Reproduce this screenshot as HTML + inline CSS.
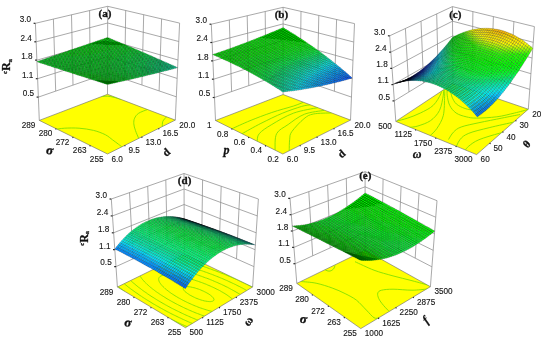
<!DOCTYPE html>
<html><head><meta charset="utf-8"><style>
html,body{margin:0;padding:0;background:#fff;}
svg{display:block}
.g{stroke:#8c8c8c;stroke-width:.75;fill:none}
.k{stroke:#2a2a2a;stroke-width:1.2;fill:none}
.fl{fill:#ffff00;stroke:#666;stroke-width:.6}
.ct{stroke:#80e000;stroke-width:.9;fill:none}
.t{font-family:"Liberation Sans",Arial,sans-serif;font-size:8.2px;fill:#151515;stroke:#151515;stroke-width:.12px}
.ti{font-family:"Liberation Serif","Times New Roman",serif;font-weight:bold;fill:#111;stroke:#111;stroke-width:.3px}
.sf{stroke:#000;stroke-opacity:1;stroke-linejoin:round}
</style></head><body>
<svg width="550" height="342" viewBox="0 0 550 342">
<rect width="550" height="342" fill="#fff"/>
<g>
<path class="g" d="M38.4 97.1L107.5 73.2"/>
<path class="g" d="M107.5 73.2L176.3 96.8"/>
<path class="g" d="M37.6 78.7L107.6 56.5"/>
<path class="g" d="M107.6 56.5L177.1 78.4"/>
<path class="g" d="M36.9 60.2L107.6 39.7"/>
<path class="g" d="M107.6 39.7L178 60"/>
<path class="g" d="M36.1 41.8L107.7 23"/>
<path class="g" d="M107.7 23L178.8 41.5"/>
<path class="g" d="M35.4 23.3L107.7 6.3"/>
<path class="g" d="M107.7 6.3L179.6 23.1"/>
<path class="g" d="M55.7 91.1L53.4 19.1"/>
<path class="g" d="M159.1 90.9L161.6 18.9"/>
<path class="g" d="M73 85.1L71.5 14.8"/>
<path class="g" d="M141.9 85L143.7 14.7"/>
<path class="g" d="M90.2 79.2L89.6 10.6"/>
<path class="g" d="M124.7 79.1L125.7 10.5"/>
<path class="g" d="M39.3 120.4L35.4 23.3"/>
<path class="g" d="M107.5 94.3L107.7 6.3"/>
<path class="g" d="M175.3 120.1L179.6 23.1"/>
<path class="k" d="M38.4 97.1L36.6 97.1"/>
<path class="k" d="M37.6 78.7L35.8 78.7"/>
<path class="k" d="M36.9 60.2L35.1 60.2"/>
<path class="k" d="M36.1 41.8L34.3 41.8"/>
<path class="k" d="M35.4 23.3L33.6 23.3"/>
<path class="fl" d="M39.3 120.4L107.5 94.3L175.3 120.1L107.5 154Z"/>
<clipPath id="fa"><path class="" d="M39.3 120.4L107.5 94.3L175.3 120.1L107.5 154Z"/></clipPath>
<g clip-path="url(#fa)"><path class="ct" d="M55 129.5C56.6 129.3 60.5 128.4 64.5 128.2C68.5 128 74.2 127.8 79.1 128.2C83.9 128.6 89.2 129.3 93.6 130.4C98 131.5 102.1 133.1 105.3 134.7C108.5 136.3 110.3 138.2 112.5 139.8C114.7 141.4 116.8 143 118.4 144.2C120 145.4 121.4 146.4 122 146.8M147.5 109.5C146 110.1 140.8 111.8 138.6 113.3C136.4 114.8 135.4 116.5 134.6 118.2C133.8 120 133.7 121.8 133.8 123.8C133.9 125.8 134.6 127.8 135.4 130.3C136.2 132.8 138.2 137.2 138.8 138.6M166.5 116.8C165.9 117.6 163.5 119.7 162.8 121.4C162.1 123.1 162.4 126.1 162.3 127M101.5 96.6C102.5 96.5 105.4 96.1 107.5 96.2C109.6 96.3 111.8 96.8 114 97.3C116.2 97.8 119.8 99.1 121 99.5"/></g>
<path class="k" d="M90.5 145.6L89.5 146"/>
<path class="k" d="M124.5 145.5L125.4 146"/>
<path class="k" d="M73.4 137.2L72.4 137.6"/>
<path class="k" d="M141.4 137.1L142.4 137.5"/>
<path class="k" d="M56.3 128.8L55.4 129.2"/>
<path class="k" d="M158.4 128.6L159.3 129"/>
<g class="sf" stroke-width="2.2" transform="scale(.1)"><path fill="#0f0" d="M1076 388l18-6-18-7-17 6zM1094 395l17-5-17-8-18 6zM1058 394l18-6-17-7-18 6z"/><path fill="#0f1" d="M1111 403l18-6-18-7-17 5z"/><path fill="#0f0" d="M1076 401l18-6-18-7-18 6zM1041 400l17-6-17-7-18 6z"/><path fill="#0f1" d="M1129 410l18-6-18-7-18 6zM1094 409l17-6-17-8-18 6z"/><path fill="#0f0" d="M1023 406l18-6-18-7-18 6zM1058 407l18-6-18-7-17 6z"/><path fill="#0f1" d="M1147 417l17-5-17-8-18 6zM1111 416l18-6-18-7-17 6z"/><path fill="#0f0" d="M1005 412l18-6-18-7-17 6z"/><path fill="#0f1" d="M1076 415l18-6-18-8-18 6zM1041 413l17-6-17-7-18 6zM1164 425l18-6-18-7-17 5zM1129 423l18-6-18-7-18 6zM988 418l17-6-17-7-18 6zM1094 422l17-6-17-7-18 6zM1023 419l18-6-18-7-18 6zM1058 420l18-5-18-8-17 6zM1182 432l17-6-17-7-18 6zM1146 431l18-6-17-8-18 6zM970 424l18-6-18-7-18 6zM1111 429l18-6-18-7-17 6zM1005 425l18-6-18-7-17 6zM1076 428l18-6-18-7-18 5zM1041 426l17-6-17-7-18 6zM1199 439l18-5-18-8-17 6zM1164 438l18-6-18-7-18 6zM952 430l18-6-18-7-17 6zM1129 436l17-5-17-8-18 6zM988 431l17-6-17-7-18 6zM1093 435l18-6-17-7-18 6zM1023 432l18-6-18-7-18 6zM1058 434l18-6-18-8-17 6zM1217 447l18-6-18-7-18 5zM1182 445l17-6-17-7-18 6zM935 436l17-6-17-7-18 6zM1146 444l18-6-18-7-17 5zM970 437l18-6-18-7-18 6zM1111 442l18-6-18-7-18 6zM1005 438l18-6-18-7-17 6zM1076 441l17-6-17-7-18 6zM1040 439l18-5-17-8-18 6zM1234 454l18-6-17-7-18 6zM1199 452l18-5-18-8-17 6zM917 442l18-6-18-7-18 6zM1164 451l18-6-18-7-18 6zM952 443l18-6-18-7-17 6zM1129 449l17-5-17-8-18 6zM987 444l18-6-17-7-18 6zM1093 448l18-6-18-7-17 6zM1023 445l17-6-17-7-18 6zM1058 447l18-6-18-7-18 5zM1252 462l18-6-18-8-18 6zM1217 460l17-6-17-7-18 5zM899 448l18-6-18-7-18 6zM1181 458l18-6-17-7-18 6zM934 449l18-6-17-7-18 6zM1146 457l18-6-18-7-17 5zM970 450l17-6-17-7-18 6zM1111 455l18-6-18-7-18 6zM1005 451l18-6-18-7-18 6zM1076 454l17-6-17-7-18 6zM1040 452l18-5-18-8-17 6z"/><path fill="#0f2" d="M1270 469l17-6-17-7-18 6z"/><path fill="#0f1" d="M1234 467l18-5-18-8-17 6zM881 454l18-6-18-7-17 6zM1199 465l18-5-18-8-18 6zM917 455l17-6-17-7-18 6zM1164 464l17-6-17-7-18 6zM952 456l18-6-18-7-18 6zM1129 462l17-5-17-8-18 6zM987 457l18-6-18-7-17 6zM1093 461l18-6-18-7-17 6zM1023 458l17-6-17-7-18 6zM1058 460l18-6-18-7-18 5z"/><path fill="#0f2" d="M1287 476l18-5-18-8-17 6zM1252 474l18-5-18-7-18 5z"/><path fill="#0f1" d="M864 460l17-6-17-7-18 6zM1217 473l17-6-17-7-18 5zM899 461l18-6-18-7-18 6zM1181 471l18-6-18-7-17 6zM934 462l18-6-18-7-17 6zM1146 470l18-6-18-7-17 5zM970 463l17-6-17-7-18 6zM1111 468l18-6-18-7-18 6zM1005 464l18-6-18-7-18 6zM1076 467l17-6-17-7-18 6zM1040 465l18-5-18-8-17 6z"/><path fill="#0f2" d="M1305 484l17-6-17-7-18 5zM1269 482l18-6-17-7-18 5z"/><path fill="#0f1" d="M846 466l18-6-18-7-18 6z"/><path fill="#0f2" d="M1234 480l18-6-18-7-17 6z"/><path fill="#0f1" d="M881 467l18-6-18-7-17 6zM1199 478l18-5-18-8-18 6zM917 468l17-6-17-7-18 6zM1164 477l17-6-17-7-18 6zM952 469l18-6-18-7-18 6zM1128 475l18-5-17-8-18 6zM987 470l18-6-18-7-17 6zM1093 474l18-6-18-7-17 6zM1023 471l17-6-17-7-18 6zM1058 472l18-5-18-7-18 5z"/><path fill="#0f2" d="M1322 491l18-5-18-8-17 6zM1287 489l18-5-18-8-18 6z"/><path fill="#0f1" d="M828 472l18-6-18-7-17 6z"/><path fill="#0f2" d="M1252 487l17-5-17-8-18 6z"/><path fill="#0f1" d="M864 473l17-6-17-7-18 6z"/><path fill="#0f2" d="M1217 486l17-6-17-7-18 5z"/><path fill="#0f1" d="M899 474l18-6-18-7-18 6zM1181 484l18-6-18-7-17 6zM934 475l18-6-18-7-17 6zM1146 482l18-5-18-7-18 5zM970 476l17-6-17-7-18 6zM1111 481l17-6-17-7-18 6zM1005 477l18-6-18-7-18 6zM1076 480l17-6-17-7-18 5zM1040 478l18-6-18-7-17 6z"/><path fill="#0f2" d="M1340 499l17-6-17-7-18 5zM1304 497l18-6-17-7-18 5z"/><path fill="#0f1" d="M811 478l17-6-17-7-18 6z"/><path fill="#0f2" d="M1269 495l18-6-18-7-17 5z"/><path fill="#0f1" d="M846 479l18-6-18-7-18 6z"/><path fill="#0f2" d="M1234 493l18-6-18-7-17 6z"/><path fill="#0f1" d="M881 480l18-6-18-7-17 6z"/><path fill="#0f2" d="M1199 491l18-5-18-8-18 6z"/><path fill="#0f1" d="M917 481l17-6-17-7-18 6zM1164 490l17-6-17-7-18 5zM952 482l18-6-18-7-18 6zM1128 488l18-6-18-7-17 6zM987 483l18-6-18-7-17 6zM1093 487l18-6-18-7-17 6zM1023 484l17-6-17-7-18 6zM1058 485l18-5-18-8-18 6z"/><path fill="#0f3" d="M1357 506l18-5-18-8-17 6z"/><path fill="#0f2" d="M1322 504l18-5-18-8-18 6z"/><path fill="#0f1" d="M793 484l18-6-18-7-18 6z"/><path fill="#0f2" d="M1287 502l17-5-17-8-18 6z"/><path fill="#0f1" d="M828 485l18-6-18-7-17 6z"/><path fill="#0f2" d="M1252 500l17-5-17-8-18 6z"/><path fill="#0f1" d="M864 486l17-6-17-7-18 6z"/><path fill="#0f2" d="M1216 499l18-6-17-7-18 5z"/><path fill="#0f1" d="M899 486l18-5-18-7-18 6z"/><path fill="#0f2" d="M1181 497l18-6-18-7-17 6z"/><path fill="#0f1" d="M934 487l18-5-18-7-17 6zM1146 495l18-5-18-8-18 6zM970 489l17-6-17-7-18 6zM1111 494l17-6-17-7-18 6zM1005 490l18-6-18-7-18 6zM1075 492l18-5-17-7-18 5zM1040 491l18-6-18-7-17 6z"/><path fill="#0f3" d="M1375 514l17-6-17-7-18 5zM1340 511l17-5-17-7-18 5z"/><path fill="#0f1" d="M775 490l18-6-18-7-17 6z"/><path fill="#0f2" d="M1304 510l18-6-18-7-17 5z"/><path fill="#0f1" d="M811 491l17-6-17-7-18 6z"/><path fill="#0f2" d="M1269 508l18-6-18-7-17 5z"/><path fill="#0f1" d="M846 491l18-5-18-7-18 6z"/><path fill="#0f2" d="M1234 506l18-6-18-7-18 6z"/><path fill="#0f1" d="M881 492l18-6-18-6-17 6z"/><path fill="#0f2" d="M1199 504l17-5-17-8-18 6z"/><path fill="#0f1" d="M917 493l17-6-17-6-18 5z"/><path fill="#0f2" d="M1164 502l17-5-17-7-18 5z"/><path fill="#0f1" d="M952 494l18-5-18-7-18 5zM1128 501l18-6-18-7-17 6zM987 495l18-5-18-7-17 6zM1093 499l18-5-18-7-18 5zM1022 497l18-6-17-7-18 6zM1058 498l17-6-17-7-18 6z"/><path fill="#0f3" d="M1392 521l18-5-18-8-17 6zM1357 519l18-5-18-8-17 5z"/><path fill="#0f1" d="M758 496l17-6-17-7-18 6z"/><path fill="#0f3" d="M1322 517l18-6-18-7-18 6z"/><path fill="#0f1" d="M793 497l18-6-18-7-18 6z"/><path fill="#0f2" d="M1287 515l17-5-17-8-18 6z"/><path fill="#0f1" d="M828 497l18-6-18-6-17 6z"/><path fill="#0f2" d="M1252 513l17-5-17-8-18 6z"/><path fill="#0f1" d="M864 498l17-6-17-6-18 5z"/><path fill="#0f2" d="M1216 511l18-5-18-7-17 5z"/><path fill="#0f1" d="M899 499l18-6-18-7-18 6z"/><path fill="#0f2" d="M1181 510l18-6-18-7-17 5z"/><path fill="#0f1" d="M934 500l18-6-18-7-17 6z"/><path fill="#0f2" d="M1146 508l18-6-18-7-18 6z"/><path fill="#0f1" d="M970 501l17-6-17-6-18 5z"/><path fill="#0f2" d="M1111 506l17-5-17-7-18 5z"/><path fill="#0f1" d="M1005 502l17-5-17-7-18 5zM1075 505l18-6-18-7-17 6zM1040 504l18-6-18-7-18 6z"/><path fill="#0f4" d="M1410 529l17-6-17-7-18 5z"/><path fill="#0f3" d="M1375 526l17-5-17-7-18 5z"/><path fill="#0f1" d="M740 502l18-6-18-7-18 6z"/><path fill="#0f3" d="M1339 524l18-5-17-8-18 6z"/><path fill="#0f1" d="M775 503l18-6-18-7-17 6z"/><path fill="#0f3" d="M1304 522l18-5-18-7-17 5z"/><path fill="#0f1" d="M811 503l17-6-17-6-18 6z"/><path fill="#0f2" d="M1269 520l18-5-18-7-17 5z"/><path fill="#0f1" d="M846 504l18-6-18-7-18 6z"/><path fill="#0f2" d="M1234 519l18-6-18-7-18 5z"/><path fill="#0f1" d="M881 505l18-6-18-7-17 6z"/><path fill="#0f2" d="M1199 517l17-6-17-7-18 6z"/><path fill="#0f1" d="M917 506l17-6-17-7-18 6z"/><path fill="#0f2" d="M1163 515l18-5-17-8-18 6z"/><path fill="#0f1" d="M952 507l18-6-18-7-18 6z"/><path fill="#0f2" d="M1128 514l18-6-18-7-17 5z"/><path fill="#0f1" d="M987 508l18-6-18-7-17 6z"/><path fill="#0f2" d="M1093 512l18-6-18-7-18 6z"/><path fill="#0f1" d="M1022 509l18-5-18-7-17 5zM1058 511l17-6-17-7-18 6z"/><path fill="#0f4" d="M1427 536l18-5-18-8-17 6zM1392 534l18-5-18-8-17 5z"/><path fill="#0f1" d="M722 508l18-6-18-7-17 6z"/><path fill="#0f3" d="M1357 532l18-6-18-7-18 5z"/><path fill="#0f1" d="M758 509l17-6-17-7-18 6z"/><path fill="#0f3" d="M1322 530l17-6-17-7-18 5z"/><path fill="#0f1" d="M793 509l18-6-18-6-18 6z"/><path fill="#0f3" d="M1287 528l17-6-17-7-18 5z"/><path fill="#0f1" d="M828 510l18-6-18-7-17 6z"/><path fill="#0f2" d="M1251 526l18-6-17-7-18 6z"/><path fill="#0f1" d="M864 511l17-6-17-7-18 6z"/><path fill="#0f2" d="M1216 524l18-5-18-8-17 6z"/><path fill="#0f1" d="M899 512l18-6-18-7-18 6z"/><path fill="#0f2" d="M1181 522l18-5-18-7-18 5z"/><path fill="#0f1" d="M934 513l18-6-18-7-17 6z"/><path fill="#0f2" d="M1146 521l17-6-17-7-18 6z"/><path fill="#0f1" d="M969 514l18-6-17-7-18 6z"/><path fill="#0f2" d="M1111 519l17-5-17-8-18 6z"/><path fill="#0f1" d="M1005 515l17-6-17-7-18 6z"/><path fill="#0f2" d="M1075 518l18-6-18-7-17 6z"/><path fill="#0f1" d="M1040 516l18-5-18-7-18 5z"/><path fill="#0f4" d="M1445 544l17-6-17-7-18 5zM1410 541l17-5-17-7-18 5z"/><path fill="#0f1" d="M705 514l17-6-17-7-18 6z"/><path fill="#0f3" d="M1375 539l17-5-17-8-18 6z"/><path fill="#0f1" d="M740 515l18-6-18-7-18 6z"/><path fill="#0f3" d="M1339 537l18-5-18-8-17 6z"/><path fill="#0f1" d="M775 515l18-6-18-6-17 6z"/><path fill="#0f3" d="M1304 535l18-5-18-8-17 6z"/><path fill="#0f1" d="M811 516l17-6-17-7-18 6z"/><path fill="#0f3" d="M1269 533l18-5-18-8-18 6z"/><path fill="#0f1" d="M846 517l18-6-18-7-18 6z"/><path fill="#0f2" d="M1234 531l17-5-17-7-18 5z"/><path fill="#0f1" d="M881 518l18-6-18-7-17 6z"/><path fill="#0f2" d="M1199 530l17-6-17-7-18 5z"/><path fill="#0f1" d="M916 519l18-6-17-7-18 6z"/><path fill="#0f2" d="M1163 528l18-6-18-7-17 6z"/><path fill="#0f1" d="M952 520l17-6-17-7-18 6z"/><path fill="#0f2" d="M1128 526l18-5-18-7-17 5z"/><path fill="#0f1" d="M987 521l18-6-18-7-18 6z"/><path fill="#0f2" d="M1093 525l18-6-18-7-18 6z"/><path fill="#0f1" d="M1022 522l18-6-18-7-17 6z"/><path fill="#0f2" d="M1058 523l17-5-17-7-18 5z"/><path fill="#0f4" d="M1462 551l18-5-18-8-17 6zM1427 549l18-5-18-8-17 5z"/><path fill="#0f1" d="M687 520l18-6-18-7-18 7z"/><path fill="#0f4" d="M1392 547l18-6-18-7-17 5z"/><path fill="#0f1" d="M722 521l18-6-18-7-17 6z"/><path fill="#0f3" d="M1357 544l18-5-18-7-18 5z"/><path fill="#0f1" d="M758 521l17-6-17-6-18 6z"/><path fill="#0f3" d="M1322 542l17-5-17-7-18 5z"/><path fill="#0f1" d="M793 522l18-6-18-7-18 6z"/><path fill="#0f3" d="M1287 540l17-5-17-7-18 5z"/><path fill="#0f1" d="M828 523l18-6-18-7-17 6z"/><path fill="#0f2" d="M1251 539l18-6-18-7-17 5z"/><path fill="#0f1" d="M864 523l17-5-17-7-18 6z"/><path fill="#0f2" d="M1216 537l18-6-18-7-17 6z"/><path fill="#0f1" d="M899 524l17-5-17-7-18 6z"/><path fill="#0f2" d="M1181 535l18-5-18-8-18 6z"/><path fill="#0f1" d="M934 525l18-5-18-7-18 6z"/><path fill="#0f2" d="M1146 533l17-5-17-7-18 5z"/><path fill="#0f5" d="M1480 559l17-6-17-7-18 5z"/><path fill="#0f1" d="M969 526l18-5-18-7-17 6z"/><path fill="#0f2" d="M1111 532l17-6-17-7-18 6z"/><path fill="#0f1" d="M1005 528l17-6-17-7-18 6z"/><path fill="#0f2" d="M1075 530l18-5-18-7-17 5zM1040 529l18-6-18-7-18 6z"/><path fill="#0f4" d="M1445 556l17-5-17-7-18 5z"/><path fill="#0f1" d="M669 526l18-6-18-6-17 6z"/><path fill="#0f4" d="M1410 554l17-5-17-8-18 6z"/><path fill="#0f1" d="M705 527l17-6-17-7-18 6z"/><path fill="#0f4" d="M1374 552l18-5-17-8-18 5z"/><path fill="#0f1" d="M740 527l18-6-18-6-18 6z"/><path fill="#0f3" d="M1339 550l18-6-18-7-17 5z"/><path fill="#0f1" d="M775 528l18-6-18-7-17 6z"/><path fill="#0f3" d="M1304 548l18-6-18-7-17 5z"/><path fill="#0f1" d="M811 528l17-5-17-7-18 6z"/><path fill="#0f3" d="M1269 546l18-6-18-7-18 6z"/><path fill="#0f1" d="M846 529l18-6-18-6-18 6z"/><path fill="#0f2" d="M1234 544l17-5-17-8-18 6z"/><path fill="#0f1" d="M881 530l18-6-18-6-17 5z"/><path fill="#0f2" d="M1199 542l17-5-17-7-18 5z"/><path fill="#0f5" d="M1497 566l18-5-18-8-17 6z"/><path fill="#0f1" d="M916 531l18-6-18-6-17 5z"/><path fill="#0f2" d="M1163 540l18-5-18-7-17 5z"/><path fill="#0f1" d="M952 532l17-6-17-6-18 5z"/><path fill="#0f2" d="M1128 539l18-6-18-7-17 6z"/><path fill="#0f1" d="M987 533l18-5-18-7-18 5z"/><path fill="#0f2" d="M1093 537l18-5-18-7-18 5zM1022 535l18-6-18-7-17 6zM1058 536l17-6-17-7-18 6z"/><path fill="#0f5" d="M1462 564l18-5-18-8-17 5z"/><path fill="#0f1" d="M652 532l17-6-17-6-18 6z"/><path fill="#0f4" d="M1427 561l18-5-18-7-17 5z"/><path fill="#0f1" d="M687 533l18-6-18-7-18 6z"/><path fill="#0f4" d="M1392 559l18-5-18-7-18 5z"/><path fill="#0f1" d="M722 533l18-6-18-6-17 6z"/><path fill="#0f4" d="M1357 557l17-5-17-8-18 6z"/><path fill="#0f1" d="M758 534l17-6-17-7-18 6z"/><path fill="#0f3" d="M1322 555l17-5-17-8-18 6z"/><path fill="#0f1" d="M793 534l18-6-18-6-18 6z"/><path fill="#0f3" d="M1287 553l17-5-17-8-18 6z"/><path fill="#0f1" d="M828 535l18-6-18-6-17 5z"/><path fill="#0f3" d="M1251 551l18-5-18-7-17 5z"/><path fill="#0e5" d="M1515 574l17-5-17-8-18 5z"/><path fill="#0f1" d="M863 536l18-6-17-7-18 6z"/><path fill="#0f2" d="M1216 549l18-5-18-7-17 5z"/><path fill="#0f1" d="M899 537l17-6-17-7-18 6z"/><path fill="#0f2" d="M1181 548l18-6-18-7-18 5z"/><path fill="#0f1" d="M934 538l18-6-18-7-18 6z"/><path fill="#0f2" d="M1146 546l17-6-17-7-18 6z"/><path fill="#0f1" d="M969 539l18-6-18-7-17 6z"/><path fill="#0f5" d="M1480 571l17-5-17-7-18 5z"/><path fill="#0f2" d="M1110 544l18-5-17-7-18 5zM1005 540l17-5-17-7-18 5zM1075 543l18-6-18-7-17 6zM1040 541l18-5-18-7-18 6z"/><path fill="#0f1" d="M634 538l18-6-18-6-18 6z"/><path fill="#0f5" d="M1445 569l17-5-17-8-18 5z"/><path fill="#0f1" d="M669 538l18-5-18-7-17 6z"/><path fill="#0f4" d="M1409 567l18-6-17-7-18 5z"/><path fill="#0f1" d="M705 539l17-6-17-6-18 6z"/><path fill="#0f4" d="M1374 564l18-5-18-7-17 5z"/><path fill="#0f1" d="M740 539l18-5-18-7-18 6z"/><path fill="#0f3" d="M1339 562l18-5-18-7-17 5z"/><path fill="#0f1" d="M775 540l18-6-18-6-17 6z"/><path fill="#0f3" d="M1304 560l18-5-18-7-17 5z"/><path fill="#0f1" d="M810 541l18-6-17-7-18 6z"/><path fill="#0e6" d="M1532 581l18-5-18-7-17 5z"/><path fill="#0f3" d="M1269 558l18-5-18-7-18 5z"/><path fill="#0f1" d="M846 542l17-6-17-7-18 6z"/><path fill="#0f3" d="M1234 556l17-5-17-7-18 5z"/><path fill="#0f1" d="M881 543l18-6-18-7-18 6z"/><path fill="#0f2" d="M1199 555l17-6-17-7-18 6z"/><path fill="#0f5" d="M1497 579l18-5-18-8-17 5z"/><path fill="#0f1" d="M916 544l18-6-18-7-17 6z"/><path fill="#0f2" d="M1163 553l18-5-18-8-17 6zM952 545l17-6-17-7-18 6zM1128 551l18-5-18-7-18 5z"/><path fill="#0f1" d="M616 544l18-6-18-6-17 6z"/><path fill="#0f2" d="M987 546l18-6-18-7-18 6zM1093 550l17-6-17-7-18 6zM1022 547l18-6-18-6-17 5zM1058 548l17-5-17-7-18 5z"/><path fill="#0f5" d="M1462 576l18-5-18-7-17 5z"/><path fill="#0f1" d="M652 544l17-6-17-6-18 6z"/><path fill="#0f4" d="M1427 574l18-5-18-8-18 6z"/><path fill="#0f1" d="M687 545l18-6-18-6-18 5z"/><path fill="#0f4" d="M1392 572l17-5-17-8-18 5z"/><path fill="#0f1" d="M722 545l18-6-18-6-17 6z"/><path fill="#0f4" d="M1357 570l17-6-17-7-18 5z"/><path fill="#0f1" d="M758 546l17-6-17-6-18 5z"/><path fill="#0f3" d="M1322 568l17-6-17-7-18 5z"/><path fill="#0e6" d="M1550 589l17-5-17-8-18 5z"/><path fill="#0f1" d="M793 547l17-6-17-7-18 6z"/><path fill="#0f3" d="M1286 566l18-6-17-7-18 5z"/><path fill="#0f1" d="M828 547l18-5-18-7-18 6z"/><path fill="#0f3" d="M1251 564l18-6-18-7-17 5z"/><path fill="#0e5" d="M1515 586l17-5-17-7-18 5z"/><path fill="#0f1" d="M863 548l18-5-18-7-17 6z"/><path fill="#0f3" d="M1216 562l18-6-18-7-17 6z"/><path fill="#0f1" d="M899 549l17-5-17-7-18 6zM599 550l17-6-17-6-18 6z"/><path fill="#0f2" d="M1181 560l18-5-18-7-18 5zM934 550l18-5-18-7-18 6zM1146 558l17-5-17-7-18 5zM969 551l18-5-18-7-17 6z"/><path fill="#0f5" d="M1480 584l17-5-17-8-18 5z"/><path fill="#0f2" d="M1110 557l18-6-18-7-17 6zM1005 553l17-6-17-7-18 6zM1075 555l18-5-18-7-17 5zM1040 554l18-6-18-7-18 6z"/><path fill="#0f1" d="M634 550l18-6-18-6-18 6z"/><path fill="#0f5" d="M1444 582l18-6-17-7-18 5z"/><path fill="#0f1" d="M669 551l18-6-18-7-17 6z"/><path fill="#0f4" d="M1409 579l18-5-18-7-17 5z"/><path fill="#0f1" d="M705 551l17-6-17-6-18 6z"/><path fill="#0f4" d="M1374 577l18-5-18-8-17 6z"/><path fill="#0f1" d="M740 552l18-6-18-7-18 6z"/><path fill="#0e6" d="M1567 597l18-5-18-8-17 5z"/><path fill="#0f4" d="M1339 575l18-5-18-8-17 6z"/><path fill="#0f1" d="M775 553l18-6-18-7-17 6z"/><path fill="#0f3" d="M1304 573l18-5-18-8-18 6z"/><path fill="#0f1" d="M810 553l18-6-18-6-17 6z"/><path fill="#0e6" d="M1532 594l18-5-18-8-17 5z"/><path fill="#0f3" d="M1269 571l17-5-17-8-18 6z"/><path fill="#0f1" d="M846 554l17-6-17-6-18 5z"/><path fill="#0f3" d="M1234 569l17-5-17-8-18 6z"/><path fill="#0f2" d="M581 556l18-6-18-6-18 6z"/><path fill="#0f1" d="M881 555l18-6-18-6-18 5z"/><path fill="#0f3" d="M1198 567l18-5-17-7-18 5z"/><path fill="#0e5" d="M1497 591l18-5-18-7-17 5z"/><path fill="#0f2" d="M916 556l18-6-18-6-17 5zM1163 565l18-5-18-7-17 5zM952 557l17-6-17-6-18 5zM1128 564l18-6-18-7-18 6zM987 558l18-5-18-7-18 5zM616 556l18-6-18-6-17 6zM1093 562l17-5-17-7-18 5zM1022 559l18-5-18-7-17 6zM1057 561l18-6-17-7-18 6z"/><path fill="#0f5" d="M1462 589l18-5-18-8-18 6z"/><path fill="#0f1" d="M652 557l17-6-17-7-18 6z"/><path fill="#0f5" d="M1427 587l17-5-17-8-18 5z"/><path fill="#0f1" d="M687 557l18-6-18-6-18 6z"/><path fill="#0f4" d="M1392 584l17-5-17-7-18 5z"/><path fill="#0e7" d="M1585 604l17-5-17-7-18 5z"/><path fill="#0f1" d="M722 558l18-6-18-7-17 6z"/><path fill="#0f4" d="M1357 582l17-5-17-7-18 5z"/><path fill="#0f1" d="M757 558l18-5-17-7-18 6z"/><path fill="#0f4" d="M1322 580l17-5-17-7-18 5z"/><path fill="#0e6" d="M1550 602l17-5-17-8-18 5z"/><path fill="#0f1" d="M793 559l17-6-17-6-18 6z"/><path fill="#0f3" d="M1286 578l18-5-18-7-17 5z"/><path fill="#0f2" d="M563 562l18-6-18-6-17 6z"/><path fill="#0f1" d="M828 560l18-6-18-7-18 6z"/><path fill="#0f3" d="M1251 576l18-5-18-7-17 5z"/><path fill="#0e6" d="M1515 599l17-5-17-8-18 5z"/><path fill="#0f2" d="M863 561l18-6-18-7-17 6z"/><path fill="#0f3" d="M1216 574l18-5-18-7-18 5z"/><path fill="#0f2" d="M899 562l17-6-17-7-18 6zM599 562l17-6-17-6-18 6zM1181 572l17-5-17-7-18 5zM934 563l18-6-18-7-18 6zM1146 571l17-6-17-7-18 6zM969 564l18-6-18-7-17 6zM1110 569l18-5-18-7-17 5z"/><path fill="#0f5" d="M1479 596l18-5-17-7-18 5z"/><path fill="#0f2" d="M1005 565l17-6-17-6-18 5zM1075 568l18-6-18-7-18 6zM1040 566l17-5-17-7-18 5zM634 563l18-6-18-7-18 6z"/><path fill="#0f5" d="M1444 594l18-5-18-7-17 5z"/><path fill="#0f2" d="M669 563l18-6-18-6-17 6z"/><path fill="#0f4" d="M1409 592l18-5-18-8-17 5z"/><path fill="#0e7" d="M1602 612l18-5-18-8-17 5z"/><path fill="#0f1" d="M705 564l17-6-17-7-18 6z"/><path fill="#0f4" d="M1374 589l18-5-18-7-17 5z"/><path fill="#0f1" d="M740 564l17-6-17-6-18 6z"/><path fill="#0e6" d="M1567 609l18-5-18-7-17 5z"/><path fill="#0f4" d="M1339 587l18-5-18-7-17 5z"/><path fill="#0f1" d="M775 565l18-6-18-6-18 5z"/><path fill="#0f2" d="M546 568l17-6-17-6-18 6z"/><path fill="#0f3" d="M1304 585l18-5-18-7-18 5z"/><path fill="#0f2" d="M810 566l18-6-18-7-17 6z"/><path fill="#0e6" d="M1532 606l18-4-18-8-17 5z"/><path fill="#0f3" d="M1269 583l17-5-17-7-18 5z"/><path fill="#0f2" d="M846 566l17-5-17-7-18 6z"/><path fill="#0f3" d="M1234 581l17-5-17-7-18 5z"/><path fill="#0f2" d="M581 568l18-6-18-6-18 6zM881 567l18-5-18-7-18 6z"/><path fill="#0f3" d="M1198 580l18-6-18-7-17 5z"/><path fill="#0e5" d="M1497 604l18-5-18-8-18 5z"/><path fill="#0f2" d="M916 568l18-5-18-7-17 6zM1163 578l18-6-18-7-17 6zM952 569l17-5-17-7-18 6zM1128 576l18-5-18-7-18 5zM987 571l18-6-18-7-18 6zM1093 575l17-6-17-7-18 6zM616 569l18-6-18-7-17 6zM1022 572l18-6-18-7-17 6zM1057 573l18-5-18-7-17 5z"/><path fill="#0f5" d="M1462 601l17-5-17-7-18 5z"/><path fill="#0f2" d="M652 569l17-6-17-6-18 6z"/><path fill="#0f5" d="M1427 599l17-5-17-7-18 5z"/><path fill="#0e7" d="M1619 619l18-4-17-8-18 5z"/><path fill="#0f2" d="M687 569l18-5-18-7-18 6z"/><path fill="#0f4" d="M1392 597l17-5-17-8-18 5z"/><path fill="#0f2" d="M722 570l18-6-18-6-17 6z"/><path fill="#0e7" d="M1584 617l18-5-17-8-18 5z"/><path fill="#0f4" d="M1357 595l17-6-17-7-18 5z"/><path fill="#0f2" d="M528 574l18-6-18-6-18 6zM757 571l18-6-18-7-17 6z"/><path fill="#0f4" d="M1321 592l18-5-17-7-18 5z"/><path fill="#0e6" d="M1549 614l18-5-17-7-18 4z"/><path fill="#0f2" d="M793 571l17-5-17-7-18 6z"/><path fill="#0f3" d="M1286 590l18-5-18-7-17 5z"/><path fill="#0f2" d="M563 574l18-6-18-6-17 6zM828 572l18-6-18-6-18 6z"/><path fill="#0f3" d="M1251 588l18-5-18-7-17 5z"/><path fill="#0f2" d="M863 573l18-6-18-6-17 5z"/><path fill="#0e6" d="M1514 611l18-5-17-7-18 5z"/><path fill="#0f3" d="M1216 587l18-6-18-7-18 6z"/><path fill="#0f2" d="M899 574l17-6-17-6-18 5z"/><path fill="#0f3" d="M1181 585l17-5-17-8-18 6z"/><path fill="#0f2" d="M599 575l17-6-17-7-18 6zM934 575l18-6-18-6-18 5zM1146 583l17-5-17-7-18 5zM969 576l18-5-18-7-17 5zM1110 582l18-6-18-7-17 6z"/><path fill="#0e5" d="M1479 609l18-5-18-8-17 5z"/><path fill="#0f2" d="M1005 577l17-5-17-7-18 6zM1075 580l18-5-18-7-18 5zM1040 579l17-6-17-7-18 6zM634 575l18-6-18-6-18 6z"/><path fill="#0e8" d="M1637 627l17-5-17-7-18 4z"/><path fill="#0f5" d="M1444 606l18-5-18-7-17 5z"/><path fill="#0f2" d="M669 575l18-6-18-6-17 6z"/><path fill="#0f5" d="M1409 604l18-5-18-7-17 5z"/><path fill="#0e7" d="M1602 624l17-5-17-7-18 5z"/><path fill="#0f2" d="M704 576l18-6-17-6-18 5z"/><path fill="#0f4" d="M1374 602l18-5-18-8-17 6z"/><path fill="#0f2" d="M510 580l18-6-18-6-17 6zM740 576l17-5-17-7-18 6z"/><path fill="#0e7" d="M1567 622l17-5-17-8-18 5z"/><path fill="#0f4" d="M1339 600l18-5-18-8-18 5z"/><path fill="#0f2" d="M775 577l18-6-18-6-18 6zM546 580l17-6-17-6-18 6z"/><path fill="#0f4" d="M1304 598l17-6-17-7-18 5z"/><path fill="#0f2" d="M810 578l18-6-18-6-17 5z"/><path fill="#0e6" d="M1532 619l17-5-17-8-18 5z"/><path fill="#0f3" d="M1269 596l17-6-17-7-18 5z"/><path fill="#0f2" d="M846 579l17-6-17-7-18 6z"/><path fill="#0f3" d="M1234 594l17-6-17-7-18 6z"/><path fill="#0f2" d="M581 581l18-6-18-7-18 6zM881 579l18-5-18-7-18 6z"/><path fill="#0f3" d="M1198 592l18-5-18-7-17 5z"/><path fill="#0f2" d="M916 580l18-5-18-7-17 6z"/><path fill="#0e6" d="M1497 616l17-5-17-7-18 5z"/><path fill="#0f3" d="M1163 590l18-5-18-7-17 5z"/><path fill="#0f2" d="M952 582l17-6-17-7-18 6zM1128 588l18-5-18-7-18 6zM987 583l18-6-18-6-18 5zM1093 587l17-5-17-7-18 5zM1022 584l18-5-18-7-17 5zM616 581l18-6-18-6-17 6zM1057 585l18-5-18-7-17 6z"/><path fill="#0e8" d="M1654 635l18-5-18-8-17 5z"/><path fill="#0f5" d="M1462 614l17-5-17-8-18 5z"/><path fill="#0f2" d="M652 581l17-6-17-6-18 6z"/><path fill="#0f5" d="M1427 611l17-5-17-7-18 5z"/><path fill="#0e7" d="M1619 632l18-5-18-8-17 5z"/><path fill="#0f2" d="M687 582l17-6-17-7-18 6zM493 586l17-6-17-6-18 6z"/><path fill="#0f4" d="M1392 609l17-5-17-7-18 5z"/><path fill="#0f2" d="M722 582l18-6-18-6-18 6z"/><path fill="#0e7" d="M1584 629l18-5-18-7-17 5z"/><path fill="#0f4" d="M1357 607l17-5-17-7-18 5z"/><path fill="#0f2" d="M757 583l18-6-18-6-17 5zM528 586l18-6-18-6-18 6z"/><path fill="#0f4" d="M1321 605l18-5-18-8-17 6z"/><path fill="#0e6" d="M1549 626l18-4-18-8-17 5z"/><path fill="#0f2" d="M793 583l17-5-17-7-18 6z"/><path fill="#0f4" d="M1286 603l18-5-18-8-17 6z"/><path fill="#0f2" d="M828 584l18-5-18-7-18 6zM563 587l18-6-18-7-17 6z"/><path fill="#0f3" d="M1251 601l18-5-18-8-17 6z"/><path fill="#0f2" d="M863 585l18-6-18-6-17 6z"/><path fill="#0e6" d="M1514 624l18-5-18-8-17 5z"/><path fill="#0f3" d="M1216 599l18-5-18-7-18 5z"/><path fill="#0f2" d="M899 586l17-6-17-6-18 5z"/><path fill="#0e8" d="M1672 643l17-5-17-8-18 5z"/><path fill="#0f3" d="M1181 597l17-5-17-7-18 5z"/><path fill="#0f2" d="M599 587l17-6-17-6-18 6zM934 587l18-5-18-7-18 5zM1146 595l17-5-17-7-18 5zM969 588l18-5-18-7-17 6zM1110 594l18-6-18-6-17 5zM1005 590l17-6-17-7-18 6z"/><path fill="#0e5" d="M1479 621l18-5-18-7-17 5z"/><path fill="#0f2" d="M1075 592l18-5-18-7-18 5zM1040 591l17-6-17-6-18 5zM634 587l18-6-18-6-18 6z"/><path fill="#0e8" d="M1637 640l17-5-17-8-18 5z"/><path fill="#0f5" d="M1444 619l18-5-18-8-17 5z"/><path fill="#0f2" d="M669 587l18-5-18-7-17 6zM475 593l18-7-18-6-18 7z"/><path fill="#0f5" d="M1409 616l18-5-18-7-17 5z"/><path fill="#0e7" d="M1602 637l17-5-17-8-18 5z"/><path fill="#0f2" d="M704 588l18-6-18-6-17 6z"/><path fill="#0f4" d="M1374 614l18-5-18-7-17 5z"/><path fill="#0f2" d="M510 592l18-6-18-6-17 6zM740 588l17-5-17-7-18 6z"/><path fill="#0f4" d="M1339 612l18-5-18-7-18 5z"/><path fill="#0e7" d="M1567 634l17-5-17-7-18 4z"/><path fill="#0f2" d="M775 589l18-6-18-6-18 6z"/><path fill="#0f4" d="M1304 610l17-5-17-7-18 5z"/><path fill="#0f2" d="M546 593l17-6-17-7-18 6zM810 590l18-6-18-6-17 5z"/><path fill="#0f3" d="M1269 608l17-5-17-7-18 5z"/><path fill="#0e6" d="M1532 631l17-5-17-7-18 5z"/><path fill="#0f2" d="M846 591l17-6-17-6-18 5z"/><path fill="#0e9" d="M1689 650l18-4-18-8-17 5z"/><path fill="#0f3" d="M1234 606l17-5-17-7-18 5z"/><path fill="#0f2" d="M581 593l18-6-18-6-18 6zM881 592l18-6-18-7-18 6z"/><path fill="#0f3" d="M1198 604l18-5-18-7-17 5z"/><path fill="#0f2" d="M916 593l18-6-18-7-17 6z"/><path fill="#0e6" d="M1497 629l17-5-17-8-18 5z"/><path fill="#0f3" d="M1163 602l18-5-18-7-17 5z"/><path fill="#0f2" d="M952 594l17-6-17-6-18 5zM1128 601l18-6-18-7-18 6zM987 595l18-5-18-7-18 5zM1093 599l17-5-17-7-18 5zM1022 596l18-5-18-7-17 6zM1057 598l18-6-18-7-17 6zM616 593l18-6-18-6-17 6z"/><path fill="#0e8" d="M1654 647l18-4-18-8-17 5z"/><path fill="#0e5" d="M1462 626l17-5-17-7-18 5z"/><path fill="#0f2" d="M457 599l18-6-18-6-17 6zM651 593l18-6-17-6-18 6z"/><path fill="#0f5" d="M1427 624l17-5-17-8-18 5z"/><path fill="#0e8" d="M1619 644l18-4-18-8-17 5z"/><path fill="#0f2" d="M687 594l17-6-17-6-18 5zM493 599l17-7-17-6-18 7z"/><path fill="#0f5" d="M1392 621l17-5-17-7-18 5z"/><path fill="#0f2" d="M722 594l18-6-18-6-18 6z"/><path fill="#0e7" d="M1584 642l18-5-18-8-17 5z"/><path fill="#0f4" d="M1357 619l17-5-17-7-18 5z"/><path fill="#0f2" d="M757 595l18-6-18-6-17 5zM528 599l18-6-18-7-18 6z"/><path fill="#0f4" d="M1321 617l18-5-18-7-17 5z"/><path fill="#0e6" d="M1549 639l18-5-18-8-17 5z"/><path fill="#0f2" d="M793 596l17-6-17-7-18 6z"/><path fill="#0e9" d="M1707 658l17-5-17-7-18 4z"/><path fill="#0f4" d="M1286 615l18-5-18-7-17 5z"/><path fill="#0f2" d="M828 596l18-5-18-7-18 6zM563 599l18-6-18-6-17 6z"/><path fill="#0f3" d="M1251 613l18-5-18-7-17 5z"/><path fill="#0f2" d="M863 597l18-5-18-7-17 6z"/><path fill="#0e6" d="M1514 636l18-5-18-7-17 5z"/><path fill="#0f3" d="M1216 611l18-5-18-7-18 5z"/><path fill="#0f2" d="M899 598l17-5-17-7-18 6z"/><path fill="#0f3" d="M1181 609l17-5-17-7-18 5z"/><path fill="#0e8" d="M1672 655l17-5-17-7-18 4z"/><path fill="#0f2" d="M599 599l17-6-17-6-18 6zM934 599l18-5-18-7-18 6z"/><path fill="#0f3" d="M1145 608l18-6-17-7-18 6z"/><path fill="#0f2" d="M969 600l18-5-18-7-17 6zM1110 606l18-5-18-7-17 5zM1004 602l18-6-17-6-18 5zM1075 604l18-5-18-7-18 6zM1040 603l17-5-17-7-18 5z"/><path fill="#0e6" d="M1479 634l18-5-18-8-17 5z"/><path fill="#0f2" d="M440 605l17-6-17-6-18 6zM634 599l17-6-17-6-18 6z"/><path fill="#0e8" d="M1637 652l17-5-17-7-18 4z"/><path fill="#0f5" d="M1444 631l18-5-18-7-17 5z"/><path fill="#0f2" d="M669 599l18-5-18-7-18 6zM475 605l18-6-18-6-18 6z"/><path fill="#0f5" d="M1409 629l18-5-18-8-17 5z"/><path fill="#0e7" d="M1602 649l17-5-17-7-18 5z"/><path fill="#0f2" d="M704 600l18-6-18-6-17 6z"/><path fill="#0f4" d="M1374 626l18-5-18-7-17 5z"/><path fill="#0f2" d="M510 604l18-5-18-7-17 7zM740 601l17-6-17-7-18 6z"/><path fill="#0f4" d="M1339 624l18-5-18-7-18 5z"/><path fill="#0e9" d="M1724 666l17-5-17-8-17 5z"/><path fill="#0e7" d="M1567 646l17-4-17-8-18 5z"/><path fill="#0f2" d="M775 601l18-5-18-7-18 6z"/><path fill="#0f4" d="M1304 622l17-5-17-7-18 5z"/><path fill="#0f2" d="M546 605l17-6-17-6-18 6zM810 602l18-6-18-6-17 6z"/><path fill="#0f4" d="M1269 620l17-5-17-7-18 5z"/><path fill="#0e6" d="M1532 644l17-5-17-8-18 5z"/><path fill="#0f2" d="M846 603l17-6-17-6-18 5z"/><path fill="#0e9" d="M1689 663l18-5-18-8-17 5z"/><path fill="#0f3" d="M1233 618l18-5-17-7-18 5z"/><path fill="#0f2" d="M581 605l18-6-18-6-18 6zM881 604l18-6-18-6-18 5z"/><path fill="#0f3" d="M1198 616l18-5-18-7-17 5z"/><path fill="#0f2" d="M916 605l18-6-18-6-17 5z"/><path fill="#0e6" d="M1497 641l17-5-17-7-18 5z"/><path fill="#0f2" d="M422 611l18-6-18-6-18 6z"/><path fill="#0f3" d="M1163 614l18-5-18-7-18 6z"/><path fill="#0f2" d="M952 606l17-6-17-6-18 5z"/><path fill="#0f3" d="M1128 613l17-5-17-7-18 5z"/><path fill="#0f2" d="M987 607l17-5-17-7-18 5zM1093 611l17-5-17-7-18 5zM1022 608l18-5-18-7-18 6zM1057 610l18-6-18-6-17 5zM616 605l18-6-18-6-17 6z"/><path fill="#0e8" d="M1654 660l18-5-18-8-17 5z"/><path fill="#0e5" d="M1462 638l17-4-17-8-18 5z"/><path fill="#0f2" d="M457 611l18-6-18-6-17 6zM651 605l18-6-18-6-17 6z"/><path fill="#0f5" d="M1427 636l17-5-17-7-18 5z"/><path fill="#0e8" d="M1619 657l18-5-18-8-17 5z"/><path fill="#0f2" d="M687 606l17-6-17-6-18 5zM493 610l17-6-17-5-18 6z"/><path fill="#0f5" d="M1392 634l17-5-17-8-18 5z"/><path fill="#0ea" d="M1741 673l18-4-18-8-17 5z"/><path fill="#0f2" d="M722 606l18-5-18-7-18 6z"/><path fill="#0e7" d="M1584 654l18-5-18-7-17 4z"/><path fill="#0f4" d="M1357 631l17-5-17-7-18 5z"/><path fill="#0f2" d="M757 607l18-6-18-6-17 6zM528 610l18-5-18-6-18 5z"/><path fill="#0f4" d="M1321 629l18-5-18-7-17 5z"/><path fill="#0f2" d="M793 608l17-6-17-6-18 5z"/><path fill="#0e7" d="M1549 651l18-5-18-7-17 5z"/><path fill="#0e9" d="M1707 670l17-4-17-8-18 5z"/><path fill="#0f4" d="M1286 627l18-5-18-7-17 5z"/><path fill="#0f2" d="M828 608l18-5-18-7-18 6zM563 611l18-6-18-6-17 6z"/><path fill="#0f3" d="M1251 625l18-5-18-7-18 5z"/><path fill="#0f2" d="M404 617l18-6-18-6-17 6zM863 609l18-5-18-7-17 6z"/><path fill="#0e6" d="M1514 648l18-4-18-8-17 5z"/><path fill="#0f3" d="M1216 623l17-5-17-7-18 5z"/><path fill="#0f2" d="M899 610l17-5-17-7-18 6z"/><path fill="#0f3" d="M1181 621l17-5-17-7-18 5z"/><path fill="#0e9" d="M1672 667l17-4-17-8-18 5z"/><path fill="#0f2" d="M934 611l18-5-18-7-18 6zM599 611l17-6-17-6-18 6z"/><path fill="#0f3" d="M1145 620l18-6-18-6-17 5z"/><path fill="#0f2" d="M969 612l18-5-18-7-17 6zM1110 618l18-5-18-7-17 5zM1004 614l18-6-18-6-17 5zM1075 616l18-5-18-7-18 6zM1040 615l17-5-17-7-18 5z"/><path fill="#0e6" d="M1479 646l18-5-18-7-17 4z"/><path fill="#0f2" d="M440 617l17-6-17-6-18 6zM634 611l17-6-17-6-18 6z"/><path fill="#0e8" d="M1637 664l17-4-17-8-18 5z"/><path fill="#0f5" d="M1444 643l18-5-18-7-17 5z"/><path fill="#0f2" d="M669 611l18-5-18-7-18 6zM475 616l18-6-18-5-18 6z"/><path fill="#0ea" d="M1759 681l17-4-17-8-18 4z"/><path fill="#0f5" d="M1409 641l18-5-18-7-17 5z"/><path fill="#0e7" d="M1602 661l17-4-17-8-18 5z"/><path fill="#0f2" d="M704 612l18-6-18-6-17 6z"/><path fill="#0f4" d="M1374 639l18-5-18-8-17 5z"/><path fill="#0f2" d="M510 616l18-6-18-6-17 6zM740 612l17-5-17-6-18 5z"/><path fill="#0f4" d="M1339 636l18-5-18-7-18 5z"/><path fill="#0e9" d="M1724 678l17-5-17-7-17 4z"/><path fill="#0e7" d="M1567 659l17-5-17-8-18 5z"/><path fill="#0f2" d="M775 613l18-5-18-7-18 6z"/><path fill="#0f4" d="M1304 634l17-5-17-7-18 5z"/><path fill="#0f2" d="M546 616l17-5-17-6-18 5zM387 623l17-6-17-6-18 6zM810 614l18-6-18-6-17 6z"/><path fill="#0f4" d="M1269 632l17-5-17-7-18 5z"/><path fill="#0e6" d="M1532 656l17-5-17-7-18 4z"/><path fill="#0f2" d="M846 615l17-6-17-6-18 5z"/><path fill="#0e9" d="M1689 675l18-5-18-7-17 4z"/><path fill="#0f3" d="M1233 630l18-5-18-7-17 5z"/><path fill="#0f2" d="M581 617l18-6-18-6-18 6zM881 616l18-6-18-6-18 5z"/><path fill="#0f3" d="M1198 628l18-5-18-7-17 5z"/><path fill="#0f2" d="M916 617l18-6-18-6-17 5z"/><path fill="#0e6" d="M1497 653l17-5-17-7-18 5z"/><path fill="#0f3" d="M1163 627l18-6-18-7-18 6z"/><path fill="#0f2" d="M422 623l18-6-18-6-18 6zM952 618l17-6-17-6-18 5z"/><path fill="#0f3" d="M1128 625l17-5-17-7-18 5z"/><path fill="#0f2" d="M987 619l17-5-17-7-18 5zM1093 623l17-5-17-7-18 5zM1022 620l18-5-18-7-18 6zM1057 622l18-6-18-6-17 5zM616 617l18-6-18-6-17 6z"/><path fill="#0e8" d="M1654 672l18-5-18-7-17 4z"/><path fill="#0e5" d="M1462 651l17-5-17-8-18 5z"/><path fill="#0f2" d="M457 622l18-6-18-5-17 6zM651 617l18-6-18-6-17 6z"/><path fill="#0f5" d="M1427 648l17-5-17-7-18 5z"/><path fill="#0e8" d="M1619 669l18-5-18-7-17 4z"/><path fill="#0f2" d="M687 618l17-6-17-6-18 5z"/><path fill="#0f5" d="M1392 646l17-5-17-7-18 5z"/><path fill="#0f2" d="M493 622l17-6-17-6-18 6zM722 618l18-6-18-6-18 6z"/><path fill="#0ea" d="M1741 686l18-5-18-8-17 5z"/><path fill="#0e7" d="M1584 666l18-5-18-7-17 5z"/><path fill="#0f4" d="M1356 643l18-4-17-8-18 5z"/><path fill="#0f2" d="M757 619l18-6-18-6-17 5zM528 622l18-6-18-6-18 6z"/><path fill="#0f4" d="M1321 641l18-5-18-7-17 5z"/><path fill="#0f2" d="M793 619l17-5-17-6-18 5z"/><path fill="#0e7" d="M1549 663l18-4-18-8-17 5z"/><path fill="#0e9" d="M1707 682l17-4-17-8-18 5z"/><path fill="#0f4" d="M1286 639l18-5-18-7-17 5z"/><path fill="#0f2" d="M828 620l18-5-18-7-18 6zM563 622l18-5-18-6-17 5z"/><path fill="#0f3" d="M1251 637l18-5-18-7-18 5z"/><path fill="#0f2" d="M863 621l18-5-18-7-17 6zM404 629l18-6-18-6-17 6z"/><path fill="#0e6" d="M1514 661l18-5-18-8-17 5z"/><path fill="#0f3" d="M1216 635l17-5-17-7-18 5z"/><path fill="#0f2" d="M899 622l17-5-17-7-18 6z"/><path fill="#0f3" d="M1181 633l17-5-17-7-18 6z"/><path fill="#0f2" d="M934 623l18-5-18-7-18 6z"/><path fill="#0e9" d="M1672 679l17-4-17-8-18 5z"/><path fill="#0f2" d="M599 623l17-6-17-6-18 6z"/><path fill="#0f3" d="M1145 632l18-5-18-7-17 5z"/><path fill="#0f2" d="M969 624l18-5-18-7-17 6z"/><path fill="#0f3" d="M1110 630l18-5-18-7-17 5z"/><path fill="#0f2" d="M1004 626l18-6-18-6-17 5zM1075 628l18-5-18-7-18 6zM1040 627l17-5-17-7-18 5z"/><path fill="#0e6" d="M1479 658l18-5-18-7-17 5z"/><path fill="#0f2" d="M440 628l17-6-17-5-18 6zM634 623l17-6-17-6-18 6z"/><path fill="#0e8" d="M1637 676l17-4-17-8-18 5z"/><path fill="#0f5" d="M1444 655l18-4-18-8-17 5z"/><path fill="#0f2" d="M669 623l18-5-18-7-18 6zM475 628l18-6-18-6-18 6z"/><path fill="#0f5" d="M1409 653l18-5-18-7-17 5z"/><path fill="#0e7" d="M1602 673l17-4-17-8-18 5z"/><path fill="#0f2" d="M704 624l18-6-18-6-17 6z"/><path fill="#0f5" d="M1374 651l18-5-18-7-18 4z"/><path fill="#0f2" d="M510 628l18-6-18-6-17 6zM740 624l17-5-17-7-18 6z"/><path fill="#0f4" d="M1339 648l17-5-17-7-18 5z"/><path fill="#0e7" d="M1567 671l17-5-17-7-18 4z"/><path fill="#0ea" d="M1724 690l17-4-17-8-17 4z"/><path fill="#0f2" d="M775 625l18-6-18-6-18 6z"/><path fill="#0f4" d="M1304 646l17-5-17-7-18 5z"/><path fill="#0f2" d="M546 628l17-6-17-6-18 6zM810 626l18-6-18-6-17 5z"/><path fill="#0f4" d="M1269 644l17-5-17-7-18 5z"/><path fill="#0e6" d="M1532 668l17-5-17-7-18 5z"/><path fill="#0f2" d="M846 627l17-6-17-6-18 5z"/><path fill="#0f3" d="M1233 642l18-5-18-7-17 5z"/><path fill="#0e9" d="M1689 687l18-5-18-7-17 4z"/><path fill="#0f2" d="M881 628l18-6-18-6-18 5zM581 628l18-5-18-6-18 5z"/><path fill="#0f3" d="M1198 640l18-5-18-7-17 5z"/><path fill="#0f2" d="M916 629l18-6-18-6-17 5z"/><path fill="#0f3" d="M1163 638l18-5-18-6-18 5z"/><path fill="#0e6" d="M1497 665l17-4-17-8-18 5z"/><path fill="#0f2" d="M952 630l17-6-17-6-18 5zM422 634l18-6-18-5-18 6z"/><path fill="#0f3" d="M1128 637l17-5-17-7-18 5z"/><path fill="#0f2" d="M987 631l17-5-17-7-18 5zM1093 635l17-5-17-7-18 5zM1022 632l18-5-18-7-18 6zM1057 634l18-6-18-6-17 5zM616 629l18-6-18-6-17 6z"/><path fill="#0e8" d="M1654 684l18-5-18-7-17 4z"/><path fill="#0e5" d="M1462 663l17-5-17-7-18 4z"/><path fill="#0f2" d="M651 629l18-6-18-6-17 6zM457 634l18-6-18-6-17 6z"/><path fill="#0f5" d="M1427 660l17-5-17-7-18 5z"/><path fill="#0e8" d="M1619 681l18-5-18-7-17 4z"/><path fill="#0f2" d="M687 629l17-5-17-6-18 5z"/><path fill="#0f5" d="M1392 658l17-5-17-7-18 5z"/><path fill="#0f2" d="M493 634l17-6-17-6-18 6zM722 630l18-6-18-6-18 6z"/><path fill="#0e7" d="M1584 678l18-5-18-7-17 5z"/><path fill="#0f4" d="M1356 655l18-4-18-8-17 5z"/><path fill="#0f2" d="M757 631l18-6-18-6-17 5zM528 634l18-6-18-6-18 6z"/><path fill="#0f4" d="M1321 653l18-5-18-7-17 5z"/><path fill="#0f2" d="M793 631l17-5-17-7-18 6z"/><path fill="#0e7" d="M1549 675l18-4-18-8-17 5z"/><path fill="#0f4" d="M1286 651l18-5-18-7-17 5z"/><path fill="#0e9" d="M1707 695l17-5-17-8-18 5z"/><path fill="#0f2" d="M828 632l18-5-18-7-18 6zM563 634l18-6-18-6-17 6z"/><path fill="#0f3" d="M1251 649l18-5-18-7-18 5z"/><path fill="#0f2" d="M863 633l18-5-18-7-17 6z"/><path fill="#0f3" d="M1216 647l17-5-17-7-18 5z"/><path fill="#0e6" d="M1514 673l18-5-18-7-17 4z"/><path fill="#0f2" d="M899 634l17-5-17-7-18 6z"/><path fill="#0f3" d="M1181 645l17-5-17-7-18 5z"/><path fill="#0f2" d="M934 635l18-5-18-7-18 6zM598 634l18-5-17-6-18 5z"/><path fill="#0f3" d="M1145 644l18-6-18-6-17 5z"/><path fill="#0e9" d="M1672 692l17-5-17-8-18 5z"/><path fill="#0f2" d="M969 636l18-5-18-7-17 6z"/><path fill="#0f3" d="M1110 642l18-5-18-7-17 5z"/><path fill="#0f2" d="M1004 638l18-6-18-6-17 5zM1075 640l18-5-18-7-18 6zM1040 639l17-5-17-7-18 5z"/><path fill="#0e6" d="M1479 670l18-5-18-7-17 5z"/><path fill="#0f2" d="M440 640l17-6-17-6-18 6zM634 635l17-6-17-6-18 6z"/><path fill="#0e5" d="M1444 667l18-4-18-8-17 5z"/><path fill="#0e8" d="M1637 688l17-4-17-8-18 5z"/><path fill="#0f2" d="M669 635l18-6-18-6-18 6zM475 640l18-6-18-6-18 6z"/><path fill="#0f5" d="M1409 665l18-5-18-7-17 5z"/><path fill="#0f2" d="M704 636l18-6-18-6-17 5z"/><path fill="#0e7" d="M1602 686l17-5-17-8-18 5z"/><path fill="#0f5" d="M1374 663l18-5-18-7-18 4z"/><path fill="#0f2" d="M510 640l18-6-18-6-17 6zM740 636l17-5-17-7-18 6z"/><path fill="#0f4" d="M1339 660l17-5-17-7-18 5z"/><path fill="#0e7" d="M1567 683l17-5-17-7-18 4z"/><path fill="#0f2" d="M775 637l18-6-18-6-18 6z"/><path fill="#0f4" d="M1304 658l17-5-17-7-18 5z"/><path fill="#0f2" d="M546 640l17-6-17-6-18 6zM810 638l18-6-18-6-17 5z"/><path fill="#0f4" d="M1269 656l17-5-17-7-18 5z"/><path fill="#0e6" d="M1532 680l17-5-17-7-18 5z"/><path fill="#0f2" d="M846 638l17-5-17-6-18 5z"/><path fill="#0f3" d="M1233 654l18-5-18-7-17 5z"/><path fill="#0e9" d="M1689 699l18-4-18-8-17 5z"/><path fill="#0f2" d="M881 639l18-5-18-6-18 5zM581 640l17-6-17-6-18 6z"/><path fill="#0f3" d="M1198 652l18-5-18-7-17 5z"/><path fill="#0f2" d="M916 640l18-5-18-6-17 5z"/><path fill="#0f3" d="M1163 650l18-5-18-7-18 6z"/><path fill="#0e6" d="M1497 677l17-4-17-8-18 5z"/><path fill="#0f2" d="M952 642l17-6-17-6-18 5z"/><path fill="#0f3" d="M1128 649l17-5-17-7-18 5z"/><path fill="#0f2" d="M987 643l17-5-17-7-18 5zM1093 647l17-5-17-7-18 5zM1022 644l18-5-18-7-18 6zM1057 646l18-6-18-6-17 5zM616 640l18-5-18-6-18 5z"/><path fill="#0e8" d="M1654 696l18-4-18-8-17 4z"/><path fill="#0e5" d="M1462 675l17-5-17-7-18 4z"/><path fill="#0f2" d="M651 641l18-6-18-6-17 6zM457 646l18-6-18-6-17 6z"/><path fill="#0f5" d="M1427 672l17-5-17-7-18 5z"/><path fill="#0e8" d="M1619 693l18-5-18-7-17 5z"/><path fill="#0f2" d="M687 641l17-5-17-7-18 6z"/><path fill="#0f5" d="M1392 670l17-5-17-7-18 5z"/><path fill="#0f2" d="M493 646l17-6-17-6-18 6zM722 642l18-6-18-6-18 6z"/><path fill="#0e7" d="M1584 690l18-4-18-8-17 5z"/><path fill="#0f4" d="M1356 667l18-4-18-8-17 5z"/><path fill="#0f2" d="M757 642l18-5-18-6-17 5zM528 646l18-6-18-6-18 6z"/><path fill="#0f4" d="M1321 665l18-5-18-7-17 5z"/><path fill="#0f2" d="M793 643l17-5-17-7-18 6z"/><path fill="#0e7" d="M1549 687l18-4-18-8-17 5z"/><path fill="#0f4" d="M1286 663l18-5-18-7-17 5z"/><path fill="#0f2" d="M828 644l18-6-18-6-18 6zM563 646l18-6-18-6-17 6z"/><path fill="#0f4" d="M1251 661l18-5-18-7-18 5z"/><path fill="#0f2" d="M863 645l18-6-18-6-17 5z"/><path fill="#0f3" d="M1216 659l17-5-17-7-18 5z"/><path fill="#0e6" d="M1514 685l18-5-18-7-17 4z"/><path fill="#0f2" d="M899 646l17-6-17-6-18 5z"/><path fill="#0f3" d="M1181 657l17-5-17-7-18 5z"/><path fill="#0f2" d="M934 647l18-5-18-7-18 5z"/><path fill="#0f3" d="M1145 655l18-5-18-6-17 5z"/><path fill="#0f2" d="M598 646l18-6-18-6-17 6z"/><path fill="#0e9" d="M1672 704l17-5-17-7-18 4z"/><path fill="#0f2" d="M969 648l18-5-18-7-17 6z"/><path fill="#0f3" d="M1110 654l18-5-18-7-17 5z"/><path fill="#0f2" d="M1004 649l18-5-18-6-17 5zM1075 652l18-5-18-7-18 6zM1040 651l17-5-17-7-18 5z"/><path fill="#0e6" d="M1479 682l18-5-18-7-17 5z"/><path fill="#0f2" d="M634 646l17-5-17-6-18 5z"/><path fill="#0e5" d="M1444 679l18-4-18-8-17 5z"/><path fill="#0e8" d="M1637 700l17-4-17-8-18 5z"/><path fill="#0f2" d="M669 647l18-6-18-6-18 6zM475 652l18-6-18-6-18 6z"/><path fill="#0f5" d="M1409 677l18-5-18-7-17 5z"/><path fill="#0f2" d="M704 647l18-5-18-6-17 5z"/><path fill="#0e7" d="M1602 698l17-5-17-7-18 4z"/><path fill="#0f5" d="M1374 674l18-4-18-7-18 4z"/><path fill="#0f2" d="M510 652l18-6-18-6-17 6zM740 648l17-6-17-6-18 6z"/><path fill="#0f4" d="M1339 672l17-5-17-7-18 5z"/><path fill="#0e7" d="M1567 695l17-5-17-7-18 4z"/><path fill="#0f2" d="M775 648l18-5-18-6-18 5z"/><path fill="#0f4" d="M1304 670l17-5-17-7-18 5z"/><path fill="#0f2" d="M546 652l17-6-17-6-18 6zM810 649l18-5-18-6-17 5z"/><path fill="#0f4" d="M1269 668l17-5-17-7-18 5z"/><path fill="#0e6" d="M1532 692l17-5-17-7-18 5z"/><path fill="#0f2" d="M846 650l17-5-17-7-18 6z"/><path fill="#0f3" d="M1233 666l18-5-18-7-17 5z"/><path fill="#0f2" d="M881 651l18-5-18-7-18 6zM581 652l17-6-17-6-18 6z"/><path fill="#0f3" d="M1198 664l18-5-18-7-17 5z"/><path fill="#0f2" d="M916 652l18-5-18-7-17 6z"/><path fill="#0f3" d="M1163 662l18-5-18-7-18 5z"/><path fill="#0e6" d="M1497 689l17-4-17-8-18 5z"/><path fill="#0f2" d="M951 653l18-5-17-6-18 5z"/><path fill="#0f3" d="M1128 660l17-5-17-6-18 5z"/><path fill="#0f2" d="M987 654l17-5-17-6-18 5zM1093 659l17-5-17-7-18 5zM1022 656l18-5-18-7-18 5zM1057 657l18-5-18-6-17 5zM616 652l18-6-18-6-18 6z"/><path fill="#0e8" d="M1654 708l18-4-18-8-17 4z"/><path fill="#0e5" d="M1462 686l17-4-17-7-18 4z"/><path fill="#0f2" d="M651 652l18-5-18-6-17 5z"/><path fill="#0f5" d="M1427 684l17-5-17-7-18 5z"/><path fill="#0e8" d="M1619 705l18-5-18-7-17 5z"/><path fill="#0f2" d="M687 653l17-6-17-6-18 6z"/><path fill="#0f5" d="M1392 682l17-5-17-7-18 4z"/><path fill="#0f2" d="M493 657l17-5-17-6-18 6zM722 653l18-5-18-6-18 5z"/><path fill="#0e7" d="M1584 702l18-4-18-8-17 5z"/><path fill="#0f4" d="M1356 679l18-5-18-7-17 5z"/><path fill="#0f2" d="M757 654l18-6-18-6-17 6zM528 657l18-5-18-6-18 6z"/><path fill="#0f4" d="M1321 677l18-5-18-7-17 5z"/><path fill="#0f2" d="M793 655l17-6-17-6-18 5z"/><path fill="#0e7" d="M1549 699l18-4-18-8-17 5z"/><path fill="#0f4" d="M1286 675l18-5-18-7-17 5z"/><path fill="#0f2" d="M828 655l18-5-18-6-18 5z"/><path fill="#0f4" d="M1251 673l18-5-18-7-18 5z"/><path fill="#0f2" d="M563 657l18-5-18-6-17 6zM863 656l18-5-18-6-17 5z"/><path fill="#0f3" d="M1216 671l17-5-17-7-18 5z"/><path fill="#0e6" d="M1514 696l18-4-18-7-17 4z"/><path fill="#0f2" d="M899 657l17-5-17-6-18 5z"/><path fill="#0f3" d="M1181 669l17-5-17-7-18 5z"/><path fill="#0f2" d="M934 658l17-5-17-6-18 5z"/><path fill="#0f3" d="M1145 667l18-5-18-7-17 5z"/><path fill="#0f2" d="M598 658l18-6-18-6-17 6zM969 660l18-6-18-6-18 5z"/><path fill="#0f3" d="M1110 665l18-5-18-6-17 5z"/><path fill="#0f2" d="M1004 661l18-5-18-7-17 5zM1075 664l18-5-18-7-18 5zM1040 662l17-5-17-6-18 5z"/><path fill="#0e6" d="M1479 694l18-5-18-7-17 4z"/><path fill="#0f2" d="M634 658l17-6-17-6-18 6z"/><path fill="#0e5" d="M1444 691l18-5-18-7-17 5z"/><path fill="#0e8" d="M1637 712l17-4-17-8-18 5z"/><path fill="#0f2" d="M669 658l18-5-18-6-18 5z"/><path fill="#0f5" d="M1409 689l18-5-18-7-17 5z"/><path fill="#0f2" d="M704 659l18-6-18-6-17 6z"/><path fill="#0e7" d="M1602 709l17-4-17-7-18 4z"/><path fill="#0f5" d="M1374 686l18-4-18-8-18 5z"/><path fill="#0f2" d="M740 659l17-5-17-6-18 5zM510 663l18-6-18-5-17 5z"/><path fill="#0f4" d="M1339 684l17-5-17-7-18 5z"/><path fill="#0e7" d="M1567 706l17-4-17-7-18 4z"/><path fill="#0f2" d="M775 660l18-5-18-7-18 6z"/><path fill="#0f4" d="M1304 682l17-5-17-7-18 5z"/><path fill="#0f2" d="M546 663l17-6-17-5-18 5zM810 661l18-6-18-6-17 6z"/><path fill="#0f4" d="M1269 680l17-5-17-7-18 5z"/><path fill="#0e6" d="M1532 704l17-5-17-7-18 4z"/><path fill="#0f2" d="M846 662l17-6-17-6-18 5z"/><path fill="#0f3" d="M1233 678l18-5-18-7-17 5z"/><path fill="#0f2" d="M881 663l18-6-18-6-18 5zM581 663l17-5-17-6-18 5z"/><path fill="#0f3" d="M1198 676l18-5-18-7-17 5z"/><path fill="#0f2" d="M916 664l18-6-18-6-17 5z"/><path fill="#0f3" d="M1163 674l18-5-18-7-18 5z"/><path fill="#0f2" d="M951 665l18-5-18-7-17 5z"/><path fill="#0e6" d="M1497 701l17-5-17-7-18 5z"/><path fill="#0f3" d="M1128 672l17-5-17-7-18 5z"/><path fill="#0f2" d="M987 666l17-5-17-7-18 6zM1093 670l17-5-17-6-18 5zM1022 667l18-5-18-6-18 5zM1057 669l18-5-18-7-17 5zM616 664l18-6-18-6-18 6z"/><path fill="#0e5" d="M1462 698l17-4-17-8-18 5z"/><path fill="#0f2" d="M651 664l18-6-18-6-17 6z"/><path fill="#0f5" d="M1427 696l17-5-17-7-18 5z"/><path fill="#0e8" d="M1619 717l18-5-18-7-17 4z"/><path fill="#0f2" d="M687 664l17-5-17-6-18 5z"/><path fill="#0f5" d="M1392 693l17-4-17-7-18 4z"/><path fill="#0f2" d="M722 665l18-6-18-6-18 6z"/><path fill="#0f4" d="M1356 691l18-5-18-7-17 5z"/><path fill="#0e7" d="M1584 714l18-5-18-7-17 4z"/><path fill="#0f2" d="M757 665l18-5-18-6-17 5z"/><path fill="#0f4" d="M1321 689l18-5-18-7-17 5z"/><path fill="#0f2" d="M528 669l18-6-18-6-18 6zM793 666l17-5-17-6-18 5z"/><path fill="#0e7" d="M1549 711l18-5-18-7-17 5z"/><path fill="#0f4" d="M1286 686l18-4-18-7-17 5z"/><path fill="#0f2" d="M828 667l18-5-18-7-18 6z"/><path fill="#0f3" d="M1251 684l18-4-18-7-18 5z"/><path fill="#0f2" d="M563 669l18-6-18-6-17 6zM863 668l18-5-18-7-17 6z"/><path fill="#0f3" d="M1216 682l17-4-17-7-18 5z"/><path fill="#0e6" d="M1514 708l18-4-18-8-17 5z"/><path fill="#0f2" d="M899 669l17-5-17-7-18 6z"/><path fill="#0f3" d="M1181 681l17-5-17-7-18 5z"/><path fill="#0f2" d="M934 670l17-5-17-7-18 6z"/><path fill="#0f3" d="M1145 679l18-5-18-7-17 5z"/><path fill="#0f2" d="M598 669l18-5-18-6-17 5zM969 671l18-5-18-6-18 5z"/><path fill="#0f3" d="M1110 677l18-5-18-7-17 5z"/><path fill="#0f2" d="M1004 673l18-6-18-6-17 5zM1075 675l18-5-18-6-18 5zM1040 674l17-5-17-7-18 5z"/><path fill="#0e6" d="M1479 705l18-4-18-7-17 4z"/><path fill="#0f2" d="M634 669l17-5-17-6-18 6z"/><path fill="#0e5" d="M1444 703l18-5-18-7-17 5z"/><path fill="#0f2" d="M669 670l18-6-18-6-18 6z"/><path fill="#0f5" d="M1409 700l18-4-18-7-17 4z"/><path fill="#0f2" d="M704 670l18-5-18-6-17 5z"/><path fill="#0e7" d="M1602 721l17-4-17-8-18 5z"/><path fill="#0f5" d="M1374 698l18-5-18-7-18 5z"/><path fill="#0f2" d="M740 671l17-6-17-6-18 6z"/><path fill="#0f4" d="M1339 696l17-5-17-7-18 5z"/><path fill="#0e7" d="M1567 718l17-4-17-8-18 5z"/><path fill="#0f2" d="M775 671l18-5-18-6-18 5z"/><path fill="#0f4" d="M1304 693l17-4-17-7-18 4z"/><path fill="#0f2" d="M810 672l18-5-18-6-17 5zM545 675l18-6-17-6-18 6z"/><path fill="#0f4" d="M1269 691l17-5-17-6-18 4z"/><path fill="#0f2" d="M846 673l17-5-17-6-18 5z"/><path fill="#0e6" d="M1532 715l17-4-17-7-18 4z"/><path fill="#0f3" d="M1233 689l18-5-18-6-17 4z"/><path fill="#0f2" d="M881 674l18-5-18-6-18 5z"/><path fill="#0f3" d="M1198 687l18-5-18-6-17 5z"/><path fill="#0f2" d="M581 675l17-6-17-6-18 6zM916 675l18-5-18-6-17 5z"/><path fill="#0f3" d="M1163 685l18-4-18-7-18 5z"/><path fill="#0f2" d="M951 676l18-5-18-6-17 5z"/><path fill="#0e6" d="M1497 713l17-5-17-7-18 4z"/><path fill="#0f3" d="M1128 684l17-5-17-7-18 5z"/><path fill="#0f2" d="M987 678l17-5-17-7-18 5zM1093 682l17-5-17-7-18 5zM1022 679l18-5-18-7-18 6zM1057 680l18-5-18-6-17 5zM616 675l18-6-18-5-18 5z"/><path fill="#0e5" d="M1462 710l17-5-17-7-18 5z"/><path fill="#0f2" d="M651 675l18-5-18-6-17 5z"/><path fill="#0f5" d="M1427 707l17-4-17-7-18 4z"/><path fill="#0f2" d="M687 676l17-6-17-6-18 6z"/><path fill="#0f5" d="M1392 705l17-5-17-7-18 5z"/><path fill="#0f2" d="M722 676l18-5-18-6-18 5z"/><path fill="#0f4" d="M1356 703l18-5-18-7-17 5z"/><path fill="#0e7" d="M1584 726l18-5-18-7-17 4z"/><path fill="#0f2" d="M757 677l18-6-18-6-17 6z"/><path fill="#0f4" d="M1321 700l18-4-18-7-17 4z"/><path fill="#0f2" d="M793 678l17-6-17-6-18 5z"/><path fill="#0f4" d="M1286 698l18-5-18-7-17 5z"/><path fill="#0e7" d="M1549 723l18-5-18-7-17 4z"/><path fill="#0f2" d="M828 678l18-5-18-6-18 5z"/><path fill="#0f3" d="M1251 696l18-5-18-7-18 5z"/><path fill="#0f2" d="M563 680l18-5-18-6-18 6zM863 679l18-5-18-6-17 5z"/><path fill="#0f3" d="M1216 694l17-5-17-7-18 5z"/><path fill="#0e6" d="M1514 720l18-5-18-7-17 5z"/><path fill="#0f2" d="M899 680l17-5-17-6-18 5z"/><path fill="#0f3" d="M1181 692l17-5-17-6-18 4z"/><path fill="#0f2" d="M934 681l17-5-17-6-18 5z"/><path fill="#0f3" d="M1145 690l18-5-18-6-17 5z"/><path fill="#0f2" d="M969 683l18-5-18-7-18 5zM598 680l18-5-18-6-17 6z"/><path fill="#0f3" d="M1110 689l18-5-18-7-17 5z"/><path fill="#0f2" d="M1004 684l18-5-18-6-17 5zM1075 687l18-5-18-7-18 5zM1040 685l17-5-17-6-18 5z"/><path fill="#0e6" d="M1479 717l18-4-18-8-17 5z"/><path fill="#0f2" d="M634 681l17-6-17-6-18 6z"/><path fill="#0f5" d="M1444 714l18-4-18-7-17 4z"/><path fill="#0f2" d="M669 681l18-5-18-6-18 5z"/><path fill="#0f5" d="M1409 712l18-5-18-7-17 5z"/><path fill="#0f2" d="M704 682l18-6-18-6-17 6z"/><path fill="#0f5" d="M1374 709l18-4-18-7-18 5z"/><path fill="#0f2" d="M740 682l17-5-17-6-18 5z"/><path fill="#0f4" d="M1339 707l17-4-17-7-18 4z"/><path fill="#0e7" d="M1567 730l17-4-17-8-18 5z"/><path fill="#0f2" d="M775 683l18-5-18-7-18 6z"/><path fill="#0f4" d="M1304 705l17-5-17-7-18 5z"/><path fill="#0f2" d="M810 684l18-6-18-6-17 6z"/><path fill="#0f4" d="M1269 703l17-5-17-7-18 5z"/><path fill="#0f2" d="M846 685l17-6-17-6-18 5z"/><path fill="#0e6" d="M1532 727l17-4-17-8-18 5z"/><path fill="#0f3" d="M1233 701l18-5-18-7-17 5z"/><path fill="#0f2" d="M881 685l18-5-18-6-18 5z"/><path fill="#0f3" d="M1198 699l18-5-18-7-17 5z"/><path fill="#0f2" d="M581 686l17-6-17-5-18 5zM916 687l18-6-18-6-17 5z"/><path fill="#0f3" d="M1163 697l18-5-18-7-18 5z"/><path fill="#0f2" d="M951 688l18-5-18-7-17 5z"/><path fill="#0f3" d="M1128 695l17-5-17-6-18 5z"/><path fill="#0e6" d="M1497 724l17-4-17-7-18 4z"/><path fill="#0f2" d="M987 689l17-5-17-6-18 5zM1093 693l17-4-17-7-18 5zM1022 690l18-5-18-6-18 5zM1057 692l18-5-18-7-17 5zM616 686l18-5-18-6-18 5z"/><path fill="#0e5" d="M1462 722l17-5-17-7-18 4z"/><path fill="#0f2" d="M651 687l18-6-18-6-17 6z"/><path fill="#0f5" d="M1427 719l17-5-17-7-18 5z"/><path fill="#0f2" d="M687 687l17-5-17-6-18 5z"/><path fill="#0f5" d="M1392 716l17-4-17-7-18 4z"/><path fill="#0f2" d="M722 688l18-6-18-6-18 6z"/><path fill="#0f4" d="M1356 714l18-5-18-6-17 4z"/><path fill="#0f2" d="M757 688l18-5-18-6-17 5z"/><path fill="#0f4" d="M1321 712l18-5-18-7-17 5z"/><path fill="#0f2" d="M793 689l17-5-17-6-18 5z"/><path fill="#0f4" d="M1286 710l18-5-18-7-17 5z"/><path fill="#0e6" d="M1549 734l18-4-18-7-17 4z"/><path fill="#0f2" d="M828 690l18-5-18-7-18 6z"/><path fill="#0f3" d="M1251 707l18-4-18-7-18 5z"/><path fill="#0f2" d="M863 691l18-6-18-6-17 6z"/><path fill="#0f3" d="M1216 705l17-4-17-7-18 5z"/><path fill="#0f2" d="M899 692l17-5-17-7-18 5z"/><path fill="#0e6" d="M1514 731l18-4-18-7-17 4z"/><path fill="#0f3" d="M1181 703l17-4-17-7-18 5z"/><path fill="#0f2" d="M934 693l17-5-17-7-18 6z"/><path fill="#0f3" d="M1145 702l18-5-18-7-17 5z"/><path fill="#0f2" d="M969 694l18-5-18-6-18 5zM598 692l18-6-18-6-17 6zM1110 700l18-5-18-6-17 4zM1004 695l18-5-18-6-17 5zM1075 698l18-5-18-6-18 5zM1040 697l17-5-17-7-18 5z"/><path fill="#0e6" d="M1479 729l18-5-18-7-17 5z"/><path fill="#0f2" d="M634 692l17-5-17-6-18 5z"/><path fill="#0f5" d="M1444 726l18-4-18-8-17 5z"/><path fill="#0f2" d="M669 692l18-5-18-6-18 6z"/><path fill="#0f5" d="M1409 723l18-4-18-7-17 4z"/><path fill="#0f2" d="M704 693l18-5-18-6-17 5z"/><path fill="#0f4" d="M1374 721l18-5-18-7-18 5z"/><path fill="#0f2" d="M740 693l17-5-17-6-18 6z"/><path fill="#0f4" d="M1339 719l17-5-17-7-18 5z"/><path fill="#0f2" d="M775 694l18-5-18-6-18 5z"/><path fill="#0f4" d="M1304 716l17-4-17-7-18 5z"/><path fill="#0f2" d="M810 695l18-5-18-6-17 5z"/><path fill="#0f4" d="M1269 714l17-4-17-7-18 4z"/><path fill="#0f2" d="M846 696l17-5-17-6-18 5z"/><path fill="#0e6" d="M1532 739l17-5-17-7-18 4z"/><path fill="#0f3" d="M1233 712l18-5-18-6-17 4z"/><path fill="#0f2" d="M881 697l18-5-18-7-18 6z"/><path fill="#0f3" d="M1198 710l18-5-18-6-17 4z"/><path fill="#0f2" d="M916 698l18-5-18-6-17 5z"/><path fill="#0f3" d="M1163 708l18-5-18-6-18 5z"/><path fill="#0f2" d="M951 699l18-5-18-6-17 5z"/><path fill="#0f3" d="M1128 706l17-4-17-7-18 5z"/><path fill="#0e6" d="M1497 736l17-5-17-7-18 5z"/><path fill="#0f2" d="M987 700l17-5-17-6-18 5zM1093 705l17-5-17-7-18 5zM1022 702l18-5-18-7-18 5zM1057 703l18-5-18-6-17 5zM616 697l18-5-18-6-18 6z"/><path fill="#0e5" d="M1462 733l17-4-17-7-18 4z"/><path fill="#0f2" d="M651 698l18-6-18-5-17 5z"/><path fill="#0f5" d="M1427 730l17-4-17-7-18 4z"/><path fill="#0f2" d="M687 698l17-5-17-6-18 5z"/><path fill="#0f5" d="M1392 728l17-5-17-7-18 5z"/><path fill="#0f2" d="M722 699l18-6-18-5-18 5z"/><path fill="#0f4" d="M1356 725l18-4-18-7-17 5z"/><path fill="#0f2" d="M757 699l18-5-18-6-17 5z"/><path fill="#0f4" d="M1321 723l18-4-18-7-17 4z"/><path fill="#0f2" d="M793 700l17-5-17-6-18 5z"/><path fill="#0f4" d="M1286 721l18-5-18-6-17 4z"/><path fill="#0f2" d="M828 701l18-5-18-6-18 5z"/><path fill="#0f3" d="M1251 719l18-5-18-7-18 5z"/><path fill="#0f2" d="M863 702l18-5-18-6-17 5z"/><path fill="#0f3" d="M1216 717l17-5-17-7-18 5z"/><path fill="#0f2" d="M899 703l17-5-17-6-18 5z"/><path fill="#0e6" d="M1514 743l18-4-18-8-17 5z"/><path fill="#0f3" d="M1181 715l17-5-17-7-18 5z"/><path fill="#0f2" d="M934 704l17-5-17-6-18 5z"/><path fill="#0f3" d="M1145 713l18-5-18-6-17 4z"/><path fill="#0f2" d="M969 705l18-5-18-6-18 5zM1110 711l18-5-18-6-17 5zM1004 707l18-5-18-7-17 5zM1075 710l18-5-18-7-18 5zM1040 708l17-5-17-6-18 5z"/><path fill="#0e5" d="M1479 740l18-4-18-7-17 4z"/><path fill="#0f2" d="M634 703l17-5-17-6-18 5z"/><path fill="#0f5" d="M1444 737l18-4-18-7-17 4z"/><path fill="#0f2" d="M669 704l18-6-18-6-18 6z"/><path fill="#0f5" d="M1409 735l18-5-18-7-17 5z"/><path fill="#0f2" d="M704 704l18-5-18-6-17 5z"/><path fill="#0f4" d="M1374 732l18-4-18-7-18 4z"/><path fill="#0f2" d="M740 705l17-6-17-6-18 6z"/><path fill="#0f4" d="M1339 730l17-5-17-6-18 4z"/><path fill="#0f2" d="M775 705l18-5-18-6-18 5z"/><path fill="#0f4" d="M1304 728l17-5-17-7-18 5z"/><path fill="#0f2" d="M810 706l18-5-18-6-17 5z"/><path fill="#0f3" d="M1269 725l17-4-17-7-18 5z"/><path fill="#0f2" d="M846 707l17-5-17-6-18 5z"/><path fill="#0f3" d="M1233 723l18-4-18-7-17 5z"/><path fill="#0f2" d="M881 708l18-5-18-6-18 5z"/><path fill="#0f3" d="M1198 721l18-4-18-7-17 5z"/><path fill="#0f2" d="M916 709l18-5-18-6-17 5z"/><path fill="#0f3" d="M1163 719l18-4-18-7-18 5z"/><path fill="#0f2" d="M951 710l18-5-18-6-17 5zM1128 718l17-5-17-7-18 5zM987 712l17-5-17-7-18 5z"/><path fill="#0e6" d="M1497 747l17-4-17-7-18 4z"/><path fill="#0f2" d="M1093 716l17-5-17-6-18 5zM1022 713l18-5-18-6-18 5zM1057 714l18-4-18-7-17 5z"/><path fill="#0f5" d="M1462 744l17-4-17-7-18 4z"/><path fill="#0f2" d="M651 709l18-5-18-6-17 5z"/><path fill="#0f5" d="M1427 742l17-5-17-7-18 5z"/><path fill="#0f2" d="M687 709l17-5-17-6-18 6z"/><path fill="#0f4" d="M1392 739l17-4-17-7-18 4z"/><path fill="#0f2" d="M722 710l18-5-18-6-18 5z"/><path fill="#0f4" d="M1357 737l17-5-18-7-17 5z"/><path fill="#0f2" d="M757 710l18-5-18-6-17 6z"/><path fill="#0f4" d="M1321 734l18-4-18-7-17 5z"/><path fill="#0f2" d="M793 711l17-5-17-6-18 5z"/><path fill="#0f4" d="M1286 732l18-4-18-7-17 4z"/><path fill="#0f2" d="M828 712l18-5-18-6-18 5z"/><path fill="#0f3" d="M1251 730l18-5-18-6-18 4z"/><path fill="#0f2" d="M863 713l18-5-18-6-17 5z"/><path fill="#0f3" d="M1216 728l17-5-17-6-18 4z"/><path fill="#0f2" d="M899 714l17-5-17-6-18 5z"/><path fill="#0f3" d="M1181 726l17-5-17-6-18 4z"/><path fill="#0f2" d="M934 715l17-5-17-6-18 5zM1145 724l18-5-18-6-17 5zM969 716l18-4-18-7-18 5zM1110 722l18-4-18-7-17 5zM1004 718l18-5-18-6-17 5zM1075 721l18-5-18-6-18 4zM1040 719l17-5-17-6-18 5z"/><path fill="#0e5" d="M1479 751l18-4-18-7-17 4z"/><path fill="#0f5" d="M1444 749l18-5-18-7-17 5z"/><path fill="#0f2" d="M669 715l18-6-18-5-18 5z"/><path fill="#0f5" d="M1409 746l18-4-18-7-17 4z"/><path fill="#0f2" d="M704 715l18-5-18-6-17 5z"/><path fill="#0f4" d="M1374 744l18-5-18-7-17 5z"/><path fill="#0f2" d="M740 716l17-6-17-5-18 5z"/><path fill="#0f4" d="M1339 741l18-4-18-7-18 4z"/><path fill="#0f2" d="M775 716l18-5-18-6-18 5z"/><path fill="#0f4" d="M1304 739l17-5-17-6-18 4z"/><path fill="#0f2" d="M810 717l18-5-18-6-17 5z"/><path fill="#0f3" d="M1269 737l17-5-17-7-18 5z"/><path fill="#0f2" d="M846 718l17-5-17-6-18 5z"/><path fill="#0f3" d="M1233 735l18-5-18-7-17 5z"/><path fill="#0f2" d="M881 719l18-5-18-6-18 5z"/><path fill="#0f3" d="M1198 733l18-5-18-7-17 5z"/><path fill="#0f2" d="M916 720l18-5-18-6-17 5z"/><path fill="#0f3" d="M1163 731l18-5-18-7-18 5z"/><path fill="#0f2" d="M952 721l17-5-18-6-17 5zM1128 729l17-5-17-6-18 4zM987 723l17-5-17-6-18 4zM1093 727l17-5-17-6-18 5zM1022 724l18-5-18-6-18 5zM1057 726l18-5-18-7-17 5z"/><path fill="#0f5" d="M1462 756l17-5-17-7-18 5zM1427 753l17-4-17-7-18 4z"/><path fill="#0f1" d="M687 720l17-5-17-6-18 6z"/><path fill="#0f4" d="M1392 750l17-4-17-7-18 5z"/><path fill="#0f1" d="M722 721l18-5-18-6-18 5z"/><path fill="#0f4" d="M1357 748l17-4-17-7-18 4z"/><path fill="#0f1" d="M757 721l18-5-18-6-17 6z"/><path fill="#0f4" d="M1321 746l18-5-18-7-17 5z"/><path fill="#0f2" d="M793 722l17-5-17-6-18 5z"/><path fill="#0f3" d="M1286 743l18-4-18-7-17 5z"/><path fill="#0f2" d="M828 723l18-5-18-6-18 5z"/><path fill="#0f3" d="M1251 741l18-4-18-7-18 5z"/><path fill="#0f2" d="M863 724l18-5-18-6-17 5z"/><path fill="#0f3" d="M1216 739l17-4-17-7-18 5z"/><path fill="#0f2" d="M899 725l17-5-17-6-18 5z"/><path fill="#0f3" d="M1181 737l17-4-17-7-18 5z"/><path fill="#0f2" d="M934 726l18-5-18-6-18 5zM1145 735l18-4-18-7-17 5zM969 727l18-4-18-7-17 5zM1110 733l18-4-18-7-17 5zM1004 729l18-5-18-6-17 5zM1075 732l18-5-18-6-18 5zM1040 730l17-4-17-7-18 5z"/><path fill="#0f5" d="M1444 760l18-4-18-7-17 4z"/><path fill="#0f4" d="M1409 757l18-4-18-7-17 4z"/><path fill="#0f1" d="M704 726l18-5-18-6-17 5z"/><path fill="#0f4" d="M1374 755l18-5-18-6-17 4z"/><path fill="#0f1" d="M740 727l17-6-17-5-18 5z"/><path fill="#0f4" d="M1339 752l18-4-18-7-18 5z"/><path fill="#0f1" d="M775 727l18-5-18-6-18 5z"/><path fill="#0f3" d="M1304 750l17-4-17-7-18 4z"/><path fill="#0f1" d="M810 728l18-5-18-6-17 5z"/><path fill="#0f3" d="M1269 748l17-5-17-6-18 4z"/><path fill="#0f2" d="M846 729l17-5-17-6-18 5z"/><path fill="#0f3" d="M1234 746l17-5-18-6-17 4z"/><path fill="#0f2" d="M881 730l18-5-18-6-18 5z"/><path fill="#0f3" d="M1198 744l18-5-18-6-17 4z"/><path fill="#0f2" d="M916 731l18-5-18-6-17 5zM1163 742l18-5-18-6-18 4zM952 732l17-5-17-6-18 5zM1128 740l17-5-17-6-18 4zM987 734l17-5-17-6-18 4zM1093 738l17-5-17-6-18 5zM1022 735l18-5-18-6-18 5zM1057 736l18-4-18-6-17 4z"/><path fill="#0f5" d="M1427 764l17-4-17-7-18 4z"/><path fill="#0f4" d="M1392 761l17-4-17-7-18 5z"/><path fill="#0f1" d="M722 732l18-5-18-6-18 5z"/><path fill="#0f4" d="M1357 759l17-4-17-7-18 4z"/><path fill="#0f1" d="M757 732l18-5-18-6-17 6z"/><path fill="#0f4" d="M1321 757l18-5-18-6-17 4z"/><path fill="#0f1" d="M793 733l17-5-17-6-18 5z"/><path fill="#0f3" d="M1286 754l18-4-18-7-17 5z"/><path fill="#0f1" d="M828 734l18-5-18-6-18 5z"/><path fill="#0f3" d="M1251 752l18-4-18-7-17 5z"/><path fill="#0f1" d="M863 735l18-5-18-6-17 5z"/><path fill="#0f3" d="M1216 750l18-4-18-7-18 5z"/><path fill="#0f2" d="M899 736l17-5-17-6-18 5zM1181 748l17-4-17-7-18 5zM934 737l18-5-18-6-18 5zM1145 746l18-4-18-7-17 5zM969 738l18-4-18-7-17 5zM1110 744l18-4-18-7-17 5zM1004 740l18-5-18-6-17 5zM1075 743l18-5-18-6-18 4zM1040 741l17-5-17-6-18 5z"/><path fill="#0f4" d="M1409 768l18-4-18-7-17 4zM1374 766l18-5-18-6-17 4z"/><path fill="#0f1" d="M740 737l17-5-17-5-18 5z"/><path fill="#0f4" d="M1339 763l18-4-18-7-18 5z"/><path fill="#0f1" d="M775 738l18-5-18-6-18 5z"/><path fill="#0f3" d="M1304 761l17-4-17-7-18 4z"/><path fill="#0f1" d="M810 739l18-5-18-6-17 5z"/><path fill="#0f3" d="M1269 759l17-5-17-6-18 4z"/><path fill="#0f1" d="M846 740l17-5-17-6-18 5z"/><path fill="#0f3" d="M1234 757l17-5-17-6-18 4z"/><path fill="#0f1" d="M881 741l18-5-18-6-18 5z"/><path fill="#0f3" d="M1198 754l18-4-18-6-17 4z"/><path fill="#0f2" d="M916 742l18-5-18-6-17 5zM1163 753l18-5-18-6-18 4zM952 743l17-5-17-6-18 5zM1128 751l17-5-17-6-18 4zM987 744l17-4-17-6-18 4zM1093 749l17-5-17-6-18 5zM1022 746l18-5-18-6-18 5zM1057 747l18-4-18-7-17 5z"/><path fill="#0f4" d="M1392 772l17-4-17-7-18 5zM1357 770l17-4-17-7-18 4z"/><path fill="#0f1" d="M757 743l18-5-18-6-17 5z"/><path fill="#0f3" d="M1322 768l17-5-18-6-17 4z"/><path fill="#0f1" d="M793 744l17-5-17-6-18 5z"/><path fill="#0f3" d="M1286 765l18-4-18-7-17 5z"/><path fill="#0f1" d="M828 745l18-5-18-6-18 5z"/><path fill="#0f3" d="M1251 763l18-4-18-7-17 5z"/><path fill="#0f1" d="M863 746l18-5-18-6-17 5z"/><path fill="#0f3" d="M1216 761l18-4-18-7-18 4z"/><path fill="#0f1" d="M899 747l17-5-17-6-18 5z"/><path fill="#0f2" d="M1181 759l17-5-17-6-18 5zM934 748l18-5-18-6-18 5zM1146 757l17-4-18-7-17 5zM969 749l18-5-18-6-17 5zM1110 755l18-4-18-7-17 5zM1004 750l18-4-18-6-17 4zM1075 754l18-5-18-6-18 4zM1040 752l17-5-17-6-18 5z"/><path fill="#0f4" d="M1374 777l18-5-18-6-17 4z"/><path fill="#0f3" d="M1339 774l18-4-18-7-17 5z"/><path fill="#0f1" d="M775 749l18-5-18-6-18 5z"/><path fill="#0f3" d="M1304 772l18-4-18-7-18 4z"/><path fill="#0f1" d="M810 750l18-5-18-6-17 5z"/><path fill="#0f3" d="M1269 770l17-5-17-6-18 4z"/><path fill="#0f1" d="M846 750l17-4-17-6-18 5z"/><path fill="#0f3" d="M1234 767l17-4-17-6-18 4z"/><path fill="#0f1" d="M881 751l18-4-18-6-18 5z"/><path fill="#0f2" d="M1198 765l18-4-18-7-17 5z"/><path fill="#0f1" d="M916 753l18-5-18-6-17 5z"/><path fill="#0f2" d="M1163 763l18-4-18-6-17 4z"/><path fill="#0f1" d="M952 754l17-5-17-6-18 5z"/><path fill="#0f2" d="M1128 762l18-5-18-6-18 4zM987 755l17-5-17-6-18 5zM1093 760l17-5-17-6-18 5zM1022 757l18-5-18-6-18 4zM1057 758l18-4-18-7-17 5z"/><path fill="#0f4" d="M1357 781l17-4-17-7-18 4z"/><path fill="#0f3" d="M1322 778l17-4-17-6-18 4z"/><path fill="#0f1" d="M793 754l17-4-17-6-18 5z"/><path fill="#0f3" d="M1286 776l18-4-18-7-17 5z"/><path fill="#0f1" d="M828 755l18-5-18-5-18 5z"/><path fill="#0f3" d="M1251 774l18-4-18-7-17 4z"/><path fill="#0f1" d="M863 756l18-5-18-5-17 4z"/><path fill="#0f2" d="M1216 772l18-5-18-6-18 4z"/><path fill="#0f1" d="M899 757l17-4-17-6-18 4z"/><path fill="#0f2" d="M1181 770l17-5-17-6-18 4z"/><path fill="#0f1" d="M934 759l18-5-18-6-18 5z"/><path fill="#0f2" d="M1146 768l17-5-17-6-18 5z"/><path fill="#0f1" d="M969 760l18-5-18-6-17 5z"/><path fill="#0f2" d="M1110 766l18-4-18-7-17 5zM1005 761l17-4-18-7-17 5zM1075 764l18-4-18-6-18 4zM1040 763l17-5-17-6-18 5z"/><path fill="#0f3" d="M1339 785l18-4-18-7-17 4zM1304 783l18-5-18-6-18 4z"/><path fill="#0f1" d="M810 760l18-5-18-5-17 4z"/><path fill="#0f3" d="M1269 780l17-4-17-6-18 4z"/><path fill="#0f1" d="M846 761l17-5-17-6-18 5z"/><path fill="#0f2" d="M1234 778l17-4-17-7-18 5z"/><path fill="#0f1" d="M881 762l18-5-18-6-18 5z"/><path fill="#0f2" d="M1198 776l18-4-18-7-17 5z"/><path fill="#0f1" d="M916 763l18-4-18-6-17 4z"/><path fill="#0f2" d="M1163 774l18-4-18-7-17 5z"/><path fill="#0f1" d="M952 764l17-4-17-6-18 5z"/><path fill="#0f2" d="M1128 772l18-4-18-6-18 4z"/><path fill="#0f1" d="M987 766l18-5-18-6-18 5z"/><path fill="#0f2" d="M1093 770l17-4-17-6-18 4zM1022 767l18-4-18-6-17 4zM1057 769l18-5-18-6-17 5z"/><path fill="#0f3" d="M1322 789l17-4-17-7-18 5zM1286 787l18-4-18-7-17 4z"/><path fill="#0f1" d="M828 766l18-5-18-6-18 5z"/><path fill="#0f2" d="M1251 784l18-4-18-6-17 4z"/><path fill="#0f1" d="M863 767l18-5-18-6-17 5z"/><path fill="#0f2" d="M1216 782l18-4-18-6-18 4z"/><path fill="#0f1" d="M899 768l17-5-17-6-18 5z"/><path fill="#0f2" d="M1181 780l17-4-17-6-18 4z"/><path fill="#0f1" d="M934 769l18-5-18-5-18 4z"/><path fill="#0f2" d="M1146 778l17-4-17-6-18 4z"/><path fill="#0f1" d="M969 770l18-4-18-6-17 4z"/><path fill="#0f2" d="M1110 777l18-5-18-6-17 4z"/><path fill="#0f1" d="M1005 772l17-5-17-6-18 5z"/><path fill="#0f2" d="M1075 775l18-5-18-6-18 5zM1040 773l17-4-17-6-18 4z"/><path fill="#0f3" d="M1304 793l18-4-18-6-18 4zM1269 791l17-4-17-7-18 4z"/><path fill="#0f1" d="M846 771l17-4-17-6-18 5z"/><path fill="#0f2" d="M1234 789l17-5-17-6-18 4z"/><path fill="#0f1" d="M881 773l18-5-18-6-18 5z"/><path fill="#0f2" d="M1198 787l18-5-18-6-17 4z"/><path fill="#0f1" d="M916 774l18-5-18-6-17 5z"/><path fill="#0f2" d="M1163 785l18-5-18-6-17 4z"/><path fill="#0f1" d="M952 775l17-5-17-6-18 5z"/><path fill="#0f2" d="M1128 783l18-5-18-6-18 5z"/><path fill="#0f1" d="M987 776l18-4-18-6-18 4z"/><path fill="#0f2" d="M1093 781l17-4-17-7-18 5z"/><path fill="#0f1" d="M1022 778l18-5-18-6-17 5z"/><path fill="#0f2" d="M1057 779l18-4-18-6-17 4z"/><path fill="#0f3" d="M1287 797l17-4-18-6-17 4z"/><path fill="#0f2" d="M1251 795l18-4-18-7-17 5z"/><path fill="#0f1" d="M863 777l18-4-18-6-17 4z"/><path fill="#0f2" d="M1216 793l18-4-18-7-18 5z"/><path fill="#0f1" d="M899 778l17-4-17-6-18 5z"/><path fill="#0f2" d="M1181 791l17-4-17-7-18 5z"/><path fill="#0f1" d="M934 779l18-4-18-6-18 5z"/><path fill="#0f2" d="M1146 789l17-4-17-7-18 5z"/><path fill="#0f1" d="M969 781l18-5-18-6-17 5z"/><path fill="#0f2" d="M1110 787l18-4-18-6-17 4z"/><path fill="#0f1" d="M1005 782l17-4-17-6-18 4z"/><path fill="#0f2" d="M1075 785l18-4-18-6-18 4z"/><path fill="#0f1" d="M1040 784l17-5-17-6-18 5z"/><path fill="#0f2" d="M1269 801l18-4-18-6-18 4zM1234 799l17-4-17-6-18 4z"/><path fill="#0f1" d="M881 783l18-5-18-5-18 4z"/><path fill="#0f2" d="M1199 797l17-4-18-6-17 4z"/><path fill="#0f1" d="M916 784l18-5-18-5-17 4z"/><path fill="#0f2" d="M1163 795l18-4-18-6-17 4z"/><path fill="#0f1" d="M952 785l17-4-17-6-18 4z"/><path fill="#0f2" d="M1128 793l18-4-18-6-18 4z"/><path fill="#0f1" d="M987 787l18-5-18-6-18 5zM1093 791l17-4-17-6-18 4zM1022 788l18-4-18-6-17 4zM1058 790l17-5-18-6-17 5z"/><path fill="#0f2" d="M1251 805l18-4-18-6-17 4zM1216 803l18-4-18-6-17 4z"/><path fill="#0f1" d="M899 788l17-4-17-6-18 5z"/><path fill="#0f2" d="M1181 801l18-4-18-6-18 4z"/><path fill="#0f1" d="M934 790l18-5-18-6-18 5z"/><path fill="#0f2" d="M1146 799l17-4-17-6-18 4z"/><path fill="#0f1" d="M969 791l18-4-18-6-17 4zM1110 797l18-4-18-6-17 4zM1005 792l17-4-17-6-18 5zM1075 796l18-5-18-6-17 5zM1040 794l18-4-18-6-18 4z"/><path fill="#0f2" d="M1234 809l17-4-17-6-18 4zM1199 807l17-4-17-6-18 4z"/><path fill="#0f1" d="M916 794l18-4-18-6-17 4z"/><path fill="#0f2" d="M1163 805l18-4-18-6-17 4z"/><path fill="#0f1" d="M952 795l17-4-17-6-18 5zM1128 803l18-4-18-6-18 4zM987 797l18-5-18-5-18 4zM1093 802l17-5-17-6-18 5zM1022 798l18-4-18-6-17 4zM1058 800l17-4-17-6-18 4z"/><path fill="#0f2" d="M1216 813l18-4-18-6-17 4zM1181 811l18-4-18-6-18 4z"/><path fill="#0f1" d="M934 800l18-5-18-5-18 4zM1146 809l17-4-17-6-18 4zM969 801l18-4-18-6-17 4zM1111 807l17-4-18-6-17 5zM1005 803l17-5-17-6-18 5zM1075 806l18-4-18-6-17 4zM1040 804l18-4-18-6-18 4z"/><path fill="#0f2" d="M1199 817l17-4-17-6-18 4z"/><path fill="#0f1" d="M1163 815l18-4-18-6-17 4zM952 805l17-4-17-6-18 5zM1128 813l18-4-18-6-17 4zM987 807l18-4-18-6-18 4zM1093 812l18-5-18-5-18 4zM1022 808l18-4-18-6-17 5zM1058 810l17-4-17-6-18 4zM1181 821l18-4-18-6-18 4zM1146 819l17-4-17-6-18 4zM969 811l18-4-18-6-17 4zM1111 818l17-5-17-6-18 5zM1005 813l17-5-17-5-18 4zM1075 816l18-4-18-6-17 4zM1040 814l18-4-18-6-18 4zM1164 825l17-4-18-6-17 4zM1128 823l18-4-18-6-17 5zM987 817l18-4-18-6-18 4zM1093 822l18-4-18-6-18 4zM1022 818l18-4-18-6-17 5zM1058 820l17-4-17-6-18 4zM1146 829l18-4-18-6-18 4zM1111 827l17-4-17-5-18 4zM1005 822l17-4-17-5-18 4zM1075 826l18-4-18-6-17 4zM1040 824l18-4-18-6-18 4zM1128 833l18-4-18-6-17 4zM1093 831l18-4-18-5-18 4zM1022 828l18-4-18-6-17 4zM1058 830l17-4-17-6-18 4zM1111 837l17-4-17-6-18 4zM1075 835l18-4-18-5-17 4zM1040 834l18-4-18-6-18 4zM1093 841l18-4-18-6-18 4zM1058 839l17-4-17-5-18 4zM1075 845l18-4-18-6-17 4z"/></g>
<text class="t" x="34.1" y="95.9" text-anchor="end">0.5</text>
<text class="t" x="33.3" y="77.5" text-anchor="end">1.1</text>
<text class="t" x="32.6" y="59" text-anchor="end">1.8</text>
<text class="t" x="31.8" y="40.6" text-anchor="end">2.4</text>
<text class="t" x="31.1" y="22.1" text-anchor="end">3.0</text>
<text class="t" x="35.3" y="128" text-anchor="end">289</text>
<text class="t" x="52.3" y="136.4" text-anchor="end">280</text>
<text class="t" x="69.4" y="144.8" text-anchor="end">272</text>
<text class="t" x="86.5" y="153.2" text-anchor="end">263</text>
<text class="t" x="103.5" y="161.6" text-anchor="end">255</text>
<text class="t" x="111.5" y="161.6">6.0</text>
<text class="t" x="128.4" y="153.1">9.5</text>
<text class="t" x="145.4" y="144.7">13.0</text>
<text class="t" x="162.4" y="136.2">16.5</text>
<text class="t" x="179.3" y="127.7">20.0</text>
<text class="ti" x="49.4" y="154.4" font-size="13" text-anchor="middle" transform="rotate(15 49.4 151.4)">σ</text>
<text class="ti" x="166.4" y="155.9" font-size="11" text-anchor="middle" transform="rotate(-40 166.4 152.4)">d</text>
<text class="ti" x="105" y="17.2" font-size="11" text-anchor="middle">(a)</text>
<text class="ti" x="7" y="69.5" font-size="12" text-anchor="middle" transform="rotate(-90 7 66.5)"><tspan font-size="6.5" dy="-3.5">c</tspan><tspan dy="3.5">R</tspan><tspan font-size="6.5" dy="1.5">a</tspan></text>
</g>
<g>
<path class="g" d="M214.5 97.5L283.1 73.7"/>
<path class="g" d="M283.1 73.7L351.5 97.1"/>
<path class="g" d="M213.7 79.2L283.1 57.1"/>
<path class="g" d="M283.1 57.1L352.2 78.7"/>
<path class="g" d="M212.9 60.9L283.1 40.5"/>
<path class="g" d="M283.1 40.5L353 60.3"/>
<path class="g" d="M212.1 42.5L283.1 23.9"/>
<path class="g" d="M283.1 23.9L353.7 42"/>
<path class="g" d="M211.3 24.2L283.1 7.3"/>
<path class="g" d="M283.1 7.3L354.5 23.6"/>
<path class="g" d="M231.6 91.6L229.3 20"/>
<path class="g" d="M334.4 91.2L336.6 19.5"/>
<path class="g" d="M248.8 85.6L247.2 15.8"/>
<path class="g" d="M317.3 85.4L318.8 15.5"/>
<path class="g" d="M265.9 79.6L265.2 11.5"/>
<path class="g" d="M300.2 79.5L301 11.4"/>
<path class="g" d="M215.5 120.5L211.3 24.2"/>
<path class="g" d="M283.1 94.5L283.1 7.3"/>
<path class="g" d="M350.5 120.1L354.5 23.6"/>
<path class="k" d="M214.5 97.5L212.7 97.5"/>
<path class="k" d="M213.7 79.2L211.9 79.2"/>
<path class="k" d="M212.9 60.9L211.1 60.9"/>
<path class="k" d="M212.1 42.5L210.3 42.5"/>
<path class="k" d="M211.3 24.2L209.5 24.2"/>
<path class="fl" d="M215.5 120.5L283.1 94.5L350.5 120.1L282.8 154Z"/>
<clipPath id="fb"><path class="" d="M215.5 120.5L283.1 94.5L350.5 120.1L282.8 154Z"/></clipPath>
<g clip-path="url(#fb)"><path class="ct" d="M232 128.7C235 127.4 243.4 123.4 250 120.7C256.6 118 264.5 115 271.8 112.5C279.1 110 288.3 107.7 293.6 106C298.9 104.3 301.9 102.8 303.5 102.2M242 133.7C245.2 132 254.1 126.8 260.9 123.4C267.7 120 275.9 115.9 282.7 113.1C289.5 110.3 297.1 107.8 301.7 106.4C306.3 105 309 105.1 310.5 104.8M257.2 141.6C257.5 140.3 256.8 136.5 259.2 133.7C261.6 130.8 266.1 127.9 271.8 124.5C277.5 121.1 285.9 115.9 293.6 113.1C301.3 110.3 313.9 108.5 318 107.6M275 150.3C275.3 147.5 274.4 138 276.6 133.7C278.8 129.4 283.6 127.8 288.2 124.5C292.8 121.2 298.4 116.6 304.5 114.2C310.6 111.8 321.2 111 324.5 110.3M289.2 151C289.3 149 289.2 142.4 289.7 139.2C290.1 135.9 289.5 134.9 291.9 131.5C294.3 128.1 300.4 121.6 304 118.7C307.6 115.8 308.8 115 313.4 114C318 113 328.5 113.1 331.5 112.9"/></g>
<path class="k" d="M266 145.6L265 146.1"/>
<path class="k" d="M299.7 145.5L300.7 146"/>
<path class="k" d="M249.2 137.2L248.2 137.7"/>
<path class="k" d="M316.6 137.1L317.6 137.5"/>
<path class="k" d="M232.3 128.9L231.4 129.3"/>
<path class="k" d="M333.6 128.6L334.5 129"/>
<g class="sf" stroke-width="2" transform="scale(.1)"><path fill="#0f0" d="M2831 294l18-7-18-11-18 8zM2849 305l17-8-17-10-18 7zM2813 302l18-8-18-10-17 7zM2866 315l18-7-18-11-17 8zM2831 312l18-7-18-11-18 8zM2796 309l17-7-17-11-18 8zM2884 326l17-7-17-11-18 7zM2848 323l18-8-17-10-18 7zM2813 319l18-7-18-10-17 7zM2778 316l18-7-18-10-18 7zM2901 337l18-8-18-10-17 7zM2866 333l18-7-18-11-18 8zM2831 330l17-7-17-11-18 7zM2760 324l18-8-18-10-17 8zM2795 327l18-8-17-10-18 7zM2919 348l17-8-17-11-18 8zM2884 344l17-7-17-11-18 7zM2848 340l18-7-18-10-17 7zM2743 331l17-7-17-10-18 7zM2813 337l18-7-18-11-18 8zM2778 334l17-7-17-11-18 8zM2936 359l18-8-18-11-17 8zM2901 355l18-7-18-11-17 7zM2866 351l18-7-18-11-18 7zM2725 338l18-7-18-10-18 7zM2831 347l17-7-17-10-18 7zM2760 341l18-7-18-10-17 7zM2795 344l18-7-18-10-17 7zM2954 370l17-7-17-12-18 8zM2919 366l17-7-17-11-18 7zM2883 362l18-7-17-11-18 7zM2707 345l18-7-18-10-17 8zM2848 358l18-7-18-11-17 7zM2742 348l18-7-17-10-18 7zM2813 355l18-8-18-10-18 7zM2778 351l17-7-17-10-18 7zM2971 381l18-7-18-11-17 7zM2936 377l18-7-18-11-17 7zM2901 373l18-7-18-11-18 7zM2690 353l17-8-17-9-18 7zM2866 369l17-7-17-11-18 7zM2725 355l17-7-17-10-18 7zM2831 365l17-7-17-11-18 8zM2760 358l18-7-18-10-18 7zM2795 362l18-7-18-11-17 7zM2989 392l17-7-17-11-18 7zM2954 388l17-7-17-11-18 7zM2919 383l17-6-17-11-18 7zM2672 360l18-7-18-10-18 7zM2883 379l18-6-18-11-17 7zM2707 363l18-8-18-10-17 8zM2848 376l18-7-18-11-17 7zM2742 366l18-8-18-10-17 7zM2813 372l18-7-18-10-18 7zM2778 369l17-7-17-11-18 7zM3006 404l18-7-18-12-17 7zM2971 399l18-7-18-11-17 7zM2936 395l18-7-18-11-17 6zM2654 367l18-7-18-10-17 7zM2901 390l18-7-18-10-18 6zM2690 370l17-7-17-10-18 7zM2866 386l17-7-17-10-18 7zM2725 373l17-7-17-11-18 8zM2830 383l18-7-17-11-18 7zM2760 376l18-7-18-11-18 8zM2795 379l18-7-18-10-17 7zM3024 415l17-7-17-11-18 7zM2989 410l17-6-17-12-18 7zM2954 406l17-7-17-11-18 7zM2637 374l17-7-17-10-18 7zM2918 401l18-6-17-12-18 7zM2672 377l18-7-18-10-18 7zM2883 397l18-7-18-11-17 7zM2707 380l18-7-18-10-17 7zM2848 393l18-7-18-10-18 7zM2742 383l18-7-18-10-17 7zM2813 390l17-7-17-11-18 7zM2778 386l17-7-17-10-18 7zM3041 427l18-7-18-12-17 7zM3006 422l18-7-18-11-17 6zM2971 417l18-7-18-11-17 7zM2619 381l18-7-18-10-18 7zM2936 412l18-6-18-11-18 6zM2654 384l18-7-18-10-17 7zM2901 408l17-7-17-11-18 7zM2690 386l17-6-17-10-18 7zM2866 404l17-7-17-11-18 7zM2725 390l17-7-17-10-18 7zM2830 400l18-7-18-10-17 7zM2760 393l18-7-18-10-18 7zM2795 396l18-6-18-11-17 7zM3059 438l17-6-17-12-18 7zM3024 433l17-6-17-12-18 7zM2988 428l18-6-17-12-18 7zM2601 388l18-7-18-10-17 7zM2953 424l18-7-17-11-18 6zM2637 391l17-7-17-10-18 7zM2918 419l18-7-18-11-17 7zM2672 393l18-7-18-9-18 7zM2883 415l18-7-18-11-17 7zM2707 396l18-6-18-10-17 6zM2848 411l18-7-18-11-18 7zM2742 400l18-7-18-10-17 7zM2813 407l17-7-17-10-18 6zM2778 403l17-7-17-10-18 7z"/><path fill="#0f1" d="M3076 450l18-6-18-12-17 6z"/><path fill="#0f0" d="M3041 445l18-7-18-11-17 6zM3006 440l18-7-18-11-18 6zM2584 395l17-7-17-10-18 7zM2971 435l17-7-17-11-18 7zM2619 397l18-6-18-10-18 7zM2936 430l17-6-17-12-18 7zM2654 400l18-7-18-9-17 7zM2901 426l17-7-17-11-18 7zM2689 403l18-7-17-10-18 7zM2865 422l18-7-17-11-18 7zM2725 407l17-7-17-10-18 6zM2830 418l18-7-18-11-17 7zM2760 410l18-7-18-10-18 7zM2795 414l18-7-18-11-17 7z"/><path fill="#0f1" d="M3093 462l18-6-17-12-18 6zM3058 457l18-7-17-12-18 7z"/><path fill="#0f0" d="M3023 452l18-7-17-12-18 7zM2566 402l18-7-18-10-18 7zM2988 446l18-6-18-12-17 7zM2601 404l18-7-18-9-17 7zM2953 442l18-7-18-11-17 6zM2637 407l17-7-17-9-18 6zM2918 437l18-7-18-11-17 7zM2672 410l17-7-17-10-18 7zM2883 433l18-7-18-11-18 7zM2707 413l18-6-18-11-18 7zM2848 428l17-6-17-11-18 7zM2742 417l18-7-18-10-17 7zM2813 424l17-6-17-11-18 7zM2778 420l17-6-17-11-18 7z"/><path fill="#0f1" d="M3111 474l17-6-17-12-18 6zM3076 469l17-7-17-12-18 7zM3041 463l17-6-17-12-18 7z"/><path fill="#0f0" d="M2548 409l18-7-18-10-17 7zM3006 458l17-6-17-12-18 6zM2584 411l17-7-17-9-18 7zM2971 453l17-7-17-11-18 7zM2619 414l18-7-18-10-18 7zM2936 448l17-6-17-12-18 7zM2654 417l18-7-18-10-17 7zM2901 444l17-7-17-11-18 7zM2689 420l18-7-18-10-17 7zM2865 439l18-6-18-11-17 6zM2725 423l17-6-17-10-18 6zM2830 435l18-7-18-10-17 6zM2760 427l18-7-18-10-18 7zM2795 431l18-7-18-10-17 6z"/><path fill="#0f2" d="M3128 487l18-7-18-12-17 6z"/><path fill="#0f1" d="M3093 481l18-7-18-12-17 7zM3058 475l18-6-18-12-17 6z"/><path fill="#0f0" d="M2531 415l17-6-17-10-18 7z"/><path fill="#0f1" d="M3023 470l18-7-18-11-17 6z"/><path fill="#0f0" d="M2566 418l18-7-18-9-18 7zM2988 464l18-6-18-12-17 7zM2601 421l18-7-18-10-17 7zM2953 459l18-6-18-11-17 6zM2637 424l17-7-17-10-18 7zM2918 455l18-7-18-11-17 7zM2672 427l17-7-17-10-18 7zM2883 450l18-6-18-11-18 6zM2707 430l18-7-18-10-18 7zM2848 446l17-7-17-11-18 7zM2742 434l18-7-18-10-17 6zM2813 441l17-6-17-11-18 7zM2777 437l18-6-17-11-18 7z"/><path fill="#0f2" d="M3145 499l18-6-17-13-18 7zM3111 493l17-6-17-13-18 7z"/><path fill="#0f1" d="M3076 487l17-6-17-12-18 6z"/><path fill="#0f0" d="M2513 422l18-7-18-9-17 7z"/><path fill="#0f1" d="M3041 481l17-6-17-12-18 7z"/><path fill="#0f0" d="M2549 425l17-7-18-9-17 6z"/><path fill="#0f1" d="M3006 476l17-6-17-12-18 6z"/><path fill="#0f0" d="M2584 427l17-6-17-10-18 7zM2971 471l17-7-17-11-18 6zM2619 430l18-6-18-10-18 7zM2936 466l17-7-17-11-18 7zM2654 433l18-6-18-10-17 7zM2900 461l18-6-17-11-18 6zM2689 437l18-7-18-10-17 7zM2865 457l18-7-18-11-17 7zM2725 440l17-6-17-11-18 7zM2830 452l18-6-18-11-17 6zM2760 444l17-7-17-10-18 7zM2795 448l18-7-18-10-18 6z"/><path fill="#0f3" d="M3163 511l17-6-17-12-18 6z"/><path fill="#0f2" d="M3128 505l17-6-17-12-17 6zM3093 499l18-6-18-12-17 6z"/><path fill="#0f0" d="M2496 429l17-7-17-9-18 7z"/><path fill="#0f1" d="M3058 493l18-6-18-12-17 6z"/><path fill="#0f0" d="M2531 431l18-6-18-10-18 7z"/><path fill="#0f1" d="M3023 488l18-7-18-11-17 6z"/><path fill="#0f0" d="M2566 434l18-7-18-9-17 7z"/><path fill="#0f1" d="M2988 482l18-6-18-12-17 7z"/><path fill="#0f0" d="M2601 437l18-7-18-9-17 6z"/><path fill="#0f1" d="M2953 477l18-6-18-12-17 7z"/><path fill="#0f0" d="M2637 440l17-7-17-9-18 6zM2918 472l18-6-18-11-18 6zM2672 443l17-6-17-10-18 6zM2883 467l17-6-17-11-18 7zM2707 447l18-7-18-10-18 7zM2848 463l17-6-17-11-18 6zM2742 450l18-6-18-10-17 6zM2813 459l17-7-17-11-18 7zM2777 454l18-6-18-11-17 7z"/><path fill="#0f4" d="M3180 524l18-6-18-13-17 6z"/><path fill="#0f3" d="M3145 518l18-7-18-12-17 6z"/><path fill="#0f2" d="M3110 511l18-6-17-12-18 6z"/><path fill="#0f0" d="M2478 435l18-6-18-9-18 7z"/><path fill="#0f2" d="M3075 505l18-6-17-12-18 6z"/><path fill="#0f0" d="M2513 438l18-7-18-9-17 7z"/><path fill="#0f1" d="M3040 500l18-7-17-12-18 7z"/><path fill="#0f0" d="M2549 441l17-7-17-9-18 6z"/><path fill="#0f1" d="M3005 494l18-6-17-12-18 6z"/><path fill="#0f0" d="M2584 443l17-6-17-10-18 7z"/><path fill="#0f1" d="M2970 489l18-7-17-11-18 6z"/><path fill="#0f0" d="M2619 446l18-6-18-10-18 7z"/><path fill="#0f1" d="M2935 484l18-7-17-11-18 6z"/><path fill="#0f0" d="M2654 450l18-7-18-10-17 7zM2900 479l18-7-18-11-17 6zM2689 453l18-6-18-10-17 6zM2865 474l18-7-18-10-17 6zM2725 457l17-7-17-10-18 7zM2830 469l18-6-18-11-17 7zM2760 461l17-7-17-10-18 6zM2795 465l18-6-18-11-18 6z"/><path fill="#0f5" d="M3197 537l18-7-17-12-18 6z"/><path fill="#0f4" d="M3163 530l17-6-17-13-18 7z"/><path fill="#0f3" d="M3128 524l17-6-17-13-18 6z"/><path fill="#0f0" d="M2460 442l18-7-18-8-17 6z"/><path fill="#0f2" d="M3093 518l17-7-17-12-18 6z"/><path fill="#0f0" d="M2496 444l17-6-17-9-18 6z"/><path fill="#0f2" d="M3058 512l17-7-17-12-18 7z"/><path fill="#0f0" d="M2531 447l18-6-18-10-18 7z"/><path fill="#0f1" d="M3023 506l17-6-17-12-18 6z"/><path fill="#0f0" d="M2566 450l18-7-18-9-17 7z"/><path fill="#0f1" d="M2988 500l17-6-17-12-18 7z"/><path fill="#0f0" d="M2601 453l18-7-18-9-17 6z"/><path fill="#0f1" d="M2953 495l17-6-17-12-18 7z"/><path fill="#0f0" d="M2637 456l17-6-17-10-18 6z"/><path fill="#0f1" d="M2918 490l17-6-17-12-18 7z"/><path fill="#0f0" d="M2672 460l17-7-17-10-18 7zM2883 485l17-6-17-12-18 7zM2707 463l18-6-18-10-18 6z"/><path fill="#0e6" d="M3215 549l17-6-17-13-18 7z"/><path fill="#0f0" d="M2848 480l17-6-17-11-18 6zM2742 467l18-6-18-11-17 7zM2812 476l18-7-17-10-18 6zM2777 471l18-6-18-11-17 7z"/><path fill="#0f5" d="M3180 543l17-6-17-13-17 6z"/><path fill="#0f4" d="M3145 536l18-6-18-12-17 6z"/><path fill="#0f0" d="M2443 449l17-7-17-9-18 7z"/><path fill="#0f3" d="M3110 530l18-6-18-13-17 7z"/><path fill="#0f0" d="M2478 451l18-7-18-9-18 7z"/><path fill="#0f3" d="M3075 524l18-6-18-13-17 7z"/><path fill="#0f0" d="M2513 454l18-7-18-9-17 6z"/><path fill="#0f2" d="M3040 518l18-6-18-12-17 6z"/><path fill="#0f0" d="M2549 456l17-6-17-9-18 6z"/><path fill="#0f1" d="M3005 512l18-6-18-12-17 6z"/><path fill="#0f0" d="M2584 459l17-6-17-10-18 7z"/><path fill="#0f1" d="M2970 506l18-6-18-11-17 6z"/><path fill="#0f0" d="M2619 463l18-7-18-10-18 7z"/><path fill="#0f1" d="M2935 501l18-6-18-11-17 6z"/><path fill="#0f0" d="M2654 466l18-6-18-10-17 6z"/><path fill="#0e7" d="M3232 562l17-6-17-13-17 6z"/><path fill="#0f1" d="M2900 496l18-6-18-11-17 6z"/><path fill="#0f0" d="M2689 470l18-7-18-10-17 7zM2865 491l18-6-18-11-17 6zM2725 474l17-7-17-10-18 6zM2830 486l18-6-18-11-18 7zM2760 478l17-7-17-10-18 6zM2795 482l17-6-17-11-18 6z"/><path fill="#0e6" d="M3197 555l18-6-18-12-17 6z"/><path fill="#0f5" d="M3162 549l18-6-17-13-18 6z"/><path fill="#0f0" d="M2425 455l18-6-18-9-17 6z"/><path fill="#0f4" d="M3127 542l18-6-17-12-18 6z"/><path fill="#0f0" d="M2460 458l18-7-18-9-17 7z"/><path fill="#0f3" d="M3093 536l17-6-17-12-18 6z"/><path fill="#0f0" d="M2496 460l17-6-17-10-18 7z"/><path fill="#0f3" d="M3058 530l17-6-17-12-18 6z"/><path fill="#0f0" d="M2531 463l18-7-18-9-18 7z"/><path fill="#0f2" d="M3023 524l17-6-17-12-18 6z"/><path fill="#0f0" d="M2566 466l18-7-18-9-17 6z"/><path fill="#0f1" d="M2988 518l17-6-17-12-18 6z"/><path fill="#0f0" d="M2601 469l18-6-18-10-17 6z"/><path fill="#0e8" d="M3249 575l18-6-18-13-17 6z"/><path fill="#0f1" d="M2953 513l17-7-17-11-18 6z"/><path fill="#0f0" d="M2637 472l17-6-17-10-18 7z"/><path fill="#0f1" d="M2918 507l17-6-17-11-18 6z"/><path fill="#0f0" d="M2672 476l17-6-17-10-18 6z"/><path fill="#0f1" d="M2883 502l17-6-17-11-18 6z"/><path fill="#0f0" d="M2707 480l18-6-18-11-18 7zM2848 497l17-6-17-11-18 6zM2742 484l18-6-18-11-17 7z"/><path fill="#0e7" d="M3214 568l18-6-17-13-18 6z"/><path fill="#0f0" d="M2812 493l18-7-18-10-17 6zM2777 488l18-6-18-11-17 7z"/><path fill="#0e6" d="M3180 561l17-6-17-12-18 6z"/><path fill="#0f0" d="M2408 462l17-7-17-9-18 7z"/><path fill="#0f5" d="M3145 555l17-6-17-13-18 6z"/><path fill="#0f0" d="M2443 464l17-6-17-9-18 6z"/><path fill="#0f4" d="M3110 548l17-6-17-12-17 6z"/><path fill="#0f0" d="M2478 467l18-7-18-9-18 7z"/><path fill="#0f3" d="M3075 542l18-6-18-12-17 6z"/><path fill="#0f0" d="M2513 469l18-6-18-9-17 6z"/><path fill="#0f3" d="M3040 536l18-6-18-12-17 6z"/><path fill="#0f0" d="M2549 472l17-6-17-10-18 7z"/><path fill="#0e9" d="M3266 588l18-5-17-14-18 6z"/><path fill="#0f2" d="M3005 530l18-6-18-12-17 6z"/><path fill="#0f0" d="M2584 475l17-6-17-10-18 7z"/><path fill="#0f2" d="M2970 524l18-6-18-12-17 7z"/><path fill="#0f0" d="M2619 479l18-7-18-9-18 6z"/><path fill="#0f1" d="M2935 519l18-6-18-12-17 6z"/><path fill="#0f0" d="M2654 482l18-6-18-10-17 6z"/><path fill="#0e8" d="M3232 581l17-6-17-13-18 6z"/><path fill="#0f1" d="M2900 513l18-6-18-11-17 6z"/><path fill="#0f0" d="M2689 486l18-6-18-10-17 6z"/><path fill="#0f1" d="M2865 508l18-6-18-11-17 6z"/><path fill="#0f0" d="M2725 490l17-6-17-10-18 6zM2830 503l18-6-18-11-18 7zM2760 494l17-6-17-10-18 6zM2795 499l17-6-17-11-18 6z"/><path fill="#0e7" d="M3197 574l17-6-17-13-17 6z"/><path fill="#0f0" d="M2390 468l18-6-18-9-18 7z"/><path fill="#0e6" d="M3162 567l18-6-18-12-17 6z"/><path fill="#0f0" d="M2425 470l18-6-18-9-17 7z"/><path fill="#0f5" d="M3127 560l18-5-18-13-17 6z"/><path fill="#0f0" d="M2461 473l17-6-18-9-17 6z"/><path fill="#0f4" d="M3092 554l18-6-17-12-18 6z"/><path fill="#0f0" d="M2496 476l17-7-17-9-18 7z"/><path fill="#0f3" d="M3057 548l18-6-17-12-18 6z"/><path fill="#0f0" d="M2531 479l18-7-18-9-18 6z"/><path fill="#0eb" d="M3284 602l17-6-17-13-18 5z"/><path fill="#0f3" d="M3023 542l17-6-17-12-18 6z"/><path fill="#0f0" d="M2566 482l18-7-18-9-17 6z"/><path fill="#0f2" d="M2988 536l17-6-17-12-18 6z"/><path fill="#0f0" d="M2601 485l18-6-18-10-17 6z"/><path fill="#0e9" d="M3249 594l17-6-17-13-17 6z"/><path fill="#0f2" d="M2953 530l17-6-17-11-18 6z"/><path fill="#0f0" d="M2637 489l17-7-17-10-18 7z"/><path fill="#0f1" d="M2918 525l17-6-17-12-18 6z"/><path fill="#0f0" d="M2672 492l17-6-17-10-18 6z"/><path fill="#0f1" d="M2883 519l17-6-17-11-18 6z"/><path fill="#0f0" d="M2707 496l18-6-18-10-18 6z"/><path fill="#0f1" d="M2847 514l18-6-17-11-18 6z"/><path fill="#0f0" d="M2742 500l18-6-18-10-17 6z"/><path fill="#0e8" d="M3214 587l18-6-18-13-17 6z"/><path fill="#0f1" d="M2812 509l18-6-18-10-17 6z"/><path fill="#0f0" d="M2777 505l18-6-18-11-17 6zM2372 475l18-7-18-8-17 6z"/><path fill="#0e7" d="M3179 580l18-6-17-13-18 6z"/><path fill="#0f0" d="M2408 477l17-7-17-8-18 6z"/><path fill="#0e6" d="M3145 573l17-6-17-12-18 5z"/><path fill="#0f0" d="M2443 479l18-6-18-9-18 6z"/><path fill="#0f5" d="M3110 566l17-6-17-12-18 6z"/><path fill="#0f0" d="M2478 482l18-6-18-9-17 6z"/><path fill="#0ec" d="M3301 615l17-6-17-13-17 6z"/><path fill="#0f4" d="M3075 560l17-6-17-12-18 6z"/><path fill="#0f0" d="M2513 485l18-6-18-10-17 7z"/><path fill="#0f3" d="M3040 554l17-6-17-12-17 6z"/><path fill="#0f0" d="M2549 488l17-6-17-10-18 7z"/><path fill="#0eb" d="M3266 607l18-5-18-14-17 6z"/><path fill="#0f3" d="M3005 548l18-6-18-12-17 6z"/><path fill="#0f0" d="M2584 491l17-6-17-10-18 7z"/><path fill="#0f2" d="M2970 542l18-6-18-12-17 6z"/><path fill="#0f0" d="M2619 495l18-6-18-10-18 6z"/><path fill="#0f2" d="M2935 536l18-6-18-11-17 6z"/><path fill="#0f0" d="M2654 498l18-6-18-10-17 7z"/><path fill="#0e9" d="M3231 600l18-6-17-13-18 6z"/><path fill="#0f0" d="M2355 481l17-6-17-9-18 7z"/><path fill="#0f1" d="M2900 531l18-6-18-12-17 6z"/><path fill="#0f0" d="M2689 502l18-6-18-10-17 6z"/><path fill="#0f1" d="M2865 525l18-6-18-11-18 6z"/><path fill="#0f0" d="M2724 507l18-7-17-10-18 6z"/><path fill="#0f1" d="M2830 520l17-6-17-11-18 6z"/><path fill="#0f0" d="M2760 511l17-6-17-11-18 6z"/><path fill="#0f1" d="M2795 516l17-7-17-10-18 6z"/><path fill="#0e8" d="M3197 593l17-6-17-13-18 6z"/><path fill="#0f0" d="M2390 483l18-6-18-9-18 7z"/><path fill="#0e7" d="M3162 586l17-6-17-13-17 6z"/><path fill="#0f0" d="M2425 486l18-7-18-9-17 7z"/><path fill="#0e6" d="M3127 579l18-6-18-13-17 6z"/><path fill="#0f0" d="M2461 488l17-6-17-9-18 6z"/><path fill="#0ed" d="M3318 629l17-6-17-14-17 6z"/><path fill="#0f5" d="M3092 572l18-6-18-12-17 6z"/><path fill="#0f0" d="M2496 491l17-6-17-9-18 6z"/><path fill="#0f4" d="M3057 566l18-6-18-12-17 6z"/><path fill="#0f0" d="M2531 494l18-6-18-9-18 6z"/><path fill="#0ec" d="M3283 621l18-6-17-13-18 5z"/><path fill="#0f3" d="M3022 559l18-5-17-12-18 6z"/><path fill="#0f0" d="M2566 497l18-6-18-9-17 6z"/><path fill="#0f3" d="M2987 553l18-5-17-12-18 6z"/><path fill="#0f0" d="M2601 501l18-6-18-10-17 6z"/><path fill="#0eb" d="M3249 613l17-6-17-13-18 6z"/><path fill="#0f0" d="M2337 487l18-6-18-8-17 6z"/><path fill="#0f2" d="M2952 548l18-6-17-12-18 6z"/><path fill="#0f0" d="M2637 505l17-7-17-9-18 6z"/><path fill="#0f2" d="M2917 542l18-6-17-11-18 6z"/><path fill="#0f0" d="M2672 508l17-6-17-10-18 6z"/><path fill="#0f1" d="M2882 536l18-5-17-12-18 6z"/><path fill="#0f0" d="M2707 513l17-6-17-11-18 6z"/><path fill="#0f1" d="M2847 531l18-6-18-11-17 6z"/><path fill="#0f0" d="M2742 517l18-6-18-11-18 7z"/><path fill="#0f1" d="M2812 526l18-6-18-11-17 7zM2777 522l18-6-18-11-17 6z"/><path fill="#0e9" d="M3214 606l17-6-17-13-17 6z"/><path fill="#0f0" d="M2372 489l18-6-18-8-17 6z"/><path fill="#0e8" d="M3179 598l18-5-18-13-17 6z"/><path fill="#0f0" d="M2408 492l17-6-17-9-18 6z"/><path fill="#0e7" d="M3144 591l18-5-17-13-18 6z"/><path fill="#0f0" d="M2443 494l18-6-18-9-18 7z"/><path fill="#0ee" d="M3335 642l17-5-17-14-17 6z"/><path fill="#0e6" d="M3110 585l17-6-17-13-18 6z"/><path fill="#0f0" d="M2478 497l18-6-18-9-17 6z"/><path fill="#0ed" d="M3300 634l18-5-17-14-18 6z"/><path fill="#0f5" d="M3075 578l17-6-17-12-18 6z"/><path fill="#0f0" d="M2513 500l18-6-18-9-17 6z"/><path fill="#0f4" d="M3040 571l17-5-17-12-18 5z"/><path fill="#0f0" d="M2549 503l17-6-17-9-18 6z"/><path fill="#0ec" d="M3266 626l17-5-17-14-17 6z"/><path fill="#0f0" d="M2320 493l17-6-17-8-18 6z"/><path fill="#0f3" d="M3005 565l17-6-17-11-18 5z"/><path fill="#0f0" d="M2584 507l17-6-17-10-18 6z"/><path fill="#0f3" d="M2970 559l17-6-17-11-18 6z"/><path fill="#0f0" d="M2619 511l18-6-18-10-18 6z"/><path fill="#0f2" d="M2935 553l17-5-17-12-18 6z"/><path fill="#0f0" d="M2654 514l18-6-18-10-17 7z"/><path fill="#0ea" d="M3231 619l18-6-18-13-17 6z"/><path fill="#0f0" d="M2355 496l17-7-17-8-18 6z"/><path fill="#0f2" d="M2900 548l17-6-17-11-18 5z"/><path fill="#0f0" d="M2689 519l18-6-18-11-17 6z"/><path fill="#0f1" d="M2865 542l17-6-17-11-18 6z"/><path fill="#0f0" d="M2724 523l18-6-18-10-17 6z"/><path fill="#0f1" d="M2830 537l17-6-17-11-18 6zM2760 527l17-5-17-11-18 6zM2795 532l17-6-17-10-18 6z"/><path fill="#0e9" d="M3196 611l18-5-17-13-18 5z"/><path fill="#0f0" d="M2390 498l18-6-18-9-18 6z"/><path fill="#0df" d="M3352 656l18-6-18-13-17 5z"/><path fill="#0e8" d="M3162 604l17-6-17-12-18 5z"/><path fill="#0f0" d="M2425 501l18-7-18-8-17 6z"/><path fill="#0e7" d="M3127 597l17-6-17-12-17 6z"/><path fill="#0f0" d="M2461 503l17-6-17-9-18 6z"/><path fill="#0ee" d="M3318 648l17-6-17-13-18 5z"/><path fill="#0e6" d="M3092 590l18-5-18-13-17 6z"/><path fill="#0f0" d="M2496 506l17-6-17-9-18 6z"/><path fill="#0f5" d="M3057 584l18-6-18-12-17 5z"/><path fill="#0f0" d="M2531 510l18-7-18-9-18 6z"/><path fill="#0ed" d="M3283 640l17-6-17-13-17 5z"/><path fill="#0f0" d="M2302 500l18-7-18-8-18 7z"/><path fill="#0f4" d="M3022 577l18-6-18-12-17 6z"/><path fill="#0f0" d="M2566 513l18-6-18-10-17 6z"/><path fill="#0f3" d="M2987 571l18-6-18-12-17 6z"/><path fill="#0f0" d="M2601 517l18-6-18-10-17 6z"/><path fill="#0ec" d="M3248 632l18-6-17-13-18 6z"/><path fill="#0f0" d="M2337 502l18-6-18-9-17 6z"/><path fill="#0f3" d="M2952 565l18-6-18-11-17 5z"/><path fill="#0f0" d="M2637 520l17-6-17-9-18 6z"/><path fill="#0f2" d="M2917 559l18-6-18-11-17 6z"/><path fill="#0f0" d="M2672 525l17-6-17-11-18 6z"/><path fill="#0f2" d="M2882 554l18-6-18-12-17 6z"/><path fill="#0f0" d="M2707 529l17-6-17-10-18 6z"/><path fill="#0f1" d="M2847 548l18-6-18-11-17 6zM2742 533l18-6-18-10-18 6zM2812 543l18-6-18-11-17 6zM2777 538l18-6-18-10-17 5z"/><path fill="#0ea" d="M3214 624l17-5-17-13-18 5z"/><path fill="#0f0" d="M2373 504l17-6-18-9-17 7z"/><path fill="#0cf" d="M3369 670l18-6-17-14-18 6z"/><path fill="#0e9" d="M3179 617l17-6-17-13-17 6z"/><path fill="#0f0" d="M2408 507l17-6-17-9-18 6z"/><path fill="#0e8" d="M3144 610l18-6-18-13-17 6z"/><path fill="#0f0" d="M2443 509l18-6-18-9-18 7z"/><path fill="#0df" d="M3335 661l17-5-17-14-17 6z"/><path fill="#0e7" d="M3109 603l18-6-17-12-18 5z"/><path fill="#0f0" d="M2478 512l18-6-18-9-17 6z"/><path fill="#0ee" d="M3300 653l18-5-18-14-17 6z"/><path fill="#0e6" d="M3074 596l18-6-17-12-18 6z"/><path fill="#0f0" d="M2513 516l18-6-18-10-17 6zM2285 506l17-6-18-8-17 6z"/><path fill="#0f5" d="M3040 589l17-5-17-13-18 6z"/><path fill="#0f0" d="M2549 519l17-6-17-10-18 7z"/><path fill="#0ed" d="M3266 645l17-5-17-14-18 6z"/><path fill="#0f4" d="M3005 583l17-6-17-12-18 6z"/><path fill="#0f0" d="M2584 523l17-6-17-10-18 6zM2320 508l17-6-17-9-18 7z"/><path fill="#0f3" d="M2970 577l17-6-17-12-18 6z"/><path fill="#0f0" d="M2619 526l18-6-18-9-18 6z"/><path fill="#0f3" d="M2935 571l17-6-17-12-18 6z"/><path fill="#0f0" d="M2654 530l18-5-18-11-17 6z"/><path fill="#0ec" d="M3231 637l17-5-17-13-17 5z"/><path fill="#0f0" d="M2355 510l18-6-18-8-18 6z"/><path fill="#0f2" d="M2900 565l17-6-17-11-18 6z"/><path fill="#0f0" d="M2689 535l18-6-18-10-17 6z"/><path fill="#0f2" d="M2865 559l17-5-17-12-18 6z"/><path fill="#0f1" d="M2724 539l18-6-18-10-17 6zM2830 554l17-6-17-11-18 6zM2760 544l17-6-17-11-18 6zM2795 549l17-6-17-11-18 6z"/><path fill="#0bf" d="M3386 684l18-6-17-14-18 6z"/><path fill="#0ea" d="M3196 630l18-6-18-13-17 6z"/><path fill="#0f0" d="M2390 513l18-6-18-9-17 6z"/><path fill="#0e9" d="M3161 622l18-5-17-13-18 6z"/><path fill="#0f0" d="M2425 515l18-6-18-8-17 6z"/><path fill="#0cf" d="M3352 675l17-5-17-14-17 5z"/><path fill="#0e8" d="M3127 615l17-5-17-13-18 6z"/><path fill="#0f0" d="M2461 518l17-6-17-9-18 6z"/><path fill="#0df" d="M3317 667l18-6-17-13-18 5z"/><path fill="#0f0" d="M2267 512l18-6-18-8-18 6z"/><path fill="#0e7" d="M3092 608l17-5-17-13-18 6z"/><path fill="#0f0" d="M2496 521l17-5-17-10-18 6z"/><path fill="#0e6" d="M3057 601l17-5-17-12-17 5z"/><path fill="#0f0" d="M2531 525l18-6-18-9-18 6z"/><path fill="#0ee" d="M3283 659l17-6-17-13-17 5z"/><path fill="#0f0" d="M2302 514l18-6-18-8-17 6z"/><path fill="#0f5" d="M3022 595l18-6-18-12-17 6z"/><path fill="#0f0" d="M2566 528l18-5-18-10-17 6z"/><path fill="#0f4" d="M2987 588l18-5-18-12-17 6z"/><path fill="#0f0" d="M2601 532l18-6-18-9-17 6z"/><path fill="#0ed" d="M3248 651l18-6-18-13-17 5z"/><path fill="#0f0" d="M2337 516l18-6-18-8-17 6z"/><path fill="#0f3" d="M2952 582l18-5-18-12-17 6z"/><path fill="#0f0" d="M2637 536l17-6-17-10-18 6z"/><path fill="#0af" d="M3403 698l18-5-17-15-18 6z"/><path fill="#0f3" d="M2917 576l18-5-18-12-17 6z"/><path fill="#0f0" d="M2672 540l17-5-17-10-18 5z"/><path fill="#0f2" d="M2882 570l18-5-18-11-17 5z"/><path fill="#0f1" d="M2707 545l17-6-17-10-18 6z"/><path fill="#0f2" d="M2847 565l18-6-18-11-17 6z"/><path fill="#0f1" d="M2742 550l18-6-18-11-18 6zM2812 560l18-6-18-11-17 6zM2777 555l18-6-18-11-17 6z"/><path fill="#0eb" d="M3213 643l18-6-17-13-18 6z"/><path fill="#0f0" d="M2373 519l17-6-17-9-18 6z"/><path fill="#0bf" d="M3369 689l17-5-17-14-17 5z"/><path fill="#0ea" d="M3179 635l17-5-17-13-18 5z"/><path fill="#0f0" d="M2408 521l17-6-17-8-18 6z"/><path fill="#0e9" d="M3144 628l17-6-17-12-17 5z"/><path fill="#0f0" d="M2443 524l18-6-18-9-18 6z"/><path fill="#0cf" d="M3334 681l18-6-17-14-18 6z"/><path fill="#0f0" d="M2249 518l18-6-18-8-17 6z"/><path fill="#0e8" d="M3109 621l18-6-18-12-17 5z"/><path fill="#0f0" d="M2478 527l18-6-18-9-17 6z"/><path fill="#0e7" d="M3074 614l18-6-18-12-17 5z"/><path fill="#0f0" d="M2513 531l18-6-18-9-17 5z"/><path fill="#0df" d="M3300 672l17-5-17-14-17 6z"/><path fill="#0f0" d="M2285 520l17-6-17-8-18 6z"/><path fill="#0e6" d="M3039 607l18-6-17-12-18 6z"/><path fill="#0f0" d="M2549 534l17-6-17-9-18 6z"/><path fill="#0f5" d="M3005 600l17-5-17-12-18 5z"/><path fill="#0f0" d="M2584 538l17-6-17-9-18 5z"/><path fill="#0ee" d="M3265 664l18-5-17-14-18 6z"/><path fill="#0f0" d="M2320 522l17-6-17-8-18 6z"/><path fill="#09f" d="M3420 712l18-5-17-14-18 5z"/><path fill="#0f4" d="M2970 594l17-6-17-11-18 5z"/><path fill="#0f0" d="M2619 542l18-6-18-10-18 6z"/><path fill="#0f3" d="M2935 588l17-6-17-11-18 5z"/><path fill="#0f0" d="M2654 546l18-6-18-10-17 6z"/><path fill="#0ed" d="M3231 656l17-5-17-14-18 6z"/><path fill="#0f3" d="M2900 582l17-6-17-11-18 5z"/><path fill="#0f1" d="M2689 551l18-6-18-10-17 5z"/><path fill="#0f0" d="M2355 525l18-6-18-9-18 6z"/><path fill="#0f2" d="M2865 576l17-6-17-11-18 6z"/><path fill="#0f1" d="M2724 555l18-5-18-11-17 6z"/><path fill="#0f2" d="M2830 571l17-6-17-11-18 6z"/><path fill="#0f1" d="M2759 560l18-5-17-11-18 6zM2795 565l17-5-17-11-18 6z"/><path fill="#0af" d="M3386 703l17-5-17-14-17 5z"/><path fill="#0eb" d="M3196 648l17-5-17-13-17 5z"/><path fill="#0f0" d="M2390 527l18-6-18-8-17 6z"/><path fill="#0ea" d="M3161 641l18-6-18-13-17 6z"/><path fill="#0f0" d="M2425 530l18-6-18-9-17 6z"/><path fill="#0bf" d="M3351 695l18-6-17-14-18 6z"/><path fill="#0f0" d="M2232 524l17-6-17-8-18 6z"/><path fill="#0e9" d="M3126 633l18-5-17-13-18 6z"/><path fill="#0f0" d="M2461 533l17-6-17-9-18 6z"/><path fill="#0cf" d="M3317 686l17-5-17-14-17 5z"/><path fill="#0f0" d="M2267 526l18-6-18-8-18 6z"/><path fill="#0e8" d="M3092 626l17-5-17-13-18 6z"/><path fill="#0f0" d="M2496 537l17-6-17-10-18 6z"/><path fill="#0e7" d="M3057 619l17-5-17-13-18 6z"/><path fill="#0f0" d="M2531 540l18-6-18-9-18 6z"/><path fill="#0df" d="M3282 678l18-6-17-13-18 5z"/><path fill="#0f0" d="M2302 528l18-6-18-8-17 6z"/><path fill="#08f" d="M3437 727l18-6-17-14-18 5z"/><path fill="#0e6" d="M3022 612l17-5-17-12-17 5z"/><path fill="#0f0" d="M2566 544l18-6-18-10-17 6z"/><path fill="#0f5" d="M2987 606l18-6-18-12-17 6z"/><path fill="#0f0" d="M2601 548l18-6-18-10-17 6z"/><path fill="#0ee" d="M3248 669l17-5-17-13-17 5z"/><path fill="#0f0" d="M2337 531l18-6-18-9-17 6z"/><path fill="#0f4" d="M2952 599l18-5-18-12-17 6z"/><path fill="#0f1" d="M2636 552l18-6-17-10-18 6z"/><path fill="#0f3" d="M2917 593l18-5-18-12-17 6z"/><path fill="#0f1" d="M2672 556l17-5-17-11-18 6z"/><path fill="#09f" d="M3403 717l17-5-17-14-17 5z"/><path fill="#0f3" d="M2882 587l18-5-18-12-17 6z"/><path fill="#0f1" d="M2707 561l17-6-17-10-18 6z"/><path fill="#0f2" d="M2847 582l18-6-18-11-17 6z"/><path fill="#0f1" d="M2742 566l17-6-17-10-18 5z"/><path fill="#0f2" d="M2812 576l18-5-18-11-17 5z"/><path fill="#0f1" d="M2777 571l18-6-18-10-18 5z"/><path fill="#0ed" d="M3213 661l18-5-18-13-17 5z"/><path fill="#0f0" d="M2373 533l17-6-17-8-18 6z"/><path fill="#0af" d="M3369 708l17-5-17-14-18 6z"/><path fill="#0f0" d="M2214 530l18-6-18-8-17 6z"/><path fill="#0eb" d="M3178 654l18-6-17-13-18 6z"/><path fill="#0f0" d="M2408 536l17-6-17-9-18 6z"/><path fill="#0ea" d="M3144 646l17-5-17-13-18 5z"/><path fill="#0f0" d="M2443 539l18-6-18-9-18 6z"/><path fill="#0bf" d="M3334 700l17-5-17-14-17 5z"/><path fill="#0f0" d="M2249 532l18-6-18-8-17 6z"/><path fill="#0e9" d="M3109 639l17-6-17-12-17 5z"/><path fill="#0f0" d="M2478 542l18-5-18-10-17 6z"/><path fill="#07f" d="M3454 741l18-5-17-15-18 6z"/><path fill="#0e8" d="M3074 631l18-5-18-12-17 5z"/><path fill="#0f0" d="M2513 546l18-6-18-9-17 6z"/><path fill="#0cf" d="M3300 691l17-5-17-14-18 6z"/><path fill="#0f0" d="M2285 534l17-6-17-8-18 6z"/><path fill="#0e7" d="M3039 624l18-5-18-12-17 5z"/><path fill="#0f0" d="M2549 550l17-6-17-10-18 6z"/><path fill="#0e6" d="M3004 618l18-6-17-12-18 6z"/><path fill="#0f0" d="M2584 553l17-5-17-10-18 6z"/><path fill="#0df" d="M3265 683l17-5-17-14-17 5z"/><path fill="#0f0" d="M2320 536l17-5-17-9-18 6z"/><path fill="#08f" d="M3420 732l17-5-17-15-17 5z"/><path fill="#0f5" d="M2970 611l17-5-17-12-18 5z"/><path fill="#0f1" d="M2619 558l17-6-17-10-18 6z"/><path fill="#0f4" d="M2935 605l17-6-17-11-18 5z"/><path fill="#0f1" d="M2654 562l18-6-18-10-18 6z"/><path fill="#0f3" d="M2900 599l17-6-17-11-18 5z"/><path fill="#0f1" d="M2689 567l18-6-18-10-17 5z"/><path fill="#0ee" d="M3230 675l18-6-17-13-18 5z"/><path fill="#0f0" d="M2355 539l18-6-18-8-18 6z"/><path fill="#0f3" d="M2865 593l17-6-17-11-18 6z"/><path fill="#0f1" d="M2724 571l18-5-18-11-17 6z"/><path fill="#0f2" d="M2830 587l17-5-17-11-18 5z"/><path fill="#0f1" d="M2759 576l18-5-18-11-17 6z"/><path fill="#0f2" d="M2794 582l18-6-17-11-18 6z"/><path fill="#09f" d="M3386 723l17-6-17-14-17 5z"/><path fill="#0f0" d="M2197 536l17-6-17-8-18 6z"/><path fill="#0ec" d="M3196 667l17-6-17-13-18 6z"/><path fill="#0f0" d="M2390 542l18-6-18-9-17 6z"/><path fill="#0eb" d="M3161 659l17-5-17-13-17 5z"/><path fill="#0f0" d="M2425 545l18-6-18-9-17 6z"/><path fill="#0af" d="M3351 714l18-6-18-13-17 5z"/><path fill="#0f0" d="M2232 538l17-6-17-8-18 6z"/><path fill="#0ea" d="M3126 651l18-5-18-13-17 6z"/><path fill="#0f0" d="M2461 548l17-6-17-9-18 6z"/><path fill="#07f" d="M3471 756l18-5-17-15-18 5z"/><path fill="#0bf" d="M3317 705l17-5-17-14-17 5z"/><path fill="#0f0" d="M2267 540l18-6-18-8-18 6z"/><path fill="#0e9" d="M3091 644l18-5-17-13-18 5z"/><path fill="#0f0" d="M2496 551l17-5-17-9-18 5z"/><path fill="#0e8" d="M3057 637l17-6-17-12-18 5z"/><path fill="#0f0" d="M2531 555l18-5-18-10-18 6z"/><path fill="#0cf" d="M3282 696l18-5-18-13-17 5z"/><path fill="#0f0" d="M2302 542l18-6-18-8-17 6z"/><path fill="#08f" d="M3437 746l17-5-17-14-17 5z"/><path fill="#0e7" d="M3022 630l17-6-17-12-18 6z"/><path fill="#0f0" d="M2566 559l18-6-18-9-17 6z"/><path fill="#0e6" d="M2987 623l17-5-17-12-17 5z"/><path fill="#0f1" d="M2601 563l18-5-18-10-17 5z"/><path fill="#0de" d="M3248 688l17-5-17-14-18 6z"/><path fill="#0f5" d="M2952 616l18-5-18-12-17 6z"/><path fill="#0f1" d="M2636 568l18-6-18-10-17 6z"/><path fill="#0f0" d="M2337 545l18-6-18-8-17 5z"/><path fill="#0f4" d="M2917 610l18-5-18-12-17 6z"/><path fill="#0f1" d="M2672 572l17-5-17-11-18 6z"/><path fill="#09f" d="M3403 737l17-5-17-15-17 6z"/><path fill="#0f0" d="M2179 542l18-6-18-8-18 6z"/><path fill="#0f3" d="M2882 604l18-5-18-12-17 6z"/><path fill="#0f1" d="M2707 577l17-6-17-10-18 6z"/><path fill="#0f3" d="M2847 598l18-5-18-11-17 5z"/><path fill="#0f1" d="M2742 582l17-6-17-10-18 5z"/><path fill="#0f2" d="M2812 593l18-6-18-11-18 6zM2777 587l17-5-17-11-18 5z"/><path fill="#0ee" d="M3213 680l17-5-17-14-17 6z"/><path fill="#0f0" d="M2373 548l17-6-17-9-18 6z"/><path fill="#0af" d="M3368 728l18-5-17-15-18 6z"/><path fill="#0f0" d="M2214 544l18-6-18-8-17 6z"/><path fill="#0ec" d="M3178 672l18-5-18-13-17 5z"/><path fill="#0f0" d="M2408 551l17-6-17-9-18 6z"/><path fill="#06f" d="M3488 771l18-5-17-15-18 5z"/><path fill="#0eb" d="M3144 664l17-5-17-13-18 5z"/><path fill="#0f0" d="M2443 554l18-6-18-9-18 6z"/><path fill="#0af" d="M3334 719l17-5-17-14-17 5z"/><path fill="#0f0" d="M2249 546l18-6-18-8-17 6z"/><path fill="#0ea" d="M3109 656l17-5-17-12-18 5z"/><path fill="#0f0" d="M2478 557l18-6-18-9-17 6z"/><path fill="#0e9" d="M3074 649l17-5-17-13-17 6z"/><path fill="#0f0" d="M2513 561l18-6-18-9-17 5z"/><path fill="#07f" d="M3454 761l17-5-17-15-17 5z"/><path fill="#0cf" d="M3299 710l18-5-17-14-18 5z"/><path fill="#0f0" d="M2285 548l17-6-17-8-18 6z"/><path fill="#0e8" d="M3039 642l18-5-18-13-17 6z"/><path fill="#0f0" d="M2549 565l17-6-17-9-18 5z"/><path fill="#0e7" d="M3004 635l18-5-18-12-17 5z"/><path fill="#0f1" d="M2584 569l17-6-17-10-18 6z"/><path fill="#0df" d="M3265 701l17-5-17-13-17 5z"/><path fill="#0f0" d="M2320 551l17-6-17-9-18 6z"/><path fill="#08f" d="M3420 751l17-5-17-14-17 5z"/><path fill="#0e6" d="M2969 628l18-5-17-12-18 5z"/><path fill="#0f1" d="M2619 573l17-5-17-10-18 5z"/><path fill="#0f0" d="M2161 548l18-6-18-8-17 6z"/><path fill="#0f5" d="M2934 622l18-6-17-11-18 5z"/><path fill="#0f1" d="M2654 578l18-6-18-10-18 6z"/><path fill="#0f4" d="M2899 615l18-5-17-11-18 5z"/><path fill="#0f1" d="M2689 582l18-5-18-10-17 5z"/><path fill="#0ee" d="M3230 693l18-5-18-13-17 5z"/><path fill="#0f0" d="M2355 553l18-5-18-9-18 6z"/><path fill="#0f3" d="M2864 609l18-5-17-11-18 5z"/><path fill="#0f1" d="M2724 587l18-5-18-11-17 6z"/><path fill="#0f3" d="M2829 604l18-6-17-11-18 6z"/><path fill="#0f2" d="M2759 592l18-5-18-11-17 6zM2794 598l18-5-18-11-17 5z"/><path fill="#09f" d="M3385 742l18-5-17-14-18 5z"/><path fill="#0f0" d="M2197 549l17-5-17-8-18 6z"/><path fill="#0ed" d="M3195 685l18-5-17-13-18 5z"/><path fill="#0f0" d="M2390 556l18-5-18-9-17 6z"/><path fill="#05f" d="M3505 785l17-4-16-15-18 5z"/><path fill="#0ec" d="M3161 677l17-5-17-13-17 5z"/><path fill="#0f0" d="M2425 559l18-5-18-9-17 6z"/><path fill="#0af" d="M3351 733l17-5-17-14-17 5z"/><path fill="#0f0" d="M2232 551l17-5-17-8-18 6z"/><path fill="#0eb" d="M3126 669l18-5-18-13-17 5z"/><path fill="#0f0" d="M2461 563l17-6-17-9-18 6z"/><path fill="#06f" d="M3471 776l17-5-17-15-17 5z"/><path fill="#0bf" d="M3316 724l18-5-17-14-18 5z"/><path fill="#0f0" d="M2267 554l18-6-18-8-18 6z"/><path fill="#0ea" d="M3091 662l18-6-18-12-17 5z"/><path fill="#0f0" d="M2496 566l17-5-17-10-18 6z"/><path fill="#0e8" d="M3056 654l18-5-17-12-18 5z"/><path fill="#0f0" d="M2531 570l18-5-18-10-18 6z"/><path fill="#0cf" d="M3282 715l17-5-17-14-17 5z"/><path fill="#0f0" d="M2302 556l18-5-18-9-17 6z"/><path fill="#07f" d="M3437 766l17-5-17-15-17 5z"/><path fill="#0e7" d="M3022 647l17-5-17-12-18 5z"/><path fill="#0f1" d="M2566 574l18-5-18-10-17 6z"/><path fill="#0f0" d="M2144 553l17-5-17-8-18 6z"/><path fill="#0e6" d="M2987 640l17-5-17-12-18 5z"/><path fill="#0f1" d="M2601 579l18-6-18-10-17 6z"/><path fill="#0e6" d="M2952 633l17-5-17-12-18 6z"/><path fill="#0f1" d="M2636 583l18-5-18-10-17 5z"/><path fill="#0df" d="M3247 706l18-5-17-13-18 5z"/><path fill="#0f0" d="M2337 559l18-6-18-8-17 6z"/><path fill="#0f5" d="M2917 627l17-5-17-12-18 5z"/><path fill="#0f1" d="M2672 588l17-6-17-10-18 6z"/><path fill="#08f" d="M3402 756l18-5-17-14-18 5z"/><path fill="#0f4" d="M2882 621l17-6-17-11-18 5z"/><path fill="#0f1" d="M2707 593l17-6-17-10-18 5z"/><path fill="#0f0" d="M2179 555l18-6-18-7-18 6z"/><path fill="#0f3" d="M2847 615l17-6-17-11-18 6z"/><path fill="#0f2" d="M2742 598l17-6-17-10-18 5z"/><path fill="#0f3" d="M2812 609l17-5-17-11-18 5z"/><path fill="#0f2" d="M2777 603l17-5-17-11-18 5z"/><path fill="#0ee" d="M3213 698l17-5-17-13-18 5z"/><path fill="#0f0" d="M2373 562l17-6-17-8-18 5z"/><path fill="#09f" d="M3368 747l17-5-17-14-17 5z"/><path fill="#0f0" d="M2214 557l18-6-18-7-17 5z"/><path fill="#0ed" d="M3178 690l17-5-17-13-17 5z"/><path fill="#0f0" d="M2408 565l17-6-17-8-18 5z"/><path fill="#0ec" d="M3143 682l18-5-17-13-18 5z"/><path fill="#0f0" d="M2443 568l18-5-18-9-18 5z"/><path fill="#05f" d="M3488 790l17-5-17-14-17 5z"/><path fill="#0af" d="M3334 738l17-5-17-14-18 5z"/><path fill="#0f0" d="M2249 559l18-5-18-8-17 5z"/><path fill="#0eb" d="M3109 674l17-5-17-13-18 6z"/><path fill="#0f0" d="M2478 572l18-6-18-9-17 6z"/><path fill="#0e9" d="M3074 667l17-5-17-13-18 5z"/><path fill="#0f0" d="M2513 576l18-6-18-9-17 5z"/><path fill="#0bf" d="M3299 729l17-5-17-14-17 5z"/><path fill="#06f" d="M3454 780l17-4-17-15-17 5z"/><path fill="#0f0" d="M2285 562l17-6-17-8-18 6z"/><path fill="#0e8" d="M3039 659l17-5-17-12-17 5z"/><path fill="#0f1" d="M2549 580l17-6-17-9-18 5z"/><path fill="#0e7" d="M3004 652l18-5-18-12-17 5z"/><path fill="#0f1" d="M2584 584l17-5-17-10-18 5z"/><path fill="#0cf" d="M3264 720l18-5-17-14-18 5z"/><path fill="#0f0" d="M2320 564l17-5-17-8-18 5z"/><path fill="#0e6" d="M2969 645l18-5-18-12-17 5z"/><path fill="#0f1" d="M2619 588l17-5-17-10-18 6z"/><path fill="#07f" d="M3419 771l18-5-17-15-18 5z"/><path fill="#0f0" d="M2161 561l18-6-18-7-17 5z"/><path fill="#0e5" d="M2934 639l18-6-18-11-17 5z"/><path fill="#0f1" d="M2654 593l18-5-18-10-18 5z"/><path fill="#0f5" d="M2899 632l18-5-18-12-17 6z"/><path fill="#0f1" d="M2689 598l18-5-18-11-17 6z"/><path fill="#0df" d="M3230 711l17-5-17-13-17 5z"/><path fill="#0f0" d="M2355 567l18-5-18-9-18 6z"/><path fill="#0f4" d="M2864 626l18-5-18-12-17 6z"/><path fill="#0f2" d="M2724 603l18-5-18-11-17 6z"/><path fill="#0f3" d="M2829 620l18-5-18-11-17 5z"/><path fill="#0f2" d="M2759 608l18-5-18-11-17 6z"/><path fill="#0f3" d="M2794 614l18-5-18-11-17 5z"/><path fill="#08f" d="M3385 761l17-5-17-14-17 5z"/><path fill="#0f0" d="M2197 563l17-6-17-8-18 6z"/><path fill="#0ee" d="M3195 703l18-5-18-13-17 5z"/><path fill="#0f0" d="M2390 570l18-5-18-9-17 6z"/><path fill="#0ed" d="M3161 695l17-5-17-13-18 5z"/><path fill="#0f0" d="M2425 574l18-6-18-9-17 6z"/><path fill="#09f" d="M3351 752l17-5-17-14-17 5z"/><path fill="#0f0" d="M2232 565l17-6-17-8-18 6z"/><path fill="#0ec" d="M3126 687l17-5-17-13-17 5z"/><path fill="#0f0" d="M2461 577l17-5-17-9-18 5z"/><path fill="#05f" d="M3471 795l17-5-17-14-17 4z"/><path fill="#0af" d="M3316 743l18-5-18-14-17 5z"/><path fill="#0f0" d="M2267 567l18-5-18-8-18 5z"/><path fill="#0ea" d="M3091 679l18-5-18-12-17 5z"/><path fill="#0f0" d="M2496 581l17-5-17-10-18 6z"/><path fill="#0e9" d="M3056 672l18-5-18-13-17 5z"/><path fill="#0f1" d="M2531 585l18-5-18-10-18 6z"/><path fill="#0bf" d="M3282 734l17-5-17-14-18 5z"/><path fill="#0f0" d="M2302 570l18-6-18-8-17 6z"/><path fill="#0e8" d="M3022 664l17-5-17-12-18 5z"/><path fill="#0f1" d="M2566 589l18-5-18-10-17 6z"/><path fill="#06f" d="M3436 785l18-5-17-14-18 5z"/><path fill="#0e7" d="M2987 657l17-5-17-12-18 5z"/><path fill="#0f1" d="M2601 594l18-6-18-9-17 5z"/><path fill="#0e6" d="M2952 650l17-5-17-12-18 6z"/><path fill="#0f1" d="M2636 598l18-5-18-10-17 5z"/><path fill="#0cf" d="M3247 725l17-5-17-14-17 5z"/><path fill="#0f0" d="M2337 573l18-6-18-8-17 5z"/><path fill="#0e5" d="M2917 644l17-5-17-12-18 5z"/><path fill="#0f1" d="M2672 603l17-5-17-10-18 5z"/><path fill="#0f5" d="M2882 637l17-5-17-11-18 5z"/><path fill="#0f2" d="M2707 608l17-5-17-10-18 5z"/><path fill="#07f" d="M3402 775l17-4-17-15-17 5z"/><path fill="#0f0" d="M2179 568l18-5-18-8-18 6z"/><path fill="#0f4" d="M2847 631l17-5-17-11-18 5z"/><path fill="#0f2" d="M2742 614l17-6-17-10-18 5z"/><path fill="#0f3" d="M2812 625l17-5-17-11-18 5z"/><path fill="#0f2" d="M2777 619l17-5-17-11-18 5z"/><path fill="#0df" d="M3212 716l18-5-17-13-18 5z"/><path fill="#0f0" d="M2373 576l17-6-17-8-18 5z"/><path fill="#08f" d="M3368 766l17-5-17-14-17 5z"/><path fill="#0ee" d="M3178 708l17-5-17-13-17 5z"/><path fill="#0f0" d="M2408 579l17-5-17-9-18 5zM2214 571l18-6-18-8-17 6z"/><path fill="#0ed" d="M3143 700l18-5-18-13-17 5z"/><path fill="#0f0" d="M2443 583l18-6-18-9-18 6z"/><path fill="#09f" d="M3333 757l18-5-17-14-18 5z"/><path fill="#0f0" d="M2249 573l18-6-18-8-17 6z"/><path fill="#0ec" d="M3108 692l18-5-17-13-18 5z"/><path fill="#0f0" d="M2478 586l18-5-18-9-17 5z"/><path fill="#0ea" d="M3074 684l17-5-17-12-18 5z"/><path fill="#0f1" d="M2513 590l18-5-18-9-17 5z"/><path fill="#0af" d="M3299 747l17-4-17-14-17 5z"/><path fill="#0f0" d="M2285 575l17-5-17-8-18 5z"/><path fill="#05f" d="M3453 800l18-5-17-15-18 5z"/><path fill="#0e9" d="M3039 677l17-5-17-13-17 5z"/><path fill="#0f1" d="M2549 595l17-6-17-9-18 5z"/><path fill="#0e8" d="M3004 669l18-5-18-12-17 5z"/><path fill="#0f1" d="M2584 599l17-5-17-10-18 5z"/><path fill="#0bf" d="M3264 738l18-4-18-14-17 5z"/><path fill="#0f0" d="M2320 578l17-5-17-9-18 6z"/><path fill="#0e7" d="M2969 662l18-5-18-12-17 5z"/><path fill="#0f1" d="M2619 604l17-6-17-10-18 6z"/><path fill="#06f" d="M3419 790l17-5-17-14-17 4z"/><path fill="#0e6" d="M2934 655l18-5-18-11-17 5z"/><path fill="#0f1" d="M2654 608l18-5-18-10-18 5z"/><path fill="#0f5" d="M2899 649l18-5-18-12-17 5z"/><path fill="#0f2" d="M2689 614l18-6-18-10-17 5z"/><path fill="#0cf" d="M3230 730l17-5-17-14-18 5z"/><path fill="#0f0" d="M2355 581l18-5-18-9-18 6z"/><path fill="#0f4" d="M2864 642l18-5-18-11-17 5z"/><path fill="#0f2" d="M2724 619l18-5-18-11-17 5z"/><path fill="#0f4" d="M2829 636l18-5-18-11-17 5z"/><path fill="#0f2" d="M2759 624l18-5-18-11-17 6z"/><path fill="#0f3" d="M2794 630l18-5-18-11-17 5z"/><path fill="#07f" d="M3385 780l17-5-17-14-17 5z"/><path fill="#0f0" d="M2197 576l17-5-17-8-18 5z"/><path fill="#0df" d="M3195 721l17-5-17-13-17 5z"/><path fill="#0f0" d="M2390 585l18-6-18-9-17 6z"/><path fill="#0ee" d="M3160 713l18-5-17-13-18 5z"/><path fill="#0f0" d="M2425 588l18-5-18-9-17 5z"/><path fill="#08f" d="M3350 771l18-5-17-14-18 5z"/><path fill="#0f0" d="M2232 578l17-5-17-8-18 6z"/><path fill="#0ed" d="M3126 705l17-5-17-13-18 5z"/><path fill="#0f0" d="M2461 592l17-6-17-9-18 6z"/><path fill="#09f" d="M3316 761l17-4-17-14-17 4z"/><path fill="#0f0" d="M2267 581l18-6-18-8-18 6z"/><path fill="#0eb" d="M3091 697l17-5-17-13-17 5z"/><path fill="#0f1" d="M2496 596l17-6-17-9-18 5z"/><path fill="#0ea" d="M3056 689l18-5-18-12-17 5z"/><path fill="#0f1" d="M2531 600l18-5-18-10-18 5z"/><path fill="#0af" d="M3281 752l18-5-17-13-18 4z"/><path fill="#0f0" d="M2302 584l18-6-18-8-17 5z"/><path fill="#0e9" d="M3021 681l18-4-17-13-18 5z"/><path fill="#0f1" d="M2566 604l18-5-18-10-17 6z"/><path fill="#06f" d="M3436 805l17-5-17-15-17 5z"/><path fill="#0e8" d="M2987 674l17-5-17-12-18 5z"/><path fill="#0f1" d="M2601 609l18-5-18-10-17 5z"/><path fill="#0e7" d="M2952 667l17-5-17-12-18 5z"/><path fill="#0f1" d="M2636 614l18-6-18-10-17 6z"/><path fill="#0bf" d="M3247 743l17-5-17-13-17 5z"/><path fill="#0f0" d="M2337 587l18-6-18-8-17 5z"/><path fill="#0e6" d="M2917 660l17-5-17-11-18 5z"/><path fill="#0f2" d="M2671 619l18-5-17-11-18 5z"/><path fill="#0f5" d="M2882 654l17-5-17-12-18 5z"/><path fill="#0f2" d="M2707 624l17-5-17-11-18 6z"/><path fill="#07f" d="M3402 795l17-5-17-15-17 5z"/><path fill="#0f4" d="M2847 647l17-5-17-11-18 5z"/><path fill="#0f2" d="M2742 629l17-5-17-10-18 5z"/><path fill="#0f4" d="M2812 641l17-5-17-11-18 5z"/><path fill="#0f3" d="M2777 635l17-5-17-11-18 5z"/><path fill="#0cf" d="M3212 734l18-4-18-14-17 5z"/><path fill="#0f0" d="M2373 590l17-5-17-9-18 5z"/><path fill="#0de" d="M3178 726l17-5-17-13-18 5z"/><path fill="#0f0" d="M2408 593l17-5-17-9-18 6z"/><path fill="#08f" d="M3367 785l18-5-17-14-18 5z"/><path fill="#0f0" d="M2214 584l18-6-18-7-17 5z"/><path fill="#0ee" d="M3143 718l17-5-17-13-17 5z"/><path fill="#0f0" d="M2443 597l18-5-18-9-18 5z"/><path fill="#09f" d="M3333 775l17-4-17-14-17 4z"/><path fill="#0f0" d="M2249 586l18-5-18-8-17 5z"/><path fill="#0ec" d="M3108 709l18-4-18-13-17 5z"/><path fill="#0f1" d="M2478 601l18-5-18-10-17 6z"/><path fill="#0eb" d="M3074 701l17-4-17-13-18 5z"/><path fill="#0f1" d="M2513 605l18-5-18-10-17 6z"/><path fill="#0af" d="M3299 766l17-5-17-14-18 5z"/><path fill="#0f0" d="M2285 589l17-5-17-9-18 6z"/><path fill="#0ea" d="M3039 694l17-5-17-12-18 4z"/><path fill="#0f1" d="M2548 609l18-5-17-9-18 5z"/><path fill="#0e9" d="M3004 686l17-5-17-12-17 5z"/><path fill="#0f1" d="M2584 614l17-5-17-10-18 5z"/><path fill="#0af" d="M3264 757l17-5-17-14-17 5z"/><path fill="#0f0" d="M2320 592l17-5-17-9-18 6z"/><path fill="#0e8" d="M2969 679l18-5-18-12-17 5z"/><path fill="#0f1" d="M2619 619l17-5-17-10-18 5z"/><path fill="#06f" d="M3419 809l17-4-17-15-17 5z"/><path fill="#0e7" d="M2934 672l18-5-18-12-17 5z"/><path fill="#0f1" d="M2654 624l17-5-17-11-18 6z"/><path fill="#0e6" d="M2899 665l18-5-18-11-17 5z"/><path fill="#0f2" d="M2689 629l18-5-18-10-18 5z"/><path fill="#0cf" d="M3229 748l18-5-17-13-18 4z"/><path fill="#0f5" d="M2864 659l18-5-18-12-17 5z"/><path fill="#0f2" d="M2724 634l18-5-18-10-17 5z"/><path fill="#0f0" d="M2355 595l18-5-18-9-18 6z"/><path fill="#0f4" d="M2829 652l18-5-18-11-17 5z"/><path fill="#0f3" d="M2759 640l18-5-18-11-17 5z"/><path fill="#0f4" d="M2794 646l18-5-18-11-17 5z"/><path fill="#07f" d="M3384 799l18-4-17-15-18 5z"/><path fill="#0df" d="M3195 739l17-5-17-13-17 5z"/><path fill="#0f0" d="M2390 598l18-5-18-8-17 5z"/><path fill="#0ee" d="M3160 731l18-5-18-13-17 5z"/><path fill="#0f0" d="M2425 602l18-5-18-9-17 5z"/><path fill="#08f" d="M3350 789l17-4-17-14-17 4z"/><path fill="#0f0" d="M2232 592l17-6-17-8-18 6z"/><path fill="#0ed" d="M3126 722l17-4-17-13-18 4z"/><path fill="#0f1" d="M2461 606l17-5-17-9-18 5z"/><path fill="#09f" d="M3316 780l17-5-17-14-17 5z"/><path fill="#0ec" d="M3091 714l17-5-17-12-17 4z"/><path fill="#0f1" d="M2496 610l17-5-17-9-18 5z"/><path fill="#0f0" d="M2267 594l18-5-18-8-18 5z"/><path fill="#0eb" d="M3056 706l18-5-18-12-17 5z"/><path fill="#0f1" d="M2531 614l17-5-17-9-18 5z"/><path fill="#0af" d="M3281 771l18-5-18-14-17 5z"/><path fill="#0f0" d="M2302 597l18-5-18-8-17 5z"/><path fill="#0ea" d="M3021 699l18-5-18-13-17 5z"/><path fill="#0f1" d="M2566 619l18-5-18-10-18 5z"/><path fill="#0e9" d="M2986 691l18-5-17-12-18 5z"/><path fill="#0f1" d="M2601 624l18-5-18-10-17 5z"/><path fill="#0e8" d="M2952 684l17-5-17-12-18 5z"/><path fill="#0f1" d="M2636 629l18-5-18-10-17 5z"/><path fill="#0bf" d="M3247 761l17-4-17-14-18 5z"/><path fill="#0f0" d="M2337 600l18-5-18-8-17 5z"/><path fill="#0e7" d="M2917 677l17-5-17-12-18 5z"/><path fill="#0f2" d="M2671 634l18-5-18-10-17 5z"/><path fill="#0e6" d="M2882 670l17-5-17-11-18 5z"/><path fill="#0f2" d="M2707 639l17-5-17-10-18 5z"/><path fill="#0f5" d="M2847 663l17-4-17-12-18 5z"/><path fill="#0f3" d="M2742 645l17-5-17-11-18 5z"/><path fill="#06f" d="M3401 814l18-5-17-14-18 4z"/><path fill="#0f4" d="M2812 657l17-5-17-11-18 5z"/><path fill="#0f3" d="M2777 651l17-5-17-11-18 5z"/><path fill="#0cf" d="M3212 752l17-4-17-14-17 5z"/><path fill="#0f0" d="M2373 604l17-6-17-8-18 5z"/><path fill="#0df" d="M3177 744l18-5-17-13-18 5z"/><path fill="#0f0" d="M2408 607l17-5-17-9-18 5z"/><path fill="#07f" d="M3367 804l17-5-17-14-17 4z"/><path fill="#0ee" d="M3143 735l17-4-17-13-17 4z"/><path fill="#0f1" d="M2443 611l18-5-18-9-18 5z"/><path fill="#08f" d="M3333 794l17-5-17-14-17 5z"/><path fill="#0f0" d="M2249 599l18-5-18-8-17 6z"/><path fill="#0ed" d="M3108 727l18-5-18-13-17 5z"/><path fill="#0f1" d="M2478 615l18-5-18-9-17 5z"/><path fill="#0ec" d="M3073 719l18-5-17-13-18 5z"/><path fill="#0f1" d="M2513 619l18-5-18-9-17 5z"/><path fill="#09f" d="M3298 784l18-4-17-14-18 5z"/><path fill="#0f0" d="M2285 602l17-5-17-8-18 5z"/><path fill="#0eb" d="M3039 711l17-5-17-12-18 5z"/><path fill="#0f1" d="M2548 624l18-5-18-10-17 5z"/><path fill="#0ea" d="M3004 703l17-4-17-13-18 5z"/><path fill="#0f1" d="M2584 629l17-5-17-10-18 5z"/><path fill="#0af" d="M3264 775l17-4-17-14-17 4z"/><path fill="#0f0" d="M2320 605l17-5-17-8-18 5z"/><path fill="#0e8" d="M2969 696l17-5-17-12-17 5z"/><path fill="#0f1" d="M2619 634l17-5-17-10-18 5z"/><path fill="#0e7" d="M2934 689l18-5-18-12-17 5z"/><path fill="#0f2" d="M2654 639l17-5-17-10-18 5z"/><path fill="#0e6" d="M2899 682l18-5-18-12-17 5z"/><path fill="#0f2" d="M2689 644l18-5-18-10-18 5z"/><path fill="#0e6" d="M2864 675l18-5-18-11-17 4z"/><path fill="#0f3" d="M2724 650l18-5-18-11-17 5z"/><path fill="#0bf" d="M3229 766l18-5-18-13-17 4z"/><path fill="#0f0" d="M2355 609l18-5-18-9-18 5z"/><path fill="#0f5" d="M2829 668l18-5-18-11-17 5z"/><path fill="#0f3" d="M2759 656l18-5-18-11-17 5z"/><path fill="#0f4" d="M2794 662l18-5-18-11-17 5z"/><path fill="#06f" d="M3384 818l17-4-17-15-17 5z"/><path fill="#0cf" d="M3195 757l17-5-17-13-18 5z"/><path fill="#0f0" d="M2390 612l18-5-18-9-17 6z"/><path fill="#0df" d="M3160 748l17-4-17-13-17 4z"/><path fill="#0f1" d="M2425 616l18-5-18-9-17 5z"/><path fill="#07f" d="M3350 808l17-4-17-15-17 5z"/><path fill="#0ee" d="M3125 740l18-5-17-13-18 5z"/><path fill="#0f1" d="M2461 620l17-5-17-9-18 5z"/><path fill="#0ed" d="M3091 731l17-4-17-13-18 5z"/><path fill="#0f1" d="M2496 624l17-5-17-9-18 5z"/><path fill="#08f" d="M3315 798l18-4-17-14-18 4z"/><path fill="#0f0" d="M2267 607l18-5-18-8-18 5z"/><path fill="#0ec" d="M3056 723l17-4-17-13-17 5z"/><path fill="#0f1" d="M2531 629l17-5-17-10-18 5z"/><path fill="#09f" d="M3281 789l17-5-17-13-17 4z"/><path fill="#0ea" d="M3021 715l18-4-18-12-17 4z"/><path fill="#0f1" d="M2566 634l18-5-18-10-18 5z"/><path fill="#0f0" d="M2302 611l18-6-18-8-17 5z"/><path fill="#0e9" d="M2986 708l18-5-18-12-17 5z"/><path fill="#0f1" d="M2601 639l18-5-18-10-17 5z"/><path fill="#0e8" d="M2951 700l18-4-17-12-18 5z"/><path fill="#0f2" d="M2636 644l18-5-18-10-17 5z"/><path fill="#0af" d="M3246 780l18-5-17-14-18 5z"/><path fill="#0f0" d="M2337 614l18-5-18-9-17 5z"/><path fill="#0e7" d="M2916 693l18-4-17-12-18 5z"/><path fill="#0f2" d="M2671 649l18-5-18-10-17 5z"/><path fill="#0e6" d="M2882 686l17-4-17-12-18 5z"/><path fill="#0f3" d="M2706 655l18-5-17-11-18 5z"/><path fill="#0e5" d="M2847 679l17-4-17-12-18 5z"/><path fill="#0f3" d="M2742 661l17-5-17-11-18 5z"/><path fill="#0f5" d="M2812 673l17-5-17-11-18 5z"/><path fill="#0f4" d="M2777 667l17-5-17-11-18 5z"/><path fill="#0bf" d="M3212 770l17-4-17-14-17 5z"/><path fill="#0f0" d="M2373 617l17-5-17-8-18 5z"/><path fill="#0cf" d="M3177 761l18-4-18-13-17 4z"/><path fill="#0f1" d="M2408 621l17-5-17-9-18 5z"/><path fill="#06f" d="M3367 822l17-4-17-14-17 4z"/><path fill="#0df" d="M3143 753l17-5-17-13-18 5z"/><path fill="#0f1" d="M2443 625l18-5-18-9-18 5z"/><path fill="#07f" d="M3332 813l18-5-17-14-18 4z"/><path fill="#0ee" d="M3108 744l17-4-17-13-17 4z"/><path fill="#0f1" d="M2478 629l18-5-18-9-17 5z"/><path fill="#0ed" d="M3073 736l18-5-18-12-17 4z"/><path fill="#0f1" d="M2513 634l18-5-18-10-17 5z"/><path fill="#08f" d="M3298 803l17-5-17-14-17 5z"/><path fill="#0f0" d="M2285 616l17-5-17-9-18 5z"/><path fill="#0eb" d="M3038 728l18-5-17-12-18 4z"/><path fill="#0f1" d="M2548 638l18-4-18-10-17 5z"/><path fill="#0ea" d="M3004 720l17-5-17-12-18 5z"/><path fill="#0f1" d="M2584 643l17-4-17-10-18 5z"/><path fill="#09f" d="M3264 793l17-4-17-14-18 5z"/><path fill="#0f0" d="M2320 619l17-5-17-9-18 6z"/><path fill="#0e9" d="M2969 712l17-4-17-12-18 4z"/><path fill="#0f2" d="M2619 648l17-4-17-10-18 5z"/><path fill="#0e8" d="M2934 705l17-5-17-11-18 4z"/><path fill="#0f2" d="M2654 654l17-5-17-10-18 5z"/><path fill="#0e7" d="M2899 698l17-5-17-11-17 4z"/><path fill="#0f3" d="M2689 659l17-4-17-11-18 5z"/><path fill="#0e6" d="M2864 691l18-5-18-11-17 4z"/><path fill="#0f3" d="M2724 665l18-4-18-11-18 5z"/><path fill="#0af" d="M3229 784l17-4-17-14-17 4z"/><path fill="#0f0" d="M2355 622l18-5-18-8-18 5z"/><path fill="#0e5" d="M2829 684l18-5-18-11-17 5z"/><path fill="#0f4" d="M2759 671l18-4-18-11-17 5z"/><path fill="#0f5" d="M2794 678l18-5-18-11-17 5z"/><path fill="#0bf" d="M3194 775l18-5-17-13-18 4z"/><path fill="#0f1" d="M2390 626l18-5-18-9-17 5z"/><path fill="#0cf" d="M3160 766l17-5-17-13-17 5z"/><path fill="#0f1" d="M2425 630l18-5-18-9-17 5z"/><path fill="#07f" d="M3350 827l17-5-17-14-18 5z"/><path fill="#0de" d="M3125 757l18-4-18-13-17 4z"/><path fill="#0f1" d="M2461 634l17-5-17-9-18 5z"/><path fill="#0ee" d="M3090 749l18-5-17-13-18 5z"/><path fill="#0f1" d="M2496 639l17-5-17-10-18 5z"/><path fill="#08f" d="M3315 817l17-4-17-15-17 5z"/><path fill="#0ec" d="M3056 740l17-4-17-13-18 5z"/><path fill="#0f1" d="M2531 643l17-5-17-9-18 5z"/><path fill="#0eb" d="M3021 732l17-4-17-13-17 5z"/><path fill="#0f1" d="M2566 648l18-5-18-9-18 4z"/><path fill="#09f" d="M3281 807l17-4-17-14-17 4z"/><path fill="#0f0" d="M2302 624l18-5-18-8-17 5z"/><path fill="#0ea" d="M2986 725l18-5-18-12-17 4z"/><path fill="#0f2" d="M2601 653l18-5-18-9-17 4z"/><path fill="#0e9" d="M2951 717l18-5-18-12-17 5z"/><path fill="#0f2" d="M2636 659l18-5-18-10-17 4z"/><path fill="#0af" d="M3246 798l18-5-18-13-17 4z"/><path fill="#0f0" d="M2337 627l18-5-18-8-17 5z"/><path fill="#0e8" d="M2916 710l18-5-18-12-17 5z"/><path fill="#0f2" d="M2671 664l18-5-18-10-17 5z"/><path fill="#0e7" d="M2881 702l18-4-17-12-18 5z"/><path fill="#0f3" d="M2706 670l18-5-18-10-17 4z"/><path fill="#0e6" d="M2847 695l17-4-17-12-18 5z"/><path fill="#0f4" d="M2741 676l18-5-17-10-18 4z"/><path fill="#0f5" d="M2812 689l17-5-17-11-18 5z"/><path fill="#0f4" d="M2777 682l17-4-17-11-18 4z"/><path fill="#0bf" d="M3212 788l17-4-17-14-18 5z"/><path fill="#0f0" d="M2373 631l17-5-17-9-18 5z"/><path fill="#0cf" d="M3177 779l17-4-17-14-17 5z"/><path fill="#0f1" d="M2408 635l17-5-17-9-18 5z"/><path fill="#0df" d="M3142 770l18-4-17-13-18 4z"/><path fill="#0f1" d="M2443 639l18-5-18-9-18 5z"/><path fill="#07f" d="M3332 831l18-4-18-14-17 4z"/><path fill="#0ee" d="M3108 761l17-4-17-13-18 5z"/><path fill="#0f1" d="M2478 643l18-4-18-10-17 5z"/><path fill="#0ed" d="M3073 753l17-4-17-13-17 4z"/><path fill="#0f1" d="M2513 648l18-5-18-9-17 5z"/><path fill="#08f" d="M3298 821l17-4-17-14-17 4z"/><path fill="#0ec" d="M3038 745l18-5-18-12-17 4z"/><path fill="#0f1" d="M2548 653l18-5-18-10-17 5z"/><path fill="#0eb" d="M3003 737l18-5-17-12-18 5z"/><path fill="#0f2" d="M2584 658l17-5-17-10-18 5z"/><path fill="#09f" d="M3263 811l18-4-17-14-18 5z"/><path fill="#0f0" d="M2320 632l17-5-17-8-18 5z"/><path fill="#0ea" d="M2969 729l17-4-17-13-18 5z"/><path fill="#0f2" d="M2619 663l17-4-17-11-18 5z"/><path fill="#0e9" d="M2934 721l17-4-17-12-18 5z"/><path fill="#0f2" d="M2654 669l17-5-17-10-18 5z"/><path fill="#0e8" d="M2899 714l17-4-17-12-18 4z"/><path fill="#0f3" d="M2689 675l17-5-17-11-18 5z"/><path fill="#0e7" d="M2864 707l17-5-17-11-17 4z"/><path fill="#0f4" d="M2724 681l17-5-17-11-18 5z"/><path fill="#0af" d="M3229 802l17-4-17-14-17 4z"/><path fill="#0e6" d="M2829 700l18-5-18-11-17 5z"/><path fill="#0f4" d="M2759 687l18-5-18-11-18 5z"/><path fill="#0f0" d="M2355 636l18-5-18-9-18 5z"/><path fill="#0f5" d="M2794 693l18-4-18-11-17 4z"/><path fill="#0bf" d="M3194 792l18-4-18-13-17 4z"/><path fill="#0f1" d="M2390 640l18-5-18-9-17 5z"/><path fill="#0cf" d="M3160 783l17-4-17-13-18 4z"/><path fill="#0f1" d="M2425 644l18-5-18-9-17 5z"/><path fill="#0df" d="M3125 774l17-4-17-13-17 4z"/><path fill="#0f1" d="M2460 648l18-5-17-9-18 5z"/><path fill="#0ee" d="M3090 766l18-5-18-12-17 4z"/><path fill="#0f1" d="M2496 653l17-5-17-9-18 4z"/><path fill="#07f" d="M3315 835l17-4-17-14-17 4z"/><path fill="#0ed" d="M3056 757l17-4-17-13-18 5z"/><path fill="#0f1" d="M2531 657l17-4-17-10-18 5z"/><path fill="#0ec" d="M3021 749l17-4-17-13-18 5z"/><path fill="#0f1" d="M2566 662l18-4-18-10-18 5z"/><path fill="#08f" d="M3280 825l18-4-17-14-18 4z"/><path fill="#0eb" d="M2986 741l17-4-17-12-17 4z"/><path fill="#0f2" d="M2601 668l18-5-18-10-17 5z"/><path fill="#0e9" d="M2951 733l18-4-18-12-17 4z"/><path fill="#0f2" d="M2636 673l18-4-18-10-17 4z"/><path fill="#09f" d="M3246 815l17-4-17-13-17 4z"/><path fill="#0f0" d="M2337 640l18-4-18-9-17 5z"/><path fill="#0e8" d="M2916 726l18-5-18-11-17 4z"/><path fill="#0f3" d="M2671 679l18-4-18-11-17 5z"/><path fill="#0e7" d="M2881 718l18-4-18-12-17 5z"/><path fill="#0f3" d="M2706 685l18-4-18-11-17 5z"/><path fill="#0e6" d="M2846 711l18-4-17-12-18 5z"/><path fill="#0f4" d="M2741 691l18-4-18-11-17 5z"/><path fill="#0e6" d="M2811 704l18-4-17-11-18 4z"/><path fill="#0f5" d="M2776 698l18-5-17-11-18 5z"/><path fill="#0af" d="M3211 806l18-4-17-14-18 4z"/><path fill="#0f1" d="M2373 644l17-4-17-9-18 5z"/><path fill="#0bf" d="M3177 797l17-5-17-13-17 4z"/><path fill="#0f1" d="M2408 648l17-4-17-9-18 5z"/><path fill="#0cf" d="M3142 788l18-5-18-13-17 4z"/><path fill="#0f1" d="M2443 653l17-5-17-9-18 5z"/><path fill="#0df" d="M3108 779l17-5-17-13-18 5z"/><path fill="#0f1" d="M2478 657l18-4-18-10-18 5z"/><path fill="#0ee" d="M3073 770l17-4-17-13-17 4z"/><path fill="#0f1" d="M2513 662l18-5-18-9-17 5z"/><path fill="#07f" d="M3298 839l17-4-17-14-18 4z"/><path fill="#0ed" d="M3038 762l18-5-18-12-17 4z"/><path fill="#0f1" d="M2548 667l18-5-18-9-17 4z"/><path fill="#0ec" d="M3003 753l18-4-18-12-17 4z"/><path fill="#0f2" d="M2584 672l17-4-17-10-18 4z"/><path fill="#08f" d="M3263 829l17-4-17-14-17 4z"/><path fill="#0ea" d="M2969 745l17-4-17-12-18 4z"/><path fill="#0f2" d="M2619 678l17-5-17-10-18 5z"/><path fill="#0e9" d="M2934 738l17-5-17-12-18 5z"/><path fill="#0f3" d="M2654 683l17-4-17-10-18 4z"/><path fill="#0e8" d="M2899 730l17-4-17-12-18 4z"/><path fill="#0f3" d="M2689 689l17-4-17-10-18 4z"/><path fill="#0e7" d="M2864 723l17-5-17-11-18 4z"/><path fill="#0f4" d="M2724 696l17-5-17-10-18 4z"/><path fill="#0e6" d="M2829 716l17-5-17-11-18 4z"/><path fill="#0f5" d="M2759 702l17-4-17-11-18 4z"/><path fill="#09f" d="M3229 820l17-5-17-13-18 4z"/><path fill="#0e5" d="M2794 709l17-5-17-11-18 5z"/><path fill="#0f1" d="M2355 649l18-5-18-8-18 4z"/><path fill="#0af" d="M3194 810l17-4-17-14-17 5z"/><path fill="#0f1" d="M2390 653l18-5-18-8-17 4z"/><path fill="#0bf" d="M3160 801l17-4-17-14-18 5z"/><path fill="#0f1" d="M2425 657l18-4-18-9-17 4z"/><path fill="#0cf" d="M3125 792l17-4-17-14-17 5z"/><path fill="#0f1" d="M2460 662l18-5-18-9-17 5z"/><path fill="#0df" d="M3090 783l18-4-18-13-17 4z"/><path fill="#0f1" d="M2496 667l17-5-17-9-18 4z"/><path fill="#0ee" d="M3055 774l18-4-17-13-18 5z"/><path fill="#0f1" d="M2531 671l17-4-17-10-18 5z"/><path fill="#0ec" d="M3021 766l17-4-17-13-18 4z"/><path fill="#0f2" d="M2566 677l18-5-18-10-18 5z"/><path fill="#08f" d="M3280 843l18-4-18-14-17 4z"/><path fill="#0eb" d="M2986 757l17-4-17-12-17 4z"/><path fill="#0f2" d="M2601 682l18-4-18-10-17 4z"/><path fill="#0ea" d="M2951 749l18-4-18-12-17 5z"/><path fill="#0f2" d="M2636 688l18-5-18-10-17 5z"/><path fill="#09f" d="M3246 833l17-4-17-14-17 5z"/><path fill="#0e9" d="M2916 742l18-4-18-12-17 4z"/><path fill="#0f3" d="M2671 694l18-5-18-10-17 4z"/><path fill="#0e8" d="M2881 734l18-4-18-12-17 5z"/><path fill="#0f4" d="M2706 700l18-4-18-11-17 4z"/><path fill="#0e7" d="M2846 727l18-4-18-12-17 5z"/><path fill="#0f4" d="M2741 706l18-4-18-11-17 5z"/><path fill="#0e6" d="M2811 720l18-4-18-12-17 5z"/><path fill="#0f5" d="M2776 713l18-4-18-11-17 4z"/><path fill="#0af" d="M3211 824l18-4-18-14-17 4z"/><path fill="#0f1" d="M2372 658l18-5-17-9-18 5z"/><path fill="#0bf" d="M3177 814l17-4-17-13-17 4z"/><path fill="#0f1" d="M2408 662l17-5-17-9-18 5z"/><path fill="#0cf" d="M3142 805l18-4-18-13-17 4z"/><path fill="#0f1" d="M2443 666l17-4-17-9-18 4z"/><path fill="#0df" d="M3107 796l18-4-17-13-18 4z"/><path fill="#0f1" d="M2478 671l18-4-18-10-18 5z"/><path fill="#0ee" d="M3073 787l17-4-17-13-18 4z"/><path fill="#0f1" d="M2513 676l18-5-18-9-17 5z"/><path fill="#0ed" d="M3038 778l17-4-17-12-17 4z"/><path fill="#0f2" d="M2548 681l18-4-18-10-17 4z"/><path fill="#0ec" d="M3003 770l18-4-18-13-17 4z"/><path fill="#0f2" d="M2583 687l18-5-17-10-18 5z"/><path fill="#08f" d="M3263 847l17-4-17-14-17 4z"/><path fill="#0eb" d="M2968 762l18-5-17-12-18 4z"/><path fill="#0f2" d="M2619 692l17-4-17-10-18 4z"/><path fill="#0ea" d="M2934 754l17-5-17-11-18 4z"/><path fill="#0f3" d="M2654 698l17-4-17-11-18 5z"/><path fill="#0e9" d="M2899 746l17-4-17-12-18 4z"/><path fill="#0f4" d="M2689 704l17-4-17-11-18 5z"/><path fill="#0e8" d="M2864 738l17-4-17-11-18 4z"/><path fill="#0f4" d="M2724 711l17-5-17-10-18 4z"/><path fill="#0e7" d="M2829 731l17-4-17-11-18 4z"/><path fill="#0f5" d="M2759 717l17-4-17-11-18 4z"/><path fill="#0e6" d="M2794 724l17-4-17-11-18 4z"/><path fill="#09f" d="M3228 837l18-4-17-13-18 4z"/><path fill="#0af" d="M3194 828l17-4-17-14-17 4z"/><path fill="#0f1" d="M2390 666l18-4-18-9-18 5z"/><path fill="#0bf" d="M3159 818l18-4-17-13-18 4z"/><path fill="#0f1" d="M2425 671l18-5-18-9-17 5z"/><path fill="#0cf" d="M3125 809l17-4-17-13-18 4z"/><path fill="#0f1" d="M2460 675l18-4-18-9-17 4z"/><path fill="#0df" d="M3090 800l17-4-17-13-17 4z"/><path fill="#0f1" d="M2496 680l17-4-17-9-18 4z"/><path fill="#0ee" d="M3055 791l18-4-18-13-17 4z"/><path fill="#0f1" d="M2531 685l17-4-17-10-18 5z"/><path fill="#0ed" d="M3021 782l17-4-17-12-18 4z"/><path fill="#0f2" d="M2566 691l17-4-17-10-18 4z"/><path fill="#0ec" d="M2986 774l17-4-17-13-18 5z"/><path fill="#0f2" d="M2601 696l18-4-18-10-18 5z"/><path fill="#0eb" d="M2951 766l17-4-17-13-17 5z"/><path fill="#0f3" d="M2636 702l18-4-18-10-17 4z"/><path fill="#0e9" d="M2916 758l18-4-18-12-17 4z"/><path fill="#0f3" d="M2671 708l18-4-18-10-17 4z"/><path fill="#08f" d="M3246 851l17-4-17-14-18 4z"/><path fill="#0e8" d="M2881 750l18-4-18-12-17 4z"/><path fill="#0f4" d="M2706 715l18-4-18-11-17 4z"/><path fill="#0e7" d="M2846 742l18-4-18-11-17 4z"/><path fill="#0f5" d="M2741 721l18-4-18-11-17 5z"/><path fill="#0e6" d="M2811 735l18-4-18-11-17 4zM2776 728l18-4-18-11-17 4z"/><path fill="#09f" d="M3211 841l17-4-17-13-17 4z"/><path fill="#0af" d="M3177 831l17-3-17-14-18 4z"/><path fill="#0f1" d="M2408 675l17-4-17-9-18 4z"/><path fill="#0bf" d="M3142 822l17-4-17-13-17 4z"/><path fill="#0f1" d="M2443 680l17-5-17-9-18 5z"/><path fill="#0cf" d="M3107 813l18-4-18-13-17 4z"/><path fill="#0f1" d="M2478 685l18-5-18-9-18 4z"/><path fill="#0df" d="M3073 804l17-4-17-13-18 4z"/><path fill="#0f1" d="M2513 690l18-5-18-9-17 4z"/><path fill="#0ee" d="M3038 795l17-4-17-13-17 4z"/><path fill="#0f2" d="M2548 695l18-4-18-10-17 4z"/><path fill="#0ed" d="M3003 786l18-4-18-12-17 4z"/><path fill="#0f2" d="M2583 701l18-5-18-9-17 4z"/><path fill="#0eb" d="M2968 778l18-4-18-12-17 4z"/><path fill="#0f3" d="M2619 706l17-4-17-10-18 4z"/><path fill="#0ea" d="M2933 770l18-4-17-12-18 4z"/><path fill="#0f3" d="M2654 713l17-5-17-10-18 4z"/><path fill="#0e9" d="M2899 762l17-4-17-12-18 4z"/><path fill="#0f4" d="M2689 719l17-4-17-11-18 4z"/><path fill="#0e8" d="M2864 754l17-4-17-12-18 4z"/><path fill="#0f5" d="M2724 725l17-4-17-10-18 4z"/><path fill="#0e7" d="M2829 746l17-4-17-11-18 4z"/><path fill="#0e5" d="M2759 732l17-4-17-11-18 4z"/><path fill="#0e6" d="M2794 739l17-4-17-11-18 4z"/><path fill="#08f" d="M3228 855l18-4-18-14-17 4z"/><path fill="#09f" d="M3194 845l17-4-17-13-17 3z"/><path fill="#0af" d="M3159 835l18-4-18-13-17 4z"/><path fill="#0f1" d="M2425 684l18-4-18-9-17 4z"/><path fill="#0bf" d="M3125 826l17-4-17-13-18 4z"/><path fill="#0f1" d="M2460 689l18-4-18-10-17 5z"/><path fill="#0cf" d="M3090 816l17-3-17-13-17 4z"/><path fill="#0f1" d="M2496 694l17-4-17-10-18 5z"/><path fill="#0de" d="M3055 807l18-3-18-13-17 4z"/><path fill="#0f2" d="M2531 699l17-4-17-10-18 5z"/><path fill="#0ee" d="M3020 799l18-4-17-13-18 4z"/><path fill="#0f2" d="M2566 705l17-4-17-10-18 4z"/><path fill="#0ec" d="M2986 790l17-4-17-12-18 4z"/><path fill="#0f2" d="M2601 711l18-5-18-10-18 5z"/><path fill="#0eb" d="M2951 782l17-4-17-12-18 4z"/><path fill="#0f3" d="M2636 717l18-4-18-11-17 4z"/><path fill="#0ea" d="M2916 773l17-3-17-12-17 4z"/><path fill="#0f4" d="M2671 723l18-4-18-11-17 5z"/><path fill="#0e9" d="M2881 765l18-3-18-12-17 4z"/><path fill="#0f4" d="M2706 729l18-4-18-10-17 4z"/><path fill="#0e8" d="M2846 758l18-4-18-12-17 4z"/><path fill="#0f5" d="M2741 736l18-4-18-11-17 4z"/><path fill="#0e7" d="M2811 750l18-4-18-11-17 4z"/><path fill="#0e6" d="M2776 743l18-4-18-11-17 4z"/><path fill="#09f" d="M3211 859l17-4-17-14-17 4z"/><path fill="#0af" d="M3176 849l18-4-17-14-18 4z"/><path fill="#0bf" d="M3142 839l17-4-17-13-17 4z"/><path fill="#0f1" d="M2443 693l17-4-17-9-18 4z"/><path fill="#0cf" d="M3107 829l18-3-18-13-17 3z"/><path fill="#0f1" d="M2478 698l18-4-18-9-18 4z"/><path fill="#0df" d="M3072 820l18-4-17-12-18 3z"/><path fill="#0f2" d="M2513 703l18-4-18-9-17 4z"/><path fill="#0ee" d="M3038 811l17-4-17-12-18 4z"/><path fill="#0f2" d="M2548 709l18-4-18-10-17 4z"/><path fill="#0ed" d="M3003 802l17-3-17-13-17 4z"/><path fill="#0f2" d="M2583 715l18-4-18-10-17 4z"/><path fill="#0ec" d="M2968 794l18-4-18-12-17 4z"/><path fill="#0f3" d="M2618 721l18-4-17-11-18 5z"/><path fill="#0eb" d="M2933 785l18-3-18-12-17 3z"/><path fill="#0f4" d="M2654 727l17-4-17-10-18 4z"/><path fill="#0ea" d="M2899 777l17-4-17-11-18 3z"/><path fill="#0f4" d="M2689 733l17-4-17-10-18 4z"/><path fill="#0e9" d="M2864 769l17-4-17-11-18 4z"/><path fill="#0f5" d="M2724 740l17-4-17-11-18 4z"/><path fill="#0e8" d="M2829 762l17-4-17-12-18 4z"/><path fill="#0e6" d="M2759 747l17-4-17-11-18 4z"/><path fill="#0e7" d="M2794 754l17-4-17-11-18 4z"/><path fill="#09f" d="M3194 862l17-3-17-14-18 4z"/><path fill="#0af" d="M3159 852l17-3-17-14-17 4z"/><path fill="#0bf" d="M3124 843l18-4-17-13-18 3z"/><path fill="#0f1" d="M2460 702l18-4-18-9-17 4z"/><path fill="#0cf" d="M3090 833l17-4-17-13-18 4z"/><path fill="#0f1" d="M2495 707l18-4-17-9-18 4z"/><path fill="#0df" d="M3055 824l17-4-17-13-17 4z"/><path fill="#0f2" d="M2531 713l17-4-17-10-18 4z"/><path fill="#0ee" d="M3020 815l18-4-18-12-17 3z"/><path fill="#0f2" d="M2566 719l17-4-17-10-18 4z"/><path fill="#0ed" d="M2986 806l17-4-17-12-18 4z"/><path fill="#0f3" d="M2601 725l17-4-17-10-18 4z"/><path fill="#0ec" d="M2951 797l17-3-17-12-18 3z"/><path fill="#0f3" d="M2636 731l18-4-18-10-18 4z"/><path fill="#0ea" d="M2916 789l17-4-17-12-17 4z"/><path fill="#0f4" d="M2671 737l18-4-18-10-17 4z"/><path fill="#0e9" d="M2881 781l18-4-18-12-17 4z"/><path fill="#0f5" d="M2706 744l18-4-18-11-17 4z"/><path fill="#0e8" d="M2846 773l18-4-18-11-17 4z"/><path fill="#0e5" d="M2741 751l18-4-18-11-17 4z"/><path fill="#0e7" d="M2811 765l18-3-18-12-17 4z"/><path fill="#0e6" d="M2776 758l18-4-18-11-17 4z"/><path fill="#09f" d="M3176 866l18-4-18-13-17 3z"/><path fill="#0af" d="M3142 856l17-4-17-13-18 4z"/><path fill="#0bf" d="M3107 846l17-3-17-14-17 4z"/><path fill="#0f1" d="M2478 711l17-4-17-9-18 4z"/><path fill="#0cf" d="M3072 837l18-4-18-13-17 4z"/><path fill="#0f2" d="M2513 717l18-4-18-10-18 4z"/><path fill="#0df" d="M3038 827l17-3-17-13-18 4z"/><path fill="#0f2" d="M2548 722l18-3-18-10-17 4z"/><path fill="#0ee" d="M3003 818l17-3-17-13-17 4z"/><path fill="#0f2" d="M2583 728l18-3-18-10-17 4z"/><path fill="#0ed" d="M2968 810l18-4-18-12-17 3z"/><path fill="#0f3" d="M2618 735l18-4-18-10-17 4z"/><path fill="#0eb" d="M2933 801l18-4-18-12-17 4z"/><path fill="#0f4" d="M2654 741l17-4-17-10-18 4z"/><path fill="#0ea" d="M2898 793l18-4-17-12-18 4z"/><path fill="#0f4" d="M2689 748l17-4-17-11-18 4z"/><path fill="#0e9" d="M2864 785l17-4-17-12-18 4z"/><path fill="#0f5" d="M2724 755l17-4-17-11-18 4z"/><path fill="#0e8" d="M2829 777l17-4-17-11-18 3z"/><path fill="#0e6" d="M2759 762l17-4-17-11-18 4z"/><path fill="#0e7" d="M2794 769l17-4-17-11-18 4z"/><path fill="#0af" d="M3159 869l17-3-17-14-17 4z"/><path fill="#0bf" d="M3124 859l18-3-18-13-17 3z"/><path fill="#0cf" d="M3090 850l17-4-17-13-18 4z"/><path fill="#0f1" d="M2495 721l18-4-18-10-17 4z"/><path fill="#0df" d="M3055 840l17-3-17-13-17 3z"/><path fill="#0f2" d="M2531 726l17-4-17-9-18 4z"/><path fill="#0ee" d="M3020 831l18-4-18-12-17 3z"/><path fill="#0f2" d="M2566 732l17-4-17-9-18 3z"/><path fill="#0ed" d="M2985 822l18-4-17-12-18 4z"/><path fill="#0f3" d="M2601 738l17-3-17-10-18 3z"/><path fill="#0ec" d="M2951 813l17-3-17-13-18 4z"/><path fill="#0f4" d="M2636 745l18-4-18-10-18 4z"/><path fill="#0eb" d="M2916 805l17-4-17-12-18 4z"/><path fill="#0f4" d="M2671 751l18-3-18-11-17 4z"/><path fill="#0ea" d="M2881 796l17-3-17-12-17 4z"/><path fill="#0f5" d="M2706 758l18-3-18-11-17 4z"/><path fill="#0e9" d="M2846 788l18-3-18-12-17 4z"/><path fill="#0e6" d="M2741 765l18-3-18-11-17 4z"/><path fill="#0e8" d="M2811 780l18-3-18-12-17 4z"/><path fill="#0e7" d="M2776 773l18-4-18-11-17 4z"/><path fill="#0af" d="M3141 873l18-4-17-13-18 3z"/><path fill="#0bf" d="M3107 863l17-4-17-13-17 4z"/><path fill="#0cf" d="M3072 853l18-3-18-13-17 3z"/><path fill="#0f2" d="M2513 730l18-4-18-9-18 4z"/><path fill="#0df" d="M3038 844l17-4-17-13-18 4z"/><path fill="#0f2" d="M2548 736l18-4-18-10-17 4z"/><path fill="#0ee" d="M3003 834l17-3-17-13-18 4z"/><path fill="#0f3" d="M2583 742l18-4-18-10-17 4z"/><path fill="#0ed" d="M2968 825l17-3-17-12-17 3z"/><path fill="#0f3" d="M2618 748l18-3-18-10-17 3z"/><path fill="#0ec" d="M2933 817l18-4-18-12-17 4z"/><path fill="#0f4" d="M2653 755l18-4-17-10-18 4z"/><path fill="#0ea" d="M2898 808l18-3-18-12-17 3z"/><path fill="#0f5" d="M2689 762l17-4-17-10-18 3z"/><path fill="#0e9" d="M2863 800l18-4-17-11-18 3z"/><path fill="#0e5" d="M2724 769l17-4-17-10-18 3z"/><path fill="#0e8" d="M2829 792l17-4-17-11-18 3z"/><path fill="#0e6" d="M2759 776l17-3-17-11-18 3z"/><path fill="#0e7" d="M2794 784l17-4-17-11-18 4z"/><path fill="#0af" d="M3124 876l17-3-17-14-17 4z"/><path fill="#0bf" d="M3089 866l18-3-17-13-18 3z"/><path fill="#0cf" d="M3055 856l17-3-17-13-17 4z"/><path fill="#0f2" d="M2531 740l17-4-17-10-18 4z"/><path fill="#0df" d="M3020 847l18-3-18-13-17 3z"/><path fill="#0f2" d="M2566 746l17-4-17-10-18 4z"/><path fill="#0ee" d="M2985 838l18-4-18-12-17 3z"/><path fill="#0f3" d="M2601 752l17-4-17-10-18 4z"/><path fill="#0ed" d="M2951 829l17-4-17-12-18 4z"/><path fill="#0f4" d="M2636 759l17-4-17-10-18 3z"/><path fill="#0eb" d="M2916 820l17-3-17-12-18 3z"/><path fill="#0f4" d="M2671 765l18-3-18-11-18 4z"/><path fill="#0ea" d="M2881 811l17-3-17-12-18 4z"/><path fill="#0f5" d="M2706 772l18-3-18-11-17 4z"/><path fill="#0e9" d="M2846 803l17-3-17-12-17 4z"/><path fill="#0e6" d="M2741 780l18-4-18-11-17 4z"/><path fill="#0e8" d="M2811 795l18-3-18-12-17 4z"/><path fill="#0e7" d="M2776 787l18-3-18-11-17 3z"/><path fill="#0bf" d="M3107 879l17-3-17-13-18 3z"/><path fill="#0cf" d="M3072 869l17-3-17-13-17 3z"/><path fill="#0df" d="M3037 860l18-4-17-12-18 3z"/><path fill="#0f2" d="M2548 749l18-3-18-10-17 4z"/><path fill="#0ee" d="M3003 850l17-3-17-13-18 4z"/><path fill="#0f3" d="M2583 755l18-3-18-10-17 4z"/><path fill="#0ed" d="M2968 841l17-3-17-13-17 4z"/><path fill="#0f3" d="M2618 762l18-3-18-11-17 4z"/><path fill="#0ec" d="M2933 832l18-3-18-12-17 3z"/><path fill="#0f4" d="M2653 769l18-4-18-10-17 4z"/><path fill="#0eb" d="M2898 823l18-3-18-12-17 3z"/><path fill="#0f5" d="M2688 776l18-4-17-10-18 3z"/><path fill="#0ea" d="M2863 815l18-4-18-11-17 3z"/><path fill="#0e6" d="M2723 783l18-3-17-11-18 3z"/><path fill="#0e9" d="M2828 806l18-3-17-11-18 3z"/><path fill="#0e7" d="M2758 791l18-4-17-11-18 4z"/><path fill="#0e8" d="M2793 798l18-3-17-11-18 3z"/><path fill="#0bf" d="M3089 882l18-3-18-13-17 3z"/><path fill="#0cf" d="M3055 872l17-3-17-13-18 4z"/><path fill="#0df" d="M3020 863l17-3-17-13-17 3z"/><path fill="#0f3" d="M2566 759l17-4-17-9-18 3z"/><path fill="#0ee" d="M2985 853l18-3-18-12-17 3z"/><path fill="#0f3" d="M2601 765l17-3-17-10-18 3z"/><path fill="#0ed" d="M2950 844l18-3-17-12-18 3z"/><path fill="#0f4" d="M2636 772l17-3-17-10-18 3z"/><path fill="#0ec" d="M2916 835l17-3-17-12-18 3z"/><path fill="#0f5" d="M2671 779l17-3-17-11-18 4z"/><path fill="#0ea" d="M2881 826l17-3-17-12-18 4z"/><path fill="#0e5" d="M2706 787l17-4-17-11-18 4z"/><path fill="#0e9" d="M2846 818l17-3-17-12-18 3z"/><path fill="#0e6" d="M2741 794l17-3-17-11-18 3z"/><path fill="#0e8" d="M2811 810l17-4-17-11-18 3z"/><path fill="#0e7" d="M2776 802l17-4-17-11-18 4z"/><path fill="#0bf" d="M3072 885l17-3-17-13-17 3z"/><path fill="#0cf" d="M3037 875l18-3-18-12-17 3z"/><path fill="#0df" d="M3003 866l17-3-17-13-18 3z"/><path fill="#0f3" d="M2583 769l18-4-18-10-17 4z"/><path fill="#0ee" d="M2968 856l17-3-17-12-18 3z"/><path fill="#0f4" d="M2618 776l18-4-18-10-17 3z"/><path fill="#0ec" d="M2933 847l17-3-17-12-17 3z"/><path fill="#0f4" d="M2653 783l18-4-18-10-17 3z"/><path fill="#0eb" d="M2898 838l18-3-18-12-17 3z"/><path fill="#0f5" d="M2688 790l18-3-18-11-17 3z"/><path fill="#0ea" d="M2863 830l18-4-18-11-17 3z"/><path fill="#0e6" d="M2723 797l18-3-18-11-17 4z"/><path fill="#0e9" d="M2828 821l18-3-18-12-17 4z"/><path fill="#0e7" d="M2758 805l18-3-18-11-17 3z"/><path fill="#0e8" d="M2793 813l18-3-18-12-17 4z"/><path fill="#0cf" d="M3055 888l17-3-17-13-18 3z"/><path fill="#0df" d="M3020 878l17-3-17-12-17 3z"/><path fill="#0ee" d="M2985 869l18-3-18-13-17 3z"/><path fill="#0f3" d="M2601 779l17-3-17-11-18 4z"/><path fill="#0ed" d="M2950 859l18-3-18-12-17 3z"/><path fill="#0f4" d="M2636 786l17-3-17-11-18 4z"/><path fill="#0ec" d="M2916 850l17-3-17-12-18 3z"/><path fill="#0f5" d="M2671 793l17-3-17-11-18 4z"/><path fill="#0eb" d="M2881 841l17-3-17-12-18 4z"/><path fill="#0e6" d="M2706 800l17-3-17-10-18 3z"/><path fill="#0ea" d="M2846 833l17-3-17-12-18 3z"/><path fill="#0e6" d="M2741 808l17-3-17-11-18 3z"/><path fill="#0e8" d="M2811 824l17-3-17-11-18 3z"/><path fill="#0e7" d="M2776 816l17-3-17-11-18 3z"/><path fill="#0cf" d="M3037 891l18-3-18-13-17 3z"/><path fill="#0df" d="M3002 881l18-3-17-12-18 3z"/><path fill="#0ee" d="M2968 872l17-3-17-13-18 3z"/><path fill="#0f4" d="M2618 789l18-3-18-10-17 3z"/><path fill="#0ed" d="M2933 862l17-3-17-12-17 3z"/><path fill="#0f4" d="M2653 796l18-3-18-10-17 3z"/><path fill="#0eb" d="M2898 853l18-3-18-12-17 3z"/><path fill="#0f5" d="M2688 803l18-3-18-10-17 3z"/><path fill="#0ea" d="M2863 844l18-3-18-11-17 3z"/><path fill="#0e6" d="M2723 811l18-3-18-11-17 3z"/><path fill="#0e9" d="M2828 836l18-3-18-12-17 3z"/><path fill="#0e7" d="M2758 819l18-3-18-11-17 3z"/><path fill="#0e8" d="M2793 827l18-3-18-11-17 3z"/><path fill="#0cf" d="M3020 894l17-3-17-13-18 3z"/><path fill="#0de" d="M2985 884l17-3-17-12-17 3z"/><path fill="#0ee" d="M2950 874l18-2-18-13-17 3z"/><path fill="#0f4" d="M2636 799l17-3-17-10-18 3z"/><path fill="#0ec" d="M2915 865l18-3-17-12-18 3z"/><path fill="#0f5" d="M2671 806l17-3-17-10-18 3z"/><path fill="#0eb" d="M2881 856l17-3-17-12-18 3z"/><path fill="#0e6" d="M2706 814l17-3-17-11-18 3z"/><path fill="#0ea" d="M2846 847l17-3-17-11-18 3z"/><path fill="#0e7" d="M2741 822l17-3-17-11-18 3z"/><path fill="#0e9" d="M2811 839l17-3-17-12-18 3z"/><path fill="#0e8" d="M2776 830l17-3-17-11-18 3z"/><path fill="#0df" d="M3002 897l18-3-18-13-17 3z"/><path fill="#0ee" d="M2968 887l17-3-17-12-18 2z"/><path fill="#0ed" d="M2933 877l17-3-17-12-18 3z"/><path fill="#0f5" d="M2653 809l18-3-18-10-17 3z"/><path fill="#0ec" d="M2898 868l17-3-17-12-17 3z"/><path fill="#0e5" d="M2688 817l18-3-18-11-17 3z"/><path fill="#0eb" d="M2863 859l18-3-18-12-17 3z"/><path fill="#0e6" d="M2723 825l18-3-18-11-17 3z"/><path fill="#0e9" d="M2828 850l18-3-18-11-17 3z"/><path fill="#0e7" d="M2758 833l18-3-18-11-17 3z"/><path fill="#0e8" d="M2793 841l18-2-18-12-17 3z"/><path fill="#0df" d="M2985 899l17-2-17-13-17 3z"/><path fill="#0ee" d="M2950 889l18-2-18-13-17 3z"/><path fill="#0ed" d="M2915 880l18-3-18-12-17 3z"/><path fill="#0f5" d="M2671 820l17-3-17-11-18 3z"/><path fill="#0eb" d="M2880 871l18-3-17-12-18 3z"/><path fill="#0e6" d="M2706 828l17-3-17-11-18 3z"/><path fill="#0ea" d="M2846 862l17-3-17-12-18 3z"/><path fill="#0e7" d="M2741 836l17-3-17-11-18 3z"/><path fill="#0e9" d="M2811 853l17-3-17-11-18 2z"/><path fill="#0e8" d="M2776 844l17-3-17-11-18 3z"/><path fill="#0ee" d="M2968 902l17-3-17-12-18 2z"/><path fill="#0ed" d="M2933 892l17-3-17-12-18 3z"/><path fill="#0ec" d="M2898 882l17-2-17-12-18 3z"/><path fill="#0e5" d="M2688 830l18-2-18-11-17 3z"/><path fill="#0eb" d="M2863 873l17-2-17-12-17 3z"/><path fill="#0e6" d="M2723 838l18-2-18-11-17 3z"/><path fill="#0ea" d="M2828 864l18-2-18-12-17 3z"/><path fill="#0e7" d="M2758 847l18-3-18-11-17 3z"/><path fill="#0e8" d="M2793 855l18-2-18-12-17 3z"/><path fill="#0ee" d="M2950 904l18-2-18-13-17 3z"/><path fill="#0ed" d="M2915 894l18-2-18-12-17 2z"/><path fill="#0eb" d="M2880 885l18-3-18-11-17 2z"/><path fill="#0e6" d="M2706 841l17-3-17-10-18 2z"/><path fill="#0ea" d="M2846 876l17-3-17-11-18 2z"/><path fill="#0e7" d="M2741 849l17-2-17-11-18 2z"/><path fill="#0e9" d="M2811 867l17-3-17-11-18 2z"/><path fill="#0e8" d="M2776 858l17-3-17-11-18 3z"/><path fill="#0ee" d="M2933 907l17-3-17-12-18 2z"/><path fill="#0ec" d="M2898 897l17-3-17-12-18 3z"/><path fill="#0eb" d="M2863 887l17-2-17-12-17 3z"/><path fill="#0e6" d="M2723 852l18-3-18-11-17 3z"/><path fill="#0ea" d="M2828 878l18-2-18-12-17 3z"/><path fill="#0e7" d="M2758 860l18-2-18-11-17 2z"/><path fill="#0e9" d="M2793 869l18-2-18-12-17 3z"/><path fill="#0ed" d="M2915 909l18-2-18-13-17 3z"/><path fill="#0ec" d="M2880 899l18-2-18-12-17 2z"/><path fill="#0ea" d="M2845 890l18-3-17-11-18 2z"/><path fill="#0e7" d="M2741 863l17-3-17-11-18 3z"/><path fill="#0e9" d="M2811 880l17-2-17-11-18 2z"/><path fill="#0e8" d="M2776 871l17-2-17-11-18 2z"/><path fill="#0ec" d="M2898 911l17-2-17-12-18 2z"/><path fill="#0eb" d="M2863 901l17-2-17-12-18 3z"/><path fill="#0ea" d="M2828 892l17-2-17-12-17 2z"/><path fill="#0e8" d="M2758 874l18-3-18-11-17 3z"/><path fill="#0e9" d="M2793 883l18-3-18-11-17 2z"/><path fill="#0ec" d="M2880 913l18-2-18-12-17 2z"/><path fill="#0ea" d="M2845 904l18-3-18-11-17 2z"/><path fill="#0e9" d="M2810 894l18-2-17-12-18 3z"/><path fill="#0e8" d="M2775 885l18-2-17-12-18 3z"/><path fill="#0eb" d="M2863 915l17-2-17-12-18 3z"/><path fill="#0ea" d="M2828 906l17-2-17-12-18 2z"/><path fill="#0e9" d="M2793 896l17-2-17-11-18 2z"/><path fill="#0eb" d="M2845 917l18-2-18-11-17 2z"/><path fill="#0e9" d="M2810 908l18-2-18-12-17 2z"/><path fill="#0ea" d="M2828 919l17-2-17-11-18 2z"/></g>
<text class="t" x="210.2" y="96.3" text-anchor="end">0.5</text>
<text class="t" x="209.4" y="78" text-anchor="end">1.1</text>
<text class="t" x="208.6" y="59.7" text-anchor="end">1.8</text>
<text class="t" x="207.8" y="41.3" text-anchor="end">2.4</text>
<text class="t" x="207" y="23" text-anchor="end">3.0</text>
<text class="t" x="211.5" y="128.1" text-anchor="end">1</text>
<text class="t" x="228.3" y="136.5" text-anchor="end">0.8</text>
<text class="t" x="245.2" y="144.8" text-anchor="end">0.6</text>
<text class="t" x="262" y="153.2" text-anchor="end">0.4</text>
<text class="t" x="278.8" y="161.6" text-anchor="end">0.2</text>
<text class="t" x="286.8" y="161.6">6.0</text>
<text class="t" x="303.7" y="153.1">9.5</text>
<text class="t" x="320.6" y="144.7">13.0</text>
<text class="t" x="337.6" y="136.2">16.5</text>
<text class="t" x="354.5" y="127.7">20.0</text>
<text class="ti" x="226.4" y="154.2" font-size="12" text-anchor="middle" font-style="italic">p</text>
<text class="ti" x="341.6" y="157.3" font-size="11" text-anchor="middle" transform="rotate(-40 341.6 153.8)">d</text>
<text class="ti" x="281.4" y="17.5" font-size="11" text-anchor="middle">(b)</text>
</g>
<g>
<path class="g" d="M394.3 100.9L452.9 65.1"/>
<path class="g" d="M452.9 65.1L529.8 89.4"/>
<path class="g" d="M393.2 84.6L452.8 50.5"/>
<path class="g" d="M452.8 50.5L530.9 73.7"/>
<path class="g" d="M392 68.4L452.6 35.9"/>
<path class="g" d="M452.6 35.9L532.1 58"/>
<path class="g" d="M390.9 52.1L452.5 21.2"/>
<path class="g" d="M452.5 21.2L533.2 42.3"/>
<path class="g" d="M389.7 35.8L452.4 6.6"/>
<path class="g" d="M452.4 6.6L534.4 26.6"/>
<path class="g" d="M409 92L405.4 28.5"/>
<path class="g" d="M510.5 83.3L513.9 21.6"/>
<path class="g" d="M423.6 83L421 21.2"/>
<path class="g" d="M491.3 77.3L493.4 16.6"/>
<path class="g" d="M438.2 74.1L436.7 13.9"/>
<path class="g" d="M472.1 71.2L472.9 11.6"/>
<path class="g" d="M395.8 121.4L389.7 35.8"/>
<path class="g" d="M453 83.5L452.4 6.6"/>
<path class="g" d="M528.3 109.2L534.4 26.6"/>
<path class="k" d="M394.3 100.9L392.5 100.9"/>
<path class="k" d="M393.2 84.6L391.4 84.6"/>
<path class="k" d="M392 68.4L390.2 68.4"/>
<path class="k" d="M390.9 52.1L389.1 52.1"/>
<path class="k" d="M389.7 35.8L387.9 35.8"/>
<path class="fl" d="M395.8 121.4L453 83.5L528.3 109.2L476.6 154.6Z"/>
<clipPath id="fc"><path class="" d="M395.8 121.4L453 83.5L528.3 109.2L476.6 154.6Z"/></clipPath>
<g clip-path="url(#fc)"><path class="ct" d="M440.8 90C440.8 90.7 442.1 91.3 440.8 93.9C439.5 96.5 436.6 102.2 433.2 105.4C429.8 108.6 424.6 110.9 420.4 113C416.1 115.1 411.6 116.8 407.7 118.1C403.8 119.4 398.8 120.5 397 121M443.3 90C443.3 90.9 443.9 91.8 443.3 95.2C442.7 98.6 441.6 106.2 439.5 110.4C437.4 114.6 434.2 118 430.6 120.6C427 123.2 421.5 124.8 417.9 126C414.3 127.2 410.5 127.2 409 127.5M444.6 90C444.6 91.1 444.8 92.2 444.6 96.5C444.4 100.8 444.6 110.2 443.3 115.5C442 120.8 439.2 124.9 437 128.3C434.8 131.7 431.2 134.6 430 135.8M447.2 90C447.2 90.9 446.8 92.6 447.2 95.2C447.6 97.8 448.2 102.4 449.7 105.4C451.2 108.4 453.4 111.1 456.1 113C458.9 114.9 462.8 116 466.2 116.8C469.6 117.6 471.3 118.1 476.4 118.1C481.5 118.1 490.4 117.6 496.8 116.8C503.2 116 509.4 114.2 514.6 113C519.8 111.8 525.8 110.1 528 109.5M450.5 90C450.8 91.2 451 94.7 452 97C453 99.3 454.2 102.1 456.4 104C458.6 105.9 461.9 107.4 465 108.5C468.1 109.6 473.3 110.2 475 110.5M448.5 139.5C449.3 138.3 451.4 134.2 453.5 132.1C455.6 130 456.9 128.6 461.2 127C465.4 125.4 472.2 124.2 479 122.7C485.8 121.2 495.1 119.5 501.9 118.1C508.7 116.7 517 115.1 520 114.5M455 150C455.8 148.3 457.6 142.5 459.9 139.7C462.2 136.9 463.9 135.3 468.8 133.3C473.7 131.3 481.5 129.6 489.1 127.7C496.7 125.8 509.8 123 514.6 121.9C519.4 120.8 517.4 121.2 518 121M465 150.5C465.6 149.8 466.5 147.9 468.8 146.1C471.1 144.3 473.9 141.8 479 139.7C484.1 137.6 493.8 134.8 499.3 133.3C504.8 131.8 509.9 131.2 512 130.8"/></g>
<path class="k" d="M456.4 146.3L455.7 146.9"/>
<path class="k" d="M489.5 143.2L490.6 143.7"/>
<path class="k" d="M436.2 138L435.4 138.6"/>
<path class="k" d="M502.4 131.9L503.5 132.3"/>
<path class="k" d="M416 129.7L415.2 130.3"/>
<path class="k" d="M515.4 120.6L516.4 120.9"/>
<g class="sf" stroke-width="1.8" transform="scale(.1)"><path fill="#0f1" d="M4531 382l15-20-20 11-15 19z"/><path fill="#0f0" d="M4551 372l15-19-20 9-15 20z"/><path fill="#0f2" d="M4516 400l15-18-20 10-15 19z"/><path fill="#0f0" d="M4571 363l15-20-20 10-15 19z"/><path fill="#0f1" d="M4536 391l15-19-20 10-15 18z"/><path fill="#0f3" d="M4501 419l15-19-20 11-15 18z"/><path fill="#1f0" d="M4591 354l15-19-20 8-15 20z"/><path fill="#0f0" d="M4556 382l15-19-20 9-15 19z"/><path fill="#0f1" d="M4521 409l15-18-20 9-15 19z"/><path fill="#2f0" d="M4611 346l15-19-20 8-15 19z"/><path fill="#0f5" d="M4486 437l15-18-20 10-14 18z"/><path fill="#1f0" d="M4576 373l15-19-20 9-15 19z"/><path fill="#0f1" d="M4541 400l15-18-20 9-15 18z"/><path fill="#2f0" d="M4631 339l15-20-20 8-15 19z"/><path fill="#0f3" d="M4506 427l15-18-20 10-15 18z"/><path fill="#1f0" d="M4596 365l15-19-20 8-15 19z"/><path fill="#0e7" d="M4471 455l15-18-19 10-15 18z"/><path fill="#0f0" d="M4561 392l15-19-20 9-15 18z"/><path fill="#5f0" d="M4651 332l15-19-20 6-15 20z"/><path fill="#0f1" d="M4526 419l15-19-20 9-15 18z"/><path fill="#2f0" d="M4616 358l15-19-20 7-15 19z"/><path fill="#0f4" d="M4491 445l15-18-20 10-15 18z"/><path fill="#8f0" d="M4671 326l15-19-20 6-15 19z"/><path fill="#1f0" d="M4581 384l15-19-20 8-15 19z"/><path fill="#0e9" d="M4456 472l15-17-19 10-15 17z"/><path fill="#0f1" d="M4546 410l15-18-20 8-15 19z"/><path fill="#2f0" d="M4636 352l15-20-20 7-15 19z"/><path fill="#0f2" d="M4511 437l15-18-20 8-15 18z"/><path fill="#af0" d="M4691 321l15-20-20 6-15 19z"/><path fill="#1f0" d="M4601 377l15-19-20 7-15 19z"/><path fill="#0e6" d="M4476 463l15-18-20 10-15 17z"/><path fill="#0f0" d="M4566 403l15-19-20 8-15 18z"/><path fill="#5f0" d="M4656 346l15-20-20 6-15 20z"/><path fill="#0eb" d="M4442 489l14-17-19 10-15 17z"/><path fill="#0f1" d="M4531 428l15-18-20 9-15 18z"/><path fill="#df0" d="M4711 317l16-21-21 5-15 20z"/><path fill="#2f0" d="M4621 371l15-19-20 6-15 19z"/><path fill="#0f4" d="M4496 454l15-17-20 8-15 18z"/><path fill="#1f0" d="M4586 396l15-19-20 7-15 19z"/><path fill="#7f0" d="M4676 341l15-20-20 5-15 20z"/><path fill="#0e8" d="M4461 480l15-17-20 9-14 17z"/><path fill="#ff0" d="M4732 313l15-21-20 4-16 21z"/><path fill="#0f1" d="M4551 421l15-18-20 7-15 18z"/><path fill="#2f0" d="M4641 365l15-19-20 6-15 19z"/><path fill="#0ed" d="M4427 506l15-17-20 10-15 17z"/><path fill="#0f2" d="M4516 446l15-18-20 9-15 17z"/><path fill="#af0" d="M4696 336l15-19-20 4-15 20z"/><path fill="#1f0" d="M4606 390l15-19-20 6-15 19z"/><path fill="#0e6" d="M4481 472l15-18-20 9-15 17z"/><path fill="#fe0" d="M4752 309l15-20-20 3-15 21z"/><path fill="#0f0" d="M4571 414l15-18-20 7-15 18z"/><path fill="#4f0" d="M4661 360l15-19-20 5-15 19z"/><path fill="#0ea" d="M4447 497l14-17-19 9-15 17z"/><path fill="#0f1" d="M4536 439l15-18-20 7-15 18z"/><path fill="#cf0" d="M4717 333l15-20-21 4-15 19z"/><path fill="#2f0" d="M4626 384l15-19-20 6-15 19z"/><path fill="#0ee" d="M4412 522l15-16-20 10-15 16z"/><path fill="#0f3" d="M4501 464l15-18-20 8-15 18z"/><path fill="#fe0" d="M4772 307l15-21-20 3-15 20z"/><path fill="#1f0" d="M4591 408l15-18-20 6-15 18z"/><path fill="#7f0" d="M4681 356l15-20-20 5-15 19z"/><path fill="#0e7" d="M4466 488l15-16-20 8-14 17z"/><path fill="#0f1" d="M4556 432l15-18-20 7-15 18z"/><path fill="#ef0" d="M4737 329l15-20-20 4-15 20z"/><path fill="#2f0" d="M4646 379l15-19-20 5-15 19z"/><path fill="#0ec" d="M4432 513l15-16-20 9-15 16z"/><path fill="#fe0" d="M4793 305l15-21-21 2-15 21z"/><path fill="#0f2" d="M4521 456l15-17-20 7-15 18z"/><path fill="#9f0" d="M4702 352l15-19-21 3-15 20z"/><path fill="#1f0" d="M4611 403l15-19-20 6-15 18z"/><path fill="#0df" d="M4397 538l15-16-20 10-14 16z"/><path fill="#0f5" d="M4486 481l15-17-20 8-15 16z"/><path fill="#ff0" d="M4757 327l15-20-20 2-15 20z"/><path fill="#0f0" d="M4576 426l15-18-20 6-15 18z"/><path fill="#4f0" d="M4666 375l15-19-20 4-15 19z"/><path fill="#0e9" d="M4452 505l14-17-19 9-15 16z"/><path fill="#fd0" d="M4813 304l15-21-20 1-15 21z"/><path fill="#0f1" d="M4541 450l15-18-20 7-15 17z"/><path fill="#bf0" d="M4722 349l15-20-20 4-15 19z"/><path fill="#2f0" d="M4631 398l15-19-20 5-15 19z"/><path fill="#0ed" d="M4417 530l15-17-20 9-15 16z"/><path fill="#0f3" d="M4506 473l15-17-20 8-15 17z"/><path fill="#fe0" d="M4778 325l15-20-21 2-15 20z"/><path fill="#1f0" d="M4596 421l15-18-20 5-15 18z"/><path fill="#6f0" d="M4687 371l15-19-21 4-15 19z"/><path fill="#0bf" d="M4382 554l15-16-19 10-15 16z"/><path fill="#0e7" d="M4471 497l15-16-20 7-14 17z"/><path fill="#fd0" d="M4833 303l15-21-20 1-15 21z"/><path fill="#0f0" d="M4561 444l15-18-20 6-15 18z"/><path fill="#df0" d="M4742 347l15-20-20 2-15 20z"/><path fill="#2f0" d="M4651 394l15-19-20 4-15 19z"/><path fill="#0eb" d="M4437 521l15-16-20 8-15 17z"/><path fill="#0f2" d="M4526 467l15-17-20 6-15 17z"/><path fill="#fe0" d="M4798 324l15-20-20 1-15 20z"/><path fill="#1f0" d="M4616 416l15-18-20 5-15 18z"/><path fill="#8f0" d="M4707 368l15-19-20 3-15 19z"/><path fill="#0de" d="M4402 545l15-15-20 8-15 16z"/><path fill="#fd0" d="M4854 303l15-21-21 0-15 21z"/><path fill="#0f5" d="M4491 490l15-17-20 8-15 16z"/><path fill="#ef0" d="M4763 345l15-20-21 2-15 20z"/><path fill="#0f0" d="M4581 439l15-18-20 5-15 18z"/><path fill="#3f0" d="M4672 390l15-19-21 4-15 19z"/><path fill="#0af" d="M4368 569l14-15-19 10-15 15z"/><path fill="#0e9" d="M4457 514l14-17-19 8-15 16z"/><path fill="#fe0" d="M4818 324l15-21-20 1-15 20z"/><path fill="#0f1" d="M4546 461l15-17-20 6-15 17z"/><path fill="#af0" d="M4727 366l15-19-20 2-15 19z"/><path fill="#2f0" d="M4637 412l14-18-20 4-15 18z"/><path fill="#0ed" d="M4422 537l15-16-20 9-15 15z"/><path fill="#fc0" d="M4874 304l15-21-20-1-15 21z"/><path fill="#0f3" d="M4511 484l15-17-20 6-15 17z"/><path fill="#ff0" d="M4783 344l15-20-20 1-15 20z"/><path fill="#1f0" d="M4601 434l15-18-20 5-15 18z"/><path fill="#5f0" d="M4692 387l15-19-20 3-15 19z"/><path fill="#0cf" d="M4387 561l15-16-20 9-14 15z"/><path fill="#0e6" d="M4477 507l14-17-20 7-14 17z"/><path fill="#fd0" d="M4839 324l15-21-21 0-15 21z"/><path fill="#0f0" d="M4566 456l15-17-20 5-15 17z"/><path fill="#08f" d="M4353 584l15-15-20 10-15 15z"/><path fill="#cf0" d="M4748 365l15-20-21 2-15 19z"/><path fill="#2f0" d="M4657 409l15-19-21 4-14 18z"/><path fill="#0ea" d="M4442 530l15-16-20 7-15 16z"/><path fill="#fc0" d="M4894 306l16-21-21-2-15 21z"/><path fill="#0f2" d="M4531 478l15-17-20 6-15 17z"/><path fill="#fe0" d="M4803 344l15-20-20 0-15 20z"/><path fill="#1f0" d="M4622 430l15-18-21 4-15 18z"/><path fill="#7f0" d="M4712 385l15-19-20 2-15 19z"/><path fill="#0ee" d="M4407 553l15-16-20 8-15 16z"/><path fill="#0f4" d="M4497 500l14-16-20 6-14 17z"/><path fill="#fd0" d="M4859 325l15-21-20-1-15 21z"/><path fill="#0f0" d="M4587 452l14-18-20 5-15 17z"/><path fill="#df0" d="M4768 364l15-20-20 1-15 20z"/><path fill="#0bf" d="M4373 576l14-15-19 8-15 15z"/><path fill="#2f0" d="M4677 406l15-19-20 3-15 19z"/><path fill="#fc0" d="M4915 308l15-21-20-2-16 21z"/><path fill="#0e8" d="M4462 523l15-16-20 7-15 16z"/><path fill="#07e" d="M4338 599l15-15-20 10-15 14z"/><path fill="#fe0" d="M4824 344l15-20-21 0-15 20z"/><path fill="#0f1" d="M4552 473l14-17-20 5-15 17z"/><path fill="#9f0" d="M4733 384l15-19-21 1-15 19z"/><path fill="#1f0" d="M4642 427l15-18-20 3-15 18z"/><path fill="#0ec" d="M4427 545l15-15-20 7-15 16z"/><path fill="#fd0" d="M4879 327l15-21-20-2-15 21z"/><path fill="#0f2" d="M4517 495l14-17-20 6-14 16z"/><path fill="#ef0" d="M4788 364l15-20-20 0-15 20z"/><path fill="#1f0" d="M4607 448l15-18-21 4-14 18z"/><path fill="#4f0" d="M4697 404l15-19-20 2-15 19z"/><path fill="#0df" d="M4392 568l15-15-20 8-14 15z"/><path fill="#fc0" d="M4935 311l15-21-20-3-15 21z"/><path fill="#0e6" d="M4482 517l15-17-20 7-15 16z"/><path fill="#fe0" d="M4844 345l15-20-20-1-15 20z"/><path fill="#0af" d="M4358 590l15-14-20 8-15 15z"/><path fill="#0f0" d="M4572 469l15-17-21 4-14 17z"/><path fill="#af0" d="M4753 383l15-19-20 1-15 19z"/><path fill="#2f0" d="M4662 424l15-18-20 3-15 18z"/><path fill="#0ea" d="M4447 538l15-15-20 7-15 15z"/><path fill="#fd0" d="M4900 329l15-21-21-2-15 21z"/><path fill="#06e" d="M4323 613l15-14-20 9-14 14z"/><path fill="#0f1" d="M4537 490l15-17-21 5-14 17z"/><path fill="#ff0" d="M4809 364l15-20-21 0-15 20z"/><path fill="#1f0" d="M4627 445l15-18-20 3-15 18z"/><path fill="#6f0" d="M4718 403l15-19-21 1-15 19z"/><path fill="#0ed" d="M4412 560l15-15-20 8-15 15z"/><path fill="#fb0" d="M4955 315l15-22-20-3-15 21z"/><path fill="#0f4" d="M4502 511l15-16-20 5-15 17z"/><path fill="#fe0" d="M4864 347l15-20-20-2-15 20z"/><path fill="#0f0" d="M4592 465l15-17-20 4-15 17z"/><path fill="#cf0" d="M4773 383l15-19-20 0-15 19z"/><path fill="#0cf" d="M4378 582l14-14-19 8-15 14z"/><path fill="#2f0" d="M4683 422l14-18-20 2-15 18z"/><path fill="#0e7" d="M4467 532l15-15-20 6-15 15z"/><path fill="#fd0" d="M4920 332l15-21-20-3-15 21z"/><path fill="#08f" d="M4343 605l15-15-20 9-15 14z"/><path fill="#0f1" d="M4557 486l15-17-20 4-15 17z"/><path fill="#fe0" d="M4829 366l15-21-20-1-15 20z"/><path fill="#1f0" d="M4647 442l15-18-20 3-15 18z"/><path fill="#8f0" d="M4738 402l15-19-20 1-15 19z"/><path fill="#fb0" d="M4976 319l15-22-21-4-15 22z"/><path fill="#0eb" d="M4432 554l15-16-20 7-15 15z"/><path fill="#05e" d="M4309 627l14-14-19 9-15 14z"/><path fill="#fd0" d="M4885 350l15-21-21-2-15 20z"/><path fill="#0f2" d="M4522 506l15-16-20 5-15 16z"/><path fill="#df0" d="M4794 384l15-20-21 0-15 19z"/><path fill="#0f0" d="M4612 462l15-17-20 3-15 17z"/><path fill="#3f0" d="M4703 421l15-18-21 1-14 18z"/><path fill="#0ee" d="M4398 575l14-15-20 8-14 14z"/><path fill="#fc0" d="M4940 336l15-21-20-4-15 21z"/><path fill="#0e5" d="M4487 527l15-16-20 6-15 15z"/><path fill="#fe0" d="M4849 368l15-21-20-2-15 21z"/><path fill="#0bf" d="M4363 597l15-15-20 8-15 15z"/><path fill="#0f0" d="M4577 482l15-17-20 4-15 17z"/><path fill="#9f0" d="M4758 402l15-19-20 0-15 19z"/><path fill="#2f0" d="M4668 440l15-18-21 2-15 18z"/><path fill="#fb0" d="M4996 324l15-22-20-5-15 22z"/><path fill="#0e9" d="M4452 548l15-16-20 6-15 16z"/><path fill="#07e" d="M4328 618l15-13-20 8-14 14z"/><path fill="#fd0" d="M4905 353l15-21-20-3-15 21z"/><path fill="#0f1" d="M4542 502l15-16-20 4-15 16z"/><path fill="#ef0" d="M4814 385l15-19-20-2-15 20z"/><path fill="#1f0" d="M4633 460l14-18-20 3-15 17z"/><path fill="#5f0" d="M4723 421l15-19-20 1-15 18z"/><path fill="#0ec" d="M4418 569l14-15-20 6-14 15z"/><path fill="#04e" d="M4294 640l15-13-20 9-15 13z"/><path fill="#fc0" d="M4961 341l15-22-21-4-15 21z"/><path fill="#0f4" d="M4507 522l15-16-20 5-15 16z"/><path fill="#fe0" d="M4870 370l15-20-21-3-15 21z"/><path fill="#0f0" d="M4597 479l15-17-20 3-15 17z"/><path fill="#0df" d="M4383 590l15-15-20 7-15 15z"/><path fill="#af0" d="M4779 403l15-19-21-1-15 19z"/><path fill="#2f0" d="M4688 439l15-18-20 1-15 18z"/><path fill="#fb0" d="M5016 330l15-22-20-6-15 22z"/><path fill="#0e7" d="M4472 542l15-15-20 5-15 16z"/><path fill="#fd0" d="M4925 357l15-21-20-4-15 21z"/><path fill="#09f" d="M4348 611l15-14-20 8-15 13z"/><path fill="#0f1" d="M4562 499l15-17-20 4-15 16z"/><path fill="#ff0" d="M4835 387l14-19-20-2-15 19z"/><path fill="#1f0" d="M4653 458l15-18-21 2-14 18z"/><path fill="#6f0" d="M4744 421l14-19-20 0-15 19z"/><path fill="#0ea" d="M4438 563l14-15-20 6-14 15z"/><path fill="#fc0" d="M4981 346l15-22-20-5-15 22z"/><path fill="#06e" d="M4314 632l14-14-19 9-15 13z"/><path fill="#0f2" d="M4527 518l15-16-20 4-15 16z"/><path fill="#fe0" d="M4890 374l15-21-20-3-15 20z"/><path fill="#0f0" d="M4618 477l15-17-21 2-15 17z"/><path fill="#bf0" d="M4799 405l15-20-20-1-15 19z"/><path fill="#fb0" d="M5036 337l15-22-20-7-15 22z"/><path fill="#2f0" d="M4708 439l15-18-20 0-15 18z"/><path fill="#0ee" d="M4403 583l15-14-20 6-15 15z"/><path fill="#03e" d="M4279 653l15-13-20 9-14 13z"/><path fill="#fd0" d="M4946 362l15-21-21-5-15 21z"/><path fill="#0f5" d="M4493 538l14-16-20 5-15 15z"/><path fill="#0cf" d="M4368 604l15-14-20 7-15 14z"/><path fill="#ff0" d="M4855 390l15-20-21-2-14 19z"/><path fill="#0f0" d="M4583 496l14-17-20 3-15 17z"/><path fill="#8f0" d="M4764 422l15-19-21-1-14 19z"/><path fill="#2f0" d="M4673 457l15-18-20 1-15 18z"/><path fill="#fc0" d="M5001 352l15-22-20-6-15 22z"/><path fill="#0e8" d="M4458 558l14-16-20 6-14 15z"/><path fill="#08f" d="M4334 624l14-13-20 7-14 14z"/><path fill="#fe0" d="M4910 378l15-21-20-4-15 21z"/><path fill="#0f1" d="M4548 515l14-16-20 3-15 16z"/><path fill="#fb0" d="M5057 344l15-22-21-7-15 22z"/><path fill="#cf0" d="M4820 407l15-20-21-2-15 20z"/><path fill="#1f0" d="M4638 475l15-17-20 2-15 17z"/><path fill="#4f0" d="M4729 439l15-18-21 0-15 18z"/><path fill="#0ec" d="M4423 577l15-14-20 6-15 14z"/><path fill="#05e" d="M4299 645l15-13-20 8-15 13z"/><path fill="#fd0" d="M4966 367l15-21-20-5-15 21z"/><path fill="#0f3" d="M4513 534l14-16-20 4-14 16z"/><path fill="#ff0" d="M4875 394l15-20-20-4-15 20z"/><path fill="#02d" d="M4264 666l15-13-19 9-15 12z"/><path fill="#0f0" d="M4603 494l15-17-21 2-14 17z"/><path fill="#0de" d="M4388 597l15-14-20 7-15 14z"/><path fill="#9f0" d="M4784 424l15-19-20-2-15 19z"/><path fill="#2f0" d="M4694 457l14-18-20 0-15 18z"/><path fill="#fc0" d="M5021 359l15-22-20-7-15 22z"/><path fill="#0e6" d="M4478 553l15-15-21 4-14 16z"/><path fill="#fe0" d="M4931 383l15-21-21-5-15 21z"/><path fill="#0af" d="M4353 617l15-13-20 7-14 13z"/><path fill="#fc0" d="M5077 352l15-22-20-8-15 22z"/><path fill="#0f1" d="M4568 512l15-16-21 3-14 16z"/><path fill="#df0" d="M4840 410l15-20-20-3-15 20z"/><path fill="#1f0" d="M4659 475l14-18-20 1-15 17z"/><path fill="#5f0" d="M4749 441l15-19-20-1-15 18z"/><path fill="#0ea" d="M4443 572l15-14-20 5-15 14z"/><path fill="#07f" d="M4319 637l15-13-20 8-15 13z"/><path fill="#fd0" d="M4986 373l15-21-20-6-15 21z"/><path fill="#0f2" d="M4533 531l15-16-21 3-14 16z"/><path fill="#fe0" d="M4896 398l14-20-20-4-15 20z"/><path fill="#0f0" d="M4623 492l15-17-20 2-15 17z"/><path fill="#af0" d="M4805 426l15-19-21-2-15 19z"/><path fill="#0ed" d="M4408 592l15-15-20 6-15 14z"/><path fill="#04e" d="M4284 658l15-13-20 8-15 13z"/><path fill="#2f0" d="M4714 458l15-19-21 0-14 18z"/><path fill="#fd0" d="M5042 366l15-22-21-7-15 22z"/><path fill="#0f5" d="M4498 549l15-15-20 4-15 15z"/><path fill="#fe0" d="M4951 388l15-21-20-5-15 21z"/><path fill="#02d" d="M4250 678l14-12-19 8-15 13z"/><path fill="#fc0" d="M5097 361l15-23-20-8-15 22z"/><path fill="#0cf" d="M4373 611l15-14-20 7-15 13z"/><path fill="#0f1" d="M4588 510l15-16-20 2-15 16z"/><path fill="#df0" d="M4860 414l15-20-20-4-15 20z"/><path fill="#1f0" d="M4679 475l15-18-21 0-14 18z"/><path fill="#6f0" d="M4770 442l14-18-20-2-15 19z"/><path fill="#fd0" d="M5007 380l14-21-20-7-15 21z"/><path fill="#0e8" d="M4463 568l15-15-20 5-15 14z"/><path fill="#09f" d="M4339 631l14-14-19 7-15 13z"/><path fill="#fe0" d="M4916 403l15-20-21-5-14 20z"/><path fill="#0f1" d="M4553 528l15-16-20 3-15 16z"/><path fill="#fd0" d="M5062 374l15-22-20-8-15 22z"/><path fill="#af0" d="M4825 429l15-19-20-3-15 19z"/><path fill="#1f0" d="M4644 492l15-17-21 0-15 17z"/><path fill="#2f0" d="M4734 459l15-18-20-2-15 19z"/><path fill="#0eb" d="M4428 587l15-15-20 5-15 15z"/><path fill="#06e" d="M4304 650l15-13-20 8-15 13z"/><path fill="#fe0" d="M4971 395l15-22-20-6-15 21z"/><path fill="#fc0" d="M5117 371l15-23-20-10-15 23z"/><path fill="#0f3" d="M4518 546l15-15-20 3-15 15z"/><path fill="#03e" d="M4270 670l14-12-20 8-14 12z"/><path fill="#ef0" d="M4881 418l15-20-21-4-15 20z"/><path fill="#0ee" d="M4393 606l15-14-20 5-15 14z"/><path fill="#0f0" d="M4609 509l14-17-20 2-15 16z"/><path fill="#7f0" d="M4790 445l15-19-21-2-14 18z"/><path fill="#2f0" d="M4699 475l15-17-20-1-15 18z"/><path fill="#fd0" d="M5027 388l15-22-21-7-14 21z"/><path fill="#0e6" d="M4483 564l15-15-20 4-15 15z"/><path fill="#02d" d="M4235 690l15-12-20 9-15 11z"/><path fill="#0bf" d="M4359 624l14-13-20 6-14 14z"/><path fill="#fe0" d="M4936 409l15-21-20-5-15 20z"/><path fill="#0f1" d="M4574 526l14-16-20 2-15 16z"/><path fill="#fd0" d="M5082 383l15-22-20-9-15 22z"/><path fill="#bf0" d="M4846 433l14-19-20-4-15 19z"/><path fill="#1f0" d="M4664 492l15-17-20 0-15 17z"/><path fill="#3f0" d="M4755 461l15-19-21-1-15 18z"/><path fill="#0e9" d="M4448 582l15-14-20 4-15 15z"/><path fill="#08f" d="M4324 644l15-13-20 6-15 13z"/><path fill="#fe0" d="M4992 402l15-22-21-7-15 22z"/><path fill="#fc0" d="M5137 381l15-23-20-10-15 23z"/><path fill="#0f2" d="M4539 544l14-16-20 3-15 15z"/><path fill="#ef0" d="M4901 423l15-20-20-5-15 20z"/><path fill="#0f0" d="M4629 508l15-16-21 0-14 17z"/><path fill="#05e" d="M4289 663l15-13-20 8-14 12z"/><path fill="#0ec" d="M4414 601l14-14-20 5-15 14z"/><path fill="#8f0" d="M4810 448l15-19-20-3-15 19z"/><path fill="#2f0" d="M4720 477l14-18-20-1-15 17z"/><path fill="#fd0" d="M5047 396l15-22-20-8-15 22z"/><path fill="#0f4" d="M4504 561l14-15-20 3-15 15z"/><path fill="#fe0" d="M4957 415l14-20-20-7-15 21z"/><path fill="#02d" d="M4255 682l15-12-20 8-15 12z"/><path fill="#0df" d="M4379 619l14-13-20 5-14 13z"/><path fill="#fd0" d="M5102 393l15-22-20-10-15 22z"/><path fill="#0f1" d="M4594 525l15-16-21 1-14 16z"/><path fill="#bf0" d="M4866 438l15-20-21-4-14 19z"/><path fill="#1f0" d="M4685 493l14-18-20 0-15 17z"/><path fill="#4f0" d="M4775 463l15-18-20-3-15 19z"/><path fill="#02c" d="M4220 701l15-11-20 8-14 12z"/><path fill="#0e7" d="M4469 579l14-15-20 4-15 14z"/><path fill="#fe0" d="M5012 409l15-21-20-8-15 22z"/><path fill="#fd0" d="M5157 392l15-23-20-11-15 23z"/><path fill="#0af" d="M4344 637l15-13-20 7-15 13z"/><path fill="#0f1" d="M4559 542l15-16-21 2-14 16z"/><path fill="#ef0" d="M4921 429l15-20-20-6-15 20z"/><path fill="#0f0" d="M4650 509l14-17-20 0-15 16z"/><path fill="#8f0" d="M4831 452l15-19-21-4-15 19z"/><path fill="#fe0" d="M5067 405l15-22-20-9-15 22z"/><path fill="#2f0" d="M4740 479l15-18-21-2-14 18z"/><path fill="#0ea" d="M4434 597l14-15-20 5-14 14z"/><path fill="#07f" d="M4309 656l15-12-20 6-15 13z"/><path fill="#fe0" d="M4977 422l15-20-21-7-14 20z"/><path fill="#0f3" d="M4524 559l15-15-21 2-14 15z"/><path fill="#fd0" d="M5122 404l15-23-20-10-15 22z"/><path fill="#04e" d="M4275 675l14-12-19 7-15 12z"/><path fill="#0ed" d="M4399 614l15-13-21 5-14 13z"/><path fill="#bf0" d="M4886 443l15-20-20-5-15 20z"/><path fill="#0f0" d="M4614 525l15-17-20 1-15 16z"/><path fill="#5f0" d="M4796 467l14-19-20-3-15 18z"/><path fill="#1f0" d="M4705 494l15-17-21-2-14 18z"/><path fill="#fd0" d="M5177 404l14-24-19-11-15 23z"/><path fill="#fe0" d="M5032 418l15-22-20-8-15 21z"/><path fill="#0e6" d="M4489 576l15-15-21 3-14 15z"/><path fill="#02d" d="M4240 693l15-11-20 8-15 11z"/><path fill="#0cf" d="M4364 632l15-13-20 5-15 13z"/><path fill="#ef0" d="M4942 436l15-21-21-6-15 20z"/><path fill="#0f1" d="M4579 541l15-16-20 1-15 16z"/><path fill="#fe0" d="M5087 415l15-22-20-10-15 22z"/><path fill="#9f0" d="M4851 457l15-19-20-5-15 19z"/><path fill="#1f0" d="M4670 510l15-17-21-1-14 17z"/><path fill="#02c" d="M4206 712l14-11-19 9-15 11z"/><path fill="#2f0" d="M4761 481l14-18-20-2-15 18z"/><path fill="#0e9" d="M4454 593l15-14-21 3-14 15z"/><path fill="#0af" d="M4329 650l15-13-20 7-15 12z"/><path fill="#fe0" d="M4997 430l15-21-20-7-15 20zM5142 415l15-23-20-11-15 23z"/><path fill="#0f2" d="M4544 557l15-15-20 2-15 15z"/><path fill="#cf0" d="M4907 449l14-20-20-6-15 20z"/><path fill="#06e" d="M4295 668l14-12-20 7-14 12z"/><path fill="#0f0" d="M4635 525l15-16-21-1-15 17z"/><path fill="#0ec" d="M4419 610l15-13-20 4-15 13z"/><path fill="#6f0" d="M4816 471l15-19-21-4-14 19z"/><path fill="#2f0" d="M4726 496l14-17-20-2-15 17z"/><path fill="#fd0" d="M5196 416l15-23-20-13-14 24z"/><path fill="#fe0" d="M5052 427l15-22-20-9-15 22z"/><path fill="#0f4" d="M4509 574l15-15-20 2-15 15z"/><path fill="#04e" d="M4260 686l15-11-20 7-15 11z"/><path fill="#ef0" d="M4962 443l15-21-20-7-15 21z"/><path fill="#0ee" d="M4384 628l15-14-20 5-15 13z"/><path fill="#fe0" d="M5107 426l15-22-20-11-15 22z"/><path fill="#0f1" d="M4600 541l14-16-20 0-15 16z"/><path fill="#9f0" d="M4872 462l14-19-20-5-15 19z"/><path fill="#1f0" d="M4690 511l15-17-20-1-15 17z"/><path fill="#3f0" d="M4781 485l15-18-21-4-14 18z"/><path fill="#02d" d="M4225 704l15-11-20 8-14 11z"/><path fill="#0e7" d="M4474 590l15-14-20 3-15 14z"/><path fill="#ff0" d="M5017 439l15-21-20-9-15 21z"/><path fill="#0bf" d="M4349 645l15-13-20 5-15 13z"/><path fill="#fe0" d="M5162 427l15-23-20-12-15 23z"/><path fill="#0f1" d="M4565 556l14-15-20 1-15 15z"/><path fill="#02b" d="M4191 723l15-11-20 9-15 10z"/><path fill="#bf0" d="M4927 456l15-20-21-7-14 20z"/><path fill="#0f0" d="M4655 526l15-16-20-1-15 16z"/><path fill="#fe0" d="M5216 430l15-24-20-13-15 23z"/><path fill="#6f0" d="M4837 476l14-19-20-5-15 19z"/><path fill="#0ea" d="M4439 607l15-14-20 4-15 13z"/><path fill="#2f0" d="M4746 499l15-18-21-2-14 17z"/><path fill="#09f" d="M4315 662l14-12-20 6-14 12z"/><path fill="#fe0" d="M5072 437l15-22-20-10-15 22z"/><path fill="#0f3" d="M4530 572l14-15-20 2-15 15z"/><path fill="#df0" d="M4982 451l15-21-20-8-15 21z"/><path fill="#06e" d="M4280 680l15-12-20 7-15 11z"/><path fill="#fe0" d="M5127 437l15-22-20-11-15 22z"/><path fill="#0ed" d="M4404 624l15-14-20 4-15 14z"/><path fill="#0f0" d="M4620 541l15-16-21 0-14 16z"/><path fill="#9f0" d="M4892 468l15-19-21-6-14 19z"/><path fill="#1f0" d="M4711 513l15-17-21-2-15 17z"/><path fill="#3f0" d="M4802 489l14-18-20-4-15 18z"/><path fill="#ff0" d="M5037 449l15-22-20-9-15 21z"/><path fill="#fe0" d="M5181 439l15-23-19-12-15 23z"/><path fill="#03d" d="M4245 697l15-11-20 7-15 11z"/><path fill="#0e5" d="M4495 588l14-14-20 2-15 14z"/><path fill="#0df" d="M4370 640l14-12-20 4-15 13z"/><path fill="#bf0" d="M4947 463l15-20-20-7-15 20z"/><path fill="#0f1" d="M4585 556l15-15-21 0-14 15z"/><path fill="#fe0" d="M5236 444l15-24-20-14-15 24z"/><path fill="#02c" d="M4211 715l14-11-19 8-15 11z"/><path fill="#6f0" d="M4857 481l15-19-21-5-14 19z"/><path fill="#ff0" d="M5092 448l15-22-20-11-15 22z"/><path fill="#1f0" d="M4676 528l14-17-20-1-15 16z"/><path fill="#2f0" d="M4766 503l15-18-20-4-15 18z"/><path fill="#0e8" d="M4460 604l14-14-20 3-15 14z"/><path fill="#0bf" d="M4335 657l14-12-20 5-14 12z"/><path fill="#df0" d="M5002 460l15-21-20-9-15 21z"/><path fill="#02a" d="M4176 733l15-10-20 8-15 10z"/><path fill="#0f2" d="M4550 572l15-16-21 1-14 15z"/><path fill="#fe0" d="M5147 449l15-22-20-12-15 22z"/><path fill="#9f0" d="M4912 475l15-19-20-7-15 19z"/><path fill="#08f" d="M4300 674l15-12-20 6-15 12z"/><path fill="#0eb" d="M4425 620l14-13-20 3-15 14z"/><path fill="#0f0" d="M4641 542l14-16-20-1-15 16z"/><path fill="#4f0" d="M4822 494l15-18-21-5-14 18z"/><path fill="#1f0" d="M4731 517l15-18-20-3-15 17z"/><path fill="#fe0" d="M5201 453l15-23-20-14-15 23z"/><path fill="#ef0" d="M5057 459l15-22-20-10-15 22z"/><path fill="#0f4" d="M4515 587l15-15-21 2-14 14z"/><path fill="#05e" d="M4265 691l15-11-20 6-15 11z"/><path fill="#0ee" d="M4390 636l14-12-20 4-14 12z"/><path fill="#bf0" d="M4968 471l14-20-20-8-15 20z"/><path fill="#ff0" d="M5255 459l15-25-19-14-15 24z"/><path fill="#0f1" d="M4606 557l14-16-20 0-15 15z"/><path fill="#ff0" d="M5112 460l15-23-20-11-15 22z"/><path fill="#7f0" d="M4877 488l15-20-20-6-15 19z"/><path fill="#1f0" d="M4696 530l15-17-21-2-14 17z"/><path fill="#2f0" d="M4787 507l15-18-21-4-15 18z"/><path fill="#02d" d="M4230 708l15-11-20 7-14 11z"/><path fill="#0e6" d="M4480 602l15-14-21 2-14 14z"/><path fill="#0cf" d="M4355 653l15-13-21 5-14 12z"/><path fill="#cf0" d="M5023 470l14-21-20-10-15 21z"/><path fill="#ff0" d="M5167 462l14-23-19-12-15 22z"/><path fill="#0f1" d="M4571 571l14-15-20 0-15 16z"/><path fill="#02c" d="M4196 725l15-10-20 8-15 10z"/><path fill="#9f0" d="M4933 483l14-20-20-7-15 19z"/><path fill="#0f0" d="M4661 544l15-16-21-2-14 16z"/><path fill="#0e9" d="M4445 618l15-14-21 3-14 13z"/><path fill="#4f0" d="M4842 500l15-19-20-5-15 18z"/><path fill="#0af" d="M4320 669l15-12-20 5-15 12z"/><path fill="#ff0" d="M5221 467l15-23-20-14-15 23z"/><path fill="#2f0" d="M4752 520l14-17-20-4-15 18z"/><path fill="#df0" d="M5077 470l15-22-20-11-15 22z"/><path fill="#02a" d="M4161 743l15-10-20 8-14 10z"/><path fill="#0f3" d="M4535 586l15-14-20 0-15 15z"/><path fill="#ef0" d="M5275 474l14-24-19-16-15 25z"/><path fill="#af0" d="M4988 480l14-20-20-9-14 20z"/><path fill="#07f" d="M4285 685l15-11-20 6-15 11z"/><path fill="#0ec" d="M4410 633l15-13-21 4-14 12z"/><path fill="#ef0" d="M5132 472l15-23-20-12-15 23z"/><path fill="#0f0" d="M4626 558l15-16-21-1-14 16z"/><path fill="#6f0" d="M4898 495l14-20-20-7-15 20z"/><path fill="#1f0" d="M4717 533l14-16-20-4-15 17z"/><path fill="#2f0" d="M4807 512l15-18-20-5-15 18z"/><path fill="#04e" d="M4250 702l15-11-20 6-15 11z"/><path fill="#0f5" d="M4500 601l15-14-20 1-15 14z"/><path fill="#cf0" d="M5043 480l14-21-20-10-14 21z"/><path fill="#df0" d="M5186 476l15-23-20-14-14 23z"/><path fill="#0ee" d="M4375 649l15-13-20 4-15 13z"/><path fill="#0f1" d="M4591 572l15-15-21-1-14 15z"/><path fill="#8f0" d="M4953 491l15-20-21-8-14 20z"/><path fill="#02d" d="M4216 719l14-11-19 7-15 10z"/><path fill="#df0" d="M5240 482l15-23-19-15-15 23z"/><path fill="#0f0" d="M4682 547l14-17-20-2-15 16z"/><path fill="#4f0" d="M4863 506l14-18-20-7-15 19z"/><path fill="#cf0" d="M5097 481l15-21-20-12-15 22z"/><path fill="#2f0" d="M4772 525l15-18-21-4-14 17z"/><path fill="#0e8" d="M4465 616l15-14-20 2-15 14z"/><path fill="#0bf" d="M4340 665l15-12-20 4-15 12z"/><path fill="#cf0" d="M5294 491l15-25-20-16-14 24z"/><path fill="#02b" d="M4181 735l15-10-20 8-15 10z"/><path fill="#af0" d="M5008 490l15-20-21-10-14 20z"/><path fill="#0f2" d="M4556 586l15-15-21 1-15 14z"/><path fill="#cf0" d="M5152 485l15-23-20-13-15 23z"/><path fill="#09f" d="M4305 681l15-12-20 5-15 11z"/><path fill="#0ea" d="M4430 631l15-13-20 2-15 13z"/><path fill="#6f0" d="M4918 502l15-19-21-8-14 20z"/><path fill="#0f0" d="M4647 560l14-16-20-2-15 16z"/><path fill="#019" d="M4146 752l15-9-19 8-15 9z"/><path fill="#2f0" d="M4828 518l14-18-20-6-15 18z"/><path fill="#1f0" d="M4737 537l15-17-21-3-14 16z"/><path fill="#cf0" d="M5206 490l15-23-20-14-15 23z"/><path fill="#bf0" d="M5063 491l14-21-20-11-14 21z"/><path fill="#0f4" d="M4521 600l14-14-20 1-15 14z"/><path fill="#06e" d="M4271 696l14-11-20 6-15 11z"/><path fill="#0ed" d="M4395 646l15-13-20 3-15 13z"/><path fill="#8f0" d="M4973 501l15-21-20-9-15 20z"/><path fill="#0f1" d="M4612 574l14-16-20-1-15 15z"/><path fill="#bf0" d="M5260 498l15-24-20-15-15 23zM5117 494l15-22-20-12-15 21z"/><path fill="#4f0" d="M4883 514l15-19-21-7-14 18z"/><path fill="#1f0" d="M4702 550l15-17-21-3-14 17z"/><path fill="#04e" d="M4236 712l14-10-20 6-14 11z"/><path fill="#2f0" d="M4793 530l14-18-20-5-15 18z"/><path fill="#0e6" d="M4486 615l14-14-20 1-15 14z"/><path fill="#9f0" d="M5313 508l15-25-19-17-15 25z"/><path fill="#0df" d="M4360 661l15-12-20 4-15 12z"/><path fill="#9f0" d="M5028 501l15-21-20-10-15 20z"/><path fill="#bf0" d="M5172 499l14-23-19-14-15 23z"/><path fill="#02c" d="M4201 729l15-10-20 6-15 10z"/><path fill="#0f1" d="M4576 587l15-15-20-1-15 15z"/><path fill="#6f0" d="M4938 511l15-20-20-8-15 19z"/><path fill="#0f0" d="M4667 563l15-16-21-3-14 16z"/><path fill="#0bf" d="M4326 676l14-11-20 4-15 12z"/><path fill="#0e9" d="M4451 629l14-13-20 2-15 13z"/><path fill="#2f0" d="M4848 525l15-19-21-6-14 18z"/><path fill="#1f0" d="M4758 542l14-17-20-5-15 17z"/><path fill="#af0" d="M5226 506l14-24-19-15-15 23z"/><path fill="#02a" d="M4166 745l15-10-20 8-15 9z"/><path fill="#9f0" d="M5083 503l14-22-20-11-14 21z"/><path fill="#0f3" d="M4541 601l15-15-21 0-14 14z"/><path fill="#08f" d="M4291 692l14-11-20 4-14 11z"/><path fill="#7f0" d="M4993 510l15-20-20-10-15 21z"/><path fill="#9f0" d="M5279 515l15-24-19-17-15 24z"/><path fill="#0eb" d="M4416 644l14-13-20 2-15 13z"/><path fill="#017" d="M4132 761l14-9-19 8-15 9z"/><path fill="#0f1" d="M4632 576l15-16-21-2-14 16z"/><path fill="#9f0" d="M5137 507l15-22-20-13-15 22z"/><path fill="#4f0" d="M4903 522l15-20-20-7-15 19z"/><path fill="#1f0" d="M4723 554l14-17-20-4-15 17z"/><path fill="#2f0" d="M4813 536l15-18-21-6-14 18z"/><path fill="#06e" d="M4256 707l15-11-21 6-14 10z"/><path fill="#0f5" d="M4506 614l15-14-21 1-14 14z"/><path fill="#8f0" d="M5048 512l15-21-20-11-15 21z"/><path fill="#0ee" d="M4381 658l14-12-20 3-15 12z"/><path fill="#9f0" d="M5191 513l15-23-20-14-14 23z"/><path fill="#0f1" d="M4597 589l15-15-21-2-15 15z"/><path fill="#5f0" d="M4959 520l14-19-20-10-15 20z"/><path fill="#03d" d="M4221 723l15-11-20 7-15 10z"/><path fill="#0f0" d="M4688 566l14-16-20-3-15 16z"/><path fill="#2f0" d="M4869 532l14-18-20-8-15 19z"/><path fill="#8f0" d="M5245 522l15-24-20-16-14 24z"/><path fill="#0e7" d="M4471 628l15-13-21 1-14 13z"/><path fill="#1f0" d="M4778 547l15-17-21-5-14 17z"/><path fill="#8f0" d="M5103 515l14-21-20-13-14 22z"/><path fill="#0cf" d="M4346 673l14-12-20 4-14 11z"/><path fill="#02c" d="M4186 738l15-9-20 6-15 10z"/><path fill="#6f0" d="M5298 532l15-24-19-17-15 24z"/><path fill="#0f2" d="M4562 602l14-15-20-1-15 15z"/><path fill="#6f0" d="M5013 521l15-20-20-11-15 20z"/><path fill="#8f0" d="M5157 521l15-22-20-14-15 22z"/><path fill="#0af" d="M4311 688l15-12-21 5-14 11z"/><path fill="#0ea" d="M4436 642l15-13-21 2-14 13z"/><path fill="#0f0" d="M4653 579l14-16-20-3-15 16z"/><path fill="#3f0" d="M4924 530l14-19-20-9-15 20z"/><path fill="#02a" d="M4151 754l15-9-20 7-14 9z"/><path fill="#1f0" d="M4743 559l15-17-21-5-14 17z"/><path fill="#2f0" d="M4834 543l14-18-20-7-15 18z"/><path fill="#7f0" d="M5068 524l15-21-20-12-15 21zM5211 529l15-23-20-16-15 23z"/><path fill="#0f4" d="M4527 615l14-14-20-1-15 14z"/><path fill="#07f" d="M4276 702l15-10-20 4-15 11z"/><path fill="#016" d="M4117 769l15-8-20 8-15 8z"/><path fill="#0ec" d="M4401 656l15-12-21 2-14 12z"/><path fill="#5f0" d="M4979 530l14-20-20-9-14 19z"/><path fill="#0f1" d="M4617 591l15-15-20-2-15 15z"/><path fill="#6f0" d="M5264 538l15-23-19-17-15 24z"/><path fill="#2f0" d="M4889 540l14-18-20-8-14 18z"/><path fill="#05e" d="M4241 717l15-10-20 5-15 11z"/><path fill="#0f0" d="M4708 570l15-16-21-4-14 16z"/><path fill="#7f0" d="M5123 529l14-22-20-13-14 21z"/><path fill="#1f0" d="M4799 554l14-18-20-6-15 17z"/><path fill="#0e6" d="M4492 628l14-14-20 1-15 13z"/><path fill="#0ee" d="M4366 670l15-12-21 3-14 12z"/><path fill="#5f0" d="M5034 533l14-21-20-11-15 20z"/><path fill="#03d" d="M4206 732l15-9-20 6-15 9z"/><path fill="#0f2" d="M4582 603l15-14-21-2-14 15z"/><path fill="#6f0" d="M5177 536l14-23-19-14-15 22z"/><path fill="#3f0" d="M4944 540l15-20-21-9-14 19z"/><path fill="#0cf" d="M4331 684l15-11-20 3-15 12z"/><path fill="#0f0" d="M4673 582l15-16-21-3-14 16z"/><path fill="#0e8" d="M4457 641l14-13-20 1-15 13z"/><path fill="#2f0" d="M4854 550l15-18-21-7-14 18z"/><path fill="#1f0" d="M4764 564l14-17-20-5-15 17z"/><path fill="#02b" d="M4171 747l15-9-20 7-15 9z"/><path fill="#5f0" d="M5230 545l15-23-19-16-15 23zM5088 537l15-22-20-12-15 21z"/><path fill="#0f3" d="M4547 616l15-14-21-1-14 14z"/><path fill="#09f" d="M4296 698l15-10-20 4-15 10z"/><path fill="#019" d="M4137 762l14-8-19 7-15 8z"/><path fill="#0eb" d="M4422 654l14-12-20 2-15 12z"/><path fill="#4f0" d="M4999 541l14-20-20-11-14 20z"/><path fill="#3f0" d="M5284 556l14-24-19-17-15 23z"/><path fill="#0f1" d="M4638 594l15-15-21-3-15 15z"/><path fill="#5f0" d="M5142 543l15-22-20-14-14 22z"/><path fill="#2f0" d="M4909 549l15-19-21-8-14 18z"/><path fill="#0f0" d="M4729 575l14-16-20-5-15 16z"/><path fill="#1f0" d="M4819 561l15-18-21-7-14 18z"/><path fill="#014" d="M4102 778l15-9-20 8-15 8z"/><path fill="#07e" d="M4261 713l15-11-20 5-15 10z"/><path fill="#0f5" d="M4512 628l15-13-21-1-14 14z"/><path fill="#0ed" d="M4387 668l14-12-20 2-15 12z"/><path fill="#4f0" d="M5054 545l14-21-20-12-14 21zM5196 551l15-22-20-16-14 23z"/><path fill="#0f1" d="M4603 606l14-15-20-2-15 14z"/><path fill="#04e" d="M4226 727l15-10-20 6-15 9z"/><path fill="#2f0" d="M4964 550l15-20-20-10-15 20z"/><path fill="#0f0" d="M4694 586l14-16-20-4-15 16z"/><path fill="#2f0" d="M4874 559l15-19-20-8-15 18z"/><path fill="#0e7" d="M4477 641l15-13-21 0-14 13z"/><path fill="#0df" d="M4352 681l14-11-20 3-15 11z"/><path fill="#1f0" d="M4784 571l15-17-21-7-14 17z"/><path fill="#2f0" d="M5250 562l14-24-19-16-15 23z"/><path fill="#4f0" d="M5108 550l15-21-20-14-15 22z"/><path fill="#02c" d="M4191 741l15-9-20 6-15 9z"/><path fill="#0f2" d="M4568 618l14-15-20-1-15 14z"/><path fill="#3f0" d="M5019 553l15-20-21-12-14 20z"/><path fill="#0bf" d="M4317 695l14-11-20 4-15 10z"/><path fill="#0e9" d="M4442 654l15-13-21 1-14 12z"/><path fill="#3f0" d="M5162 558l15-22-20-15-15 22z"/><path fill="#02b" d="M4157 756l14-9-20 7-14 8z"/><path fill="#0f1" d="M4659 598l14-16-20-3-15 15z"/><path fill="#2f0" d="M4930 559l14-19-20-10-15 19z"/><path fill="#1f0" d="M4749 581l15-17-21-5-14 16zM4840 568l14-18-20-7-15 18z"/><path fill="#09f" d="M4282 709l14-11-20 4-15 11z"/><path fill="#0f4" d="M4533 629l14-13-20-1-15 13z"/><path fill="#017" d="M4122 770l15-8-20 7-15 9z"/><path fill="#3f0" d="M5074 558l14-21-20-13-14 21z"/><path fill="#2f0" d="M5216 568l14-23-19-16-15 22z"/><path fill="#0eb" d="M4407 667l15-13-21 2-14 12z"/><path fill="#0f1" d="M4624 609l14-15-21-3-14 15z"/><path fill="#2f0" d="M4984 561l15-20-20-11-15 20z"/><path fill="#002" d="M4087 785l15-7-20 7-15 8z"/><path fill="#06e" d="M4247 722l14-9-20 4-15 10z"/><path fill="#2f0" d="M5269 580l15-24-20-18-14 24z"/><path fill="#0f0" d="M4714 592l15-17-21-5-14 16z"/><path fill="#2f0" d="M4895 568l14-19-20-9-15 19zM5128 565l14-22-19-14-15 21z"/><path fill="#1f0" d="M4805 578l14-17-20-7-15 17z"/><path fill="#0e6" d="M4498 642l14-14-20 0-15 13z"/><path fill="#0ee" d="M4372 679l15-11-21 2-14 11z"/><path fill="#04d" d="M4212 736l14-9-20 5-15 9z"/><path fill="#2f0" d="M5039 565l15-20-20-12-15 20z"/><path fill="#0f2" d="M4588 620l15-14-21-3-14 15z"/><path fill="#2f0" d="M5182 574l14-23-19-15-15 22z"/><path fill="#0df" d="M4337 692l15-11-21 3-14 11z"/><path fill="#2f0" d="M4950 569l14-19-20-10-14 19z"/><path fill="#0e8" d="M4463 654l14-13-20 0-15 13z"/><path fill="#0f0" d="M4679 602l15-16-21-4-14 16z"/><path fill="#02c" d="M4177 750l14-9-20 6-14 9z"/><path fill="#1f0" d="M4860 577l14-18-20-9-14 18zM4770 588l14-17-20-7-15 17z"/><path fill="#2f0" d="M5093 571l15-21-20-13-14 21zM5235 585l15-23-20-17-14 23z"/><path fill="#0f3" d="M4553 631l15-13-21-2-14 13z"/><path fill="#0bf" d="M4302 705l15-10-21 3-14 11z"/><path fill="#02a" d="M4142 764l15-8-20 6-15 8z"/><path fill="#0ea" d="M4428 666l14-12-20 0-15 13z"/><path fill="#2f0" d="M5005 573l14-20-20-12-15 20z"/><path fill="#0f1" d="M4644 613l15-15-21-4-14 15z"/><path fill="#2f0" d="M5147 580l15-22-20-15-14 22zM4915 577l15-18-21-10-14 19z"/><path fill="#0f0" d="M4735 597l14-16-20-6-15 17z"/><path fill="#016" d="M4107 778l15-8-20 8-15 7z"/><path fill="#1f0" d="M4825 586l15-18-21-7-14 17z"/><path fill="#08f" d="M4267 719l15-10-21 4-14 9z"/><path fill="#0f5" d="M4518 643l15-14-21-1-14 14z"/><path fill="#0ec" d="M4392 678l15-11-20 1-15 11z"/><path fill="#2f0" d="M5059 578l15-20-20-13-15 20z"/><path fill="#002" d="M4072 792l15-7-20 8-15 7z"/><path fill="#2f0" d="M5201 590l15-22-20-17-14 23z"/><path fill="#0f1" d="M4609 623l15-14-21-3-15 14z"/><path fill="#06e" d="M4232 732l15-10-21 5-14 9z"/><path fill="#2f0" d="M4970 580l14-19-20-11-14 19z"/><path fill="#0f0" d="M4700 607l14-15-20-6-15 16z"/><path fill="#0e7" d="M4483 654l15-12-21-1-14 13z"/><path fill="#0ee" d="M4357 690l15-11-20 2-15 11z"/><path fill="#1f0" d="M4880 586l15-18-21-9-14 18zM4790 595l15-17-21-7-14 17zM5254 603l15-23-19-18-15 23z"/><path fill="#2f0" d="M5113 586l15-21-20-15-15 21z"/><path fill="#03d" d="M4197 745l15-9-21 5-14 9z"/><path fill="#0f2" d="M4574 634l14-14-20-2-15 13z"/><path fill="#0cf" d="M4322 703l15-11-20 3-15 10z"/><path fill="#2f0" d="M5025 585l14-20-20-12-14 20z"/><path fill="#0e9" d="M4448 666l15-12-21 0-14 12z"/><path fill="#02b" d="M4162 759l15-9-20 6-15 8z"/><path fill="#0f1" d="M4665 617l14-15-20-4-15 15z"/><path fill="#2f0" d="M5167 596l15-22-20-16-15 22z"/><path fill="#1f0" d="M4935 588l15-19-20-10-15 18z"/><path fill="#0f0" d="M4755 604l15-16-21-7-14 16z"/><path fill="#1f0" d="M4845 594l15-17-20-9-15 18z"/><path fill="#0af" d="M4287 715l15-10-20 4-15 10z"/><path fill="#019" d="M4127 772l15-8-20 6-15 8z"/><path fill="#0f4" d="M4539 645l14-14-20-2-15 14z"/><path fill="#2f0" d="M5079 592l14-21-19-13-15 20z"/><path fill="#0eb" d="M4413 678l15-12-21 1-15 11z"/><path fill="#1f0" d="M5221 608l14-23-19-17-15 22z"/><path fill="#0f1" d="M4630 627l14-14-20-4-15 14z"/><path fill="#003" d="M4092 786l15-8-20 7-15 7z"/><path fill="#1f0" d="M4990 592l15-19-21-12-14 19z"/><path fill="#08e" d="M4252 728l15-9-20 3-15 10z"/><path fill="#0f0" d="M4720 613l15-16-21-5-14 15z"/><path fill="#1f0" d="M4901 596l14-19-20-9-15 18zM4811 603l14-17-20-8-15 17z"/><path fill="#0e6" d="M4504 656l14-13-20-1-15 12z"/><path fill="#1f0" d="M5133 601l14-21-19-15-15 21z"/><path fill="#0ed" d="M4378 689l14-11-20 1-15 11z"/><path fill="#002" d="M4057 799l15-7-20 8-15 7z"/><path fill="#05e" d="M4217 741l15-9-20 4-15 9z"/><path fill="#0f2" d="M4595 637l14-14-21-3-14 14z"/><path fill="#1f0" d="M5045 599l14-21-20-13-14 20zM5187 613l14-23-19-16-15 22z"/><path fill="#0de" d="M4343 701l14-11-20 2-15 11z"/><path fill="#0e7" d="M4469 667l14-13-20 0-15 12z"/><path fill="#0f1" d="M4685 623l15-16-21-5-14 15z"/><path fill="#1f0" d="M4956 599l14-19-20-11-15 19z"/><path fill="#03c" d="M4182 754l15-9-20 5-15 9z"/><path fill="#0f0" d="M4776 611l14-16-20-7-15 16z"/><path fill="#1f0" d="M4866 603l14-17-20-9-15 17zM5099 607l14-21-20-15-14 21zM5240 626l14-23-19-18-14 23z"/><path fill="#0f3" d="M4560 648l14-14-21-3-14 14z"/><path fill="#0bf" d="M4308 713l14-10-20 2-15 10z"/><path fill="#02a" d="M4147 766l15-7-20 5-15 8z"/><path fill="#0ea" d="M4434 678l14-12-20 0-15 12z"/><path fill="#1f0" d="M5010 605l15-20-20-12-15 19z"/><path fill="#0f1" d="M4650 632l15-15-21-4-14 14z"/><path fill="#017" d="M4112 779l15-7-20 6-15 8z"/><path fill="#1f0" d="M4921 606l14-18-20-11-14 19z"/><path fill="#0f0" d="M4741 620l14-16-20-7-15 16z"/><path fill="#1f0" d="M5153 617l14-21-20-16-14 21z"/><path fill="#09f" d="M4273 725l14-10-20 4-15 9z"/><path fill="#1f0" d="M4831 611l14-17-20-8-14 17z"/><path fill="#0f5" d="M4524 658l15-13-21-2-14 13z"/><path fill="#0ec" d="M4398 689l15-11-21 0-14 11z"/><path fill="#002" d="M4077 792l15-6-20 6-15 7z"/><path fill="#1f0" d="M5065 613l14-21-20-14-14 21z"/><path fill="#07e" d="M4237 737l15-9-20 4-15 9z"/><path fill="#0f2" d="M4615 642l15-15-21-4-14 14z"/><path fill="#1f0" d="M5206 630l15-22-20-18-14 23zM4976 611l14-19-20-12-14 19z"/><path fill="#002" d="M4042 805l15-6-20 8-15 6z"/><path fill="#0f1" d="M4706 629l14-16-20-6-15 16z"/><path fill="#0ee" d="M4363 700l15-11-21 1-14 11z"/><path fill="#0e6" d="M4489 668l15-12-21-2-14 13z"/><path fill="#1f0" d="M4886 614l15-18-21-10-14 17z"/><path fill="#0f0" d="M4796 619l15-16-21-8-14 16z"/><path fill="#05d" d="M4202 749l15-8-20 4-15 9z"/><path fill="#1f0" d="M5119 622l14-21-20-15-14 21z"/><path fill="#0f2" d="M4580 651l15-14-21-3-14 14z"/><path fill="#0df" d="M4328 711l15-10-21 2-14 10z"/><path fill="#0e8" d="M4454 679l15-12-21-1-14 12z"/><path fill="#1f0" d="M5030 618l15-19-20-14-15 20z"/><path fill="#03c" d="M4167 762l15-8-20 5-15 7z"/><path fill="#0f1" d="M4671 637l14-14-20-6-15 15z"/><path fill="#1f0" d="M5172 634l15-21-20-17-14 21zM4941 618l15-19-21-11-14 18z"/><path fill="#0f0" d="M4761 627l15-16-21-7-14 16zM4852 621l14-18-21-9-14 17z"/><path fill="#01a" d="M4132 774l15-8-20 6-15 7z"/><path fill="#0bf" d="M4293 723l15-10-21 2-14 10z"/><path fill="#0f4" d="M4545 661l15-13-21-3-15 13z"/><path fill="#0ea" d="M4419 689l15-11-21 0-15 11z"/><path fill="#1f0" d="M5084 628l15-21-20-15-14 21z"/><path fill="#0f0" d="M5226 648l14-22-19-18-15 22z"/><path fill="#015" d="M4097 786l15-7-20 7-15 6z"/><path fill="#0f1" d="M4636 646l14-14-20-5-15 15z"/><path fill="#09f" d="M4258 734l15-9-21 3-15 9z"/><path fill="#1f0" d="M4996 624l14-19-20-13-14 19z"/><path fill="#0f1" d="M4726 636l15-16-21-7-14 16z"/><path fill="#1f0" d="M4907 624l14-18-20-10-15 18z"/><path fill="#0e5" d="M4510 671l14-13-20-2-15 12z"/><path fill="#0f0" d="M4817 628l14-17-20-8-15 16z"/><path fill="#0ec" d="M4384 700l14-11-20 0-15 11z"/><path fill="#002" d="M4062 799l15-7-20 7-15 6z"/><path fill="#1f0" d="M5138 639l15-22-20-16-14 21z"/><path fill="#07e" d="M4223 746l14-9-20 4-15 8z"/><path fill="#0f2" d="M4601 655l14-13-20-5-15 14z"/><path fill="#002" d="M4027 811l15-6-20 8-15 6z"/><path fill="#1f0" d="M5050 633l15-20-20-14-15 19z"/><path fill="#0ee" d="M4349 711l14-11-20 1-15 10z"/><path fill="#0e7" d="M4475 680l14-12-20-1-15 12z"/><path fill="#0f0" d="M5192 652l14-22-19-17-15 21z"/><path fill="#0f1" d="M4692 644l14-15-21-6-14 14z"/><path fill="#04d" d="M4188 757l14-8-20 5-15 8z"/><path fill="#1f0" d="M4961 630l15-19-20-12-15 19z"/><path fill="#0f0" d="M4782 636l14-17-20-8-15 16zM4872 631l14-17-20-11-14 18z"/><path fill="#0f3" d="M4566 664l14-13-20-3-15 13z"/><path fill="#0cf" d="M4313 721l15-10-20 2-15 10z"/><path fill="#0f0" d="M5104 643l15-21-20-15-15 21z"/><path fill="#02b" d="M4152 769l15-7-20 4-15 8z"/><path fill="#0e9" d="M4440 690l14-11-20-1-15 11z"/><path fill="#0f1" d="M4657 652l14-15-21-5-14 14z"/><path fill="#1f0" d="M5016 638l14-20-20-13-14 19z"/><path fill="#018" d="M4117 781l15-7-20 5-15 7z"/><path fill="#0bf" d="M4278 732l15-9-20 2-15 9z"/><path fill="#0f0" d="M4747 643l14-16-20-7-15 16zM4927 636l14-18-20-12-14 18zM4837 638l15-17-21-10-14 17zM5158 656l14-22-19-17-15 22z"/><path fill="#0f5" d="M4531 674l14-13-21-3-14 13z"/><path fill="#0eb" d="M4404 700l15-11-21 0-14 11z"/><path fill="#003" d="M4082 793l15-7-20 6-15 7z"/><path fill="#08f" d="M4243 743l15-9-21 3-14 9z"/><path fill="#0f0" d="M5070 648l14-20-19-15-15 20z"/><path fill="#0f2" d="M4621 660l15-14-21-4-14 13z"/><path fill="#0f0" d="M5211 671l15-23-20-18-14 22z"/><path fill="#002" d="M4047 805l15-6-20 6-15 6z"/><path fill="#0ed" d="M4369 710l15-10-21 0-14 11z"/><path fill="#0f0" d="M4982 643l14-19-20-13-15 19z"/><path fill="#0e6" d="M4495 683l15-12-21-3-14 12z"/><path fill="#0f1" d="M4712 651l14-15-20-7-14 15z"/><path fill="#0f0" d="M4892 642l15-18-21-10-14 17zM4802 645l15-17-21-9-14 17z"/><path fill="#06e" d="M4208 754l15-8-21 3-14 8z"/><path fill="#002" d="M4012 817l15-6-20 8-15 5z"/><path fill="#0f0" d="M5124 660l14-21-19-17-15 21z"/><path fill="#0f3" d="M4586 669l15-14-21-4-14 13z"/><path fill="#0ee" d="M4334 720l15-9-21 0-15 10z"/><path fill="#04c" d="M4173 765l15-8-21 5-15 7z"/><path fill="#0e8" d="M4460 692l15-12-21-1-14 11z"/><path fill="#0f0" d="M5036 652l14-19-20-15-14 20z"/><path fill="#0f1" d="M4677 658l15-14-21-7-14 15z"/><path fill="#0f0" d="M4947 648l14-18-20-12-14 18zM5177 674l15-22-20-18-14 22z"/><path fill="#0f1" d="M4768 652l14-16-21-9-14 16z"/><path fill="#0f0" d="M4858 648l14-17-20-10-15 17z"/><path fill="#02a" d="M4138 776l14-7-20 5-15 7z"/><path fill="#0cf" d="M4299 731l14-10-20 2-15 9z"/><path fill="#0f4" d="M4551 677l15-13-21-3-14 13z"/><path fill="#0ea" d="M4425 701l15-11-21-1-15 11z"/><path fill="#0f0" d="M5090 664l14-21-20-15-14 20z"/><path fill="#017" d="M4102 788l15-7-20 5-15 7z"/><path fill="#0f2" d="M4642 666l15-14-21-6-15 14z"/><path fill="#0af" d="M4264 741l14-9-20 2-15 9z"/><path fill="#0f0" d="M5002 657l14-19-20-14-14 19z"/><path fill="#0f1" d="M4733 658l14-15-21-7-14 15z"/><path fill="#0e5" d="M4516 686l15-12-21-3-15 12z"/><path fill="#0ec" d="M4390 711l14-11-20 0-15 10z"/><path fill="#0f0" d="M4913 654l14-18-20-12-15 18z"/><path fill="#002" d="M4067 799l15-6-20 6-15 6z"/><path fill="#0f0" d="M4823 654l14-16-20-10-15 17zM5144 677l14-21-20-17-14 21z"/><path fill="#08e" d="M4228 751l15-8-20 3-15 8z"/><path fill="#002" d="M4032 810l15-5-20 6-15 6z"/><path fill="#0f2" d="M4607 674l14-14-20-5-15 14z"/><path fill="#0f0" d="M5056 668l14-20-20-15-14 19z"/><path fill="#0ed" d="M4355 720l14-10-20 1-15 9z"/><path fill="#0e7" d="M4481 695l14-12-20-3-15 12z"/><path fill="#06d" d="M4193 762l15-8-20 3-15 8z"/><path fill="#002" d="M3997 822l15-5-20 7-15 5z"/><path fill="#0f1" d="M4698 666l14-15-20-7-15 14zM5197 692l14-21-19-19-15 22z"/><path fill="#0f0" d="M4967 662l15-19-21-13-14 18z"/><path fill="#0f1" d="M4788 661l14-16-20-9-14 16z"/><path fill="#0f0" d="M4878 659l14-17-20-11-14 17z"/><path fill="#0df" d="M4319 730l15-10-21 1-14 10z"/><path fill="#0f3" d="M4572 682l14-13-20-5-15 13z"/><path fill="#04c" d="M4158 772l15-7-21 4-14 7z"/><path fill="#0f0" d="M5110 680l14-20-20-17-14 21z"/><path fill="#0e9" d="M4446 703l14-11-20-2-15 11z"/><path fill="#0f1" d="M4663 673l14-15-20-6-15 14z"/><path fill="#0f0" d="M5022 672l14-20-20-14-14 19z"/><path fill="#029" d="M4123 783l15-7-21 5-15 7z"/><path fill="#0cf" d="M4284 740l15-9-21 1-14 9z"/><path fill="#0f1" d="M4753 667l15-15-21-9-14 15z"/><path fill="#0f0" d="M4933 666l14-18-20-12-14 18zM4843 665l15-17-21-10-14 16z"/><path fill="#0f5" d="M4537 690l14-13-20-3-15 12z"/><path fill="#0f1" d="M5163 695l14-21-19-18-14 21z"/><path fill="#0ea" d="M4411 712l14-11-21-1-14 11z"/><path fill="#015" d="M4087 794l15-6-20 5-15 6z"/><path fill="#0af" d="M4249 749l15-8-21 2-15 8z"/><path fill="#0f2" d="M4628 680l14-14-21-6-14 14z"/><path fill="#0f0" d="M5076 684l14-20-20-16-14 20z"/><path fill="#002" d="M4052 804l15-5-20 6-15 5z"/><path fill="#0ec" d="M4375 721l15-10-21-1-14 10z"/><path fill="#0e6" d="M4502 698l14-12-21-3-14 12z"/><path fill="#0f1" d="M4718 673l15-15-21-7-14 15z"/><path fill="#0f0" d="M4987 676l15-19-20-14-15 19z"/><path fill="#08e" d="M4214 759l14-8-20 3-15 8z"/><path fill="#0f1" d="M4809 671l14-17-21-9-14 16z"/><path fill="#0f0" d="M4898 671l15-17-21-12-14 17z"/><path fill="#002" d="M4017 815l15-5-20 7-15 5z"/><path fill="#0f1" d="M5129 698l15-21-20-17-14 20z"/><path fill="#0f3" d="M4593 687l14-13-21-5-14 13z"/><path fill="#0ee" d="M4340 730l15-10-21 0-15 10z"/><path fill="#002" d="M3982 826l15-4-20 7-15 4z"/><path fill="#06d" d="M4178 769l15-7-20 3-15 7z"/><path fill="#0e8" d="M4467 706l14-11-21-3-14 11z"/><path fill="#0f1" d="M5042 687l14-19-20-16-14 20zM4683 680l15-14-21-8-14 15z"/><path fill="#0f0" d="M4953 680l14-18-20-14-14 18z"/><path fill="#0f1" d="M4774 676l14-15-20-9-15 15zM5183 714l14-22-20-18-14 21z"/><path fill="#04b" d="M4143 779l15-7-20 4-15 7z"/><path fill="#0f1" d="M4864 676l14-17-20-11-15 17z"/><path fill="#0df" d="M4305 739l14-9-20 1-15 9z"/><path fill="#0f4" d="M4558 694l14-12-21-5-14 13z"/><path fill="#0e9" d="M4431 714l15-11-21-2-14 11z"/><path fill="#028" d="M4108 789l15-6-21 5-15 6z"/><path fill="#0f1" d="M5095 700l15-20-20-16-14 20z"/><path fill="#0f2" d="M4648 686l15-13-21-7-14 14z"/><path fill="#0bf" d="M4270 748l14-8-20 1-15 8z"/><path fill="#0f1" d="M5007 690l15-18-20-15-15 19zM4739 682l14-15-20-9-15 15z"/><path fill="#002" d="M4073 799l14-5-20 5-15 5z"/><path fill="#0e5" d="M4522 702l15-12-21-4-14 12z"/><path fill="#0eb" d="M4396 722l15-10-21-1-15 10z"/><path fill="#0f1" d="M4919 684l14-18-20-12-15 17zM4829 681l14-16-20-11-14 17z"/><path fill="#09f" d="M4234 757l15-8-21 2-14 8z"/><path fill="#0f1" d="M5149 716l14-21-19-18-15 21z"/><path fill="#002" d="M4037 810l15-6-20 6-15 5z"/><path fill="#0f3" d="M4613 693l15-13-21-6-14 13z"/><path fill="#0ec" d="M4361 731l14-10-20-1-15 10z"/><path fill="#0f1" d="M5061 703l15-19-20-16-14 19z"/><path fill="#0e7" d="M4487 709l15-11-21-3-14 11z"/><path fill="#07e" d="M4199 767l15-8-21 3-15 7z"/><path fill="#002" d="M4002 820l15-5-20 7-15 4z"/><path fill="#0f1" d="M4704 688l14-15-20-7-15 14zM4973 694l14-18-20-14-14 18zM4794 686l15-15-21-10-14 15zM4884 688l14-17-20-12-14 17z"/><path fill="#002" d="M3967 830l15-4-20 7-15 4z"/><path fill="#0ee" d="M4325 739l15-9-21 0-14 9z"/><path fill="#05c" d="M4164 776l14-7-20 3-15 7z"/><path fill="#0f4" d="M4578 700l15-13-21-5-14 12z"/><path fill="#0e8" d="M4452 717l15-11-21-3-15 11z"/><path fill="#0f1" d="M5115 718l14-20-19-18-15 20z"/><path fill="#0f2" d="M4669 694l14-14-20-7-15 13z"/><path fill="#03a" d="M4128 786l15-7-20 4-15 6z"/><path fill="#0f1" d="M5027 706l15-19-20-15-15 18z"/><path fill="#0df" d="M4290 748l15-9-21 1-14 8z"/><path fill="#0f1" d="M4760 692l14-16-21-9-14 15zM4939 698l14-18-20-14-14 18z"/><path fill="#0f5" d="M4543 707l15-13-21-4-15 12z"/><path fill="#0f1" d="M4849 693l15-17-21-11-14 16z"/><path fill="#0ea" d="M4417 725l14-11-20-2-15 10z"/><path fill="#0f2" d="M5168 735l15-21-20-19-14 21z"/><path fill="#017" d="M4093 795l15-6-21 5-14 5z"/><path fill="#0bf" d="M4255 756l15-8-21 1-15 8z"/><path fill="#0f2" d="M4634 700l14-14-20-6-15 13z"/><path fill="#002" d="M4058 805l15-6-21 5-15 6z"/><path fill="#0f1" d="M5081 720l14-20-19-16-15 19z"/><path fill="#0eb" d="M4382 732l14-10-21-1-14 10z"/><path fill="#0e6" d="M4508 713l14-11-20-4-15 11z"/><path fill="#0f1" d="M4725 697l14-15-21-9-14 15zM4993 709l14-19-20-14-14 18z"/><path fill="#09e" d="M4219 765l15-8-20 2-15 8z"/><path fill="#002" d="M4022 814l15-4-20 5-15 5z"/><path fill="#0f1" d="M4815 697l14-16-20-10-15 15zM4904 701l15-17-21-13-14 17z"/><path fill="#0f3" d="M4599 706l14-13-20-6-15 13z"/><path fill="#0f2" d="M5135 736l14-20-20-18-14 20z"/><path fill="#002" d="M3987 824l15-4-20 6-15 4z"/><path fill="#0ed" d="M4346 740l15-9-21-1-15 9z"/><path fill="#07d" d="M4184 774l15-7-21 2-14 7z"/><path fill="#0e7" d="M4473 720l14-11-20-3-15 11z"/><path fill="#002" d="M3951 834l16-4-20 7-16 4z"/><path fill="#0f2" d="M4690 702l14-14-21-8-14 14z"/><path fill="#0f1" d="M5047 722l14-19-19-16-15 19z"/><path fill="#05c" d="M4149 783l15-7-21 3-15 7z"/><path fill="#0f1" d="M4780 702l14-16-20-10-14 16zM4959 712l14-18-20-14-14 18z"/><path fill="#0ee" d="M4311 748l14-9-20 0-15 9z"/><path fill="#0f1" d="M4870 705l14-17-20-12-15 17z"/><path fill="#0f4" d="M4564 712l14-12-20-6-15 13z"/><path fill="#0e9" d="M4438 727l14-10-21-3-14 11z"/><path fill="#039" d="M4113 791l15-5-20 3-15 6z"/><path fill="#0f2" d="M5101 738l14-20-20-18-14 20z"/><path fill="#0cf" d="M4276 756l14-8-20 0-15 8z"/><path fill="#0f2" d="M4655 707l14-13-21-8-14 14z"/><path fill="#014" d="M4078 800l15-5-20 4-15 6z"/><path fill="#0f1" d="M5013 725l14-19-20-16-14 19z"/><path fill="#0ea" d="M4402 735l15-10-21-3-14 10z"/><path fill="#0f1" d="M4745 706l15-14-21-10-14 15z"/><path fill="#0e5" d="M4529 718l14-11-21-5-14 11z"/><path fill="#0f1" d="M4925 715l14-17-20-14-15 17zM4835 709l14-16-20-12-14 16z"/><path fill="#0bf" d="M4240 764l15-8-21 1-15 8z"/><path fill="#002" d="M4042 809l16-4-21 5-15 4z"/><path fill="#0f3" d="M5154 756l14-21-19-19-14 20zM4620 713l14-13-21-7-14 13z"/><path fill="#0ec" d="M4367 742l15-10-21-1-15 9z"/><path fill="#0e7" d="M4494 725l14-12-21-4-14 11z"/><path fill="#002" d="M4007 819l15-5-20 6-15 4z"/><path fill="#09e" d="M4205 772l14-7-20 2-15 7z"/><path fill="#0f2" d="M5067 740l14-20-20-17-14 19zM4710 711l15-14-21-9-14 14z"/><path fill="#0f1" d="M4979 727l14-18-20-15-14 18zM4801 713l14-16-21-11-14 16z"/><path fill="#002" d="M3972 828l15-4-20 6-16 4z"/><path fill="#0f1" d="M4890 718l14-17-20-13-14 17z"/><path fill="#0ed" d="M4332 749l14-9-21-1-14 9z"/><path fill="#07d" d="M4169 780l15-6-20 2-15 7z"/><path fill="#0f4" d="M4585 718l14-12-21-6-14 12z"/><path fill="#0e8" d="M4458 731l15-11-21-3-14 10z"/><path fill="#0f3" d="M5121 757l14-21-20-18-14 20z"/><path fill="#05b" d="M4134 789l15-6-21 3-15 5z"/><path fill="#0f2" d="M4676 716l14-14-21-8-14 13z"/><path fill="#0ee" d="M4296 756l15-8-21 0-14 8z"/><path fill="#0f2" d="M5033 741l14-19-20-16-14 19zM4766 717l14-15-20-10-15 14z"/><path fill="#0f5" d="M4550 724l14-12-21-5-14 11z"/><path fill="#0f1" d="M4945 730l14-18-20-14-14 17z"/><path fill="#0e9" d="M4423 738l15-11-21-2-15 10z"/><path fill="#0f1" d="M4856 721l14-16-21-12-14 16z"/><path fill="#028" d="M4098 797l15-6-20 4-15 5z"/><path fill="#0cf" d="M4261 764l15-8-21 0-15 8z"/><path fill="#0f3" d="M4641 721l14-14-21-7-14 13z"/><path fill="#002" d="M4063 805l15-5-20 5-16 4z"/><path fill="#0f3" d="M5087 758l14-20-20-18-14 20z"/><path fill="#0eb" d="M4388 744l14-9-20-3-15 10z"/><path fill="#0e6" d="M4514 730l15-12-21-5-14 12z"/><path fill="#0f2" d="M4731 721l14-15-20-9-15 14z"/><path fill="#0be" d="M4225 771l15-7-21 1-14 7z"/><path fill="#002" d="M4027 814l15-5-20 5-15 5z"/><path fill="#0f2" d="M4999 743l14-18-20-16-14 18zM4821 725l14-16-20-12-14 16zM4910 732l15-17-21-14-14 17z"/><path fill="#002" d="M3992 822l15-3-20 5-15 4z"/><path fill="#0f4" d="M4606 726l14-13-21-7-14 12z"/><path fill="#0ec" d="M4352 751l15-9-21-2-14 9z"/><path fill="#09e" d="M4190 779l15-7-21 2-15 6z"/><path fill="#0f5" d="M5140 776l14-20-19-20-14 21z"/><path fill="#0e7" d="M4479 735l15-10-21-5-15 11z"/><path fill="#0f2" d="M4696 725l14-14-20-9-14 14z"/><path fill="#0f3" d="M5053 759l14-19-20-18-14 19z"/><path fill="#06c" d="M4154 786l15-6-20 3-15 6z"/><path fill="#0ed" d="M4317 757l15-8-21-1-15 8z"/><path fill="#0f2" d="M4786 728l15-15-21-11-14 15zM4965 745l14-18-20-15-14 18zM4876 735l14-17-20-13-14 16z"/><path fill="#0f5" d="M4570 730l15-12-21-6-14 12z"/><path fill="#0e8" d="M4444 741l14-10-20-4-15 11z"/><path fill="#04a" d="M4119 794l15-5-21 2-15 6z"/><path fill="#0de" d="M4282 764l14-8-20 0-15 8z"/><path fill="#0f3" d="M4661 729l15-13-21-9-14 14z"/><path fill="#0f5" d="M5106 776l15-19-20-19-14 20z"/><path fill="#026" d="M4083 802l15-5-20 3-15 5z"/><path fill="#0ea" d="M4409 747l14-9-21-3-14 9z"/><path fill="#0e6" d="M4535 736l15-12-21-6-15 12z"/><path fill="#0f2" d="M4752 731l14-14-21-11-14 15z"/><path fill="#0f3" d="M5019 760l14-19-20-16-14 18z"/><path fill="#0f2" d="M4842 737l14-16-21-12-14 16zM4931 747l14-17-20-15-15 17z"/><path fill="#0cf" d="M4246 771l15-7-21 0-15 7z"/><path fill="#002" d="M4048 810l15-5-21 4-15 5z"/><path fill="#0f4" d="M4626 733l15-12-21-8-14 13z"/><path fill="#0eb" d="M4373 753l15-9-21-2-15 9z"/><path fill="#002" d="M4012 818l15-4-20 5-15 3z"/><path fill="#0e7" d="M4500 741l14-11-20-5-15 10z"/><path fill="#0ae" d="M4211 778l14-7-20 1-15 7z"/><path fill="#0f4" d="M5073 777l14-19-20-18-14 19z"/><path fill="#0f2" d="M4717 735l14-14-21-10-14 14z"/><path fill="#0f3" d="M4985 761l14-18-20-16-14 18z"/><path fill="#0f2" d="M4807 740l14-15-20-12-15 15zM4896 749l14-17-20-14-14 17z"/><path fill="#08d" d="M4175 785l15-6-21 1-15 6z"/><path fill="#0ec" d="M4338 759l14-8-20-2-15 8z"/><path fill="#0f4" d="M4591 738l15-12-21-8-15 12z"/><path fill="#0e8" d="M4465 746l14-11-21-4-14 10z"/><path fill="#0e6" d="M5126 796l14-20-19-19-15 19z"/><path fill="#06c" d="M4140 792l14-6-20 3-15 5z"/><path fill="#0f3" d="M4682 738l14-13-20-9-15 13z"/><path fill="#0ee" d="M4302 765l15-8-21-1-14 8z"/><path fill="#0f4" d="M5039 777l14-18-20-18-14 19z"/><path fill="#0f2" d="M4772 743l14-15-20-11-14 14z"/><path fill="#0f5" d="M4556 742l14-12-20-6-15 12z"/><path fill="#0e9" d="M4430 751l14-10-21-3-14 9z"/><path fill="#049" d="M4104 799l15-5-21 3-15 5z"/><path fill="#0f3" d="M4951 762l14-17-20-15-14 17z"/><path fill="#0f2" d="M4862 751l14-16-20-14-14 16z"/><path fill="#0de" d="M4267 772l15-8-21 0-15 7z"/><path fill="#013" d="M4068 806l15-4-20 3-15 5z"/><path fill="#0f4" d="M4647 742l14-13-20-8-15 12z"/><path fill="#0ea" d="M4394 756l15-9-21-3-15 9z"/><path fill="#0e6" d="M5092 796l14-20-19-18-14 19zM4521 747l14-11-21-6-14 11z"/><path fill="#0ce" d="M4231 778l15-7-21 0-14 7z"/><path fill="#0f3" d="M4738 746l14-15-21-10-14 14z"/><path fill="#002" d="M4033 814l15-4-21 4-15 4z"/><path fill="#0f4" d="M5005 778l14-18-20-17-14 18z"/><path fill="#0f3" d="M4827 753l15-16-21-12-14 15zM4917 763l14-16-21-15-14 17z"/><path fill="#0eb" d="M4359 762l14-9-21-2-14 8z"/><path fill="#0f4" d="M4612 746l14-13-20-7-15 12z"/><path fill="#0ae" d="M4196 784l15-6-21 1-15 6z"/><path fill="#0e7" d="M4486 751l14-10-21-6-14 11z"/><path fill="#0f3" d="M4703 748l14-13-21-10-14 13z"/><path fill="#08d" d="M4160 791l15-6-21 1-14 6z"/><path fill="#0e6" d="M5059 796l14-19-20-18-14 18z"/><path fill="#0ec" d="M4323 767l15-8-21-2-15 8z"/><path fill="#0f3" d="M4793 755l14-15-21-12-14 15z"/><path fill="#0f4" d="M4971 778l14-17-20-16-14 17z"/><path fill="#0f5" d="M4577 749l14-11-21-8-14 12z"/><path fill="#0f3" d="M4882 765l14-16-20-14-14 16z"/><path fill="#0e8" d="M4450 756l15-10-21-5-14 10z"/><path fill="#06b" d="M4125 797l15-5-21 2-15 5z"/><path fill="#0ee" d="M4288 773l14-8-20-1-15 8z"/><path fill="#0f4" d="M4668 751l14-13-21-9-14 13z"/><path fill="#0e8" d="M5112 816l14-20-20-20-14 20z"/><path fill="#037" d="M4089 804l15-5-21 3-15 4z"/><path fill="#0e9" d="M4415 760l15-9-21-4-15 9z"/><path fill="#0e6" d="M4542 753l14-11-21-6-14 11z"/><path fill="#0f3" d="M4758 757l14-14-20-12-14 15z"/><path fill="#0e5" d="M5025 795l14-18-20-17-14 18z"/><path fill="#0df" d="M4252 779l15-7-21-1-15 7z"/><path fill="#0f3" d="M4848 766l14-15-20-14-15 16z"/><path fill="#0f4" d="M4937 779l14-17-20-15-14 16z"/><path fill="#012" d="M4053 810l15-4-20 4-15 4z"/><path fill="#0f4" d="M4633 754l14-12-21-9-14 13z"/><path fill="#0ea" d="M4380 765l14-9-21-3-14 9z"/><path fill="#0ce" d="M4217 784l14-6-20 0-15 6z"/><path fill="#0e7" d="M4507 757l14-10-21-6-14 10z"/><path fill="#0f3" d="M4723 759l15-13-21-11-14 13z"/><path fill="#0e7" d="M5078 815l14-19-19-19-14 19z"/><path fill="#0f3" d="M4813 768l14-15-20-13-14 15z"/><path fill="#0f5" d="M4991 795l14-17-20-17-14 17z"/><path fill="#0ad" d="M4181 790l15-6-21 1-15 6z"/><path fill="#0eb" d="M4344 770l15-8-21-3-15 8z"/><path fill="#0f4" d="M4903 780l14-17-21-14-14 16z"/><path fill="#0f5" d="M4598 758l14-12-21-8-14 11z"/><path fill="#0e8" d="M4471 761l15-10-21-5-15 10z"/><path fill="#08c" d="M4145 796l15-5-20 1-15 5z"/><path fill="#0f4" d="M4689 762l14-14-21-10-14 13z"/><path fill="#0ed" d="M4309 775l14-8-21-2-14 8z"/><path fill="#0e7" d="M5045 814l14-18-20-19-14 18z"/><path fill="#0f4" d="M4779 769l14-14-21-12-14 14z"/><path fill="#0e5" d="M4563 761l14-12-21-7-14 11z"/><path fill="#0e9" d="M4436 765l14-9-20-5-15 9z"/><path fill="#05a" d="M4110 802l15-5-21 2-15 5z"/><path fill="#0f5" d="M4957 795l14-17-20-16-14 17z"/><path fill="#0f4" d="M4868 781l14-16-20-14-14 15z"/><path fill="#0ee" d="M4273 780l15-7-21-1-15 7z"/><path fill="#025" d="M4074 808l15-4-21 2-15 4z"/><path fill="#0f4" d="M4654 764l14-13-21-9-14 12z"/><path fill="#0ea" d="M4401 769l14-9-21-4-14 9z"/><path fill="#0e6" d="M4528 764l14-11-21-6-14 10z"/><path fill="#0e9" d="M5098 835l14-19-20-20-14 19z"/><path fill="#0de" d="M4238 785l14-6-21-1-14 6z"/><path fill="#0f4" d="M4744 771l14-14-20-11-15 13z"/><path fill="#0e6" d="M5011 813l14-18-20-17-14 17z"/><path fill="#0f4" d="M4834 781l14-15-21-13-14 15z"/><path fill="#0f5" d="M4923 796l14-17-20-16-14 17z"/><path fill="#0eb" d="M4365 774l15-9-21-3-15 8z"/><path fill="#0ce" d="M4202 790l15-6-21 0-15 6z"/><path fill="#0f5" d="M4619 767l14-13-21-8-14 12z"/><path fill="#0e7" d="M4492 767l15-10-21-6-15 10z"/><path fill="#0f4" d="M4709 773l14-14-20-11-14 14z"/><path fill="#0ad" d="M4166 795l15-5-21 1-15 5z"/><path fill="#0ec" d="M4330 778l14-8-21-3-14 8z"/><path fill="#0e9" d="M5065 833l13-18-19-19-14 18z"/><path fill="#0f4" d="M4799 782l14-14-20-13-14 14z"/><path fill="#0e5" d="M4584 769l14-11-21-9-14 12z"/><path fill="#0e6" d="M4977 813l14-18-20-17-14 17z"/><path fill="#0f5" d="M4889 796l14-16-21-15-14 16z"/><path fill="#0e8" d="M4457 771l14-10-21-5-14 9z"/><path fill="#07b" d="M4131 801l14-5-20 1-15 5z"/><path fill="#0ed" d="M4294 782l15-7-21-2-15 7z"/><path fill="#0f5" d="M4674 774l15-12-21-11-14 13z"/><path fill="#059" d="M4095 806l15-4-21 2-15 4z"/><path fill="#0e9" d="M4422 774l14-9-21-5-14 9z"/><path fill="#0e6" d="M4549 772l14-11-21-8-14 11z"/><path fill="#0f4" d="M4765 783l14-14-21-12-14 14z"/><path fill="#0ee" d="M4259 787l14-7-21-1-14 6z"/><path fill="#0e8" d="M5031 832l14-18-20-19-14 18z"/><path fill="#0f5" d="M4854 796l14-15-20-15-14 15z"/><path fill="#0e6" d="M4943 812l14-17-20-16-14 17z"/><path fill="#0f5" d="M4640 776l14-12-21-10-14 13z"/><path fill="#0ea" d="M4386 778l15-9-21-4-15 9z"/><path fill="#0de" d="M4223 791l15-6-21-1-15 6z"/><path fill="#0e7" d="M4513 774l15-10-21-7-15 10z"/><path fill="#0f5" d="M4730 784l14-13-21-12-14 14z"/><path fill="#0ea" d="M5084 854l14-19-20-20-13 18z"/><path fill="#0be" d="M4187 796l15-6-21 0-15 5z"/><path fill="#0f5" d="M4820 796l14-15-21-13-14 14z"/><path fill="#0eb" d="M4351 781l14-7-21-4-14 8z"/><path fill="#0e8" d="M4997 831l14-18-20-18-14 18z"/><path fill="#0e6" d="M4909 812l14-16-20-16-14 16z"/><path fill="#0e5" d="M4605 778l14-11-21-9-14 11z"/><path fill="#0e7" d="M4478 777l14-10-21-6-14 10z"/><path fill="#09d" d="M4151 800l15-5-21 1-14 5z"/><path fill="#0ec" d="M4315 785l15-7-21-3-15 7z"/><path fill="#0f5" d="M4695 785l14-12-20-11-15 12z"/><path fill="#07b" d="M4116 805l15-4-21 1-15 4z"/><path fill="#0e8" d="M4443 780l14-9-21-6-14 9z"/><path fill="#0e6" d="M4569 780l15-11-21-8-14 11z"/><path fill="#0f5" d="M4785 797l14-15-20-13-14 14z"/><path fill="#0ea" d="M5051 852l14-19-20-19-14 18z"/><path fill="#0e6" d="M4875 811l14-15-21-15-14 15z"/><path fill="#0e7" d="M4963 830l14-17-20-18-14 17z"/><path fill="#0ed" d="M4280 789l14-7-21-2-14 7z"/><path fill="#0f5" d="M4660 787l14-13-20-10-14 12z"/><path fill="#0e9" d="M4407 783l15-9-21-5-15 9z"/><path fill="#0e6" d="M4534 782l15-10-21-8-15 10z"/><path fill="#0ee" d="M4244 793l15-6-21-2-15 6z"/><path fill="#0f5" d="M4751 797l14-14-21-12-14 13z"/><path fill="#0e9" d="M5017 850l14-18-20-19-14 18z"/><path fill="#0e6" d="M4840 811l14-15-20-15-14 15z"/><path fill="#0e7" d="M4929 828l14-16-20-16-14 16z"/><path fill="#0ea" d="M4372 786l14-8-21-4-14 7z"/><path fill="#0de" d="M4208 797l15-6-21-1-15 6z"/><path fill="#0e5" d="M4625 788l15-12-21-9-14 11z"/><path fill="#0e7" d="M4499 784l14-10-21-7-14 10z"/><path fill="#0f5" d="M4716 797l14-13-21-11-14 12z"/><path fill="#0bd" d="M4172 801l15-5-21-1-15 5z"/><path fill="#0eb" d="M4336 789l15-8-21-3-15 7z"/><path fill="#0ec" d="M5070 872l14-18-19-21-14 19z"/><path fill="#0e6" d="M4806 811l14-15-21-14-14 15zM4590 789l15-11-21-9-15 11z"/><path fill="#0e8" d="M4464 786l14-9-21-6-14 9z"/><path fill="#0e9" d="M4983 848l14-17-20-18-14 17z"/><path fill="#0e7" d="M4895 827l14-15-20-16-14 15z"/><path fill="#09c" d="M4137 805l14-5-20 1-15 4z"/><path fill="#0ec" d="M4301 792l14-7-21-3-14 7z"/><path fill="#0e5" d="M4681 798l14-13-21-11-14 13z"/><path fill="#0e8" d="M4428 789l15-9-21-6-15 9z"/><path fill="#0e6" d="M4555 791l14-11-20-8-15 10zM4771 810l14-13-20-14-14 14z"/><path fill="#0ed" d="M4265 795l15-6-21-2-15 6z"/><path fill="#0eb" d="M5037 869l14-17-20-20-14 18z"/><path fill="#0e7" d="M4861 826l14-15-21-15-14 15z"/><path fill="#0e8" d="M4949 846l14-16-20-18-14 16z"/><path fill="#0e6" d="M4646 799l14-12-20-11-15 12z"/><path fill="#0e9" d="M4393 791l14-8-21-5-14 8z"/><path fill="#0ee" d="M4229 799l15-6-21-2-15 6z"/><path fill="#0e7" d="M4520 792l14-10-21-8-14 10z"/><path fill="#0e6" d="M4737 810l14-13-21-13-14 13z"/><path fill="#0de" d="M4193 802l15-5-21-1-15 5z"/><path fill="#0ea" d="M4357 793l15-7-21-5-15 8z"/><path fill="#0e6" d="M4826 825l14-14-20-15-14 15z"/><path fill="#0eb" d="M5003 867l14-17-20-19-14 17z"/><path fill="#0e8" d="M4915 844l14-16-20-16-14 15z"/><path fill="#0e6" d="M4611 799l14-11-20-10-15 11z"/><path fill="#0e7" d="M4485 794l14-10-21-7-14 9z"/><path fill="#0bd" d="M4157 805l15-4-21-1-14 5z"/><path fill="#0eb" d="M4322 796l14-7-21-4-14 7z"/><path fill="#0e6" d="M4702 810l14-13-21-12-14 13z"/><path fill="#0e8" d="M4449 795l15-9-21-6-15 9z"/><path fill="#0e6" d="M4576 800l14-11-21-9-14 11zM4792 825l14-14-21-14-14 13z"/><path fill="#0ed" d="M5056 890l14-18-19-20-14 17z"/><path fill="#0e8" d="M4881 843l14-16-20-16-14 15z"/><path fill="#0ec" d="M4286 798l15-6-21-3-15 6z"/><path fill="#0ea" d="M4969 864l14-16-20-18-14 16z"/><path fill="#0e6" d="M4667 810l14-12-21-11-14 12z"/><path fill="#0e9" d="M4414 797l14-8-21-6-14 8z"/><path fill="#0e7" d="M4541 801l14-10-21-9-14 10z"/><path fill="#0ed" d="M4250 801l15-6-21-2-15 6z"/><path fill="#0e6" d="M4757 824l14-14-20-13-14 13z"/><path fill="#0e7" d="M4847 841l14-15-21-15-14 14z"/><path fill="#0ec" d="M5023 887l14-18-20-19-14 17z"/><path fill="#0ea" d="M4935 862l14-16-20-18-14 16z"/><path fill="#0e9" d="M4378 799l15-8-21-5-15 7z"/><path fill="#0ed" d="M4214 804l15-5-21-2-15 5z"/><path fill="#0e6" d="M4632 810l14-11-21-11-14 11z"/><path fill="#0e7" d="M4506 802l14-10-21-8-14 10z"/><path fill="#0dd" d="M4179 807l14-5-21-1-15 4z"/><path fill="#0e6" d="M4723 823l14-13-21-13-14 13z"/><path fill="#0ea" d="M4343 801l14-8-21-4-14 7z"/><path fill="#0e7" d="M4812 840l14-15-20-14-14 14z"/><path fill="#0e6" d="M4597 810l14-11-21-10-14 11z"/><path fill="#0e8" d="M4470 803l15-9-21-8-15 9z"/><path fill="#0eb" d="M4989 884l14-17-20-19-14 16z"/><path fill="#0e9" d="M4901 860l14-16-20-17-14 16z"/><path fill="#0eb" d="M4307 802l15-6-21-4-15 6z"/><path fill="#0e6" d="M4688 822l14-12-21-12-14 12z"/><path fill="#0e8" d="M4435 804l14-9-21-6-14 8z"/><path fill="#0e7" d="M4562 810l14-10-21-9-14 10z"/><path fill="#0ec" d="M4271 804l15-6-21-3-15 6z"/><path fill="#0e7" d="M4778 838l14-13-21-15-14 14z"/><path fill="#0ee" d="M5043 908l13-18-19-21-14 18z"/><path fill="#0e9" d="M4867 858l14-15-20-17-14 15z"/><path fill="#0eb" d="M4955 881l14-17-20-18-14 16z"/><path fill="#0e9" d="M4399 805l15-8-21-6-15 8z"/><path fill="#0e6" d="M4653 822l14-12-21-11-14 11z"/><path fill="#0ec" d="M4235 806l15-5-21-2-15 5z"/><path fill="#0e7" d="M4527 811l14-10-21-9-14 10zM4743 837l14-13-20-14-14 13z"/><path fill="#0dd" d="M4200 809l14-5-21-2-14 5z"/><path fill="#0e9" d="M4364 806l14-7-21-6-14 8z"/><path fill="#0e8" d="M4833 855l14-14-21-16-14 15z"/><path fill="#0ed" d="M5009 904l14-17-20-20-14 17z"/><path fill="#0e6" d="M4618 821l14-11-21-11-14 11z"/><path fill="#0ea" d="M4922 878l13-16-20-18-14 16z"/><path fill="#0e7" d="M4491 811l15-9-21-8-15 9z"/><path fill="#0ea" d="M4328 807l15-6-21-5-15 6z"/><path fill="#0e7" d="M4709 835l14-12-21-13-14 12z"/><path fill="#0e8" d="M4456 811l14-8-21-8-14 9z"/><path fill="#0e7" d="M4583 821l14-11-21-10-14 10z"/><path fill="#0e8" d="M4798 853l14-13-20-15-14 13z"/><path fill="#0eb" d="M4292 809l15-7-21-4-15 6z"/><path fill="#0ea" d="M4887 875l14-15-20-17-14 15z"/><path fill="#0ec" d="M4975 900l14-16-20-20-14 17z"/><path fill="#0e7" d="M4674 834l14-12-21-12-14 12z"/><path fill="#0e8" d="M4421 812l14-8-21-7-15 8z"/><path fill="#0eb" d="M4257 810l14-6-21-3-15 5z"/><path fill="#0e7" d="M4548 820l14-10-21-9-14 10z"/><path fill="#0e8" d="M4764 851l14-13-21-14-14 13z"/><path fill="#0e9" d="M4853 872l14-14-20-17-14 14z"/><path fill="#0ee" d="M5029 925l14-17-20-21-14 17z"/><path fill="#0ec" d="M4221 811l14-5-21-2-14 5z"/><path fill="#0e9" d="M4385 812l14-7-21-6-14 7z"/><path fill="#0ec" d="M4942 897l13-16-20-19-13 16z"/><path fill="#0e7" d="M4639 833l14-11-21-12-14 11zM4513 820l14-9-21-9-15 9z"/><path fill="#0e8" d="M4729 849l14-12-20-14-14 12z"/><path fill="#0e9" d="M4349 813l15-7-21-5-15 6zM4819 869l14-14-21-15-14 13z"/><path fill="#0e7" d="M4604 832l14-11-21-11-14 11zM4477 820l14-9-21-8-14 8z"/><path fill="#0eb" d="M4908 893l14-15-21-18-14 15z"/><path fill="#0ee" d="M4995 920l14-16-20-20-14 16z"/><path fill="#0ea" d="M4314 813l14-6-21-5-15 7z"/><path fill="#0e7" d="M4695 847l14-12-21-13-14 12z"/><path fill="#0e8" d="M4442 819l14-8-21-7-14 8z"/><path fill="#0e7" d="M4569 831l14-10-21-11-14 10z"/><path fill="#0eb" d="M4278 814l14-5-21-5-14 6z"/><path fill="#0e9" d="M4785 866l13-13-20-15-14 13z"/><path fill="#0eb" d="M4874 889l13-14-20-17-14 14z"/><path fill="#0ed" d="M4962 916l13-16-20-19-13 16z"/><path fill="#0e8" d="M4406 819l15-7-22-7-14 7z"/><path fill="#0e7" d="M4660 845l14-11-21-12-14 11z"/><path fill="#0eb" d="M4242 815l15-5-22-4-14 5z"/><path fill="#0e7" d="M4534 830l14-10-21-9-14 9z"/><path fill="#0e8" d="M4750 864l14-13-21-14-14 12z"/><path fill="#0e9" d="M4371 819l14-7-21-6-15 7z"/><path fill="#0ea" d="M4839 886l14-14-20-17-14 14z"/><path fill="#0e7" d="M4625 844l14-11-21-12-14 11z"/><path fill="#0df" d="M5015 941l14-16-20-21-14 16z"/><path fill="#0e7" d="M4498 829l15-9-22-9-14 9z"/><path fill="#0ed" d="M4928 912l14-15-20-19-14 15z"/><path fill="#0e9" d="M4335 819l14-6-21-6-14 6z"/><path fill="#0e8" d="M4715 861l14-12-20-14-14 12zM4463 828l14-8-21-9-14 8z"/><path fill="#0e7" d="M4590 842l14-10-21-11-14 10z"/><path fill="#0ea" d="M4805 883l14-14-21-16-13 13zM4299 819l15-6-22-4-14 5z"/><path fill="#0ec" d="M4894 908l14-15-21-18-13 14z"/><path fill="#0de" d="M4982 937l13-17-20-20-13 16z"/><path fill="#0e8" d="M4681 859l14-12-21-13-14 11zM4427 827l15-8-21-7-15 7z"/><path fill="#0ea" d="M4263 819l15-5-21-4-15 5z"/><path fill="#0e7" d="M4555 840l14-9-21-11-14 10z"/><path fill="#0e9" d="M4771 879l14-13-21-15-14 13z"/><path fill="#0e8" d="M4392 826l14-7-21-7-14 7z"/><path fill="#0eb" d="M4860 904l14-15-21-17-14 14z"/><path fill="#0ee" d="M4948 932l14-16-20-19-14 15z"/><path fill="#0e8" d="M4646 856l14-11-21-12-14 11z"/><path fill="#0e7" d="M4519 839l15-9-21-10-15 9z"/><path fill="#0e9" d="M4356 826l15-7-22-6-14 6zM4736 876l14-12-21-15-14 12z"/><path fill="#0e7" d="M4484 837l14-8-21-9-14 8zM4611 854l14-10-21-12-14 10z"/><path fill="#0eb" d="M4826 900l13-14-20-17-14 14z"/><path fill="#0ed" d="M4914 927l14-15-20-19-14 15z"/><path fill="#0cf" d="M5002 958l13-17-20-21-13 17z"/><path fill="#0e9" d="M4320 825l15-6-21-6-15 6zM4701 873l14-12-20-14-14 12z"/><path fill="#0e8" d="M4449 836l14-8-21-9-15 8z"/><path fill="#0e7" d="M4576 851l14-9-21-11-14 9z"/><path fill="#0e9" d="M4285 824l14-5-21-5-15 5z"/><path fill="#0ea" d="M4791 896l14-13-20-17-14 13z"/><path fill="#0ed" d="M4880 922l14-14-20-19-14 15z"/><path fill="#0df" d="M4968 952l14-15-20-21-14 16z"/><path fill="#0e8" d="M4413 834l14-7-21-8-14 7zM4667 870l14-11-21-14-14 11z"/><path fill="#0e7" d="M4541 849l14-9-21-10-15 9z"/><path fill="#0ea" d="M4757 892l14-13-21-15-14 12z"/><path fill="#0e8" d="M4377 833l15-7-21-7-15 7z"/><path fill="#0ec" d="M4846 917l14-13-21-18-13 14z"/><path fill="#0e8" d="M4632 867l14-11-21-12-14 10z"/><path fill="#0e7" d="M4505 847l14-8-21-10-14 8z"/><path fill="#0de" d="M4934 947l14-15-20-20-14 15z"/><path fill="#0e8" d="M4342 832l14-6-21-7-15 6z"/><path fill="#0e9" d="M4722 888l14-12-21-15-14 12z"/><path fill="#0e7" d="M4470 845l14-8-21-9-14 8z"/><path fill="#0e8" d="M4597 864l14-10-21-12-14 9z"/><path fill="#0eb" d="M4812 913l14-13-21-17-14 13z"/><path fill="#0e9" d="M4306 830l14-5-21-6-14 5z"/><path fill="#0ee" d="M4900 941l14-14-20-19-14 14z"/><path fill="#0bf" d="M4988 974l14-16-20-21-14 15z"/><path fill="#0e9" d="M4688 884l13-11-20-14-14 11z"/><path fill="#0e8" d="M4434 843l15-7-22-9-14 7zM4562 861l14-10-21-11-14 9z"/><path fill="#0eb" d="M4777 908l14-12-20-17-14 13z"/><path fill="#0e8" d="M4399 841l14-7-21-8-15 7z"/><path fill="#0ed" d="M4866 936l14-14-20-18-14 13z"/><path fill="#0e9" d="M4653 880l14-10-21-14-14 11z"/><path fill="#0cf" d="M4954 968l14-16-20-20-14 15z"/><path fill="#0e7" d="M4526 858l15-9-22-10-14 8z"/><path fill="#0e8" d="M4363 839l14-6-21-7-14 6z"/><path fill="#0ea" d="M4743 904l14-12-21-16-14 12z"/><path fill="#0e7" d="M4491 855l14-8-21-10-14 8z"/><path fill="#0e8" d="M4618 877l14-10-21-13-14 10z"/><path fill="#0ed" d="M4832 931l14-14-20-17-14 13z"/><path fill="#0df" d="M4921 962l13-15-20-20-14 14z"/><path fill="#0e8" d="M4327 837l15-5-22-7-14 5z"/><path fill="#0ea" d="M4708 899l14-11-21-15-13 11z"/><path fill="#0e7" d="M4456 852l14-7-21-9-15 7z"/><path fill="#0e8" d="M4583 873l14-9-21-13-14 10z"/><path fill="#0ec" d="M4798 925l14-12-21-17-14 12z"/><path fill="#0ee" d="M4887 956l13-15-20-19-14 14z"/><path fill="#0e7" d="M4420 850l14-7-21-9-14 7z"/><path fill="#0bf" d="M4974 989l14-15-20-22-14 16z"/><path fill="#0e9" d="M4674 895l14-11-21-14-14 10z"/><path fill="#0e8" d="M4548 870l14-9-21-12-15 9z"/><path fill="#0eb" d="M4764 920l13-12-20-16-14 12z"/><path fill="#0e7" d="M4384 847l15-6-22-8-14 6z"/><path fill="#0ee" d="M4853 950l13-14-20-19-14 14z"/><path fill="#0e9" d="M4639 890l14-10-21-13-14 10z"/><path fill="#0e8" d="M4512 866l14-8-21-11-14 8z"/><path fill="#0bf" d="M4941 983l13-15-20-21-13 15z"/><path fill="#0e8" d="M4349 845l14-6-21-7-15 5z"/><path fill="#0eb" d="M4729 915l14-11-21-16-14 11z"/><path fill="#0e7" d="M4477 863l14-8-21-10-14 7z"/><path fill="#0e8" d="M4604 886l14-9-21-13-14 9z"/><path fill="#0ed" d="M4819 944l13-13-20-18-14 12z"/><path fill="#0cf" d="M4907 976l14-14-21-21-13 15z"/><path fill="#0e7" d="M4441 859l15-7-22-9-14 7z"/><path fill="#0ea" d="M4695 910l13-11-20-15-14 11z"/><path fill="#0e8" d="M4569 882l14-9-21-12-14 9z"/><path fill="#0ec" d="M4784 938l14-13-21-17-13 12z"/><path fill="#0e7" d="M4406 856l14-6-21-9-15 6z"/><path fill="#0df" d="M4873 969l14-13-21-20-13 14z"/><path fill="#0e9" d="M4660 905l14-10-21-15-14 10z"/><path fill="#0af" d="M4961 1004l13-15-20-21-13 15z"/><path fill="#0e8" d="M4533 878l15-8-22-12-14 8z"/><path fill="#0e7" d="M4370 853l14-6-21-8-14 6z"/><path fill="#0ec" d="M4750 932l14-12-21-16-14 11z"/><path fill="#0e7" d="M4498 874l14-8-21-11-14 8z"/><path fill="#0e9" d="M4625 900l14-10-21-13-14 9z"/><path fill="#0ee" d="M4839 963l14-13-21-19-13 13z"/><path fill="#0bf" d="M4927 997l14-14-20-21-14 14z"/><path fill="#0eb" d="M4715 926l14-11-21-16-13 11z"/><path fill="#0e7" d="M4463 870l14-7-21-11-15 7z"/><path fill="#0e9" d="M4590 895l14-9-21-13-14 9z"/><path fill="#0ed" d="M4805 956l14-12-21-19-14 13z"/><path fill="#0cf" d="M4893 990l14-14-20-20-14 13z"/><path fill="#0e7" d="M4427 866l14-7-21-9-14 6z"/><path fill="#0ea" d="M4681 921l14-11-21-15-14 10z"/><path fill="#0e8" d="M4555 890l14-8-21-12-15 8z"/><path fill="#0ed" d="M4771 950l13-12-20-18-14 12z"/><path fill="#0e7" d="M4391 862l15-6-22-9-14 6z"/><path fill="#0ea" d="M4646 915l14-10-21-15-14 10z"/><path fill="#0e8" d="M4519 886l14-8-21-12-14 8z"/><path fill="#0df" d="M4859 982l14-13-20-19-14 13z"/><path fill="#09f" d="M4947 1019l14-15-20-21-14 14z"/><path fill="#0ec" d="M4736 943l14-11-21-17-14 11z"/><path fill="#0e7" d="M4484 881l14-7-21-11-14 7z"/><path fill="#0e9" d="M4611 909l14-9-21-14-14 9z"/><path fill="#0ee" d="M4825 975l14-12-20-19-14 12z"/><path fill="#0af" d="M4914 1011l13-14-20-21-14 14z"/><path fill="#0e7" d="M4448 876l15-6-22-11-14 7z"/><path fill="#0eb" d="M4702 937l13-11-20-16-14 11z"/><path fill="#0e9" d="M4576 904l14-9-21-13-14 8z"/><path fill="#0ee" d="M4791 968l14-12-21-18-13 12z"/><path fill="#0e7" d="M4413 872l14-6-21-10-15 6z"/><path fill="#0bf" d="M4880 1003l13-13-20-21-14 13z"/><path fill="#0ea" d="M4667 931l14-10-21-16-14 10z"/><path fill="#0e8" d="M4541 898l14-8-22-12-14 8z"/><path fill="#0ed" d="M4757 961l14-11-21-18-14 11z"/><path fill="#0e8" d="M4505 893l14-7-21-12-14 7z"/><path fill="#0ea" d="M4632 924l14-9-21-15-14 9z"/><path fill="#0cf" d="M4846 995l13-13-20-19-14 12z"/><path fill="#09f" d="M4934 1033l13-14-20-22-13 14z"/><path fill="#0ec" d="M4722 954l14-11-21-17-13 11z"/><path fill="#0e7" d="M4470 888l14-7-21-11-15 6z"/><path fill="#0e9" d="M4597 918l14-9-21-14-14 9z"/><path fill="#0df" d="M4812 987l13-12-20-19-14 12z"/><path fill="#0e7" d="M4434 883l14-7-21-10-14 6z"/><path fill="#0af" d="M4900 1025l14-14-21-21-13 13z"/><path fill="#0eb" d="M4688 947l14-10-21-16-14 10z"/><path fill="#0e9" d="M4562 912l14-8-21-14-14 8z"/><path fill="#0ee" d="M4777 980l14-12-20-18-14 11z"/><path fill="#0e8" d="M4526 906l15-8-22-12-14 7z"/><path fill="#0eb" d="M4653 940l14-9-21-16-14 9z"/><path fill="#0bf" d="M4866 1016l14-13-21-21-13 13z"/><path fill="#0ed" d="M4743 972l14-11-21-18-14 11z"/><path fill="#0e7" d="M4491 900l14-7-21-12-14 7z"/><path fill="#0ea" d="M4618 933l14-9-21-15-14 9z"/><path fill="#0cf" d="M4832 1008l14-13-21-20-13 12z"/><path fill="#08f" d="M4920 1047l14-14-20-22-14 14z"/><path fill="#0e7" d="M4456 894l14-6-22-12-14 7z"/><path fill="#0ec" d="M4709 964l13-10-20-17-14 10z"/><path fill="#0e9" d="M4583 926l14-8-21-14-14 8z"/><path fill="#0df" d="M4798 999l14-12-21-19-14 12z"/><path fill="#0af" d="M4886 1038l14-13-20-22-14 13z"/><path fill="#0eb" d="M4674 957l14-10-21-16-14 9z"/><path fill="#0e8" d="M4548 920l14-8-21-14-15 8z"/><path fill="#0ee" d="M4764 991l13-11-20-19-14 11z"/><path fill="#0e8" d="M4512 913l14-7-21-13-14 7z"/><path fill="#0eb" d="M4639 949l14-9-21-16-14 9z"/><path fill="#0bf" d="M4853 1029l13-13-20-21-14 13z"/><path fill="#0ed" d="M4729 982l14-10-21-18-13 10z"/><path fill="#0e7" d="M4477 906l14-6-21-12-14 6z"/><path fill="#0ea" d="M4604 942l14-9-21-15-14 8z"/><path fill="#0cf" d="M4819 1020l13-12-20-21-14 12z"/><path fill="#08f" d="M4907 1060l13-13-20-22-14 13z"/><path fill="#0ec" d="M4695 974l14-10-21-17-14 10z"/><path fill="#0e9" d="M4569 934l14-8-21-14-14 8z"/><path fill="#0df" d="M4784 1010l14-11-21-19-13 11z"/><path fill="#0e8" d="M4534 927l14-7-22-14-14 7z"/><path fill="#0eb" d="M4660 966l14-9-21-17-14 9z"/><path fill="#09f" d="M4873 1051l13-13-20-22-13 13z"/><path fill="#0ee" d="M4750 1001l14-10-21-19-14 10z"/><path fill="#0e8" d="M4498 920l14-7-21-13-14 6z"/><path fill="#0eb" d="M4625 958l14-9-21-16-14 9z"/><path fill="#0af" d="M4839 1041l14-12-21-21-13 12z"/><path fill="#0ed" d="M4716 992l13-10-20-18-14 10z"/><path fill="#0ea" d="M4590 950l14-8-21-16-14 8z"/><path fill="#0cf" d="M4805 1031l14-11-21-21-14 11z"/><path fill="#08f" d="M4893 1073l14-13-21-22-13 13z"/><path fill="#0ec" d="M4681 984l14-10-21-17-14 9z"/><path fill="#0e9" d="M4555 942l14-8-21-14-14 7z"/><path fill="#0df" d="M4771 1021l13-11-20-19-14 10z"/><path fill="#0e8" d="M4520 934l14-7-22-14-14 7z"/><path fill="#0eb" d="M4646 975l14-9-21-17-14 9z"/><path fill="#09f" d="M4859 1063l14-12-20-22-14 12z"/><path fill="#0ee" d="M4736 1012l14-11-21-19-13 10z"/><path fill="#0eb" d="M4611 966l14-8-21-16-14 8z"/><path fill="#0af" d="M4826 1052l13-11-20-21-14 11z"/><path fill="#0ed" d="M4702 1002l14-10-21-18-14 10z"/><path fill="#0ea" d="M4576 957l14-7-21-16-14 8z"/><path fill="#0bf" d="M4791 1042l14-11-21-21-13 11z"/><path fill="#0e9" d="M4541 949l14-7-21-15-14 7z"/><path fill="#0ec" d="M4667 993l14-9-21-18-14 9z"/><path fill="#07f" d="M4880 1086l13-13-20-22-14 12z"/><path fill="#0df" d="M4757 1032l14-11-21-20-14 11z"/><path fill="#0eb" d="M4632 983l14-8-21-17-14 8z"/><path fill="#09f" d="M4846 1075l13-12-20-22-13 11z"/><path fill="#0ee" d="M4723 1021l13-9-20-20-14 10z"/><path fill="#0ea" d="M4597 974l14-8-21-16-14 7z"/><path fill="#0af" d="M4812 1064l14-12-21-21-14 11z"/><path fill="#0ed" d="M4688 1011l14-9-21-18-14 9z"/><path fill="#0e9" d="M4562 964l14-7-21-15-14 7z"/><path fill="#0bf" d="M4778 1053l13-11-20-21-14 11z"/><path fill="#0ec" d="M4654 1001l13-8-21-18-14 8z"/><path fill="#07f" d="M4866 1098l14-12-21-23-13 12z"/><path fill="#0cf" d="M4744 1042l13-10-21-20-13 9z"/><path fill="#0eb" d="M4619 991l13-8-21-17-14 8z"/><path fill="#09f" d="M4833 1086l13-11-20-23-14 12z"/><path fill="#0ee" d="M4709 1031l14-10-21-19-14 9z"/><path fill="#0ea" d="M4584 981l13-7-21-17-14 7z"/><path fill="#0af" d="M4799 1074l13-10-21-22-13 11z"/><path fill="#0ed" d="M4675 1020l13-9-21-18-13 8z"/><path fill="#0bf" d="M4764 1063l14-10-21-21-13 10z"/><path fill="#0ec" d="M4640 1009l14-8-22-18-13 8z"/><path fill="#07f" d="M4853 1109l13-11-20-23-13 11z"/><path fill="#0cf" d="M4730 1051l14-9-21-21-14 10z"/><path fill="#0eb" d="M4605 998l14-7-22-17-13 7z"/><path fill="#08f" d="M4819 1097l14-11-21-22-13 10z"/><path fill="#0ee" d="M4696 1039l13-8-21-20-13 9z"/><path fill="#0af" d="M4785 1085l14-11-21-21-14 10z"/><path fill="#0ed" d="M4661 1028l14-8-21-19-14 8z"/><path fill="#0bf" d="M4751 1072l13-9-20-21-14 9z"/><path fill="#0ec" d="M4626 1017l14-8-21-18-14 7z"/><path fill="#07f" d="M4839 1120l14-11-20-23-14 11z"/><path fill="#0df" d="M4716 1060l14-9-21-20-13 8z"/><path fill="#08f" d="M4806 1107l13-10-20-23-14 11z"/><path fill="#0ee" d="M4682 1048l14-9-21-19-14 8z"/><path fill="#0af" d="M4772 1094l13-9-21-22-13 9z"/><path fill="#0ed" d="M4647 1036l14-8-21-19-14 8z"/><path fill="#0bf" d="M4737 1081l14-9-21-21-14 9z"/><path fill="#07f" d="M4826 1131l13-11-20-23-13 10z"/><path fill="#0df" d="M4703 1068l13-8-20-21-14 9z"/><path fill="#08f" d="M4792 1117l14-10-21-22-13 9z"/><path fill="#0ee" d="M4668 1056l14-8-21-20-14 8z"/><path fill="#0af" d="M4758 1104l14-10-21-22-14 9z"/><path fill="#0bf" d="M4724 1090l13-9-21-21-13 8z"/><path fill="#07f" d="M4813 1141l13-10-20-24-14 10z"/><path fill="#0df" d="M4689 1076l14-8-21-20-14 8z"/><path fill="#08f" d="M4779 1127l13-10-20-23-14 10z"/><path fill="#0af" d="M4745 1112l13-8-21-23-13 9z"/><path fill="#0cf" d="M4710 1098l14-8-21-22-14 8z"/><path fill="#07f" d="M4799 1151l14-10-21-24-13 10z"/><path fill="#09f" d="M4765 1136l14-9-21-23-13 8z"/><path fill="#0af" d="M4731 1121l14-9-21-22-14 8z"/><path fill="#07f" d="M4786 1160l13-9-20-24-14 9z"/><path fill="#09f" d="M4752 1144l13-8-20-24-14 9z"/><path fill="#07f" d="M4773 1169l13-9-21-24-13 8z"/></g>
<text class="t" x="390" y="99.7" text-anchor="end">0.5</text>
<text class="t" x="388.9" y="83.4" text-anchor="end">1.1</text>
<text class="t" x="387.7" y="67.2" text-anchor="end">1.8</text>
<text class="t" x="386.6" y="50.9" text-anchor="end">2.4</text>
<text class="t" x="385.4" y="34.6" text-anchor="end">3.0</text>
<text class="t" x="391.8" y="129" text-anchor="end">500</text>
<text class="t" x="412" y="137.3" text-anchor="end">1125</text>
<text class="t" x="432.2" y="145.6" text-anchor="end">1750</text>
<text class="t" x="452.4" y="153.9" text-anchor="end">2375</text>
<text class="t" x="472.6" y="162.2" text-anchor="end">3000</text>
<text class="t" x="480.6" y="162.2">60</text>
<text class="t" x="493.5" y="150.8">50</text>
<text class="t" x="506.4" y="139.5">40</text>
<text class="t" x="519.4" y="128.2">30</text>
<text class="t" x="532.3" y="116.8">20</text>
<text class="ti" x="417.2" y="157.5" font-size="12" text-anchor="middle" font-style="italic">ω</text>
<text class="ti" x="526.7" y="147.5" font-size="11" text-anchor="middle" transform="rotate(-45 527.2 144)">θ</text>
<text class="ti" x="455.3" y="17.7" font-size="11" text-anchor="middle">(c)</text>
</g>
<g>
<path class="g" d="M116 266.6L184.3 235.5"/>
<path class="g" d="M184.3 235.5L253.9 266.6"/>
<path class="g" d="M114.8 249.7L184.2 220"/>
<path class="g" d="M184.2 220L255.1 249.7"/>
<path class="g" d="M113.6 232.8L184.1 204.5"/>
<path class="g" d="M184.1 204.5L256.2 232.8"/>
<path class="g" d="M112.5 215.9L184.1 189"/>
<path class="g" d="M184.1 189L257.3 215.9"/>
<path class="g" d="M111.3 199L184 173.5"/>
<path class="g" d="M184 173.5L258.4 199"/>
<path class="g" d="M133.1 258.8L129.5 192.6"/>
<path class="g" d="M236.5 258.8L239.8 192.6"/>
<path class="g" d="M150.1 251.1L147.7 186.2"/>
<path class="g" d="M219.1 251.1L221.2 186.2"/>
<path class="g" d="M167.2 243.3L165.8 179.9"/>
<path class="g" d="M201.7 243.3L202.6 179.9"/>
<path class="g" d="M117.4 287L111.3 199"/>
<path class="g" d="M184.3 254.2L184 173.5"/>
<path class="g" d="M252.6 287L258.4 199"/>
<path class="k" d="M116 266.6L114.2 266.6"/>
<path class="k" d="M114.8 249.7L113 249.7"/>
<path class="k" d="M113.6 232.8L111.8 232.8"/>
<path class="k" d="M112.5 215.9L110.7 215.9"/>
<path class="k" d="M111.3 199L109.5 199"/>
<path class="fl" d="M117.4 287L184.3 254.2L252.6 287L185.4 327.7Z"/>
<clipPath id="fd"><path class="" d="M117.4 287L184.3 254.2L252.6 287L185.4 327.7Z"/></clipPath>
<g clip-path="url(#fd)"><path class="ct" d="M187.1 326.7L185.8 326.1M185.8 326.1L184.5 325.5M184.5 325.5L183.2 324.9M182.5 324.6L181.9 324.4M183.2 324.9L182.5 324.6M181.9 324.4L180.7 323.8M180.7 323.8L179.4 323.2M179.4 323.2L178.1 322.6M178.1 322.6L176.9 322M176.9 322L175.6 321.4M175.6 321.4L174.4 320.7M174.4 320.7L173.1 320.1M173.1 320.1L171.9 319.5M171.9 319.5L171.1 319.1M194 258.9L193.3 258.7M193.3 258.7L192 258.2M124.3 291L124.8 291.4M192 258.2L190.6 257.8M124.3 291L123.2 290.3M190.6 257.8L189.2 257.4M123.2 290.3L122.2 289.6M189.2 257.4L187.8 257M122.2 289.6L121.2 288.8M187.7 256.9L186.4 256.5M187.8 257L187.7 256.9M121.2 288.8L120.2 288.1M186.4 256.5L185 256.1M120.2 288.1L119.2 287.3M185 256.1L183.6 255.7M119.2 287.3L118.3 286.6M183.6 255.7L182.2 255.3M192.4 323.5L191 322.9M252.3 287.2L251.2 286.6M190.6 322.8L189.7 322.4M191 322.9L190.6 322.8M251.2 286.6L250.1 286M189.7 322.4L188.4 321.8M250.1 286L249 285.5M188.4 321.8L187.1 321.2M249 285.5L247.9 284.9M187.1 321.2L185.9 320.7M247.9 284.9L246.8 284.3M185.9 320.7L184.6 320.1M246.8 284.3L245.7 283.8M184.6 320.1L183.3 319.5M245.7 283.8L244.5 283.2M183.3 319.5L182 318.9M244.5 283.2L243.4 282.7M181.2 318.5L180.8 318.3M182 318.9L181.2 318.5M243.4 282.7L242.3 282.1M180.8 318.3L179.5 317.7M242.3 282.1L241.1 281.6M179.5 317.7L178.2 317.1M241.1 281.6L240 281.1M178.2 317.1L177 316.5M240 281.1L238.8 280.5M177 316.5L175.8 315.9M238.8 280.5L237.7 280M175.8 315.9L174.5 315.3M237.7 280L236.5 279.5M174.5 315.3L173.3 314.7M236.5 279.5L235.3 278.9M173.3 314.7L172.1 314.1M235.3 278.9L234.1 278.4M172.1 314.1L170.8 313.5M234.1 278.4L232.9 277.9M170.8 313.5L169.6 312.8M232.9 277.9L231.8 277.4M169.6 312.8L168.4 312.2M231.8 277.4L230.6 276.9M168.4 312.2L167.2 311.6M230.6 276.9L229.4 276.4M166.9 311.4L166 311M167.2 311.6L166.9 311.4M229.4 276.4L228.1 275.9M166 311L164.8 310.3M228.1 275.9L226.9 275.3M164.8 310.3L163.7 309.7M226.9 275.3L225.7 274.8M163.7 309.7L162.5 309M225.7 274.8L224.5 274.3M162.5 309L161.3 308.4M224.5 274.3L223.3 273.8M161.3 308.4L160.1 307.7M223.3 273.8L222 273.4M160.1 307.7L159 307.1M222 273.4L220.8 272.9M159 307.1L157.8 306.4M220.6 272.8L219.5 272.4M220.8 272.9L220.6 272.8M157.8 306.4L156.7 305.8M219.5 272.4L218.3 271.9M156.7 305.8L155.5 305.1M218.3 271.9L217 271.4M155.5 305.1L154.4 304.4M217 271.4L215.8 270.9M154.4 304.4L153.2 303.8M215.8 270.9L214.5 270.5M153.2 303.8L152.1 303.1M214.5 270.5L213.2 270M152.1 303.1L151 302.4M213.2 270L211.9 269.5M151 302.4L149.9 301.7M211.9 269.5L210.6 269M149.9 301.7L148.8 301M209.9 268.8L209.3 268.6M210.6 269L209.9 268.8M148.8 301L147.7 300.4M209.3 268.6L208 268.1M147.7 300.4L146.6 299.7M208 268.1L206.7 267.6M146.6 299.7L145.5 299M206.7 267.6L205.4 267.2M145.5 299L144.4 298.3M205.4 267.2L204.1 266.7M144.4 298.3L143.3 297.6M204.1 266.7L202.8 266.3M143.3 297.6L142.2 296.9M201.5 265.9L201.5 265.8M202.8 266.3L201.5 265.9M142.2 296.9L141.7 296.5M141.2 296.2L141.7 296.5M201.5 265.8L200.1 265.4M141.2 296.2L140.1 295.5M200.1 265.4L198.8 264.9M140.1 295.5L139.1 294.8M198.8 264.9L197.4 264.5M139.1 294.8L138 294M197.4 264.5L196.1 264.1M138 294L137 293.3M196.1 264.1L194.7 263.6M137 293.3L135.9 292.6M194.5 263.5L193.3 263.2M194.7 263.6L194.5 263.5M135.9 292.6L134.9 291.9M193.3 263.2L191.9 262.7M134.9 291.9L133.9 291.2M191.9 262.7L190.6 262.3M133.9 291.2L132.9 290.4M190.6 262.3L189.2 261.9M132.9 290.4L131.9 289.7M188.2 261.6L187.8 261.5M189.2 261.9L188.2 261.6M131.9 289.7L130.9 289M187.8 261.5L186.4 261M130.9 289L130.6 288.8M129.9 288.2L130.6 288.8M186.4 261L184.9 260.6M129.9 288.2L128.9 287.5M184.9 260.6L183.5 260.2M128.9 287.5L127.9 286.7M182.6 259.9L182.1 259.8M183.5 260.2L182.6 259.9M127.9 286.7L127 286M182.1 259.8L180.7 259.4M127 286L126 285.2M180.7 259.4L179.2 259M126 285.2L125.1 284.5M179.2 259L177.8 258.6M125.1 284.5L124.3 283.9M124.1 283.7L124.3 283.9M177.4 258.5L176.3 258.2M177.8 258.6L177.4 258.5M196.8 319.7L196.5 319.6M197.9 320.1L196.8 319.7M246.8 290.5L245.7 289.9M196.5 319.6L195.2 319.1M245.7 289.9L244.6 289.3M195.2 319.1L193.9 318.5M244.6 289.3L243.6 288.7M193.9 318.5L192.6 318M243.6 288.7L243.1 288.5M242.5 288.1L243.1 288.5M192.6 318L191.3 317.4M242.5 288.1L241.4 287.6M191.3 317.4L190 316.9M241.4 287.6L240.3 287M190 316.9L188.7 316.3M240.3 287L239.2 286.4M188.6 316.3L187.4 315.7M188.7 316.3L188.6 316.3M239.2 286.4L238 285.9M187.4 315.7L186.1 315.2M238 285.9L236.9 285.3M186.1 315.2L184.8 314.6M236.9 285.3L235.8 284.7M184.8 314.6L183.6 314M235.8 284.7L234.6 284.2M183.6 314L182.3 313.4M234.6 284.2L233.5 283.6M182.3 313.4L181.1 312.8M233.5 283.6L232.3 283.1M181.1 312.8L179.8 312.2M232.3 283.1L231.2 282.5M179.8 312.2L178.6 311.6M231.2 282.5L230 282M178.6 311.6L177.4 311M230 282L228.8 281.5M177.1 310.9L176.1 310.4M177.4 311L177.1 310.9M227.8 281L227.7 280.9M228.8 281.5L227.8 281M176.1 310.4L174.9 309.8M227.7 280.9L226.5 280.4M174.9 309.8L173.7 309.2M226.5 280.4L225.3 279.9M173.7 309.2L172.5 308.6M225.3 279.9L224.1 279.4M172.5 308.6L171.3 308M224.1 279.4L222.9 278.8M171.3 308L170.1 307.3M222.9 278.8L221.6 278.3M170.1 307.3L168.9 306.7M221.6 278.3L220.4 277.8M168.9 306.7L167.8 306.1M220.4 277.8L219.2 277.3M167.8 306.1L166.6 305.4M219.2 277.3L218 276.8M166.6 305.4L165.4 304.8M218 276.8L216.7 276.3M165.4 304.8L164.3 304.1M216.7 276.3L215.5 275.8M164.3 304.1L163.1 303.5M215.5 275.8L214.2 275.3M163.1 303.5L162 302.8M214.2 275.3L213 274.8M162 302.8L160.9 302.2M212.4 274.6L211.7 274.3M213 274.8L212.4 274.6M160.9 302.2L159.7 301.5M211.7 274.3L210.4 273.9M159.7 301.5L158.6 300.8M210.4 273.9L209.1 273.4M158.6 300.8L157.5 300.2M209.1 273.4L207.8 272.9M157.5 300.2L156.4 299.5M207.8 272.9L206.5 272.4M156.4 299.5L155.3 298.8M206.5 272.4L205.2 272M155.3 298.8L154.2 298.1M205.2 272L203.9 271.5M154.2 298.1L153.1 297.4M203.3 271.3L202.6 271M203.9 271.5L203.3 271.3M153.1 297.4L152 296.8M202.6 271L201.3 270.6M152 296.8L151 296.1M201.3 270.6L199.9 270.1M151 296.1L149.9 295.4M199.9 270.1L198.6 269.7M149.9 295.4L148.9 294.7M198.6 269.7L197.2 269.2M148.9 294.7L147.8 294M195.9 268.8L195.9 268.8M197.2 269.2L195.9 268.8M147.8 294L147.4 293.7M146.8 293.2L147.4 293.7M195.9 268.8L194.5 268.3M146.8 293.2L145.8 292.5M194.5 268.3L193.1 267.9M145.8 292.5L144.7 291.8M193.1 267.9L191.7 267.4M144.7 291.8L143.7 291.1M191.7 267.4L190.3 267M143.7 291.1L142.7 290.4M189.7 266.8L188.9 266.6M190.3 267L189.7 266.8M142.7 290.4L141.7 289.6M188.9 266.6L187.5 266.2M141.7 289.6L140.8 288.9M187.5 266.2L186.1 265.7M140.8 288.9L139.8 288.2M186.1 265.7L184.7 265.3M139.8 288.2L139.1 287.7M138.8 287.4L139.1 287.7M184.1 265.1L183.2 264.9M184.7 265.3L184.1 265.1M138.8 287.4L137.9 286.7M183.2 264.9L181.8 264.5M137.9 286.7L136.9 285.9M181.8 264.5L180.3 264.1M136.9 285.9L136 285.2M179 263.7L178.8 263.7M180.3 264.1L179 263.7M136 285.2L135.1 284.4M178.8 263.7L177.4 263.3M135.1 284.4L134.2 283.6M177.4 263.3L175.9 262.9M134.2 283.6L134 283.5M133.3 282.9L134 283.5M174.4 262.5L174.3 262.5M175.9 262.9L174.4 262.5M133.3 282.9L132.4 282.1M174.3 262.5L172.8 262.1M132.4 282.1L131.5 281.3M172.8 262.1L171.3 261.8M131.5 281.3L130.7 280.5M170.1 261.5L169.7 261.4M171.3 261.8L170.1 261.5M204.2 316L203.1 315.6M204.5 316.1L204.2 316M240.2 294.5L239.4 294M239.2 293.9L239.4 294M203.1 315.6L201.7 315.2M239.2 293.9L238.1 293.2M201.7 315.2L200.4 314.6M238.1 293.2L237.1 292.6M200.4 314.6L199 314.1M237.1 292.6L236 292M199 314.1L197.7 313.6M236 292L235 291.4M197.6 313.6L196.3 313.1M197.7 313.6L197.6 313.6M235 291.4L233.9 290.8M196.3 313.1L195 312.6M233.9 290.8L232.8 290.2M195 312.6L193.7 312M232.8 290.2L231.7 289.6M193.7 312L192.4 311.5M231.7 289.6L230.6 289M192.4 311.5L191.1 310.9M230.6 289L229.5 288.4M191.1 310.9L189.8 310.4M229.5 288.4L228.4 287.8M189.1 310.1L188.5 309.8M189.8 310.4L189.1 310.1M228.4 287.8L227.3 287.2M188.5 309.8L187.3 309.2M227.3 287.2L226.1 286.7M187.3 309.2L186 308.7M226.1 286.7L225 286.1M186 308.7L184.8 308.1M225 286.1L223.8 285.5M184.8 308.1L183.5 307.5M223.8 285.5L222.7 285M183.5 307.5L182.3 306.9M222.7 285L221.5 284.4M182.3 306.9L181.1 306.3M221.5 284.4L220.3 283.9M181.1 306.3L179.9 305.7M220.3 283.9L219.1 283.4M179.9 305.7L178.6 305.1M219.1 283.4L217.9 282.8M178.6 305.1L177.5 304.5M217.9 282.8L216.7 282.3M177.5 304.5L176.3 303.9M216.7 282.3L215.5 281.8M176.3 303.9L175.1 303.3M215.5 281.8L214.3 281.3M175.1 303.3L173.9 302.6M214.3 281.3L213 280.7M173.9 302.6L172.8 302M212.5 280.5L211.8 280.2M213 280.7L212.5 280.5M172.8 302L171.6 301.4M211.8 280.2L210.5 279.7M171.6 301.4L170.5 300.7M210.5 279.7L209.3 279.2M170.5 300.7L169.3 300.1M209.3 279.2L208 278.7M169.3 300.1L168.2 299.4M208 278.7L206.7 278.2M168.2 299.4L167.1 298.8M206.7 278.2L205.4 277.8M167.1 298.8L166 298.1M205.4 277.8L204.1 277.3M166 298.1L164.9 297.4M204.1 277.3L202.8 276.8M164.9 297.4L163.8 296.7M202.5 276.7L201.5 276.3M202.8 276.8L202.5 276.7M163.8 296.7L162.8 296.1M201.5 276.3L200.2 275.9M162.8 296.1L161.7 295.4M200.2 275.9L198.8 275.4M161.7 295.4L160.6 294.7M198.8 275.4L197.5 274.9M160.6 294.7L159.6 294M197.5 274.9L196.1 274.5M159.6 294L158.6 293.3M195.3 274.2L194.7 274M196.1 274.5L195.3 274.2M158.6 293.3L157.5 292.6M194.7 274L193.4 273.6M157.5 292.6L156.5 291.9M193.4 273.6L192 273.1M156.5 291.9L155.5 291.2M192 273.1L190.6 272.7M155.5 291.2L154.5 290.4M189.3 272.3L189.1 272.3M190.6 272.7L189.3 272.3M154.5 290.4L154.5 290.4M153.6 289.7L154.5 290.4M189.1 272.3L187.7 271.9M153.6 289.7L152.6 289M187.7 271.9L186.3 271.4M152.6 289L151.7 288.2M186.3 271.4L184.8 271M151.7 288.2L150.8 287.5M184.1 270.9L183.3 270.6M184.8 271L184.1 270.9M150.8 287.5L149.8 286.7M183.3 270.6L181.8 270.2M149.8 286.7L149.2 286.2M148.9 285.9L149.2 286.2M181.8 270.2L180.3 269.8M148.9 285.9L148.1 285.2M179.5 269.6L178.8 269.5M180.3 269.8L179.5 269.6M148.1 285.2L147.2 284.4M178.8 269.5L177.3 269.1M147.2 284.4L146.4 283.6M177.3 269.1L175.7 268.7M146.4 283.6L145.7 283M145.5 282.8L145.7 283M175.3 268.6L174.1 268.4M175.7 268.7L175.3 268.6M145.5 282.8L144.7 282M174.1 268.4L172.5 268M144.7 282L144 281.2M171.5 267.8L170.9 267.7M172.5 268L171.5 267.8M144 281.2L143.3 280.4M143.2 280.3L143.3 280.4M170.9 267.7L169.2 267.4M143.2 280.3L142.5 279.5M168 267.1L167.5 267M169.2 267.4L168 267.1M142.5 279.5L141.8 278.6M167.5 267L165.8 266.7M141.8 278.6L141.5 278.3M141.2 277.7L141.5 278.3M164.7 266.6L164.1 266.5M165.8 266.7L164.7 266.6M141.2 277.7L140.6 276.8M164.1 266.5L162.2 266.2M140.6 276.8L140.3 276.4M140 275.9L140.3 276.4M161.7 266.1L160.4 266M162.2 266.2L161.7 266.1M212.2 311.5L210.6 311.1M232.5 299.2L231.6 298.4M210.6 311.1L209.1 310.7M231.6 298.4L230.7 297.7M208.1 310.4L207.7 310.3M209.1 310.7L208.1 310.4M230.7 297.7L229.8 297M207.7 310.3L206.2 309.8M229.8 297L228.8 296.3M206.2 309.8L204.8 309.4M228.8 296.3L227.9 295.6M227.9 295.6L227.9 295.6M204.8 309.4L203.4 308.9M227.9 295.6L226.9 294.9M202.7 308.7L202 308.4M203.4 308.9L202.7 308.7M226.9 294.9L225.9 294.3M202 308.4L200.6 308M225.9 294.3L224.9 293.6M200.6 308L199.2 307.5M224.9 293.6L223.8 293M199.2 307.5L197.9 307M223.8 293L222.8 292.4M197.9 307L196.5 306.4M222.8 292.4L221.7 291.8M195.8 306.2L195.2 305.9M196.5 306.4L195.8 306.2M221.7 291.8L220.6 291.1M195.2 305.9L193.9 305.4M220.6 291.1L219.5 290.5M193.9 305.4L192.6 304.8M219.5 290.5L218.4 289.9M192.6 304.8L191.4 304.3M218.4 289.9L217.2 289.4M191.4 304.3L190.1 303.7M217.2 289.4L216.1 288.8M190.1 303.7L188.9 303.2M216.1 288.8L214.9 288.2M188.9 303.2L187.6 302.6M214.9 288.2L213.8 287.7M187.6 302.6L186.4 302M213.8 287.7L212.6 287.1M186.4 302L185.2 301.4M212.6 287.1L211.4 286.6M185.2 301.4L184 300.8M211.4 286.6L210.2 286M183.2 300.4L182.8 300.2M184 300.8L183.2 300.4M210.2 286L208.9 285.5M182.8 300.2L181.7 299.6M208.9 285.5L207.7 285M181.7 299.6L180.5 298.9M207.7 285L206.5 284.4M180.5 298.9L179.4 298.3M206.5 284.4L205.2 283.9M179.4 298.3L178.2 297.7M204.8 283.8L203.9 283.4M205.2 283.9L204.8 283.8M178.2 297.7L177.1 297M203.9 283.4L202.6 282.9M177.1 297L176.3 296.5M176 296.4L176.3 296.5M202.6 282.9L201.3 282.4M176 296.4L175 295.7M201.3 282.4L200 282M175 295.7L173.9 295M200 282L198.6 281.5M173.9 295L172.8 294.3M198.6 281.5L197.3 281M172.8 294.3L171.8 293.7M196.8 280.9L195.9 280.6M197.3 281L196.8 280.9M171.8 293.7L170.8 293M195.9 280.6L194.5 280.1M170.8 293L169.8 292.3M194.5 280.1L193.1 279.7M169.8 292.3L168.8 291.5M193.1 279.7L191.7 279.2M168.8 291.5L167.9 290.8M191 279L190.3 278.8M191.7 279.2L191 279M167.9 290.8L166.9 290.1M190.3 278.8L188.8 278.4M166.9 290.1L166.8 290M166 289.3L166.8 290M188.8 278.4L187.3 278M166 289.3L165.1 288.6M186.2 277.7L185.8 277.6M187.3 278L186.2 277.7M165.1 288.6L164.3 287.8M185.8 277.6L184.2 277.2M164.3 287.8L163.4 287M184.2 277.2L182.7 276.9M163.4 287L163.1 286.8M162.6 286.2L163.1 286.8M182 276.7L181.1 276.5M182.7 276.9L182 276.7M162.6 286.2L161.9 285.4M181.1 276.5L179.4 276.2M161.9 285.4L161.1 284.5M178.4 276L177.8 275.9M179.4 276.2L178.4 276M161.1 284.5L161 284.3M160.5 283.7L161 284.3M177.8 275.9L176 275.6M160.5 283.7L159.9 282.8M175.2 275.5L174.2 275.3M176 275.6L175.2 275.5M159.9 282.8L159.6 282.4M159.3 281.8L159.6 282.4M174.2 275.3L172.3 275.1M159.3 281.8L158.9 280.8M172.3 275.1L170.3 275M172.3 275.1L172.3 275.1M158.9 280.8L158.9 280.8M158.7 279.7L158.9 280.8M169.7 274.9L168.2 274.9M170.3 275L169.7 274.9M158.7 279.7L158.6 279.5M158.7 278.5L158.6 279.5M167.5 274.9L165.7 274.9M168.2 274.9L167.5 274.9M158.7 278.5L158.7 278.4M159.2 277.4L158.7 278.4M159.7 276.8L159.2 277.4M163.7 275.2L162.3 275.5M165.4 275L163.7 275.2M165.7 274.9L165.4 275M159.7 276.8L159.9 276.6M160.9 276L159.9 276.6M162.2 275.5L160.9 276M162.3 275.5L162.2 275.5M212.4 301.3L211.7 301.4M213.6 300.6L212.4 301.3M213.8 300.2L213.6 300.6M210.7 301.6L209.3 301.6M211.7 301.4L210.7 301.6M213.8 300.2L214 299.6M213.8 298.9L214 299.6M208.2 301.5L207.4 301.4M209.3 301.6L208.2 301.5M213.8 298.9L213.4 298M213.3 297.9L213.4 298M207.4 301.4L205.6 301.1M213.3 297.9L212.6 297.1M204.8 301L204 300.8M205.6 301.1L204.8 301M212.6 297.1L211.8 296.3M204 300.8L202.5 300.4M211.8 296.3L210.9 295.5M202.5 300.4L201.1 300M210.9 295.5L210.7 295.4M209.9 294.8L210.7 295.4M200.1 299.7L199.7 299.5M201.1 300L200.1 299.7M209.9 294.8L208.9 294.1M199.7 299.5L198.3 299M208.9 294.1L207.9 293.5M198.3 299L197 298.5M207.9 293.5L206.8 292.9M197 298.5L195.7 298M206.8 292.9L205.7 292.3M195.7 298L194.5 297.4M205.7 292.3L204.5 291.7M194.5 297.4L193.2 296.8M204.5 291.7L203.3 291.1M193.2 296.8L192.1 296.2M203.3 291.1L202.1 290.6M192.1 296.2L190.9 295.6M202.1 290.6L200.9 290M190.9 295.6L189.8 295M199.7 289.6L199.6 289.5M200.9 290L199.7 289.6M189.8 295L188.8 294.3M199.6 289.5L198.2 289M188.8 294.3L187.7 293.6M198.2 289L196.8 288.6M187.7 293.6L186.8 292.9M196.8 288.6L195.4 288.1M186.8 292.9L185.8 292.2M195.4 288.1L194 287.7M185.8 292.2L184.9 291.5M193.9 287.7L192.4 287.4M194 287.7L193.9 287.7M184.9 291.5L184.9 291.4M184.2 290.6L184.9 291.4M192.4 287.4L190.8 287M184.2 290.6L183.6 289.7M190.1 286.9L189 286.8M190.8 287L190.1 286.9M183.6 289.7L183.3 289.3M183.2 288.7L183.3 289.3M187.3 286.6L187 286.6M189 286.8L187.3 286.6M183.2 288.7L183.2 288M183.9 287.2L183.2 288M185.3 286.7L183.9 287.2M187 286.6L185.3 286.7"/></g>
<path class="k" d="M168.4 317.5L167.5 318.1"/>
<path class="k" d="M202.2 317.5L203.2 318.1"/>
<path class="k" d="M151.4 307.4L150.5 307.9"/>
<path class="k" d="M219 307.4L220 307.9"/>
<path class="k" d="M134.4 297.2L133.5 297.7"/>
<path class="k" d="M235.8 297.2L236.8 297.7"/>
<g class="sf" stroke-width="1.7" transform="scale(.1)"><path fill="#012" d="M1842 2189l18 6-18-6-18-5zM1860 2195l17 5-17-5-18-6z"/><path fill="#011" d="M1825 2185l17 4-18-5-17-5z"/><path fill="#012" d="M1878 2201l17 5-18-6-17-5z"/><path fill="#011" d="M1807 2181l18 4-18-6-18-4zM1843 2191l17 4-18-6-17-4z"/><path fill="#012" d="M1896 2207l17 5-18-6-17-5z"/><path fill="#055" d="M1790 2178l17 3-18-6-17-3z"/><path fill="#011" d="M1860 2197l18 4-18-6-17-4zM1825 2187l18 4-18-6-18-4z"/><path fill="#012" d="M1913 2213l18 5-18-6-17-5z"/><path fill="#077" d="M1772 2175l18 3-18-6-18-3z"/><path fill="#011" d="M1878 2203l18 4-18-6-18-4z"/><path fill="#055" d="M1808 2184l17 3-18-6-17-3z"/><path fill="#012" d="M1843 2193l17 4-17-6-18-4zM1931 2219l17 5-17-6-18-5z"/><path fill="#098" d="M1755 2173l17 2-18-6-17-2z"/><path fill="#011" d="M1896 2209l17 4-17-6-18-4z"/><path fill="#087" d="M1790 2181l18 3-18-6-18-3z"/><path fill="#022" d="M1861 2199l17 4-18-6-17-4z"/><path fill="#056" d="M1825 2190l18 3-18-6-17-3z"/><path fill="#012" d="M1949 2225l17 5-18-6-17-5z"/><path fill="#0b8" d="M1737 2172l18 1-18-6-18-2z"/><path fill="#011" d="M1914 2215l17 4-18-6-17-4z"/><path fill="#0a8" d="M1772 2179l18 2-18-6-17-2z"/><path fill="#023" d="M1878 2205l18 4-18-6-17-4z"/><path fill="#087" d="M1808 2187l17 3-17-6-18-3z"/><path fill="#066" d="M1843 2196l18 3-18-6-18-3z"/><path fill="#012" d="M1967 2231l17 5-18-6-17-5z"/><path fill="#0c8" d="M1719 2171l18 1-18-7-18 0z"/><path fill="#011" d="M1932 2221l17 4-18-6-17-4z"/><path fill="#0b8" d="M1755 2178l17 1-17-6-18-1z"/><path fill="#033" d="M1896 2211l18 4-18-6-18-4z"/><path fill="#0a8" d="M1790 2185l18 2-18-6-18-2z"/><path fill="#066" d="M1861 2202l17 3-17-6-18-3z"/><path fill="#087" d="M1826 2194l17 2-18-6-17-3z"/><path fill="#011" d="M1984 2238l18 4-18-6-17-5z"/><path fill="#0d8" d="M1702 2171l17 0-18-6-17-1z"/><path fill="#011" d="M1949 2227l18 4-18-6-17-4z"/><path fill="#0c8" d="M1737 2177l18 1-18-6-18-1z"/><path fill="#034" d="M1914 2218l18 3-18-6-18-4z"/><path fill="#0b8" d="M1773 2184l17 1-18-6-17-1z"/><path fill="#0a8" d="M1808 2192l18 2-18-7-18-2z"/><path fill="#066" d="M1879 2208l17 3-18-6-17-3z"/><path fill="#087" d="M1844 2200l17 2-18-6-17-2z"/><path fill="#011" d="M2002 2244l18 4-18-6-18-4z"/><path fill="#0d8" d="M1684 2171l18 0-18-7-18 1z"/><path fill="#011" d="M1967 2233l17 5-17-7-18-4z"/><path fill="#0d8" d="M1720 2177l17 0-18-6-17 0z"/><path fill="#044" d="M1932 2224l17 3-17-6-18-3z"/><path fill="#0c8" d="M1755 2183l18 1-18-6-18-1z"/><path fill="#077" d="M1897 2215l17 3-18-7-17-3z"/><path fill="#0b8" d="M1791 2190l17 2-18-7-17-1z"/><path fill="#097" d="M1861 2206l18 2-18-6-17-2z"/><path fill="#0a8" d="M1826 2198l18 2-18-6-18-2z"/><path fill="#011" d="M2020 2250l17 5-17-7-18-4z"/><path fill="#0e7" d="M1666 2172l18-1-18-6-18 1z"/><path fill="#011" d="M1985 2240l17 4-18-6-17-5z"/><path fill="#0e8" d="M1702 2177l18 0-18-6-18 0z"/><path fill="#045" d="M1950 2230l17 3-18-6-17-3z"/><path fill="#0d8" d="M1737 2183l18 0-18-6-17 0z"/><path fill="#077" d="M1915 2221l17 3-18-6-17-3z"/><path fill="#0c8" d="M1773 2190l18 0-18-6-18-1z"/><path fill="#097" d="M1879 2212l18 3-18-7-18-2z"/><path fill="#0b8" d="M1808 2197l18 1-18-6-17-2z"/><path fill="#0a8" d="M1844 2204l17 2-17-6-18-2z"/><path fill="#011" d="M2038 2256l17 5-18-6-17-5z"/><path fill="#0e7" d="M1649 2174l17-2-18-6-17 1z"/><path fill="#011" d="M2003 2246l17 4-18-6-17-4z"/><path fill="#0e7" d="M1684 2179l18-2-18-6-18 1z"/><path fill="#055" d="M1968 2236l17 4-18-7-17-3z"/><path fill="#0e7" d="M1720 2184l17-1-17-6-18 0z"/><path fill="#077" d="M1932 2227l18 3-18-6-17-3z"/><path fill="#0d8" d="M1755 2190l18 0-18-7-18 0z"/><path fill="#098" d="M1897 2219l18 2-18-6-18-3z"/><path fill="#0c8" d="M1791 2196l17 1-17-7-18 0z"/><path fill="#0b8" d="M1862 2210l17 2-18-6-17-2z"/><path fill="#0c8" d="M1826 2203l18 1-18-6-18-1z"/><path fill="#011" d="M2056 2262l17 5-18-6-17-5z"/><path fill="#0f7" d="M1631 2176l18-2-18-7-18 3z"/><path fill="#022" d="M2021 2252l17 4-18-6-17-4z"/><path fill="#0f7" d="M1667 2180l17-1-18-7-17 2z"/><path fill="#056" d="M1985 2243l18 3-18-6-17-4z"/><path fill="#0e7" d="M1702 2185l18-1-18-7-18 2zM1738 2190l17 0-18-7-17 1z"/><path fill="#087" d="M1950 2233l18 3-18-6-18-3z"/><path fill="#098" d="M1915 2225l17 2-17-6-18-2z"/><path fill="#0d8" d="M1773 2196l18 0-18-6-18 0z"/><path fill="#0b8" d="M1880 2217l17 2-18-7-17-2z"/><path fill="#0c8" d="M1809 2202l17 1-18-6-17-1zM1844 2209l18 1-18-6-18-1z"/><path fill="#011" d="M2073 2269l18 4-18-6-17-5z"/><path fill="#0f7" d="M1613 2179l18-3-18-6-18 3z"/><path fill="#023" d="M2038 2259l18 3-18-6-17-4z"/><path fill="#0f7" d="M1649 2183l18-3-18-6-18 2zM1684 2187l18-2-18-6-17 1z"/><path fill="#066" d="M2003 2249l18 3-18-6-18-3z"/><path fill="#087" d="M1968 2240l17 3-17-7-18-3z"/><path fill="#0e7" d="M1720 2192l18-2-18-6-18 1zM1756 2197l17-1-18-6-17 0z"/><path fill="#0a8" d="M1933 2231l17 2-18-6-17-2z"/><path fill="#0b8" d="M1897 2223l18 2-18-6-17-2z"/><path fill="#0d8" d="M1791 2203l18-1-18-6-18 0z"/><path fill="#0c8" d="M1862 2216l18 1-18-7-18-1z"/><path fill="#0d8" d="M1827 2209l17 0-18-6-17-1z"/><path fill="#011" d="M2091 2275l17 5-17-7-18-4z"/><path fill="#0f6" d="M1596 2183l17-4-18-6-17 3z"/><path fill="#033" d="M2056 2265l17 4-17-7-18-3z"/><path fill="#0f7" d="M1631 2186l18-3-18-7-18 3z"/><path fill="#066" d="M2021 2255l17 4-17-7-18-3z"/><path fill="#0f7" d="M1667 2189l17-2-17-7-18 3z"/><path fill="#087" d="M1986 2246l17 3-18-6-17-3z"/><path fill="#0f7" d="M1702 2193l18-1-18-7-18 2z"/><path fill="#0a8" d="M1951 2238l17 2-18-7-17-2z"/><path fill="#0e7" d="M1738 2198l18-1-18-7-18 2z"/><path fill="#0b8" d="M1915 2230l18 1-18-6-18-2z"/><path fill="#0e7" d="M1773 2203l18 0-18-7-17 1z"/><path fill="#0c8" d="M1880 2222l17 1-17-6-18-1z"/><path fill="#0d7" d="M1809 2209l18 0-18-7-18 1z"/><path fill="#0d8" d="M1844 2215l18 1-18-7-17 0z"/><path fill="#011" d="M2109 2282l17 4-18-6-17-5z"/><path fill="#0f6" d="M1578 2187l18-4-18-7-18 4z"/><path fill="#034" d="M2074 2271l17 4-18-6-17-4z"/><path fill="#0f6" d="M1614 2190l17-4-18-7-17 4z"/><path fill="#066" d="M2039 2262l17 3-18-6-17-4z"/><path fill="#0f6" d="M1649 2192l18-3-18-6-18 3z"/><path fill="#087" d="M2004 2253l17 2-18-6-17-3z"/><path fill="#0f7" d="M1685 2196l17-3-18-6-17 2z"/><path fill="#0a8" d="M1969 2244l17 2-18-6-17-2z"/><path fill="#0f7" d="M1720 2200l18-2-18-6-18 1z"/><path fill="#0b8" d="M1933 2236l18 2-18-7-18-1z"/><path fill="#0e7" d="M1756 2205l17-2-17-6-18 1z"/><path fill="#0c8" d="M1898 2229l17 1-18-7-17-1z"/><path fill="#0e7" d="M1791 2210l18-1-18-6-18 0z"/><path fill="#0d8" d="M1862 2222l18 0-18-6-18-1z"/><path fill="#0d7" d="M1827 2216l17-1-17-6-18 0z"/><path fill="#0f6" d="M1560 2192l18-5-18-7-18 5z"/><path fill="#011" d="M2127 2288l17 4-18-6-17-4z"/><path fill="#044" d="M2092 2278l17 4-18-7-17-4z"/><path fill="#0f6" d="M1596 2194l18-4-18-7-18 4z"/><path fill="#077" d="M2057 2268l17 3-18-6-17-3z"/><path fill="#0f6" d="M1631 2196l18-4-18-6-17 4zM1667 2199l18-3-18-7-18 3z"/><path fill="#098" d="M2022 2259l17 3-18-7-17-2z"/><path fill="#0a8" d="M1986 2251l18 2-18-7-17-2z"/><path fill="#0f7" d="M1703 2203l17-3-18-7-17 3z"/><path fill="#0b8" d="M1951 2243l18 1-18-6-18-2z"/><path fill="#0f7" d="M1738 2207l18-2-18-7-18 2z"/><path fill="#0c8" d="M1916 2235l17 1-18-6-17-1z"/><path fill="#0e7" d="M1774 2211l17-1-18-7-17 2z"/><path fill="#0d8" d="M1880 2228l18 1-18-7-18 0z"/><path fill="#0e7" d="M1809 2216l18 0-18-7-18 1z"/><path fill="#0d7" d="M1845 2222l17 0-18-7-17 1z"/><path fill="#011" d="M2145 2294l17 5-18-7-17-4z"/><path fill="#0f5" d="M1543 2198l17-6-18-7-17 6zM1578 2199l18-5-18-7-18 5z"/><path fill="#045" d="M2110 2284l17 4-18-6-17-4z"/><path fill="#077" d="M2075 2275l17 3-18-7-17-3z"/><path fill="#0f6" d="M1614 2201l17-5-17-6-18 4zM1649 2203l18-4-18-7-18 4z"/><path fill="#098" d="M2039 2266l18 2-18-6-17-3z"/><path fill="#0f6" d="M1685 2206l18-3-18-7-18 3z"/><path fill="#0a8" d="M2004 2257l18 2-18-6-18-2z"/><path fill="#0b8" d="M1969 2249l17 2-17-7-18-1z"/><path fill="#0f7" d="M1721 2209l17-2-18-7-17 3z"/><path fill="#0c8" d="M1934 2242l17 1-18-7-17-1z"/><path fill="#0f7" d="M1756 2213l18-2-18-6-18 2z"/><path fill="#0d8" d="M1898 2235l18 0-18-6-18-1z"/><path fill="#0e7" d="M1792 2218l17-2-18-6-17 1zM1863 2229l17-1-18-6-17 0zM1827 2223l18-1-18-6-18 0z"/><path fill="#011" d="M2163 2301l17 4-18-6-17-5z"/><path fill="#0f5" d="M1525 2204l18-6-18-7-18 6z"/><path fill="#055" d="M2128 2291l17 3-18-6-17-4z"/><path fill="#0f5" d="M1561 2205l17-6-18-7-17 6zM1596 2206l18-5-18-7-18 5z"/><path fill="#077" d="M2093 2281l17 3-18-6-17-3z"/><path fill="#098" d="M2057 2272l18 3-18-7-18-2z"/><path fill="#0f6" d="M1632 2208l17-5-18-7-17 5z"/><path fill="#0b8" d="M2022 2264l17 2-17-7-18-2z"/><path fill="#0f6" d="M1667 2210l18-4-18-7-18 4z"/><path fill="#0c8" d="M1987 2256l17 1-18-6-17-2z"/><path fill="#0f6" d="M1703 2213l18-4-18-6-18 3z"/><path fill="#0c8" d="M1951 2248l18 1-18-6-17-1z"/><path fill="#0f6" d="M1738 2216l18-3-18-6-17 2z"/><path fill="#0d8" d="M1916 2242l18 0-18-7-18 0z"/><path fill="#0f7" d="M1774 2220l18-2-18-7-18 2z"/><path fill="#0e7" d="M1881 2235l17 0-18-7-17 1z"/><path fill="#0f7" d="M1810 2225l17-2-18-7-17 2z"/><path fill="#0e7" d="M1845 2230l18-1-18-7-18 1z"/><path fill="#012" d="M2180 2307l17 5-17-7-17-4z"/><path fill="#0f5" d="M1507 2211l18-7-18-7-17 7z"/><path fill="#056" d="M2145 2297l18 4-18-7-17-3z"/><path fill="#0f5" d="M1543 2211l18-6-18-7-18 6z"/><path fill="#087" d="M2110 2288l18 3-18-7-17-3z"/><path fill="#0f5" d="M1579 2212l17-6-18-7-17 6z"/><path fill="#098" d="M2075 2279l18 2-18-6-18-3z"/><path fill="#0f5" d="M1614 2213l18-5-18-7-18 5z"/><path fill="#0b8" d="M2040 2270l17 2-18-6-17-2z"/><path fill="#0f5" d="M1650 2214l17-4-18-7-17 5z"/><path fill="#0c8" d="M2005 2262l17 2-18-7-17-1z"/><path fill="#0f6" d="M1685 2217l18-4-18-7-18 4z"/><path fill="#0c8" d="M1969 2255l18 1-18-7-18-1z"/><path fill="#0f6" d="M1721 2220l17-4-17-7-18 4z"/><path fill="#0d8" d="M1934 2248l17 0-17-6-18 0z"/><path fill="#0f6" d="M1756 2223l18-3-18-7-18 3z"/><path fill="#0e7" d="M1899 2242l17 0-18-7-17 0z"/><path fill="#0f7" d="M1792 2227l18-2-18-7-18 2z"/><path fill="#0e7" d="M1863 2236l18-1-18-6-18 1z"/><path fill="#0f7" d="M1828 2231l17-1-18-7-17 2z"/><path fill="#0f5" d="M1490 2219l17-8-17-7-18 8z"/><path fill="#022" d="M2198 2314l17 4-18-6-17-5z"/><path fill="#066" d="M2163 2304l17 3-17-6-18-4z"/><path fill="#0f5" d="M1525 2218l18-7-18-7-18 7z"/><path fill="#087" d="M2128 2294l17 3-17-6-18-3z"/><path fill="#0f5" d="M1561 2218l18-6-18-7-18 6z"/><path fill="#0a8" d="M2093 2285l17 3-17-7-18-2z"/><path fill="#0f5" d="M1596 2219l18-6-18-7-17 6z"/><path fill="#0b8" d="M2058 2277l17 2-18-7-17-2z"/><path fill="#0f5" d="M1632 2220l18-6-18-6-18 5z"/><path fill="#0c8" d="M2023 2269l17 1-18-6-17-2z"/><path fill="#0f5" d="M1668 2221l17-4-18-7-17 4z"/><path fill="#0f6" d="M1703 2224l18-4-18-7-18 4z"/><path fill="#0d8" d="M1987 2262l18 0-18-6-18-1zM1952 2255l17 0-18-7-17 0z"/><path fill="#0f6" d="M1739 2226l17-3-18-7-17 4z"/><path fill="#0e7" d="M1916 2249l18-1-18-6-17 0z"/><path fill="#0f6" d="M1774 2230l18-3-18-7-18 3z"/><path fill="#0e7" d="M1881 2243l18-1-18-7-18 1z"/><path fill="#0f7" d="M1810 2234l18-3-18-6-18 2zM1845 2238l18-2-18-6-17 1z"/><path fill="#0f5" d="M1472 2227l18-8-18-7-18 8z"/><path fill="#023" d="M2216 2321l17 4-18-7-17-4z"/><path fill="#066" d="M2181 2311l17 3-18-7-17-3z"/><path fill="#0f5" d="M1508 2226l17-8-18-7-17 8z"/><path fill="#088" d="M2146 2301l17 3-18-7-17-3z"/><path fill="#0f5" d="M1543 2225l18-7-18-7-18 7z"/><path fill="#0a8" d="M2111 2292l17 2-18-6-17-3z"/><path fill="#0f5" d="M1579 2225l17-6-17-7-18 6z"/><path fill="#0b8" d="M2076 2284l17 1-18-6-17-2z"/><path fill="#0f5" d="M1614 2226l18-6-18-7-18 6z"/><path fill="#0c8" d="M2041 2276l17 1-18-7-17-1z"/><path fill="#0f5" d="M1650 2227l18-6-18-7-18 6z"/><path fill="#0d8" d="M2005 2269l18 0-18-7-18 0z"/><path fill="#0f5" d="M1686 2228l17-4-18-7-17 4z"/><path fill="#0d8" d="M1970 2262l17 0-18-7-17 0z"/><path fill="#0f5" d="M1721 2231l18-5-18-6-18 4z"/><path fill="#0e7" d="M1934 2256l18-1-18-7-18 1z"/><path fill="#0f6" d="M1757 2233l17-3-18-7-17 3z"/><path fill="#0e7" d="M1899 2250l17-1-17-7-18 1z"/><path fill="#0f6" d="M1792 2237l18-3-18-7-18 3z"/><path fill="#0f7" d="M1863 2245l18-2-18-7-18 2zM1828 2241l17-3-17-7-18 3z"/><path fill="#034" d="M2234 2327l17 4-18-6-17-4z"/><path fill="#0f5" d="M1455 2236l17-9-18-7-17 9z"/><path fill="#067" d="M2199 2317l17 4-18-7-17-3z"/><path fill="#0f5" d="M1490 2234l18-8-18-7-18 8z"/><path fill="#088" d="M2164 2308l17 3-18-7-17-3z"/><path fill="#0f5" d="M1526 2233l17-8-18-7-17 8z"/><path fill="#0a8" d="M2129 2299l17 2-18-7-17-2z"/><path fill="#0f5" d="M1561 2232l18-7-18-7-18 7z"/><path fill="#0b8" d="M2094 2290l17 2-18-7-17-1z"/><path fill="#0f5" d="M1597 2232l17-6-18-7-17 6z"/><path fill="#0c8" d="M2058 2283l18 1-18-7-17-1z"/><path fill="#0f5" d="M1632 2233l18-6-18-7-18 6z"/><path fill="#0d8" d="M2023 2275l18 1-18-7-18 0z"/><path fill="#0f5" d="M1668 2234l18-6-18-7-18 6z"/><path fill="#0d7" d="M1988 2269l17 0-18-7-17 0z"/><path fill="#0f5" d="M1703 2235l18-4-18-7-17 4zM1739 2238l18-5-18-7-18 5z"/><path fill="#0e7" d="M1952 2262l18 0-18-7-18 1zM1917 2257l17-1-18-7-17 1z"/><path fill="#0f6" d="M1775 2240l17-3-18-7-17 3z"/><path fill="#0f7" d="M1881 2252l18-2-18-7-18 2z"/><path fill="#0f6" d="M1810 2244l18-3-18-7-18 3z"/><path fill="#0f7" d="M1846 2247l17-2-18-7-17 3z"/><path fill="#034" d="M2252 2334l17 4-18-7-17-4z"/><path fill="#0f6" d="M1437 2246l18-10-18-7-18 9z"/><path fill="#077" d="M2217 2324l17 3-18-6-17-4z"/><path fill="#0f5" d="M1473 2243l17-9-18-7-17 9z"/><path fill="#098" d="M2182 2315l17 2-18-6-17-3z"/><path fill="#0f5" d="M1508 2242l18-9-18-7-18 8z"/><path fill="#0a8" d="M2147 2306l17 2-18-7-17-2z"/><path fill="#0f5" d="M1544 2240l17-8-18-7-17 8z"/><path fill="#0b8" d="M2112 2297l17 2-18-7-17-2z"/><path fill="#0f5" d="M1579 2240l18-8-18-7-18 7z"/><path fill="#0c8" d="M2076 2289l18 1-18-6-18-1z"/><path fill="#0f5" d="M1615 2239l17-6-18-7-17 6z"/><path fill="#0d8" d="M2041 2282l17 1-17-7-18-1z"/><path fill="#0f5" d="M1650 2240l18-6-18-7-18 6z"/><path fill="#0e7" d="M2006 2275l17 0-18-6-17 0z"/><path fill="#0f5" d="M1686 2241l17-6-17-7-18 6z"/><path fill="#0e7" d="M1970 2269l18 0-18-7-18 0z"/><path fill="#0f5" d="M1721 2242l18-4-18-7-18 4z"/><path fill="#0e7" d="M1935 2264l17-2-18-6-17 1z"/><path fill="#0f5" d="M1757 2245l18-5-18-7-18 5z"/><path fill="#0f7" d="M1899 2259l18-2-18-7-18 2z"/><path fill="#0f6" d="M1793 2247l17-3-18-7-17 3zM1864 2254l17-2-18-7-17 2zM1828 2251l18-4-18-6-18 3z"/><path fill="#045" d="M2270 2341l17 4-18-7-17-4z"/><path fill="#0f6" d="M1420 2256l17-10-18-8-17 11z"/><path fill="#077" d="M2235 2331l17 3-18-7-17-3z"/><path fill="#0f6" d="M1455 2253l18-10-18-7-18 10z"/><path fill="#098" d="M2200 2321l17 3-18-7-17-2z"/><path fill="#0f5" d="M1491 2251l17-9-18-8-17 9z"/><path fill="#0a8" d="M2165 2312l17 3-18-7-17-2z"/><path fill="#0f5" d="M1526 2249l18-9-18-7-18 9z"/><path fill="#0b8" d="M2129 2304l18 2-18-7-17-2z"/><path fill="#0f5" d="M1562 2248l17-8-18-8-17 8z"/><path fill="#0c8" d="M2094 2296l18 1-18-7-18-1z"/><path fill="#0f5" d="M1597 2247l18-8-18-7-18 8z"/><path fill="#0d8" d="M2059 2289l17 0-18-6-17-1z"/><path fill="#0f5" d="M1633 2247l17-7-18-7-17 6z"/><path fill="#0e7" d="M2024 2282l17 0-18-7-17 0z"/><path fill="#0f5" d="M1668 2247l18-6-18-7-18 6z"/><path fill="#0e7" d="M1988 2276l18-1-18-6-18 0z"/><path fill="#0f5" d="M1704 2248l17-6-18-7-17 6z"/><path fill="#0f7" d="M1953 2271l17-2-18-7-17 2z"/><path fill="#0f5" d="M1739 2249l18-4-18-7-18 4z"/><path fill="#0f7" d="M1917 2266l18-2-18-7-18 2z"/><path fill="#0f5" d="M1775 2252l18-5-18-7-18 5z"/><path fill="#0f6" d="M1882 2261l17-2-18-7-17 2z"/><path fill="#0f5" d="M1811 2254l17-3-18-7-17 3z"/><path fill="#0f6" d="M1846 2258l18-4-18-7-18 4z"/><path fill="#045" d="M2287 2348l17 3-17-6-17-4z"/><path fill="#0f6" d="M1402 2267l18-11-18-7-17 11zM1438 2264l17-11-18-7-17 10z"/><path fill="#078" d="M2253 2338l17 3-18-7-17-3z"/><path fill="#098" d="M2218 2328l17 3-18-7-17-3z"/><path fill="#0f6" d="M1473 2261l18-10-18-8-18 10z"/><path fill="#0b8" d="M2182 2319l18 2-18-6-17-3z"/><path fill="#0f5" d="M1509 2258l17-9-18-7-17 9z"/><path fill="#0c8" d="M2147 2311l18 1-18-6-18-2z"/><path fill="#0f5" d="M1544 2256l18-8-18-8-18 9z"/><path fill="#0c8" d="M2112 2303l17 1-17-7-18-1z"/><path fill="#0f5" d="M1579 2255l18-8-18-7-17 8zM1615 2254l18-7-18-8-18 8z"/><path fill="#0d8" d="M2077 2296l17 0-18-7-17 0z"/><path fill="#0e7" d="M2041 2289l18 0-18-7-17 0z"/><path fill="#0f5" d="M1651 2254l17-7-18-7-17 7z"/><path fill="#0e7" d="M2006 2283l18-1-18-7-18 1z"/><path fill="#0f5" d="M1686 2254l18-6-18-7-18 6z"/><path fill="#0f7" d="M1971 2278l17-2-18-7-17 2z"/><path fill="#0f5" d="M1722 2255l17-6-18-7-17 6zM1757 2257l18-5-18-7-18 4z"/><path fill="#0f7" d="M1935 2273l18-2-18-7-18 2z"/><path fill="#0f5" d="M1793 2259l18-5-18-7-18 5z"/><path fill="#0f6" d="M1900 2268l17-2-18-7-17 2zM1864 2265l18-4-18-7-18 4z"/><path fill="#0f5" d="M1828 2261l18-3-18-7-17 3z"/><path fill="#056" d="M2305 2354l17 4-18-7-17-3z"/><path fill="#0f7" d="M1385 2279l17-12-17-7-18 12z"/><path fill="#088" d="M2270 2344l17 4-17-7-17-3z"/><path fill="#0f6" d="M1420 2275l18-11-18-8-18 11z"/><path fill="#098" d="M2235 2335l18 3-18-7-17-3z"/><path fill="#0f6" d="M1456 2271l17-10-18-8-17 11z"/><path fill="#0b8" d="M2200 2326l18 2-18-7-18-2z"/><path fill="#0f5" d="M1491 2268l18-10-18-7-18 10zM1526 2266l18-10-18-7-17 9z"/><path fill="#0c8" d="M2165 2318l17 1-17-7-18-1z"/><path fill="#0f5" d="M1562 2264l17-9-17-7-18 8z"/><path fill="#0d8" d="M2130 2310l17 1-18-7-17-1zM2095 2303l17 0-18-7-17 0z"/><path fill="#0f5" d="M1597 2262l18-8-18-7-18 8z"/><path fill="#0e7" d="M2059 2296l18 0-18-7-18 0z"/><path fill="#0f5" d="M1633 2261l18-7-18-7-18 7z"/><path fill="#0e7" d="M2024 2290l17-1-17-7-18 1z"/><path fill="#0f4" d="M1668 2261l18-7-18-7-17 7z"/><path fill="#0f7" d="M1989 2285l17-2-18-7-17 2z"/><path fill="#0f4" d="M1704 2261l18-6-18-7-18 6z"/><path fill="#0f7" d="M1953 2280l18-2-18-7-18 2z"/><path fill="#0f5" d="M1740 2262l17-5-18-8-17 6z"/><path fill="#0f6" d="M1918 2275l17-2-18-7-17 2z"/><path fill="#0f5" d="M1775 2264l18-5-18-7-18 5z"/><path fill="#0f7" d="M1368 2292l17-13-18-7-17 12z"/><path fill="#056" d="M2323 2361l17 4-18-7-17-4z"/><path fill="#0f6" d="M1882 2272l18-4-18-7-18 4z"/><path fill="#0f5" d="M1811 2266l17-5-17-7-18 5zM1846 2268l18-3-18-7-18 3z"/><path fill="#088" d="M2288 2351l17 3-18-6-17-4z"/><path fill="#0f7" d="M1403 2287l17-12-18-8-17 12z"/><path fill="#0f6" d="M1438 2283l18-12-18-7-18 11z"/><path fill="#0a8" d="M2253 2342l17 2-17-6-18-3z"/><path fill="#0b8" d="M2218 2333l17 2-17-7-18-2z"/><path fill="#0f6" d="M1474 2279l17-11-18-7-17 10z"/><path fill="#0c8" d="M2183 2325l17 1-18-7-17-1z"/><path fill="#0f5" d="M1509 2276l17-10-17-8-18 10z"/><path fill="#0d8" d="M2148 2317l17 1-18-7-17-1z"/><path fill="#0f5" d="M1544 2273l18-9-18-8-18 10z"/><path fill="#0d8" d="M2113 2310l17 0-18-7-17 0z"/><path fill="#0f5" d="M1580 2271l17-9-18-7-17 9z"/><path fill="#0e7" d="M2077 2303l18 0-18-7-18 0z"/><path fill="#0f5" d="M1615 2270l18-9-18-7-18 8z"/><path fill="#0e7" d="M2042 2297l17-1-18-7-17 1z"/><path fill="#0f4" d="M1651 2269l17-8-17-7-18 7z"/><path fill="#0f7" d="M2006 2292l18-2-18-7-17 2z"/><path fill="#0f4" d="M1686 2268l18-7-18-7-18 7z"/><path fill="#066" d="M2341 2368l17 4-18-7-17-4z"/><path fill="#0f7" d="M1351 2305l17-13-18-8-17 13z"/><path fill="#0f4" d="M1722 2269l18-7-18-7-18 6z"/><path fill="#0f7" d="M1971 2287l18-2-18-7-18 2z"/><path fill="#0f6" d="M1935 2282l18-2-18-7-17 2z"/><path fill="#0f5" d="M1758 2270l17-6-18-7-17 5z"/><path fill="#0f6" d="M1900 2279l18-4-18-7-18 4z"/><path fill="#0f5" d="M1793 2271l18-5-18-7-18 5zM1864 2276l18-4-18-7-18 3zM1829 2273l17-5-18-7-17 5z"/><path fill="#088" d="M2306 2358l17 3-18-7-17-3z"/><path fill="#0f7" d="M1386 2300l17-13-18-8-17 13zM1421 2295l17-12-18-8-17 12z"/><path fill="#0a9" d="M2271 2349l17 2-18-7-17-2z"/><path fill="#0b8" d="M2236 2340l17 2-18-7-17-2z"/><path fill="#0f6" d="M1456 2290l18-11-18-8-18 12z"/><path fill="#0c8" d="M2201 2332l17 1-18-7-17-1z"/><path fill="#0f6" d="M1491 2286l18-10-18-8-17 11z"/><path fill="#0d8" d="M2166 2324l17 1-18-7-17-1z"/><path fill="#0f5" d="M1527 2283l17-10-18-7-17 10z"/><path fill="#0d8" d="M2131 2317l17 0-18-7-17 0z"/><path fill="#0f5" d="M1562 2281l18-10-18-7-18 9z"/><path fill="#0e7" d="M2095 2310l18 0-18-7-18 0z"/><path fill="#0f5" d="M1598 2279l17-9-18-8-17 9z"/><path fill="#0e7" d="M2060 2304l17-1-18-7-17 1z"/><path fill="#0f4" d="M1633 2277l18-8-18-8-18 9z"/><path fill="#067" d="M2359 2375l17 4-18-7-17-4z"/><path fill="#0e8" d="M1333 2319l18-14-18-8-17 14z"/><path fill="#0f7" d="M2024 2299l18-2-18-7-18 2z"/><path fill="#0f4" d="M1669 2276l17-8-18-7-17 8z"/><path fill="#0f7" d="M1989 2294l17-2-17-7-18 2z"/><path fill="#0f4" d="M1704 2276l18-7-18-8-18 7z"/><path fill="#0f6" d="M1953 2290l18-3-18-7-18 2z"/><path fill="#0f4" d="M1740 2276l18-6-18-8-18 7z"/><path fill="#0f6" d="M1918 2286l17-4-17-7-18 4z"/><path fill="#0f4" d="M1776 2277l17-6-18-7-17 6z"/><path fill="#088" d="M2324 2365l17 3-18-7-17-3z"/><path fill="#0f7" d="M1368 2313l18-13-18-8-17 13z"/><path fill="#0f5" d="M1882 2283l18-4-18-7-18 4zM1811 2278l18-5-18-7-18 5zM1847 2280l17-4-18-8-17 5z"/><path fill="#0a9" d="M2289 2356l17 2-18-7-17-2z"/><path fill="#0f7" d="M1404 2307l17-12-18-8-17 13z"/><path fill="#0b8" d="M2254 2347l17 2-18-7-17-2z"/><path fill="#0f7" d="M1439 2302l17-12-18-7-17 12z"/><path fill="#0c8" d="M2219 2339l17 1-18-7-17-1z"/><path fill="#0f6" d="M1474 2298l17-12-17-7-18 11z"/><path fill="#0d8" d="M2184 2331l17 1-18-7-17-1z"/><path fill="#0f6" d="M1509 2294l18-11-18-7-18 10z"/><path fill="#0d8" d="M2148 2324l18 0-18-7-17 0z"/><path fill="#0f5" d="M1545 2291l17-10-18-8-17 10z"/><path fill="#0e7" d="M2113 2317l18 0-18-7-18 0z"/><path fill="#0f5" d="M1580 2288l18-9-18-8-18 10z"/><path fill="#0e8" d="M1316 2334l17-15-17-8-18 15z"/><path fill="#067" d="M2377 2382l16 4-17-7-17-4z"/><path fill="#0e7" d="M2078 2311l17-1-18-7-17 1z"/><path fill="#0f5" d="M1616 2286l17-9-18-7-17 9z"/><path fill="#0f7" d="M2042 2306l18-2-18-7-18 2z"/><path fill="#0f4" d="M1651 2285l18-9-18-7-18 8zM1687 2284l17-8-18-8-17 8z"/><path fill="#0f7" d="M2007 2301l17-2-18-7-17 2z"/><path fill="#099" d="M2342 2372l17 3-18-7-17-3z"/><path fill="#0e8" d="M1351 2327l17-14-17-8-18 14z"/><path fill="#0f6" d="M1971 2297l18-3-18-7-18 3z"/><path fill="#0f4" d="M1722 2283l18-7-18-7-18 7z"/><path fill="#0f6" d="M1936 2293l17-3-18-8-17 4z"/><path fill="#0f4" d="M1758 2283l18-6-18-7-18 6z"/><path fill="#0f5" d="M1900 2290l18-4-18-7-18 4z"/><path fill="#0f4" d="M1794 2284l17-6-18-7-17 6z"/><path fill="#0f5" d="M1865 2287l17-4-18-7-17 4zM1829 2286l18-6-18-7-18 5z"/><path fill="#0a9" d="M2307 2363l17 2-18-7-17-2z"/><path fill="#0f7" d="M1386 2321l18-14-18-7-18 13z"/><path fill="#0b9" d="M2272 2354l17 2-18-7-17-2z"/><path fill="#0f7" d="M1421 2315l18-13-18-7-17 12z"/><path fill="#0c8" d="M2237 2346l17 1-18-7-17-1z"/><path fill="#0f7" d="M1457 2310l17-12-18-8-17 12z"/><path fill="#0d8" d="M2202 2338l17 1-18-7-17-1z"/><path fill="#0f6" d="M1492 2306l17-12-18-8-17 12z"/><path fill="#0e8" d="M2166 2331l18 0-18-7-18 0z"/><path fill="#0f6" d="M1527 2302l18-11-18-8-18 11z"/><path fill="#0e8" d="M2131 2324l17 0-17-7-18 0z"/><path fill="#0f5" d="M1563 2298l17-10-18-7-17 10z"/><path fill="#077" d="M2394 2389l17 4-18-7-16-4z"/><path fill="#0e9" d="M1299 2349l17-15-18-8-17 15z"/><path fill="#0e7" d="M2096 2318l17-1-18-7-17 1z"/><path fill="#0f5" d="M1598 2296l18-10-18-7-18 9z"/><path fill="#0f7" d="M2060 2313l18-2-18-7-18 2z"/><path fill="#0f5" d="M1634 2294l17-9-18-8-17 9z"/><path fill="#099" d="M2360 2379l17 3-18-7-17-3z"/><path fill="#0e8" d="M1334 2342l17-15-18-8-17 15z"/><path fill="#0f6" d="M2025 2308l17-2-18-7-17 2z"/><path fill="#0f4" d="M1669 2292l18-8-18-8-18 9z"/><path fill="#0f6" d="M1989 2304l18-3-18-7-18 3z"/><path fill="#0f4" d="M1705 2291l17-8-18-7-17 8z"/><path fill="#0f5" d="M1954 2300l17-3-18-7-17 3z"/><path fill="#0f4" d="M1740 2291l18-8-18-7-18 7z"/><path fill="#0f5" d="M1918 2297l18-4-18-7-18 4z"/><path fill="#0f4" d="M1776 2291l18-7-18-7-18 6z"/><path fill="#0a9" d="M2325 2370l17 2-18-7-17-2z"/><path fill="#0e8" d="M1369 2335l17-14-18-8-17 14z"/><path fill="#0f5" d="M1883 2295l17-5-18-7-17 4z"/><path fill="#0f4" d="M1811 2292l18-6-18-8-17 6z"/><path fill="#0f5" d="M1847 2293l18-6-18-7-18 6z"/><path fill="#0f7" d="M1404 2329l17-14-17-8-18 14z"/><path fill="#0b9" d="M2290 2361l17 2-18-7-17-2z"/><path fill="#0c8" d="M2255 2353l17 1-18-7-17-1z"/><path fill="#0f7" d="M1439 2323l18-13-18-8-18 13z"/><path fill="#0d8" d="M2220 2345l17 1-18-7-17-1z"/><path fill="#0f7" d="M1475 2318l17-12-18-8-17 12z"/><path fill="#0f6" d="M1510 2313l17-11-18-8-17 12z"/><path fill="#0e8" d="M2184 2338l18 0-18-7-18 0z"/><path fill="#078" d="M2412 2396l17 4-18-7-17-4z"/><path fill="#0ea" d="M1282 2365l17-16-18-8-17 16z"/><path fill="#0e8" d="M2149 2332l17-1-18-7-17 0z"/><path fill="#0f6" d="M1545 2309l18-11-18-7-18 11z"/><path fill="#0f7" d="M2114 2326l17-2-18-7-17 1z"/><path fill="#0f5" d="M1581 2306l17-10-18-8-17 10z"/><path fill="#099" d="M2377 2386l17 3-17-7-17-3z"/><path fill="#0e9" d="M1317 2357l17-15-18-8-17 15z"/><path fill="#0f7" d="M2078 2320l18-2-18-7-18 2z"/><path fill="#0f5" d="M1616 2303l18-9-18-8-18 10z"/><path fill="#0f6" d="M2043 2315l17-2-18-7-17 2z"/><path fill="#0f5" d="M1652 2301l17-9-18-7-17 9z"/><path fill="#0f6" d="M2007 2311l18-3-18-7-18 3z"/><path fill="#0f4" d="M1687 2300l18-9-18-7-18 8z"/><path fill="#0a9" d="M2343 2377l17 2-18-7-17-2z"/><path fill="#0e8" d="M1352 2350l17-15-18-8-17 15z"/><path fill="#0f5" d="M1972 2308l17-4-18-7-17 3z"/><path fill="#0f4" d="M1723 2299l17-8-18-8-17 8z"/><path fill="#0f5" d="M1936 2305l18-5-18-7-18 4z"/><path fill="#0f4" d="M1758 2298l18-7-18-8-18 8z"/><path fill="#0f5" d="M1901 2302l17-5-18-7-17 5z"/><path fill="#0f4" d="M1794 2298l17-6-17-8-18 7zM1829 2299l18-6-18-7-18 6zM1865 2300l18-5-18-8-18 6z"/><path fill="#0c9" d="M2308 2368l17 2-18-7-17-2z"/><path fill="#0e8" d="M1387 2343l17-14-18-8-17 14z"/><path fill="#0c8" d="M2273 2360l17 1-18-7-17-1z"/><path fill="#0f7" d="M1422 2337l17-14-18-8-17 14z"/><path fill="#0d8" d="M2237 2352l18 1-18-7-17-1z"/><path fill="#0f7" d="M1457 2331l18-13-18-8-18 13z"/><path fill="#0e8" d="M2202 2345l18 0-18-7-18 0z"/><path fill="#0f6" d="M1492 2326l18-13-18-7-17 12z"/><path fill="#078" d="M2430 2403l17 4-18-7-17-4z"/><path fill="#0eb" d="M1265 2382l17-17-18-8-17 17z"/><path fill="#0e8" d="M2167 2339l17-1-18-7-17 1z"/><path fill="#0f6" d="M1528 2321l17-12-18-7-17 11z"/><path fill="#0f7" d="M2132 2333l17-1-18-8-17 2z"/><path fill="#0f5" d="M1563 2317l18-11-18-8-18 11z"/><path fill="#099" d="M2395 2394l17 2-18-7-17-3z"/><path fill="#0ea" d="M1300 2374l17-17-18-8-17 16z"/><path fill="#0f7" d="M2096 2327l18-1-18-8-18 2z"/><path fill="#0f5" d="M1598 2314l18-11-18-7-17 10z"/><path fill="#0f6" d="M2061 2323l17-3-18-7-17 2z"/><path fill="#0f5" d="M1634 2311l18-10-18-7-18 9z"/><path fill="#0b9" d="M2360 2384l17 2-17-7-17-2z"/><path fill="#0e9" d="M1335 2365l17-15-18-8-17 15z"/><path fill="#0f6" d="M2025 2319l18-4-18-7-18 3z"/><path fill="#0f4" d="M1669 2309l18-9-18-8-17 9z"/><path fill="#0f5" d="M1990 2315l17-4-18-7-17 4z"/><path fill="#0f4" d="M1705 2307l18-8-18-8-18 9z"/><path fill="#0f5" d="M1954 2312l18-4-18-8-18 5z"/><path fill="#0f4" d="M1741 2306l17-8-18-7-17 8z"/><path fill="#0f5" d="M1919 2310l17-5-18-8-17 5z"/><path fill="#0f4" d="M1776 2306l18-8-18-7-18 7zM1812 2306l17-7-18-7-17 6zM1883 2308l18-6-18-7-18 5z"/><path fill="#0c9" d="M2326 2375l17 2-18-7-17-2z"/><path fill="#0e8" d="M1370 2358l17-15-18-8-17 15z"/><path fill="#0f4" d="M1847 2306l18-6-18-7-18 6z"/><path fill="#0d9" d="M2290 2367l18 1-18-7-17-1z"/><path fill="#0e8" d="M1405 2351l17-14-18-8-17 14z"/><path fill="#0d8" d="M2255 2360l18 0-18-7-18-1z"/><path fill="#0f7" d="M1440 2345l17-14-18-8-17 14z"/><path fill="#0e8" d="M2220 2352l17 0-17-7-18 0z"/><path fill="#0f7" d="M1475 2339l17-13-17-8-18 13z"/><path fill="#078" d="M2448 2411l17 3-18-7-17-4z"/><path fill="#0ec" d="M1248 2400l17-18-18-8-16 17z"/><path fill="#0e8" d="M2185 2346l17-1-18-7-17 1z"/><path fill="#0f6" d="M1510 2334l18-13-18-8-18 13z"/><path fill="#099" d="M2413 2401l17 2-18-7-17-2z"/><path fill="#0eb" d="M1283 2391l17-17-18-9-17 17z"/><path fill="#0f7" d="M2150 2340l17-1-18-7-17 1z"/><path fill="#0f6" d="M1546 2329l17-12-18-8-17 12z"/><path fill="#0f7" d="M2114 2335l18-2-18-7-18 1z"/><path fill="#0f5" d="M1581 2325l17-11-17-8-18 11z"/><path fill="#0b9" d="M2378 2391l17 3-18-8-17-2z"/><path fill="#0ea" d="M1318 2382l17-17-18-8-17 17z"/><path fill="#0f5" d="M1616 2322l18-11-18-8-18 11z"/><path fill="#0f6" d="M2079 2330l17-3-18-7-17 3zM2043 2326l18-3-18-8-18 4z"/><path fill="#0f5" d="M1652 2319l17-10-17-8-18 10z"/><path fill="#0f4" d="M1687 2317l18-10-18-7-18 9z"/><path fill="#0f5" d="M2008 2322l17-3-18-8-17 4z"/><path fill="#0c9" d="M2343 2383l17 1-17-7-17-2z"/><path fill="#0e9" d="M1353 2374l17-16-18-8-17 15z"/><path fill="#0f5" d="M1972 2319l18-4-18-7-18 4z"/><path fill="#0f4" d="M1723 2315l18-9-18-7-18 8z"/><path fill="#0f5" d="M1937 2317l17-5-18-7-17 5z"/><path fill="#0f4" d="M1759 2314l17-8-18-8-17 8zM1794 2313l18-7-18-8-18 8zM1901 2315l18-5-18-8-18 6zM1865 2314l18-6-18-8-18 6zM1830 2313l17-7-18-7-17 7z"/><path fill="#0d9" d="M2308 2374l18 1-18-7-18-1z"/><path fill="#0e8" d="M1388 2366l17-15-18-8-17 15z"/><path fill="#0d8" d="M2273 2367l17 0-17-7-18 0z"/><path fill="#0f8" d="M1423 2359l17-14-18-8-17 14z"/><path fill="#089" d="M2466 2418l16 3-17-7-17-3z"/><path fill="#0ee" d="M1232 2418l16-18-17-9-17 19z"/><path fill="#0e8" d="M2238 2360l17 0-18-8-17 0z"/><path fill="#0f7" d="M1458 2353l17-14-18-8-17 14z"/><path fill="#0e8" d="M2203 2353l17-1-18-7-17 1z"/><path fill="#0f7" d="M1493 2347l17-13-18-8-17 13z"/><path fill="#0aa" d="M2431 2408l17 3-18-8-17-2z"/><path fill="#0ec" d="M1266 2408l17-17-18-9-17 18z"/><path fill="#0f7" d="M2167 2347l18-1-18-7-17 1z"/><path fill="#0f6" d="M1528 2342l18-13-18-8-18 13z"/><path fill="#0f7" d="M2132 2342l18-2-18-7-18 2z"/><path fill="#0f6" d="M1564 2337l17-12-18-8-17 12z"/><path fill="#0b9" d="M2396 2399l17 2-18-7-17-3z"/><path fill="#0eb" d="M1301 2399l17-17-18-8-17 17z"/><path fill="#0f6" d="M2097 2337l17-2-18-8-17 3z"/><path fill="#0f5" d="M1599 2333l17-11-18-8-17 11z"/><path fill="#0f6" d="M2061 2333l18-3-18-7-18 3z"/><path fill="#0f5" d="M1634 2329l18-10-18-8-18 11z"/><path fill="#0c9" d="M2361 2390l17 1-18-7-17-1z"/><path fill="#0ea" d="M1336 2390l17-16-18-9-17 17z"/><path fill="#0f5" d="M2026 2330l17-4-18-7-17 3zM1670 2327l17-10-18-8-17 10zM1990 2327l18-5-18-7-18 4z"/><path fill="#0f4" d="M1705 2324l18-9-18-8-18 10z"/><path fill="#0f5" d="M1955 2324l17-5-18-7-17 5z"/><path fill="#0f4" d="M1741 2322l18-8-18-8-18 9zM1919 2323l18-6-18-7-18 5zM1776 2321l18-8-18-7-17 8zM1883 2321l18-6-18-7-18 6zM1812 2321l18-8-18-7-18 7zM1848 2321l17-7-18-8-17 7z"/><path fill="#0d9" d="M2326 2382l17 1-17-8-18-1z"/><path fill="#0e9" d="M1370 2382l18-16-18-8-17 16z"/><path fill="#0d8" d="M2291 2374l17 0-18-7-17 0z"/><path fill="#0e8" d="M1405 2374l18-15-18-8-17 15z"/><path fill="#089" d="M2484 2425l16 3-18-7-16-3z"/><path fill="#0df" d="M1215 2437l17-19-18-8-17 19z"/><path fill="#0e8" d="M2256 2367l17 0-18-7-17 0z"/><path fill="#0f8" d="M1440 2367l18-14-18-8-17 14z"/><path fill="#0e8" d="M2221 2361l17-1-18-8-17 1z"/><path fill="#0f7" d="M1476 2361l17-14-18-8-17 14z"/><path fill="#0aa" d="M2449 2415l17 3-18-7-17-3z"/><path fill="#0ee" d="M1249 2427l17-19-18-8-16 18z"/><path fill="#0f7" d="M1511 2355l17-13-18-8-17 13zM2185 2355l18-2-18-7-18 1z"/><path fill="#0b9" d="M2414 2406l17 2-18-7-17-2z"/><path fill="#0ec" d="M1284 2417l17-18-18-8-17 17z"/><path fill="#0f7" d="M2150 2350l17-3-17-7-18 2z"/><path fill="#0f6" d="M1546 2350l18-13-18-8-18 13zM2115 2345l17-3-18-7-17 2zM1581 2345l18-12-18-8-17 12zM2079 2341l18-4-18-7-18 3z"/><path fill="#0f5" d="M1617 2341l17-12-18-7-17 11z"/><path fill="#0c9" d="M2379 2397l17 2-18-8-17-1z"/><path fill="#0eb" d="M1319 2407l17-17-18-8-17 17z"/><path fill="#0f5" d="M2044 2337l17-4-18-7-17 4zM1652 2337l18-10-18-8-18 10zM2008 2334l18-4-18-8-18 5zM1688 2334l17-10-18-7-17 10z"/><path fill="#0d9" d="M2344 2389l17 1-18-7-17-1z"/><path fill="#0ea" d="M1353 2399l17-17-17-8-17 16z"/><path fill="#0f5" d="M1972 2332l18-5-18-8-17 5z"/><path fill="#0f4" d="M1723 2332l18-10-18-7-18 9zM1937 2330l18-6-18-7-18 6zM1759 2330l17-9-17-7-18 8zM1901 2329l18-6-18-8-18 6zM1794 2329l18-8-18-8-18 8zM1866 2328l17-7-18-7-17 7zM1830 2328l18-7-18-8-18 8z"/><path fill="#0e9" d="M1388 2390l17-16-17-8-18 16z"/><path fill="#0d8" d="M2309 2381l17 1-18-8-17 0z"/><path fill="#089" d="M2501 2432l17 4-18-8-16-3z"/><path fill="#0bf" d="M1198 2457l17-20-18-8-16 19z"/><path fill="#0e8" d="M2274 2374l17 0-18-7-17 0zM1423 2383l17-16-17-8-18 15z"/><path fill="#0aa" d="M2467 2423l17 2-18-7-17-3z"/><path fill="#0df" d="M1233 2446l16-19-17-9-17 19z"/><path fill="#0e8" d="M2239 2368l17-1-18-7-17 1z"/><path fill="#0f8" d="M1458 2375l18-14-18-8-18 14z"/><path fill="#0f7" d="M1493 2369l18-14-18-8-17 14zM2203 2362l18-1-18-8-18 2z"/><path fill="#0ed" d="M1267 2435l17-18-18-9-17 19z"/><path fill="#0ba" d="M2432 2413l17 2-18-7-17-2z"/><path fill="#0f7" d="M2168 2357l17-2-18-8-17 3zM1529 2363l17-13-18-8-17 13z"/><path fill="#0f6" d="M2133 2352l17-2-18-8-17 3zM1564 2358l17-13-17-8-18 13z"/><path fill="#0c9" d="M2397 2405l17 1-18-7-17-2z"/><path fill="#0ec" d="M1302 2425l17-18-18-8-17 18z"/><path fill="#0f6" d="M2097 2348l18-3-18-8-18 4zM1599 2353l18-12-18-8-18 12z"/><path fill="#0f5" d="M2062 2345l17-4-18-8-17 4zM1635 2349l17-12-18-8-17 12z"/><path fill="#0d9" d="M2362 2396l17 1-18-7-17-1z"/><path fill="#0ea" d="M1336 2416l17-17-17-9-17 17z"/><path fill="#0f5" d="M2026 2342l18-5-18-7-18 4zM1670 2345l18-11-18-7-18 10zM1990 2339l18-5-18-7-18 5zM1706 2342l17-10-18-8-17 10z"/><path fill="#0f4" d="M1955 2338l17-6-17-8-18 6zM1741 2340l18-10-18-8-18 10zM1919 2337l18-7-18-7-18 6zM1777 2338l17-9-18-8-17 9zM1812 2337l18-9-18-7-18 8zM1884 2336l17-7-18-8-17 7zM1848 2336l18-8-18-7-18 7z"/><path fill="#0d8" d="M2327 2389l17 0-18-7-17-1z"/><path fill="#0ea" d="M1371 2407l17-17-18-8-17 17z"/><path fill="#089" d="M2519 2440l17 3-18-7-17-4z"/><path fill="#0af" d="M1182 2478l16-21-17-9-17 21z"/><path fill="#0e8" d="M2292 2382l17-1-18-7-17 0z"/><path fill="#0e9" d="M1406 2399l17-16-18-9-17 16z"/><path fill="#0aa" d="M2484 2430l17 2-17-7-17-2z"/><path fill="#0bf" d="M1216 2466l17-20-18-9-17 20z"/><path fill="#0e8" d="M2257 2375l17-1-18-7-17 1zM1441 2391l17-16-18-8-17 16z"/><path fill="#0f7" d="M2221 2370l18-2-18-7-18 1z"/><path fill="#0f8" d="M1476 2384l17-15-17-8-18 14z"/><path fill="#0ba" d="M2450 2421l17 2-18-8-17-2z"/><path fill="#0df" d="M1250 2455l17-20-18-8-16 19z"/><path fill="#0f7" d="M2186 2364l17-2-18-7-17 2zM1511 2377l18-14-18-8-18 14zM1547 2371l17-13-18-8-17 13z"/><path fill="#0f6" d="M2150 2360l18-3-18-7-17 2z"/><path fill="#0ed" d="M1285 2444l17-19-18-8-17 18z"/><path fill="#0c9" d="M2415 2412l17 1-18-7-17-1z"/><path fill="#0f6" d="M1582 2366l17-13-18-8-17 13zM2115 2356l18-4-18-7-18 3z"/><path fill="#0f5" d="M2080 2352l17-4-18-7-17 4z"/><path fill="#0f6" d="M1617 2361l18-12-18-8-18 12z"/><path fill="#0d9" d="M2380 2404l17 1-18-8-17-1z"/><path fill="#0ec" d="M1319 2434l17-18-17-9-17 18z"/><path fill="#0f5" d="M2044 2349l18-4-18-8-18 5zM1653 2357l17-12-18-8-17 12zM2008 2347l18-5-18-8-18 5zM1688 2353l18-11-18-8-18 11z"/><path fill="#0f4" d="M1973 2345l17-6-18-7-17 6z"/><path fill="#0f5" d="M1724 2350l17-10-18-8-17 10z"/><path fill="#0e8" d="M2345 2396l17 0-18-7-17 0z"/><path fill="#0ea" d="M1354 2424l17-17-18-8-17 17z"/><path fill="#09a" d="M2537 2447l17 3-18-7-17-3z"/><path fill="#08f" d="M1165 2499l17-21-18-9-16 21z"/><path fill="#0f4" d="M1937 2344l18-6-18-8-18 7zM1759 2348l18-10-18-8-18 10zM1902 2344l17-7-18-8-17 7zM1795 2346l17-9-18-8-17 9zM1866 2344l18-8-18-8-18 8zM1830 2345l18-9-18-8-18 9z"/><path fill="#0e8" d="M2310 2389l17 0-18-8-17 1z"/><path fill="#0ea" d="M1389 2415l17-16-18-9-17 17z"/><path fill="#0aa" d="M2502 2437l17 3-18-8-17-2z"/><path fill="#0af" d="M1199 2487l17-21-18-9-16 21z"/><path fill="#0f8" d="M2274 2383l18-1-18-8-17 1z"/><path fill="#0e9" d="M1424 2407l17-16-18-8-17 16z"/><path fill="#0ba" d="M2468 2428l16 2-17-7-17-2z"/><path fill="#0bf" d="M1234 2475l16-20-17-9-17 20z"/><path fill="#0f7" d="M2239 2377l18-2-18-7-18 2z"/><path fill="#0e8" d="M1459 2399l17-15-18-9-17 16z"/><path fill="#0f7" d="M2204 2372l17-2-18-8-17 2z"/><path fill="#0f8" d="M1494 2392l17-15-18-8-17 15z"/><path fill="#0c9" d="M2433 2419l17 2-18-8-17-1z"/><path fill="#0df" d="M1268 2463l17-19-18-9-17 20z"/><path fill="#0f6" d="M2168 2367l18-3-18-7-18 3z"/><path fill="#0f7" d="M1529 2385l18-14-18-8-18 14z"/><path fill="#0f6" d="M2133 2363l17-3-17-8-18 4z"/><path fill="#0f7" d="M1564 2379l18-13-18-8-17 13z"/><path fill="#0d9" d="M2398 2411l17 1-18-7-17-1z"/><path fill="#0ed" d="M1303 2453l16-19-17-9-17 19z"/><path fill="#0f5" d="M2097 2360l18-4-18-8-17 4z"/><path fill="#0f6" d="M1600 2374l17-13-18-8-17 13z"/><path fill="#0f5" d="M2062 2357l18-5-18-7-18 4z"/><path fill="#0f6" d="M1635 2369l18-12-18-8-18 12z"/><path fill="#0e8" d="M2363 2404l17 0-18-8-17 0z"/><path fill="#0ec" d="M1337 2443l17-19-18-8-17 18z"/><path fill="#0f5" d="M2026 2355l18-6-18-7-18 5zM1671 2365l17-12-18-8-17 12z"/><path fill="#0f4" d="M1991 2353l17-6-18-8-17 6z"/><path fill="#0f5" d="M1706 2361l18-11-18-8-18 11z"/><path fill="#0f4" d="M1955 2352l18-7-18-7-18 6z"/><path fill="#0f5" d="M1742 2358l17-10-18-8-17 10z"/><path fill="#0f4" d="M1920 2352l17-8-18-7-17 7zM1777 2356l18-10-18-8-18 10zM1813 2354l17-9-18-8-17 9zM1884 2352l18-8-18-8-18 8zM1848 2352l18-8-18-8-18 9z"/><path fill="#0e8" d="M2328 2397l17-1-18-7-17 0z"/><path fill="#0ea" d="M1372 2433l17-18-18-8-17 17z"/><path fill="#0aa" d="M2520 2445l17 2-18-7-17-3z"/><path fill="#08f" d="M1183 2508l16-21-17-9-17 21z"/><path fill="#0f8" d="M2292 2390l18-1-18-7-18 1z"/><path fill="#0ea" d="M1407 2424l17-17-18-8-17 16z"/><path fill="#0ca" d="M2485 2436l17 1-18-7-16-2z"/><path fill="#0af" d="M1217 2496l17-21-18-9-17 21z"/><path fill="#0e9" d="M1442 2415l17-16-18-8-17 16z"/><path fill="#0f7" d="M2257 2385l17-2-17-8-18 2zM2222 2379l17-2-18-7-17 2z"/><path fill="#0e8" d="M1477 2408l17-16-18-8-17 15z"/><path fill="#0bf" d="M1251 2484l17-21-18-8-16 20z"/><path fill="#0c9" d="M2451 2427l17 1-18-7-17-2z"/><path fill="#0f6" d="M2186 2375l18-3-18-8-18 3z"/><path fill="#0f8" d="M1512 2400l17-15-18-8-17 15z"/><path fill="#0f6" d="M2151 2371l17-4-18-7-17 3z"/><path fill="#0f7" d="M1547 2394l17-15-17-8-18 14z"/><path fill="#0df" d="M1286 2472l17-19-18-9-17 19z"/><path fill="#0d9" d="M2416 2419l17 0-18-7-17-1z"/><path fill="#0f5" d="M2115 2367l18-4-18-7-18 4z"/><path fill="#0f7" d="M1582 2388l18-14-18-8-18 13z"/><path fill="#0f5" d="M2080 2365l17-5-17-8-18 5z"/><path fill="#0f6" d="M1618 2382l17-13-18-8-17 13z"/><path fill="#0ed" d="M1320 2461l17-18-18-9-16 19z"/><path fill="#0e8" d="M2381 2411l17 0-18-7-17 0z"/><path fill="#0f5" d="M2044 2362l18-5-18-8-18 6z"/><path fill="#0f6" d="M1653 2377l18-12-18-8-18 12z"/><path fill="#0f4" d="M2009 2361l17-6-18-8-17 6z"/><path fill="#0f5" d="M1689 2373l17-12-18-8-17 12z"/><path fill="#0f4" d="M1973 2360l18-7-18-8-18 7z"/><path fill="#0f5" d="M1724 2369l18-11-18-8-18 11z"/><path fill="#0e8" d="M2346 2404l17 0-18-8-17 1z"/><path fill="#0ec" d="M1355 2451l17-18-18-9-17 19z"/><path fill="#0f4" d="M1938 2359l17-7-18-8-17 8zM1760 2366l17-10-18-8-17 10zM1902 2359l18-7-18-8-18 8zM1795 2364l18-10-18-8-18 10zM1866 2360l18-8-18-8-18 8zM1831 2362l17-10-18-7-17 9z"/><path fill="#0f8" d="M2310 2398l18-1-18-8-18 1z"/><path fill="#0ea" d="M1390 2442l17-18-18-9-17 18z"/><path fill="#0ca" d="M2503 2443l17 2-18-8-17-1z"/><path fill="#08f" d="M1201 2517l16-21-18-9-16 21z"/><path fill="#0ea" d="M1425 2432l17-17-18-8-17 17z"/><path fill="#0f7" d="M2275 2392l17-2-18-7-17 2zM2240 2387l17-2-18-8-17 2z"/><path fill="#0e9" d="M1460 2424l17-16-18-9-17 16z"/><path fill="#0af" d="M1235 2505l16-21-17-9-17 21z"/><path fill="#0d9" d="M2468 2434l17 2-17-8-17-1z"/><path fill="#0e8" d="M1495 2416l17-16-18-8-17 16z"/><path fill="#0f6" d="M2204 2383l18-4-18-7-18 3z"/><path fill="#0d9" d="M2434 2426l17 1-18-8-17 0z"/><path fill="#0bf" d="M1269 2493l17-21-18-9-17 21z"/><path fill="#0f6" d="M2169 2379l17-4-18-8-17 4z"/><path fill="#0f8" d="M1530 2409l17-15-18-9-17 15z"/><path fill="#0f5" d="M2133 2375l18-4-18-8-18 4z"/><path fill="#0f7" d="M1565 2402l17-14-18-9-17 15z"/><path fill="#0e8" d="M2399 2419l17 0-18-8-17 0z"/><path fill="#0df" d="M1303 2481l17-20-17-8-17 19z"/><path fill="#0f7" d="M1600 2396l18-14-18-8-18 14z"/><path fill="#0f5" d="M2098 2372l17-5-18-7-17 5z"/><path fill="#0f4" d="M2062 2370l18-5-18-8-18 5z"/><path fill="#0f6" d="M1636 2390l17-13-18-8-17 13z"/><path fill="#0f4" d="M2027 2369l17-7-18-7-17 6z"/><path fill="#0f6" d="M1671 2385l18-12-18-8-18 12z"/><path fill="#0ed" d="M1338 2470l17-19-18-8-17 18z"/><path fill="#0e8" d="M2363 2412l18-1-18-7-17 0z"/><path fill="#0f4" d="M1991 2368l18-7-18-8-18 7z"/><path fill="#0f5" d="M1706 2381l18-12-18-8-17 12z"/><path fill="#0f4" d="M1955 2367l18-7-18-8-17 7z"/><path fill="#0f5" d="M1742 2377l18-11-18-8-18 11z"/><path fill="#0f4" d="M1920 2367l18-8-18-7-18 7zM1777 2374l18-10-18-8-17 10zM1884 2368l18-9-18-7-18 8zM1813 2371l18-9-18-8-18 10zM1849 2370l17-10-18-8-17 10z"/><path fill="#0f8" d="M2328 2406l18-2-18-7-18 1z"/><path fill="#0ec" d="M1373 2460l17-18-18-9-17 18z"/><path fill="#0f7" d="M2293 2400l17-2-18-8-17 2z"/><path fill="#0ea" d="M1407 2450l18-18-18-8-17 18z"/><path fill="#0d9" d="M2486 2442l17 1-18-7-17-2z"/><path fill="#08f" d="M1218 2526l17-21-18-9-16 21z"/><path fill="#0f7" d="M2258 2395l17-3-18-7-17 2z"/><path fill="#0ea" d="M1442 2441l18-17-18-9-17 17z"/><path fill="#0f6" d="M2222 2390l18-3-18-8-18 4z"/><path fill="#0e9" d="M1477 2432l18-16-18-8-17 16z"/><path fill="#0d9" d="M2451 2434l17 0-17-7-17-1z"/><path fill="#0af" d="M1252 2514l17-21-18-9-16 21z"/><path fill="#0f6" d="M2187 2386l17-3-18-8-17 4z"/><path fill="#0e8" d="M1512 2424l18-15-18-9-17 16z"/><path fill="#0f5" d="M2151 2383l18-4-18-8-18 4z"/><path fill="#0f8" d="M1548 2417l17-15-18-8-17 15z"/><path fill="#0e9" d="M2416 2426l18 0-18-7-17 0z"/><path fill="#0bf" d="M1287 2502l16-21-17-9-17 21z"/><path fill="#0f5" d="M2116 2380l17-5-18-8-17 5z"/><path fill="#0f7" d="M1583 2410l17-14-18-8-17 14z"/><path fill="#0f4" d="M2080 2378l18-6-18-7-18 5z"/><path fill="#0f7" d="M1618 2404l18-14-18-8-18 14z"/><path fill="#0e8" d="M2381 2420l18-1-18-8-18 1z"/><path fill="#0df" d="M1321 2490l17-20-18-9-17 20z"/><path fill="#0f4" d="M2045 2376l17-6-18-8-17 7z"/><path fill="#0f6" d="M1653 2399l18-14-18-8-17 13zM1689 2394l17-13-17-8-18 12z"/><path fill="#0f4" d="M2009 2375l18-6-18-8-18 7zM1973 2375l18-7-18-8-18 7z"/><path fill="#0f5" d="M1724 2389l18-12-18-8-18 12z"/><path fill="#0ed" d="M1356 2479l17-19-18-9-17 19z"/><path fill="#0f8" d="M2346 2413l17-1-17-8-18 2z"/><path fill="#0f4" d="M1938 2375l17-8-17-8-18 8z"/><path fill="#0f5" d="M1760 2385l17-11-17-8-18 11z"/><path fill="#0f4" d="M1902 2376l18-9-18-8-18 9zM1795 2382l18-11-18-7-18 10zM1867 2378l17-10-18-8-17 10zM1831 2380l18-10-18-8-18 9z"/><path fill="#0f7" d="M2311 2408l17-2-18-8-17 2z"/><path fill="#0ec" d="M1390 2469l17-19-17-8-17 18z"/><path fill="#0f7" d="M2276 2402l17-2-18-8-17 3z"/><path fill="#0ea" d="M1425 2459l17-18-17-9-18 18z"/><path fill="#0f6" d="M2240 2398l18-3-18-8-18 3z"/><path fill="#0ea" d="M1460 2450l17-18-17-8-18 17z"/><path fill="#08f" d="M1236 2536l16-22-17-9-17 21z"/><path fill="#0d9" d="M2469 2442l17 0-18-8-17 0z"/><path fill="#0f6" d="M2205 2394l17-4-18-7-17 3z"/><path fill="#0e9" d="M1495 2441l17-17-17-8-18 16zM2434 2434l17 0-17-8-18 0z"/><path fill="#0af" d="M1270 2523l17-21-18-9-17 21z"/><path fill="#0f5" d="M2169 2391l18-5-18-7-18 4z"/><path fill="#0e8" d="M1530 2433l18-16-18-8-18 15z"/><path fill="#0f5" d="M2134 2388l17-5-18-8-17 5z"/><path fill="#0f8" d="M1565 2426l18-16-18-8-17 15z"/><path fill="#0e8" d="M2399 2427l17-1-17-7-18 1z"/><path fill="#0bf" d="M1304 2511l17-21-18-9-16 21z"/><path fill="#0f5" d="M2098 2386l18-6-18-8-18 6z"/><path fill="#0f7" d="M1601 2419l17-15-18-8-17 14zM1636 2413l17-14-17-9-18 14z"/><path fill="#0f4" d="M2063 2384l17-6-18-8-17 6zM2027 2383l18-7-18-7-18 6z"/><path fill="#0f6" d="M1671 2407l18-13-18-9-18 14z"/><path fill="#0f8" d="M2364 2421l17-1-18-8-17 1z"/><path fill="#0df" d="M1339 2499l17-20-18-9-17 20z"/><path fill="#0f4" d="M1991 2383l18-8-18-7-18 7z"/><path fill="#0f6" d="M1707 2402l17-13-18-8-17 13z"/><path fill="#0f4" d="M1956 2383l17-8-18-8-17 8z"/><path fill="#0f5" d="M1742 2397l18-12-18-8-18 12z"/><path fill="#0f4" d="M1920 2384l18-9-18-8-18 9z"/><path fill="#0f5" d="M1778 2394l17-12-18-8-17 11z"/><path fill="#0f4" d="M1885 2386l17-10-18-8-17 10zM1813 2390l18-10-18-9-18 11zM1849 2388l18-10-18-8-18 10z"/><path fill="#0f7" d="M2329 2415l17-2-18-7-17 2z"/><path fill="#0ed" d="M1374 2488l16-19-17-9-17 19z"/><path fill="#0f7" d="M2294 2410l17-2-18-8-17 2z"/><path fill="#0ec" d="M1408 2477l17-18-18-9-17 19z"/><path fill="#0f6" d="M2258 2406l18-4-18-7-18 3z"/><path fill="#0ea" d="M1443 2468l17-18-18-9-17 18z"/><path fill="#0f6" d="M2223 2402l17-4-18-8-17 4z"/><path fill="#0ea" d="M1478 2458l17-17-18-9-17 18z"/><path fill="#0e9" d="M2452 2442l17 0-18-8-17 0z"/><path fill="#08f" d="M1254 2545l16-22-18-9-16 22z"/><path fill="#0f5" d="M2187 2398l18-4-18-8-18 5z"/><path fill="#0e9" d="M1513 2450l17-17-18-9-17 17z"/><path fill="#0f5" d="M2152 2396l17-5-18-8-17 5z"/><path fill="#0e8" d="M1548 2442l17-16-17-9-18 16zM2417 2435l17-1-18-8-17 1z"/><path fill="#0af" d="M1288 2532l16-21-17-9-17 21z"/><path fill="#0f5" d="M2116 2394l18-6-18-8-18 6z"/><path fill="#0f8" d="M1583 2434l18-15-18-9-18 16z"/><path fill="#0f4" d="M2081 2392l17-6-18-8-17 6z"/><path fill="#0f7" d="M1619 2427l17-14-18-9-17 15z"/><path fill="#0f8" d="M2382 2429l17-2-18-7-17 1z"/><path fill="#0bf" d="M1322 2520l17-21-18-9-17 21z"/><path fill="#0f4" d="M2045 2391l18-7-18-8-18 7z"/><path fill="#0f7" d="M1654 2421l17-14-18-8-17 14z"/><path fill="#0f4" d="M2009 2391l18-8-18-8-18 8z"/><path fill="#0f6" d="M1689 2415l18-13-18-8-18 13z"/><path fill="#0f4" d="M1974 2391l17-8-18-8-17 8z"/><path fill="#0f6" d="M1725 2410l17-13-18-8-17 13z"/><path fill="#0f7" d="M2347 2423l17-2-18-8-17 2z"/><path fill="#0de" d="M1357 2508l17-20-18-9-17 20z"/><path fill="#0f4" d="M1938 2392l18-9-18-8-18 9z"/><path fill="#0f5" d="M1760 2406l18-12-18-9-18 12z"/><path fill="#0f4" d="M1903 2394l17-10-18-8-17 10z"/><path fill="#0f5" d="M1796 2402l17-12-18-8-17 12z"/><path fill="#0f4" d="M1831 2398l18-10-18-8-18 10zM1867 2396l18-10-18-8-18 10z"/><path fill="#0f7" d="M2311 2418l18-3-18-7-17 2z"/><path fill="#0ed" d="M1391 2497l17-20-18-8-16 19z"/><path fill="#0ec" d="M1426 2486l17-18-18-9-17 18z"/><path fill="#0f6" d="M2276 2413l18-3-18-8-18 4zM2241 2410l17-4-18-8-17 4z"/><path fill="#0ea" d="M1461 2476l17-18-18-8-17 18z"/><path fill="#0f5" d="M2205 2406l18-4-18-8-18 4z"/><path fill="#0ea" d="M1496 2467l17-17-18-9-17 17z"/><path fill="#08f" d="M1271 2554l17-22-18-9-16 22z"/><path fill="#0e8" d="M2435 2443l17-1-18-8-17 1z"/><path fill="#0f5" d="M2170 2404l17-6-18-7-17 5z"/><path fill="#0e9" d="M1531 2458l17-16-18-9-17 17z"/><path fill="#0f5" d="M2134 2402l18-6-18-8-18 6z"/><path fill="#0e8" d="M1566 2450l17-16-18-8-17 16z"/><path fill="#0f8" d="M2400 2436l17-1-18-8-17 2z"/><path fill="#0af" d="M1305 2541l17-21-18-9-16 21z"/><path fill="#0f4" d="M2099 2400l17-6-18-8-17 6z"/><path fill="#0f8" d="M1601 2443l18-16-18-8-18 15z"/><path fill="#0f4" d="M2063 2399l18-7-18-8-18 7z"/><path fill="#0f7" d="M1636 2436l18-15-18-8-17 14zM1672 2429l17-14-18-8-17 14z"/><path fill="#0f4" d="M2027 2399l18-8-18-8-18 8z"/><path fill="#0f7" d="M2365 2431l17-2-18-8-17 2z"/><path fill="#0bf" d="M1340 2529l17-21-18-9-17 21z"/><path fill="#0f6" d="M1707 2424l18-14-18-8-18 13z"/><path fill="#0f4" d="M1992 2399l17-8-18-8-17 8zM1956 2400l18-9-18-8-18 9z"/><path fill="#0f6" d="M1743 2418l17-12-18-9-17 13z"/><path fill="#0f5" d="M1778 2414l18-12-18-8-18 12z"/><path fill="#0f4" d="M1920 2402l18-10-18-8-17 10zM1885 2404l18-10-18-8-18 10z"/><path fill="#0f5" d="M1814 2410l17-12-18-8-17 12z"/><path fill="#0f4" d="M1849 2407l18-11-18-8-18 10z"/><path fill="#0f7" d="M2329 2426l18-3-18-8-18 3z"/><path fill="#0de" d="M1374 2517l17-20-17-9-17 20z"/><path fill="#0f6" d="M2294 2421l17-3-17-8-18 3z"/><path fill="#0ed" d="M1409 2506l17-20-18-9-17 20z"/><path fill="#0f6" d="M2259 2418l17-5-18-7-17 4z"/><path fill="#0ec" d="M1444 2495l17-19-18-8-17 18z"/><path fill="#0f5" d="M2223 2414l18-4-18-8-18 4z"/><path fill="#0ea" d="M1479 2485l17-18-18-9-17 18z"/><path fill="#0f5" d="M2188 2412l17-6-18-8-17 6z"/><path fill="#0ea" d="M1514 2476l17-18-18-8-17 17z"/><path fill="#0f5" d="M2152 2410l18-6-18-8-18 6z"/><path fill="#0e9" d="M1549 2467l17-17-18-8-17 16z"/><path fill="#0f8" d="M2418 2444l17-1-18-8-17 1z"/><path fill="#08f" d="M1289 2563l16-22-17-9-17 22z"/><path fill="#0f4" d="M2117 2408l17-6-18-8-17 6z"/><path fill="#0e8" d="M1584 2459l17-16-18-9-17 16z"/><path fill="#0f4" d="M2081 2407l18-7-18-8-18 7z"/><path fill="#0f8" d="M1619 2451l17-15-17-9-18 16z"/><path fill="#0f7" d="M2383 2439l17-3-18-7-17 2z"/><path fill="#0af" d="M1323 2550l17-21-18-9-17 21z"/><path fill="#0f7" d="M1654 2444l18-15-18-8-18 15z"/><path fill="#0f4" d="M2045 2407l18-8-18-8-18 8zM2010 2407l17-8-18-8-17 8z"/><path fill="#0f7" d="M1690 2438l17-14-18-9-17 14z"/><path fill="#0f4" d="M1974 2408l18-9-18-8-18 9z"/><path fill="#0f6" d="M1725 2432l18-14-18-8-18 14z"/><path fill="#0f7" d="M2347 2434l18-3-18-8-18 3z"/><path fill="#0bf" d="M1358 2538l16-21-17-9-17 21z"/><path fill="#0f4" d="M1938 2410l18-10-18-8-18 10z"/><path fill="#0f6" d="M1761 2427l17-13-18-8-17 12z"/><path fill="#0f4" d="M1903 2412l17-10-17-8-18 10z"/><path fill="#0f5" d="M1796 2422l18-12-18-8-18 12z"/><path fill="#0f4" d="M1867 2415l18-11-18-8-18 11z"/><path fill="#0f5" d="M1832 2418l17-11-18-9-17 12z"/><path fill="#0f6" d="M2312 2429l17-3-18-8-17 3z"/><path fill="#0df" d="M1392 2526l17-20-18-9-17 20z"/><path fill="#0ed" d="M1427 2515l17-20-18-9-17 20z"/><path fill="#0f6" d="M2277 2425l17-4-18-8-17 5z"/><path fill="#0f5" d="M2241 2422l18-4-18-8-18 4z"/><path fill="#0ec" d="M1462 2504l17-19-18-9-17 19z"/><path fill="#0f5" d="M2206 2420l17-6-18-8-17 6z"/><path fill="#0ea" d="M1496 2494l18-18-18-9-17 18zM1531 2485l18-18-18-9-17 18z"/><path fill="#0f5" d="M2170 2418l18-6-18-8-18 6z"/><path fill="#0f4" d="M2134 2416l18-6-18-8-17 6z"/><path fill="#0e9" d="M1567 2476l17-17-18-9-17 17z"/><path fill="#0f7" d="M2400 2447l18-3-18-8-17 3z"/><path fill="#08f" d="M1307 2573l16-23-18-9-16 22z"/><path fill="#0f4" d="M2099 2415l18-7-18-8-18 7z"/><path fill="#0e8" d="M1602 2468l17-17-18-8-17 16z"/><path fill="#0f4" d="M2063 2415l18-8-18-8-18 8z"/><path fill="#0f8" d="M1637 2460l17-16-18-8-17 15z"/><path fill="#0f4" d="M2028 2416l17-9-18-8-17 8z"/><path fill="#0f7" d="M1672 2453l18-15-18-9-18 15zM2365 2442l18-3-18-8-18 3z"/><path fill="#0af" d="M1341 2560l17-22-18-9-17 21z"/><path fill="#0f4" d="M1992 2417l18-10-18-8-18 9z"/><path fill="#0f7" d="M1708 2446l17-14-18-8-17 14z"/><path fill="#0f4" d="M1956 2418l18-10-18-8-18 10z"/><path fill="#0f6" d="M1743 2441l18-14-18-9-18 14zM1778 2435l18-13-18-8-17 13z"/><path fill="#0f4" d="M1921 2420l17-10-18-8-17 10z"/><path fill="#0f5" d="M1885 2423l18-11-18-8-18 11zM1814 2431l18-13-18-8-18 12zM1850 2427l17-12-18-8-17 11z"/><path fill="#0f6" d="M2330 2437l17-3-18-8-17 3z"/><path fill="#0bf" d="M1375 2547l17-21-18-9-16 21z"/><path fill="#0f6" d="M2294 2433l18-4-18-8-17 4z"/><path fill="#0df" d="M1410 2535l17-20-18-9-17 20z"/><path fill="#0f5" d="M2259 2430l18-5-18-7-18 4z"/><path fill="#0ed" d="M1445 2524l17-20-18-9-17 20z"/><path fill="#0f5" d="M2224 2428l17-6-18-8-17 6z"/><path fill="#0ec" d="M1479 2513l17-19-17-9-17 19z"/><path fill="#0f5" d="M2188 2426l18-6-18-8-18 6z"/><path fill="#0ea" d="M1514 2503l17-18-17-9-18 18z"/><path fill="#0f4" d="M2152 2424l18-6-18-8-18 6z"/><path fill="#0ea" d="M1549 2494l18-18-18-9-18 18z"/><path fill="#0f4" d="M2117 2423l17-7-17-8-18 7z"/><path fill="#0e9" d="M1584 2485l18-17-18-9-17 17z"/><path fill="#0f4" d="M2081 2423l18-8-18-8-18 8z"/><path fill="#0e8" d="M1620 2476l17-16-18-9-17 17z"/><path fill="#0f7" d="M2383 2450l17-3-17-8-18 3z"/><path fill="#08f" d="M1324 2582l17-22-18-10-16 23z"/><path fill="#0f4" d="M2046 2424l17-9-18-8-17 9z"/><path fill="#0f8" d="M1655 2469l17-16-18-9-17 16z"/><path fill="#0f4" d="M2010 2425l18-9-18-9-18 10z"/><path fill="#0f7" d="M1690 2461l18-15-18-8-18 15z"/><path fill="#0f4" d="M1974 2426l18-9-18-9-18 10z"/><path fill="#0f7" d="M1725 2455l18-14-18-9-17 14z"/><path fill="#0f6" d="M2348 2445l17-3-18-8-17 3z"/><path fill="#0af" d="M1359 2569l16-22-17-9-17 22z"/><path fill="#0f4" d="M1939 2429l17-11-18-8-17 10z"/><path fill="#0f6" d="M1761 2449l17-14-17-8-18 14z"/><path fill="#0f5" d="M1903 2432l18-12-18-8-18 11z"/><path fill="#0f6" d="M1796 2444l18-13-18-9-18 13z"/><path fill="#0f5" d="M1832 2439l18-12-18-9-18 13zM1867 2435l18-12-18-8-17 12z"/><path fill="#0f6" d="M2312 2441l18-4-18-8-18 4z"/><path fill="#0bf" d="M1393 2556l17-21-18-9-17 21z"/><path fill="#0f5" d="M2277 2438l17-5-17-8-18 5z"/><path fill="#0df" d="M1428 2544l17-20-18-9-17 20z"/><path fill="#0f5" d="M2241 2436l18-6-18-8-17 6z"/><path fill="#0ed" d="M1462 2533l17-20-17-9-17 20z"/><path fill="#0f5" d="M2206 2434l18-6-18-8-18 6z"/><path fill="#0ec" d="M1497 2522l17-19-18-9-17 19z"/><path fill="#0ea" d="M1532 2512l17-18-18-9-17 18z"/><path fill="#0f4" d="M2170 2432l18-6-18-8-18 6zM2135 2432l17-8-18-8-17 7z"/><path fill="#0ea" d="M1567 2502l17-17-17-9-18 18z"/><path fill="#0e9" d="M1602 2493l18-17-18-8-18 17z"/><path fill="#0f4" d="M2099 2432l18-9-18-8-18 8zM2064 2432l17-9-18-8-17 9z"/><path fill="#0e8" d="M1637 2485l18-16-18-9-17 16z"/><path fill="#0f4" d="M2028 2433l18-9-18-8-18 9z"/><path fill="#0f8" d="M1673 2477l17-16-18-8-17 16z"/><path fill="#0f6" d="M2366 2453l17-3-18-8-17 3z"/><path fill="#08f" d="M1342 2591l17-22-18-9-17 22z"/><path fill="#0f4" d="M1992 2435l18-10-18-8-18 9z"/><path fill="#0f7" d="M1708 2470l17-15-17-9-18 15z"/><path fill="#0f4" d="M1957 2437l17-11-18-8-17 11z"/><path fill="#0f7" d="M1743 2464l18-15-18-8-18 14z"/><path fill="#0f5" d="M1921 2440l18-11-18-9-18 12z"/><path fill="#0f6" d="M1779 2458l17-14-18-9-17 14z"/><path fill="#0f5" d="M1885 2443l18-11-18-9-18 12z"/><path fill="#0f6" d="M1814 2452l18-13-18-8-18 13z"/><path fill="#0f5" d="M1850 2448l17-13-17-8-18 12z"/><path fill="#0f6" d="M2330 2450l18-5-18-8-18 4z"/><path fill="#0af" d="M1376 2578l17-22-18-9-16 22z"/><path fill="#0f5" d="M2295 2446l17-5-18-8-17 5z"/><path fill="#0bf" d="M1411 2566l17-22-18-9-17 21z"/><path fill="#0f5" d="M2259 2444l18-6-18-8-18 6z"/><path fill="#0df" d="M1445 2554l17-21-17-9-17 20z"/><path fill="#0f5" d="M2224 2442l17-6-17-8-18 6z"/><path fill="#0ed" d="M1480 2542l17-20-18-9-17 20z"/><path fill="#0f4" d="M2188 2441l18-7-18-8-18 6z"/><path fill="#0ec" d="M1515 2531l17-19-18-9-17 19z"/><path fill="#0f4" d="M2153 2440l17-8-18-8-17 8z"/><path fill="#0ea" d="M1550 2521l17-19-18-8-17 18z"/><path fill="#0f4" d="M2117 2440l18-8-18-9-18 9z"/><path fill="#0ea" d="M1585 2511l17-18-18-8-17 17z"/><path fill="#0f4" d="M2082 2440l17-8-18-9-17 9z"/><path fill="#0e9" d="M1620 2502l17-17-17-9-18 17z"/><path fill="#0f4" d="M2046 2441l18-9-18-8-18 9z"/><path fill="#0e8" d="M1655 2494l18-17-18-8-18 16z"/><path fill="#0f4" d="M2010 2443l18-10-18-8-18 10z"/><path fill="#0f8" d="M1691 2486l17-16-18-9-17 16z"/><path fill="#0f4" d="M1975 2445l17-10-18-9-17 11z"/><path fill="#0f7" d="M1726 2479l17-15-18-9-17 15z"/><path fill="#0f5" d="M1939 2448l18-11-18-8-18 11z"/><path fill="#0f7" d="M1761 2472l18-14-18-9-18 15z"/><path fill="#0f6" d="M2348 2458l18-5-18-8-18 5z"/><path fill="#08f" d="M1360 2601l16-23-17-9-17 22z"/><path fill="#0f5" d="M1903 2452l18-12-18-8-18 11z"/><path fill="#0f6" d="M1797 2466l17-14-18-8-17 14zM1832 2461l18-13-18-9-18 13z"/><path fill="#0f5" d="M1868 2456l17-13-18-8-17 13zM2313 2455l17-5-18-9-17 5z"/><path fill="#0af" d="M1394 2588l17-22-18-10-17 22z"/><path fill="#0f5" d="M2277 2452l18-6-18-8-18 6z"/><path fill="#0bf" d="M1428 2575l17-21-17-10-17 22z"/><path fill="#0f5" d="M2242 2450l17-6-18-8-17 6z"/><path fill="#0df" d="M1463 2563l17-21-18-9-17 21z"/><path fill="#0ed" d="M1498 2551l17-20-18-9-17 20z"/><path fill="#0f4" d="M2206 2449l18-7-18-8-18 7z"/><path fill="#0ec" d="M1533 2540l17-19-18-9-17 19z"/><path fill="#0f4" d="M2171 2448l17-7-18-9-17 8zM2135 2448l18-8-18-8-18 8z"/><path fill="#0ea" d="M1568 2530l17-19-18-9-17 19z"/><path fill="#0f4" d="M2099 2449l18-9-18-8-17 8z"/><path fill="#0ea" d="M1603 2520l17-18-18-9-17 18z"/><path fill="#0f4" d="M2064 2450l18-10-18-8-18 9z"/><path fill="#0e9" d="M1638 2511l17-17-18-9-17 17z"/><path fill="#0e8" d="M1673 2503l18-17-18-9-18 17z"/><path fill="#0f4" d="M2028 2452l18-11-18-8-18 10zM1993 2454l17-11-18-8-17 10z"/><path fill="#0f8" d="M1708 2495l18-16-18-9-17 16z"/><path fill="#0f5" d="M1957 2457l18-12-18-8-18 11z"/><path fill="#0f7" d="M1744 2488l17-16-18-8-17 15z"/><path fill="#0f5" d="M1921 2461l18-13-18-8-18 12z"/><path fill="#0f7" d="M1779 2481l18-15-18-8-18 14z"/><path fill="#0f5" d="M1886 2465l17-13-18-9-17 13z"/><path fill="#0f6" d="M1815 2475l17-14-18-9-17 14zM1850 2470l18-14-18-8-18 13zM2331 2463l17-5-18-8-17 5z"/><path fill="#08f" d="M1377 2610l17-22-18-10-16 23z"/><path fill="#0f5" d="M2295 2460l18-5-18-9-18 6z"/><path fill="#0af" d="M1412 2597l16-22-17-9-17 22z"/><path fill="#0f5" d="M2260 2458l17-6-18-8-17 6z"/><path fill="#0bf" d="M1446 2584l17-21-18-9-17 21z"/><path fill="#0f4" d="M2224 2457l18-7-18-8-18 7z"/><path fill="#0df" d="M1481 2572l17-21-18-9-17 21z"/><path fill="#0ed" d="M1516 2561l17-21-18-9-17 20z"/><path fill="#0f4" d="M2189 2456l17-7-18-8-17 7zM2153 2456l18-8-18-8-18 8z"/><path fill="#0ec" d="M1550 2550l18-20-18-9-17 19z"/><path fill="#0f4" d="M2117 2457l18-9-18-8-18 9z"/><path fill="#0ea" d="M1585 2539l18-19-18-9-17 19z"/><path fill="#0f4" d="M2082 2458l17-9-17-9-18 10z"/><path fill="#0ea" d="M1621 2529l17-18-18-9-17 18z"/><path fill="#0e9" d="M1656 2520l17-17-18-9-17 17z"/><path fill="#0f4" d="M2046 2460l18-10-18-9-18 11zM2010 2462l18-10-18-9-17 11z"/><path fill="#0e8" d="M1691 2512l17-17-17-9-18 17z"/><path fill="#0f5" d="M1975 2465l18-11-18-9-18 12z"/><path fill="#0f8" d="M1726 2504l18-16-18-9-18 16z"/><path fill="#0f5" d="M1939 2469l18-12-18-9-18 13z"/><path fill="#0f7" d="M1762 2497l17-16-18-9-17 16zM1797 2490l18-15-18-9-18 15z"/><path fill="#0f5" d="M1904 2473l17-12-18-9-17 13z"/><path fill="#0f6" d="M1868 2478l18-13-18-9-18 14zM1833 2484l17-14-18-9-17 14z"/><path fill="#08f" d="M1395 2620l17-23-18-9-17 22z"/><path fill="#0f5" d="M2313 2469l18-6-18-8-18 5zM2278 2467l17-7-18-8-17 6z"/><path fill="#0af" d="M1429 2607l17-23-18-9-16 22z"/><path fill="#0f5" d="M2242 2465l18-7-18-8-18 7z"/><path fill="#0bf" d="M1464 2594l17-22-18-9-17 21z"/><path fill="#0f4" d="M2207 2465l17-8-18-8-17 7z"/><path fill="#0df" d="M1499 2581l17-20-18-10-17 21z"/><path fill="#0f4" d="M2171 2465l18-9-18-8-18 8z"/><path fill="#0ed" d="M1533 2570l17-20-17-10-17 21z"/><path fill="#0f4" d="M2135 2465l18-9-18-8-18 9z"/><path fill="#0ec" d="M1568 2559l17-20-17-9-18 20z"/><path fill="#0f4" d="M2100 2467l17-10-18-8-17 9z"/><path fill="#0eb" d="M1603 2548l18-19-18-9-18 19z"/><path fill="#0ea" d="M1638 2539l18-19-18-9-17 18z"/><path fill="#0f4" d="M2064 2469l18-11-18-8-18 10zM2028 2471l18-11-18-8-18 10z"/><path fill="#0e9" d="M1674 2529l17-17-18-9-17 17z"/><path fill="#0f5" d="M1993 2474l17-12-17-8-18 11z"/><path fill="#0e8" d="M1709 2521l17-17-18-9-17 17z"/><path fill="#0f5" d="M1957 2478l18-13-18-8-18 12z"/><path fill="#0f8" d="M1744 2513l18-16-18-9-18 16z"/><path fill="#0f5" d="M1922 2482l17-13-18-8-17 12z"/><path fill="#0f7" d="M1780 2505l17-15-18-9-17 16z"/><path fill="#0f6" d="M1886 2487l18-14-18-8-18 13z"/><path fill="#0f7" d="M1815 2499l18-15-18-9-18 15z"/><path fill="#0f6" d="M1850 2492l18-14-18-8-17 14z"/><path fill="#0f5" d="M2296 2475l17-6-18-9-17 7z"/><path fill="#08f" d="M1413 2630l16-23-17-10-17 23z"/><path fill="#0af" d="M1447 2616l17-22-18-10-17 23z"/><path fill="#0f5" d="M2260 2474l18-7-18-9-18 7z"/><path fill="#0f4" d="M2225 2473l17-8-18-8-17 8z"/><path fill="#0bf" d="M1482 2603l17-22-18-9-17 22z"/><path fill="#0f4" d="M2189 2473l18-8-18-9-18 9z"/><path fill="#0df" d="M1516 2591l17-21-17-9-17 20z"/><path fill="#0f4" d="M2153 2474l18-9-18-9-18 9z"/><path fill="#0ee" d="M1551 2579l17-20-18-9-17 20z"/><path fill="#0f4" d="M2118 2475l17-10-18-8-17 10z"/><path fill="#0ec" d="M1586 2568l17-20-18-9-17 20z"/><path fill="#0f4" d="M2082 2477l18-10-18-9-18 11z"/><path fill="#0eb" d="M1621 2558l17-19-17-10-18 19z"/><path fill="#0ea" d="M1656 2548l18-19-18-9-18 19z"/><path fill="#0f5" d="M2046 2480l18-11-18-9-18 11zM2011 2483l17-12-18-9-17 12z"/><path fill="#0e9" d="M1691 2538l18-17-18-9-17 17z"/><path fill="#0f5" d="M1975 2486l18-12-18-9-18 13z"/><path fill="#0e8" d="M1727 2530l17-17-18-9-17 17z"/><path fill="#0f5" d="M1939 2491l18-13-18-9-17 13z"/><path fill="#0f8" d="M1762 2522l18-17-18-8-18 16z"/><path fill="#0f6" d="M1904 2496l18-14-18-9-18 14z"/><path fill="#0f7" d="M1797 2514l18-15-18-9-17 15z"/><path fill="#0f6" d="M1868 2501l18-14-18-9-18 14z"/><path fill="#0f7" d="M1833 2508l17-16-17-8-18 15z"/><path fill="#08f" d="M1430 2639l17-23-18-9-16 23z"/><path fill="#0f5" d="M2278 2482l18-7-18-8-18 7z"/><path fill="#0af" d="M1465 2626l17-23-18-9-17 22z"/><path fill="#0f4" d="M2242 2482l18-8-18-9-17 8zM2207 2482l18-9-18-8-18 8z"/><path fill="#0bf" d="M1499 2613l17-22-17-10-17 22z"/><path fill="#0f4" d="M2171 2482l18-9-18-8-18 9z"/><path fill="#0df" d="M1534 2600l17-21-18-9-17 21z"/><path fill="#0f4" d="M2136 2484l17-10-18-9-17 10z"/><path fill="#0ee" d="M1569 2589l17-21-18-9-17 20z"/><path fill="#0f4" d="M2100 2486l18-11-18-8-18 10z"/><path fill="#0ec" d="M1604 2577l17-19-18-10-17 20z"/><path fill="#0eb" d="M1639 2567l17-19-18-9-17 19z"/><path fill="#0f5" d="M2064 2488l18-11-18-8-18 11zM2029 2491l17-11-18-9-17 12z"/><path fill="#0ea" d="M1674 2557l17-19-17-9-18 19z"/><path fill="#0f5" d="M1993 2495l18-12-18-9-18 12z"/><path fill="#0e9" d="M1709 2548l18-18-18-9-18 17z"/><path fill="#0e8" d="M1745 2539l17-17-18-9-17 17z"/><path fill="#0f6" d="M1957 2500l18-14-18-8-18 13zM1922 2505l17-14-17-9-18 14z"/><path fill="#0e8" d="M1780 2531l17-17-17-9-18 17z"/><path fill="#0f7" d="M1886 2510l18-14-18-9-18 14zM1815 2523l18-15-18-9-18 15zM1851 2516l17-15-18-9-17 16z"/><path fill="#0f5" d="M2260 2490l18-8-18-8-18 8z"/><path fill="#08f" d="M1448 2649l17-23-18-10-17 23z"/><path fill="#0f4" d="M2225 2490l17-8-17-9-18 9z"/><path fill="#0af" d="M1482 2635l17-22-17-10-17 23z"/><path fill="#0bf" d="M1517 2622l17-22-18-9-17 22z"/><path fill="#0f4" d="M2189 2491l18-9-18-9-18 9zM2154 2492l17-10-18-8-17 10z"/><path fill="#0df" d="M1552 2610l17-21-18-10-17 21z"/><path fill="#0f4" d="M2118 2494l18-10-18-9-18 11z"/><path fill="#0ee" d="M1587 2598l17-21-18-9-17 21z"/><path fill="#0f5" d="M2082 2497l18-11-18-9-18 11z"/><path fill="#0ec" d="M1622 2587l17-20-18-9-17 19z"/><path fill="#0eb" d="M1657 2576l17-19-18-9-17 19z"/><path fill="#0f5" d="M2047 2500l17-12-18-8-17 11zM2011 2504l18-13-18-8-18 12z"/><path fill="#0ea" d="M1692 2566l17-18-18-10-17 19z"/><path fill="#0f6" d="M1975 2508l18-13-18-9-18 14z"/><path fill="#0e9" d="M1727 2557l18-18-18-9-18 18z"/><path fill="#0f6" d="M1940 2513l17-13-18-9-17 14z"/><path fill="#0e8" d="M1762 2548l18-17-18-9-17 17z"/><path fill="#0f7" d="M1904 2519l18-14-18-9-18 14z"/><path fill="#0e8" d="M1798 2540l17-17-18-9-17 17z"/><path fill="#0f7" d="M1869 2525l17-15-18-9-17 15zM1833 2532l18-16-18-8-18 15z"/><path fill="#0f4" d="M2243 2499l17-9-18-8-17 8z"/><path fill="#08f" d="M1466 2659l16-24-17-9-17 23z"/><path fill="#0f4" d="M2207 2500l18-10-18-8-18 9z"/><path fill="#09f" d="M1500 2645l17-23-18-9-17 22z"/><path fill="#0f4" d="M2171 2501l18-10-18-9-17 10z"/><path fill="#0bf" d="M1535 2632l17-22-18-10-17 22z"/><path fill="#0f5" d="M2136 2503l18-11-18-8-18 10z"/><path fill="#0df" d="M1570 2619l17-21-18-9-17 21z"/><path fill="#0f5" d="M2100 2506l18-12-18-8-18 11z"/><path fill="#0ee" d="M1604 2607l18-20-18-10-17 21z"/><path fill="#0f5" d="M2064 2509l18-12-18-9-17 12z"/><path fill="#0ec" d="M1639 2596l18-20-18-9-17 20z"/><path fill="#0f5" d="M2029 2513l18-13-18-9-18 13z"/><path fill="#0eb" d="M1674 2585l18-19-18-9-17 19z"/><path fill="#0ea" d="M1710 2575l17-18-18-9-17 18z"/><path fill="#0f6" d="M1993 2517l18-13-18-9-18 13zM1958 2522l17-14-18-8-17 13z"/><path fill="#0e9" d="M1745 2566l17-18-17-9-18 18z"/><path fill="#0f7" d="M1922 2528l18-15-18-8-18 14z"/><path fill="#0e8" d="M1780 2557l18-17-18-9-18 17z"/><path fill="#0f7" d="M1887 2534l17-15-18-9-17 15z"/><path fill="#0e8" d="M1816 2549l17-17-18-9-17 17z"/><path fill="#0f7" d="M1851 2541l18-16-18-9-18 16z"/><path fill="#0f4" d="M2225 2508l18-9-18-9-18 10z"/><path fill="#08f" d="M1483 2669l17-24-18-10-16 24z"/><path fill="#0f5" d="M2189 2510l18-10-18-9-18 10z"/><path fill="#09f" d="M1518 2655l17-23-18-10-17 23z"/><path fill="#0f5" d="M2154 2512l17-11-17-9-18 11z"/><path fill="#0bf" d="M1552 2642l18-23-18-9-17 22z"/><path fill="#0f5" d="M2118 2514l18-11-18-9-18 12z"/><path fill="#0df" d="M1587 2629l17-22-17-9-17 21z"/><path fill="#0f5" d="M2082 2518l18-12-18-9-18 12z"/><path fill="#0ee" d="M1622 2617l17-21-17-9-18 20z"/><path fill="#0f5" d="M2047 2522l17-13-17-9-18 13z"/><path fill="#0ec" d="M1657 2606l17-21-17-9-18 20z"/><path fill="#0eb" d="M1692 2595l18-20-18-9-18 19z"/><path fill="#0f6" d="M2011 2526l18-13-18-9-18 13z"/><path fill="#0ea" d="M1727 2585l18-19-18-9-17 18z"/><path fill="#0f6" d="M1976 2531l17-14-18-9-17 14z"/><path fill="#0e9" d="M1763 2575l17-18-18-9-17 18z"/><path fill="#0f7" d="M1940 2537l18-15-18-9-18 15zM1904 2543l18-15-18-9-17 15z"/><path fill="#0e8" d="M1798 2566l18-17-18-9-18 17z"/><path fill="#0f7" d="M1869 2551l18-17-18-9-18 16z"/><path fill="#0e8" d="M1833 2558l18-17-18-9-17 17z"/><path fill="#0f5" d="M2207 2519l18-11-18-8-18 10z"/><path fill="#08f" d="M1501 2678l17-23-18-10-17 24z"/><path fill="#0f5" d="M2172 2521l17-11-18-9-17 11z"/><path fill="#09f" d="M1535 2665l17-23-17-10-17 23z"/><path fill="#0f5" d="M2136 2523l18-11-18-9-18 11z"/><path fill="#0bf" d="M1570 2651l17-22-17-10-18 23z"/><path fill="#0f5" d="M2100 2527l18-13-18-8-18 12z"/><path fill="#0cf" d="M1605 2639l17-22-18-10-17 22z"/><path fill="#0f5" d="M2065 2531l17-13-18-9-17 13z"/><path fill="#0ee" d="M1640 2627l17-21-18-10-17 21z"/><path fill="#0f6" d="M2029 2535l18-13-18-9-18 13z"/><path fill="#0ec" d="M1675 2615l17-20-18-10-17 21z"/><path fill="#0f6" d="M1993 2540l18-14-18-9-17 14z"/><path fill="#0eb" d="M1710 2604l17-19-17-10-18 20z"/><path fill="#0f7" d="M1958 2546l18-15-18-9-18 15z"/><path fill="#0ea" d="M1745 2594l18-19-18-9-18 19z"/><path fill="#0f7" d="M1922 2553l18-16-18-9-18 15z"/><path fill="#0e9" d="M1781 2585l17-19-18-9-17 18z"/><path fill="#0f7" d="M1887 2560l17-17-17-9-18 17z"/><path fill="#0e8" d="M1816 2576l17-18-17-9-18 17zM1851 2567l18-16-18-10-18 17z"/><path fill="#0f5" d="M2190 2529l17-10-18-9-17 11z"/><path fill="#08f" d="M1519 2688l16-23-17-10-17 23z"/><path fill="#09f" d="M1553 2674l17-23-18-9-17 23z"/><path fill="#0f5" d="M2154 2532l18-11-18-9-18 11zM2118 2536l18-13-18-9-18 13z"/><path fill="#0bf" d="M1588 2661l17-22-18-10-17 22z"/><path fill="#0f5" d="M2083 2540l17-13-18-9-17 13z"/><path fill="#0cf" d="M1623 2648l17-21-18-10-17 22z"/><path fill="#0ee" d="M1658 2636l17-21-18-9-17 21z"/><path fill="#0f6" d="M2047 2544l18-13-18-9-18 13zM2011 2549l18-14-18-9-18 14z"/><path fill="#0ec" d="M1693 2625l17-21-18-9-17 20z"/><path fill="#0f7" d="M1976 2555l17-15-17-9-18 15z"/><path fill="#0eb" d="M1728 2614l17-20-18-9-17 19z"/><path fill="#0ea" d="M1763 2604l18-19-18-10-18 19z"/><path fill="#0f7" d="M1940 2562l18-16-18-9-18 16zM1905 2569l17-16-18-10-17 17z"/><path fill="#0e9" d="M1798 2594l18-18-18-10-17 19z"/><path fill="#0e8" d="M1869 2577l18-17-18-9-18 16zM1834 2585l17-18-18-9-17 18z"/><path fill="#0f5" d="M2172 2541l18-12-18-8-18 11z"/><path fill="#08f" d="M1536 2698l17-24-18-9-16 23z"/><path fill="#0f5" d="M2136 2545l18-13-18-9-18 13z"/><path fill="#09f" d="M1571 2684l17-23-18-10-17 23z"/><path fill="#0f6" d="M2100 2549l18-13-18-9-17 13z"/><path fill="#0bf" d="M1606 2671l17-23-18-9-17 22z"/><path fill="#0f6" d="M2065 2553l18-13-18-9-18 13z"/><path fill="#0cf" d="M1640 2658l18-22-18-9-17 21z"/><path fill="#0f6" d="M2029 2559l18-15-18-9-18 14z"/><path fill="#0ee" d="M1675 2646l18-21-18-10-17 21z"/><path fill="#0f7" d="M1994 2564l17-15-18-9-17 15z"/><path fill="#0ed" d="M1711 2634l17-20-18-10-17 21z"/><path fill="#0f7" d="M1958 2571l18-16-18-9-18 16z"/><path fill="#0eb" d="M1746 2623l17-19-18-10-17 20z"/><path fill="#0f8" d="M1923 2578l17-16-18-9-17 16z"/><path fill="#0ea" d="M1781 2613l17-19-17-9-18 19z"/><path fill="#0e8" d="M1887 2586l18-17-18-9-18 17z"/><path fill="#0e9" d="M1816 2603l18-18-18-9-18 18zM1852 2594l17-17-18-10-17 18z"/><path fill="#0f5" d="M2154 2554l18-13-18-9-18 13z"/><path fill="#08f" d="M1554 2708l17-24-18-10-17 24z"/><path fill="#0f6" d="M2118 2558l18-13-18-9-18 13z"/><path fill="#09f" d="M1589 2694l17-23-18-10-17 23z"/><path fill="#0f6" d="M2083 2562l17-13-17-9-18 13z"/><path fill="#0bf" d="M1623 2681l17-23-17-10-17 23z"/><path fill="#0f6" d="M2047 2568l18-15-18-9-18 15z"/><path fill="#0cf" d="M1658 2668l17-22-17-10-18 22z"/><path fill="#0ee" d="M1693 2656l18-22-18-9-18 21z"/><path fill="#0f7" d="M2011 2574l18-15-18-10-17 15zM1976 2580l18-16-18-9-18 16z"/><path fill="#0ed" d="M1728 2644l18-21-18-9-17 20z"/><path fill="#0f8" d="M1940 2588l18-17-18-9-17 16z"/><path fill="#0eb" d="M1763 2633l18-20-18-9-17 19z"/><path fill="#0ea" d="M1799 2623l17-20-18-9-17 19z"/><path fill="#0e8" d="M1905 2595l18-17-18-9-18 17z"/><path fill="#0e9" d="M1869 2604l18-18-18-9-17 17zM1834 2613l18-19-18-9-18 18z"/><path fill="#0f6" d="M2136 2567l18-13-18-9-18 13z"/><path fill="#08f" d="M1572 2718l17-24-18-10-17 24z"/><path fill="#0f6" d="M2101 2572l17-14-18-9-17 13z"/><path fill="#09f" d="M1606 2704l17-23-17-10-17 23z"/><path fill="#0f7" d="M2065 2577l18-15-18-9-18 15z"/><path fill="#0bf" d="M1641 2691l17-23-18-10-17 23z"/><path fill="#0f7" d="M2029 2583l18-15-18-9-18 15z"/><path fill="#0cf" d="M1676 2678l17-22-18-10-17 22z"/><path fill="#0f7" d="M1994 2590l17-16-17-10-18 16z"/><path fill="#0ee" d="M1711 2665l17-21-17-10-18 22z"/><path fill="#0ed" d="M1746 2654l17-21-17-10-18 21z"/><path fill="#0f8" d="M1958 2597l18-17-18-9-18 17z"/><path fill="#0e8" d="M1923 2605l17-17-17-10-18 17z"/><path fill="#0eb" d="M1781 2643l18-20-18-10-18 20z"/><path fill="#0e9" d="M1887 2613l18-18-18-9-18 18z"/><path fill="#0ea" d="M1817 2632l17-19-18-10-17 20z"/><path fill="#0e9" d="M1852 2622l17-18-17-10-18 19z"/><path fill="#0f6" d="M2119 2581l17-14-18-9-17 14z"/><path fill="#08f" d="M1589 2729l17-25-17-10-17 24z"/><path fill="#0f7" d="M2083 2586l18-14-18-10-18 15z"/><path fill="#09f" d="M1624 2714l17-23-18-10-17 23z"/><path fill="#0f7" d="M2047 2592l18-15-18-9-18 15z"/><path fill="#0af" d="M1659 2701l17-23-18-10-17 23z"/><path fill="#0f7" d="M2012 2599l17-16-18-9-17 16z"/><path fill="#0cf" d="M1694 2688l17-23-18-9-17 22z"/><path fill="#0f8" d="M1976 2606l18-16-18-10-18 17z"/><path fill="#0ee" d="M1729 2675l17-21-18-10-17 21z"/><path fill="#0e8" d="M1941 2614l17-17-18-9-17 17z"/><path fill="#0ed" d="M1764 2664l17-21-18-10-17 21z"/><path fill="#0e9" d="M1905 2623l18-18-18-10-18 18z"/><path fill="#0eb" d="M1799 2652l18-20-18-9-18 20z"/><path fill="#0ea" d="M1834 2642l18-20-18-9-17 19z"/><path fill="#0e9" d="M1870 2632l17-19-18-9-17 18z"/><path fill="#0f7" d="M2101 2596l18-15-18-9-18 14z"/><path fill="#08f" d="M1607 2739l17-25-18-10-17 25z"/><path fill="#09f" d="M1642 2724l17-23-18-10-17 23z"/><path fill="#0f7" d="M2065 2602l18-16-18-9-18 15zM2030 2608l17-16-18-9-17 16z"/><path fill="#0af" d="M1676 2711l18-23-18-10-17 23z"/><path fill="#0e8" d="M1994 2616l18-17-18-9-18 16z"/><path fill="#0cf" d="M1711 2698l18-23-18-10-17 23z"/><path fill="#0e8" d="M1958 2624l18-18-18-9-17 17z"/><path fill="#0de" d="M1746 2685l18-21-18-10-17 21z"/><path fill="#0e9" d="M1923 2632l18-18-18-9-18 18z"/><path fill="#0ed" d="M1782 2673l17-21-18-9-17 21z"/><path fill="#0ea" d="M1887 2642l18-19-18-10-17 19z"/><path fill="#0ec" d="M1817 2662l17-20-17-10-18 20z"/><path fill="#0ea" d="M1852 2652l18-20-18-10-18 20z"/><path fill="#07f" d="M1625 2749l17-25-18-10-17 25z"/><path fill="#0f7" d="M2083 2611l18-15-18-10-18 16z"/><path fill="#09f" d="M1659 2735l17-24-17-10-17 23z"/><path fill="#0f7" d="M2047 2618l18-16-18-10-17 16z"/><path fill="#0e8" d="M2012 2625l18-17-18-9-18 17z"/><path fill="#0af" d="M1694 2721l17-23-17-10-18 23z"/><path fill="#0e8" d="M1976 2633l18-17-18-10-18 18z"/><path fill="#0cf" d="M1729 2708l17-23-17-10-18 23z"/><path fill="#0de" d="M1764 2695l18-22-18-9-18 21z"/><path fill="#0e9" d="M1941 2642l17-18-17-10-18 18z"/><path fill="#0ea" d="M1905 2651l18-19-18-9-18 19z"/><path fill="#0ed" d="M1799 2683l18-21-18-10-17 21z"/><path fill="#0ec" d="M1835 2672l17-20-18-10-17 20z"/><path fill="#0ea" d="M1870 2661l17-19-17-10-18 20z"/><path fill="#0f7" d="M2065 2627l18-16-18-9-18 16z"/><path fill="#07f" d="M1642 2759l17-24-17-11-17 25z"/><path fill="#0e8" d="M2030 2635l17-17-17-10-18 17z"/><path fill="#09f" d="M1677 2745l17-24-18-10-17 24z"/><path fill="#0e8" d="M1994 2643l18-18-18-9-18 17z"/><path fill="#0af" d="M1712 2731l17-23-18-10-17 23z"/><path fill="#0e9" d="M1959 2652l17-19-18-9-17 18z"/><path fill="#0cf" d="M1747 2718l17-23-18-10-17 23z"/><path fill="#0ea" d="M1923 2661l18-19-18-10-18 19z"/><path fill="#0de" d="M1782 2705l17-22-17-10-18 22z"/><path fill="#0eb" d="M1888 2671l17-20-18-9-17 19z"/><path fill="#0ed" d="M1817 2693l18-21-18-10-18 21z"/><path fill="#0ec" d="M1852 2682l18-21-18-9-17 20z"/><path fill="#0e8" d="M2047 2645l18-18-18-9-17 17z"/><path fill="#07f" d="M1660 2769l17-24-18-10-17 24z"/><path fill="#09f" d="M1695 2755l17-24-18-10-17 24z"/><path fill="#0e8" d="M2012 2653l18-18-18-10-18 18z"/><path fill="#0e9" d="M1976 2662l18-19-18-10-17 19z"/><path fill="#0af" d="M1730 2741l17-23-18-10-17 23z"/><path fill="#0ea" d="M1941 2671l18-19-18-10-18 19z"/><path fill="#0cf" d="M1765 2728l17-23-18-10-17 23z"/><path fill="#0de" d="M1800 2715l17-22-18-10-17 22z"/><path fill="#0eb" d="M1906 2681l17-20-18-10-17 20z"/><path fill="#0ec" d="M1870 2692l18-21-18-10-18 21z"/><path fill="#0ed" d="M1835 2703l17-21-17-10-18 21z"/><path fill="#07f" d="M1678 2780l17-25-18-10-17 24z"/><path fill="#0e9" d="M2030 2662l17-17-17-10-18 18zM1994 2671l18-18-18-10-18 19z"/><path fill="#09f" d="M1712 2765l18-24-18-10-17 24z"/><path fill="#0ea" d="M1959 2681l17-19-17-10-18 19z"/><path fill="#0af" d="M1747 2751l18-23-18-10-17 23z"/><path fill="#0eb" d="M1923 2691l18-20-18-10-17 20z"/><path fill="#0bf" d="M1782 2738l18-23-18-10-17 23z"/><path fill="#0df" d="M1817 2725l18-22-18-10-17 22z"/><path fill="#0ec" d="M1888 2702l18-21-18-10-18 21z"/><path fill="#0ee" d="M1853 2713l17-21-18-10-17 21z"/><path fill="#0e9" d="M2012 2681l18-19-18-9-18 18z"/><path fill="#07f" d="M1695 2790l17-25-17-10-17 25z"/><path fill="#0ea" d="M1977 2691l17-20-18-9-17 19z"/><path fill="#08f" d="M1730 2776l17-25-17-10-18 24z"/><path fill="#0eb" d="M1941 2701l18-20-18-10-18 20z"/><path fill="#0af" d="M1765 2762l17-24-17-10-18 23z"/><path fill="#0ec" d="M1906 2712l17-21-17-10-18 21z"/><path fill="#0bf" d="M1800 2748l17-23-17-10-18 23z"/><path fill="#0ee" d="M1870 2723l18-21-18-10-17 21z"/><path fill="#0df" d="M1835 2735l18-22-18-10-18 22z"/><path fill="#07f" d="M1713 2801l17-25-18-11-17 25z"/><path fill="#0ea" d="M1994 2701l18-20-18-10-17 20z"/><path fill="#0eb" d="M1959 2711l18-20-18-10-18 20z"/><path fill="#08f" d="M1748 2786l17-24-18-11-17 25z"/><path fill="#0ec" d="M1923 2722l18-21-18-10-17 21z"/><path fill="#0af" d="M1783 2772l17-24-18-10-17 24z"/><path fill="#0ee" d="M1888 2733l18-21-18-10-18 21z"/><path fill="#0bf" d="M1818 2758l17-23-18-10-17 23z"/><path fill="#0df" d="M1853 2746l17-23-17-10-18 22z"/><path fill="#0eb" d="M1977 2721l17-20-17-10-18 20z"/><path fill="#07f" d="M1730 2811l18-25-18-10-17 25z"/><path fill="#08f" d="M1765 2797l18-25-18-10-17 24z"/><path fill="#0ed" d="M1941 2732l18-21-18-10-18 21z"/><path fill="#0ee" d="M1906 2744l17-22-17-10-18 21z"/><path fill="#09f" d="M1800 2782l18-24-18-10-17 24z"/><path fill="#0cf" d="M1871 2756l17-23-18-10-17 23z"/><path fill="#0bf" d="M1835 2769l18-23-18-11-17 23z"/><path fill="#07f" d="M1748 2822l17-25-17-11-18 25z"/><path fill="#0ed" d="M1959 2742l18-21-18-10-18 21z"/><path fill="#0ee" d="M1924 2754l17-22-18-10-17 22z"/><path fill="#08f" d="M1783 2807l17-25-17-10-18 25z"/><path fill="#0cf" d="M1888 2766l18-22-18-11-17 23z"/><path fill="#09f" d="M1818 2793l17-24-17-11-18 24z"/><path fill="#0bf" d="M1853 2779l18-23-18-10-18 23z"/><path fill="#07f" d="M1766 2833l17-26-18-10-17 25z"/><path fill="#0ee" d="M1941 2764l18-22-18-10-17 22z"/><path fill="#0cf" d="M1906 2777l18-23-18-10-18 22z"/><path fill="#08f" d="M1801 2818l17-25-18-11-17 25z"/><path fill="#0bf" d="M1871 2790l17-24-17-10-18 23z"/><path fill="#09f" d="M1836 2803l17-24-18-10-17 24z"/><path fill="#0cf" d="M1924 2787l17-23-17-10-18 23z"/><path fill="#06f" d="M1783 2843l18-25-18-11-17 26z"/><path fill="#0af" d="M1889 2800l17-23-18-11-17 24z"/><path fill="#08f" d="M1818 2828l18-25-18-10-17 25z"/><path fill="#09f" d="M1853 2814l18-24-18-11-17 24z"/><path fill="#06f" d="M1801 2854l17-26-17-10-18 25z"/><path fill="#0af" d="M1906 2811l18-24-18-10-17 23z"/><path fill="#09f" d="M1871 2824l18-24-18-10-18 24z"/><path fill="#08f" d="M1836 2839l17-25-17-11-18 25z"/><path fill="#06f" d="M1819 2865l17-26-18-11-17 26z"/><path fill="#09f" d="M1889 2835l17-24-17-11-18 24z"/><path fill="#08f" d="M1854 2850l17-26-18-10-17 25z"/><path fill="#06f" d="M1836 2876l18-26-18-11-17 26z"/><path fill="#07f" d="M1871 2861l18-26-18-11-17 26z"/><path fill="#06f" d="M1854 2887l17-26-17-11-18 26z"/></g>
<text class="t" x="111.7" y="265.4" text-anchor="end">0.5</text>
<text class="t" x="110.5" y="248.5" text-anchor="end">1.1</text>
<text class="t" x="109.3" y="231.6" text-anchor="end">1.8</text>
<text class="t" x="108.2" y="214.7" text-anchor="end">2.4</text>
<text class="t" x="107" y="197.8" text-anchor="end">3.0</text>
<text class="t" x="113.4" y="294.6" text-anchor="end">289</text>
<text class="t" x="130.4" y="304.8" text-anchor="end">280</text>
<text class="t" x="147.4" y="315" text-anchor="end">272</text>
<text class="t" x="164.4" y="325.1" text-anchor="end">263</text>
<text class="t" x="181.4" y="335.3" text-anchor="end">255</text>
<text class="t" x="189.4" y="335.3">500</text>
<text class="t" x="206.2" y="325.1">1125</text>
<text class="t" x="223" y="315">1750</text>
<text class="t" x="239.8" y="304.8">2375</text>
<text class="t" x="256.6" y="294.6">3000</text>
<text class="ti" x="127.8" y="326.6" font-size="13" text-anchor="middle" transform="rotate(15 127.8 323.6)">σ</text>
<text class="ti" x="248.8" y="324.6" font-size="12" text-anchor="middle" transform="rotate(-55 248.8 321.6)">ω</text>
<text class="ti" x="184.6" y="183.5" font-size="11" text-anchor="middle">(d)</text>
<text class="ti" x="84.7" y="241.3" font-size="12" text-anchor="middle" transform="rotate(-90 84.7 238.3)"><tspan font-size="6.5" dy="-3.5">c</tspan><tspan dy="3.5">R</tspan><tspan font-size="6.5" dy="1.5">a</tspan></text>
</g>
<g>
<path class="g" d="M295.2 263.7L365.1 232.1"/>
<path class="g" d="M365.1 232.1L431.9 266.8"/>
<path class="g" d="M293.9 247.4L365.1 217"/>
<path class="g" d="M365.1 217L433.2 250.3"/>
<path class="g" d="M292.6 231L365.1 201.9"/>
<path class="g" d="M365.1 201.9L434.5 233.7"/>
<path class="g" d="M291.3 214.7L365.1 186.8"/>
<path class="g" d="M365.1 186.8L435.7 217.2"/>
<path class="g" d="M290 198.3L365.1 171.7"/>
<path class="g" d="M365.1 171.7L437 200.7"/>
<path class="g" d="M312.7 255.8L308.8 191.7"/>
<path class="g" d="M415.2 258.1L419 193.4"/>
<path class="g" d="M330.2 247.9L327.6 185"/>
<path class="g" d="M398.5 249.4L401.1 186.2"/>
<path class="g" d="M347.6 240L346.3 178.3"/>
<path class="g" d="M381.8 240.7L383.1 178.9"/>
<path class="g" d="M296.8 283.4L290 198.3"/>
<path class="g" d="M365.1 250.2L365.1 171.7"/>
<path class="g" d="M430.4 286.7L437 200.7"/>
<path class="k" d="M295.2 263.7L293.4 263.7"/>
<path class="k" d="M293.9 247.4L292.1 247.4"/>
<path class="k" d="M292.6 231L290.8 231"/>
<path class="k" d="M291.3 214.7L289.5 214.7"/>
<path class="k" d="M290 198.3L288.2 198.3"/>
<path class="fl" d="M296.8 283.4L365.1 250.2L430.4 286.7L360.8 328.6Z"/>
<clipPath id="fe"><path class="" d="M296.8 283.4L365.1 250.2L430.4 286.7L360.8 328.6Z"/></clipPath>
<g clip-path="url(#fe)"><path class="ct" d="M322.5 267.2C323.1 267.7 324.8 269.6 326 270.3C327.2 271 328.8 271.3 330 271.1C331.2 270.9 332.7 269.9 333.5 269C334.3 268.1 334.8 266.1 335 265.5M301 281.5C303.5 281.8 310.9 282.1 316.1 283.2C321.3 284.3 327.4 286.3 332.2 288C337 289.7 341.1 291.6 345.1 293.6C349.1 295.6 352.8 297.4 356.4 300.1C359.9 302.9 363.5 307.2 366.4 310.1C369.3 313 371.9 316.4 374 317.7C376.1 319 378.2 317.9 379 318M355 261.7C358.2 263.1 367.7 267.8 374 270.2C380.3 272.6 386.7 274.1 393 275.9C399.3 277.6 406 279.1 412 280.7C418 282.3 426.2 284.6 429.1 285.4M427.5 289C424.9 289.2 417.8 290.2 412 290.2C406.2 290.2 398.1 289.2 393 289.2C387.9 289.2 384.1 289.6 381.6 290.2C379.1 290.8 378.3 291.6 377.8 293C377.3 294.4 377.9 296.6 378.8 298.7C379.8 300.8 381.7 303.2 383.5 305.4C385.3 307.6 388.5 310.7 389.5 311.8"/></g>
<path class="k" d="M344.8 317.3L343.8 317.9"/>
<path class="k" d="M378.2 318.1L379.1 318.7"/>
<path class="k" d="M328.8 306L327.8 306.5"/>
<path class="k" d="M395.6 307.6L396.5 308.2"/>
<path class="k" d="M312.8 294.7L311.8 295.2"/>
<path class="k" d="M413 297.2L413.9 297.7"/>
<g class="sf" stroke-width="2.2" transform="scale(.1)"><path fill="#0f0" d="M3650 1954l18-15-17-9-18 15zM3632 1969l18-15-17-9-19 15zM3668 1963l18-15-18-9-18 15zM3614 1984l18-15-18-9-18 15zM3649 1978l19-15-18-9-18 15zM3685 1972l19-15-18-9-18 15zM3595 1998l19-14-18-9-18 14zM3631 1993l18-15-17-9-18 15zM3667 1987l18-15-17-9-19 15zM3703 1982l18-16-17-9-19 15zM3577 2012l18-14-17-9-18 14zM3613 2007l18-14-17-9-19 14zM3649 2002l18-15-18-9-18 15zM3684 1997l19-15-18-10-18 15zM3720 1991l19-16-18-9-18 16zM3559 2026l18-14-17-9-18 14zM3595 2021l18-14-18-9-18 14zM3630 2017l19-15-18-9-18 14zM3666 2011l18-14-17-10-18 15zM3702 2006l18-15-17-9-19 15zM3738 2000l18-15-17-10-19 16zM3541 2039l18-13-17-9-18 13zM3576 2035l19-14-18-9-18 14zM3612 2031l18-14-17-10-18 14zM3648 2026l18-15-17-9-19 15zM3683 2021l19-15-18-9-18 14zM3719 2015l19-15-18-9-18 15zM3755 2009l19-15-18-9-18 15zM3523 2052l18-13-17-9-19 13zM3558 2048l18-13-17-9-18 13zM3594 2044l18-13-17-10-19 14zM3629 2040l19-14-18-9-18 14zM3665 2035l18-14-17-10-18 15zM3701 2030l18-15-17-9-19 15zM3737 2024l18-15-17-9-19 15zM3773 2019l18-16-17-9-19 15zM3505 2065l18-13-18-9-18 13zM3540 2061l18-13-17-9-18 13zM3576 2057l18-13-18-9-18 13zM3611 2053l18-13-17-9-18 13zM3647 2049l18-14-17-9-19 14zM3683 2044l18-14-18-9-18 14zM3718 2039l19-15-18-9-18 15zM3754 2034l19-15-18-10-18 15zM3790 2028l18-16-17-9-18 16zM3487 2077l18-12-18-9-18 12zM3522 2074l18-13-17-9-18 13zM3557 2070l19-13-18-9-18 13zM3593 2067l18-14-17-9-18 13zM3629 2063l18-14-18-9-18 13zM3664 2058l19-14-18-9-18 14zM3700 2053l18-14-17-9-18 14zM3736 2048l18-14-17-10-19 15zM3772 2043l18-15-17-9-19 15zM3807 2037l19-15-18-10-18 16zM3468 2089l19-12-18-9-18 12zM3504 2086l18-12-17-9-18 12zM3539 2083l18-13-17-9-18 13zM3575 2080l18-13-17-10-19 13zM3610 2076l19-13-18-10-18 14zM3646 2072l18-14-17-9-18 14zM3682 2067l18-14-17-9-19 14zM3717 2063l19-15-18-9-18 14zM3753 2058l19-15-18-9-18 14zM3789 2052l18-15-17-9-18 15zM3825 2046l18-15-17-9-19 15zM3450 2100l18-11-17-9-18 11zM3486 2098l18-12-17-9-19 12zM3521 2095l18-12-17-9-18 12zM3557 2092l18-12-18-10-18 13zM3592 2089l18-13-17-9-18 13zM3628 2085l18-13-17-9-19 13zM3663 2081l19-14-18-9-18 14zM3699 2077l18-14-17-10-18 14zM3735 2072l18-14-17-10-19 15z"/><path fill="#0f1" d="M3432 2112l18-12-17-9-18 11z"/><path fill="#0f0" d="M3771 2067l18-15-17-9-19 15zM3806 2061l19-15-18-9-18 15zM3842 2056l19-16-18-9-18 15zM3468 2110l18-12-18-9-18 11zM3503 2107l18-12-17-9-18 12zM3538 2104l19-12-18-9-18 12zM3574 2101l18-12-17-9-18 12zM3609 2098l19-13-18-9-18 13zM3645 2094l18-13-17-9-18 13zM3681 2090l18-13-17-10-19 14z"/><path fill="#0f1" d="M3414 2122l18-10-17-10-18 11z"/><path fill="#0f0" d="M3716 2086l19-14-18-9-18 14zM3752 2081l19-14-18-9-18 14zM3788 2076l18-15-17-9-18 15zM3824 2071l18-15-17-10-19 15z"/><path fill="#0f1" d="M3450 2121l18-11-18-10-18 12z"/><path fill="#0f0" d="M3860 2065l18-15-17-10-19 16z"/><path fill="#0f1" d="M3485 2119l18-12-17-9-18 12z"/><path fill="#0f0" d="M3520 2116l18-12-17-9-18 12zM3556 2114l18-13-17-9-19 12zM3591 2111l18-13-17-9-18 12zM3627 2107l18-13-17-9-19 13zM3662 2104l19-14-18-9-18 13z"/><path fill="#0f1" d="M3396 2133l18-11-17-9-18 11z"/><path fill="#0f0" d="M3698 2099l18-13-17-9-18 13zM3734 2095l18-14-17-9-19 14z"/><path fill="#0f1" d="M3432 2131l18-10-18-9-18 10z"/><path fill="#0f0" d="M3769 2090l19-14-17-9-19 14zM3805 2085l19-14-18-10-18 15zM3841 2080l19-15-18-9-18 15zM3877 2075l19-16-18-9-18 15z"/><path fill="#0f1" d="M3467 2130l18-11-17-9-18 11zM3502 2128l18-12-17-9-18 12z"/><path fill="#0f0" d="M3538 2125l18-11-18-10-18 12zM3573 2123l18-12-17-10-18 13zM3609 2120l18-13-18-9-18 13z"/><path fill="#0f1" d="M3378 2143l18-10-17-9-18 10z"/><path fill="#0f0" d="M3644 2116l18-12-17-10-18 13zM3680 2113l18-14-17-9-19 14zM3715 2109l19-14-18-9-18 13z"/><path fill="#0f1" d="M3413 2142l19-11-18-9-18 11z"/><path fill="#0f0" d="M3751 2104l18-14-17-9-18 14zM3787 2100l18-15-17-9-19 14zM3823 2095l18-15-17-9-19 14z"/><path fill="#0f1" d="M3449 2141l18-11-17-9-18 10z"/><path fill="#0f0" d="M3859 2090l18-15-17-10-19 15zM3895 2084l18-15-17-10-19 16z"/><path fill="#0f1" d="M3484 2139l18-11-17-9-18 11zM3519 2137l19-12-18-9-18 12z"/><path fill="#0f0" d="M3555 2135l18-12-17-9-18 11zM3590 2132l19-12-18-9-18 12z"/><path fill="#0f1" d="M3360 2153l18-10-17-9-18 10z"/><path fill="#0f0" d="M3626 2129l18-13-17-9-18 13zM3661 2126l19-13-18-9-18 12z"/><path fill="#0f1" d="M3395 2152l18-10-17-9-18 10z"/><path fill="#0f0" d="M3697 2122l18-13-17-10-18 14zM3733 2118l18-14-17-9-19 14zM3768 2114l19-14-18-10-18 14z"/><path fill="#0f1" d="M3431 2151l18-10-17-10-19 11z"/><path fill="#0f0" d="M3804 2109l19-14-18-10-18 15zM3840 2104l19-14-18-10-18 15zM3876 2099l19-15-18-9-18 15zM3912 2093l19-15-18-9-18 15z"/><path fill="#0f1" d="M3466 2150l18-11-17-9-18 11zM3501 2148l18-11-17-9-18 11zM3537 2146l18-11-17-10-19 12z"/><path fill="#0f0" d="M3572 2144l18-12-17-9-18 12z"/><path fill="#0f1" d="M3342 2162l18-9-17-9-18 9z"/><path fill="#0f0" d="M3608 2141l18-12-17-9-19 12z"/><path fill="#0f1" d="M3377 2162l18-10-17-9-18 10z"/><path fill="#0f0" d="M3643 2138l18-12-17-10-18 13zM3679 2135l18-13-17-9-19 13zM3714 2131l19-13-18-9-18 13z"/><path fill="#0f1" d="M3413 2161l18-10-18-9-18 10z"/><path fill="#0f0" d="M3750 2127l18-13-17-10-18 14zM3786 2123l18-14-17-9-19 14zM3822 2119l18-15-17-9-19 14zM3857 2114l19-15-17-9-19 14z"/><path fill="#0f1" d="M3448 2160l18-10-17-9-18 10z"/><path fill="#0f0" d="M3893 2108l19-15-17-9-19 15zM3929 2103l19-16-17-9-19 15z"/><path fill="#0f1" d="M3483 2159l18-11-17-9-18 11zM3519 2157l18-11-18-9-18 11z"/><path fill="#0f2" d="M3324 2171l18-9-17-9-18 9z"/><path fill="#0f1" d="M3554 2155l18-11-17-9-18 11z"/><path fill="#0f0" d="M3589 2153l19-12-18-9-18 12z"/><path fill="#0f1" d="M3359 2171l18-9-17-9-18 9z"/><path fill="#0f0" d="M3625 2150l18-12-17-9-18 12zM3660 2148l19-13-18-9-18 12z"/><path fill="#0f1" d="M3394 2171l19-10-18-9-18 10z"/><path fill="#0f0" d="M3696 2144l18-13-17-9-18 13zM3732 2141l18-14-17-9-19 13zM3767 2137l19-14-18-9-18 13z"/><path fill="#0f1" d="M3430 2170l18-10-17-9-18 10z"/><path fill="#0f0" d="M3803 2133l19-14-18-10-18 14zM3839 2128l18-14-17-10-18 15zM3875 2123l18-15-17-9-19 15zM3947 2112l18-15-17-10-19 16zM3911 2118l18-15-17-10-19 15z"/><path fill="#0f1" d="M3465 2169l18-10-17-9-18 10zM3500 2168l19-11-18-9-18 11z"/><path fill="#0f2" d="M3306 2179l18-8-17-9-18 8z"/><path fill="#0f1" d="M3536 2166l18-11-17-9-18 11zM3571 2165l18-12-17-9-18 11z"/><path fill="#0f2" d="M3341 2180l18-9-17-9-18 9z"/><path fill="#0f1" d="M3607 2162l18-12-17-9-19 12zM3376 2180l18-9-17-9-18 9z"/><path fill="#0f0" d="M3642 2160l18-12-17-10-18 12zM3678 2157l18-13-17-9-19 13zM3713 2154l19-13-18-10-18 13z"/><path fill="#0f1" d="M3412 2180l18-10-17-9-19 10z"/><path fill="#0f0" d="M3749 2150l18-13-17-10-18 14zM3785 2146l18-13-17-10-19 14zM3820 2142l19-14-17-9-19 14zM3856 2137l19-14-18-9-18 14zM3964 2122l19-16-18-9-18 15z"/><path fill="#0f1" d="M3447 2179l18-10-17-9-18 10z"/><path fill="#0f0" d="M3892 2133l19-15-18-10-18 15zM3928 2127l19-15-18-9-18 15z"/><path fill="#0f1" d="M3482 2178l18-10-17-9-18 10z"/><path fill="#0f2" d="M3288 2188l18-9-17-9-18 9z"/><path fill="#0f1" d="M3518 2177l18-11-17-9-19 11z"/><path fill="#0f2" d="M3323 2188l18-8-17-9-18 8z"/><path fill="#0f1" d="M3553 2176l18-11-17-10-18 11zM3588 2174l19-12-18-9-18 12z"/><path fill="#0f2" d="M3358 2189l18-9-17-9-18 9z"/><path fill="#0f1" d="M3624 2172l18-12-17-10-18 12z"/><path fill="#0f0" d="M3659 2169l19-12-18-9-18 12z"/><path fill="#0f2" d="M3394 2189l18-9-18-9-18 9z"/><path fill="#0f0" d="M3695 2166l18-12-17-10-18 13zM3731 2163l18-13-17-9-19 13zM3766 2159l19-13-18-9-18 13z"/><path fill="#0f1" d="M3429 2189l18-10-17-9-18 10z"/><path fill="#0f0" d="M3802 2156l18-14-17-9-18 13zM3838 2151l18-14-17-9-19 14zM3982 2131l18-15-17-10-19 16zM3874 2147l18-14-17-10-19 14zM3946 2137l18-15-17-10-19 15zM3910 2142l18-15-17-9-19 15z"/><path fill="#0f1" d="M3464 2188l18-10-17-9-18 10z"/><path fill="#0f2" d="M3270 2195l18-7-17-9-18 7z"/><path fill="#0f1" d="M3500 2188l18-11-18-9-18 10z"/><path fill="#0f2" d="M3305 2197l18-9-17-9-18 9z"/><path fill="#0f1" d="M3535 2186l18-10-17-10-18 11zM3570 2185l18-11-17-9-18 11z"/><path fill="#0f2" d="M3340 2197l18-8-17-9-18 8z"/><path fill="#0f1" d="M3606 2183l18-11-17-10-19 12zM3641 2181l18-12-17-9-18 12z"/><path fill="#0f2" d="M3375 2198l19-9-18-9-18 9z"/><path fill="#0f0" d="M3677 2178l18-12-17-9-19 12zM3712 2175l19-12-18-9-18 12z"/><path fill="#0f2" d="M3411 2198l18-9-17-9-18 9z"/><path fill="#0f0" d="M3748 2172l18-13-17-9-18 13zM3784 2169l18-13-17-10-19 13zM3819 2165l19-14-18-9-18 14zM3999 2141l19-16-18-9-18 15z"/><path fill="#0f2" d="M3252 2203l18-8-17-9-18 8z"/><path fill="#0f0" d="M3855 2161l19-14-18-10-18 14zM3963 2146l19-15-18-9-18 15zM3891 2156l19-14-18-9-18 14z"/><path fill="#0f1" d="M3446 2198l18-10-17-9-18 10z"/><path fill="#0f0" d="M3927 2151l19-14-18-10-18 15z"/><path fill="#0f1" d="M3481 2197l19-9-18-10-18 10z"/><path fill="#0f2" d="M3287 2204l18-7-17-9-18 7z"/><path fill="#0f1" d="M3517 2197l18-11-17-9-18 11z"/><path fill="#0f2" d="M3322 2206l18-9-17-9-18 9z"/><path fill="#0f1" d="M3552 2196l18-11-17-9-18 10zM3588 2194l18-11-18-9-18 11z"/><path fill="#0f2" d="M3357 2206l18-8-17-9-18 8z"/><path fill="#0f1" d="M3623 2192l18-11-17-9-18 11zM3658 2190l19-12-18-9-18 12z"/><path fill="#0f2" d="M3393 2207l18-9-17-9-19 9z"/><path fill="#0f0" d="M3694 2188l18-13-17-9-18 12zM3730 2185l18-13-17-9-19 12z"/><path fill="#0f2" d="M3234 2210l18-7-17-9-19 7z"/><path fill="#0f0" d="M3765 2182l19-13-18-10-18 13z"/><path fill="#0f2" d="M3428 2207l18-9-17-9-18 9z"/><path fill="#0f0" d="M3801 2178l18-13-17-9-18 13zM4016 2150l19-15-17-10-19 16zM3837 2174l18-13-17-10-19 14zM3980 2156l19-15-17-10-19 15zM3872 2170l19-14-17-9-19 14zM3944 2161l19-15-17-9-19 14zM3908 2166l19-15-17-9-19 14z"/><path fill="#0f1" d="M3463 2207l18-10-17-9-18 10z"/><path fill="#0f2" d="M3269 2212l18-8-17-9-18 8z"/><path fill="#0f1" d="M3499 2207l18-10-17-9-19 9z"/><path fill="#0f2" d="M3304 2213l18-7-17-9-18 7z"/><path fill="#0f1" d="M3534 2206l18-10-17-10-18 11zM3569 2205l19-11-18-9-18 11z"/><path fill="#0f2" d="M3339 2215l18-9-17-9-18 9z"/><path fill="#0f1" d="M3605 2203l18-11-17-9-18 11zM3640 2202l18-12-17-9-18 11z"/><path fill="#0f2" d="M3374 2215l19-8-18-9-18 8z"/><path fill="#0f1" d="M3676 2199l18-11-17-10-19 12z"/><path fill="#0f2" d="M3215 2216l19-6-18-9-18 7z"/><path fill="#0f1" d="M3711 2197l19-12-18-10-18 13z"/><path fill="#0f2" d="M3410 2216l18-9-17-9-18 9z"/><path fill="#0f0" d="M3747 2194l18-12-17-10-18 13zM3783 2191l18-13-17-9-19 13zM4034 2160l18-15-17-10-19 15zM3818 2188l19-14-18-9-18 13zM3998 2165l18-15-17-9-19 15zM3854 2184l18-14-17-9-18 13zM3962 2171l18-15-17-10-19 15z"/><path fill="#0f2" d="M3251 2219l18-7-17-9-18 7z"/><path fill="#0f0" d="M3890 2180l18-14-17-10-19 14zM3926 2175l18-14-17-10-19 15z"/><path fill="#0f2" d="M3445 2216l18-9-17-9-18 9z"/><path fill="#0f1" d="M3480 2216l19-9-18-10-18 10z"/><path fill="#0f2" d="M3286 2221l18-8-17-9-18 8z"/><path fill="#0f1" d="M3516 2216l18-10-17-9-18 10z"/><path fill="#0f2" d="M3321 2222l18-7-17-9-18 7z"/><path fill="#0f1" d="M3551 2215l18-10-17-9-18 10zM3587 2214l18-11-17-9-19 11z"/><path fill="#0f2" d="M3356 2224l18-9-17-9-18 9z"/><path fill="#0f1" d="M3622 2213l18-11-17-10-18 11z"/><path fill="#0f2" d="M3197 2223l18-7-17-8-18 6z"/><path fill="#0f1" d="M3657 2211l19-12-18-9-18 12z"/><path fill="#0f2" d="M3392 2225l18-9-17-9-19 8z"/><path fill="#0f1" d="M3693 2209l18-12-17-9-18 11zM3729 2206l18-12-17-9-19 12z"/><path fill="#0f2" d="M3232 2225l19-6-17-9-19 6z"/><path fill="#0f0" d="M3764 2204l19-13-18-9-18 12zM4051 2170l19-16-18-9-18 15z"/><path fill="#0f2" d="M3427 2225l18-9-17-9-18 9z"/><path fill="#0f0" d="M3800 2201l18-13-17-10-18 13zM4015 2175l19-15-18-10-18 15zM3836 2197l18-13-17-10-19 14zM3979 2180l19-15-18-9-18 15zM3871 2193l19-13-18-10-18 14zM3943 2185l19-14-18-10-18 14zM3907 2189l19-14-18-9-18 14z"/><path fill="#0f2" d="M3462 2225l18-9-17-9-18 9zM3268 2228l18-7-17-9-18 7z"/><path fill="#0f1" d="M3498 2225l18-9-17-9-19 9z"/><path fill="#0f2" d="M3303 2230l18-8-17-9-18 8z"/><path fill="#0f1" d="M3533 2225l18-10-17-9-18 10zM3568 2224l19-10-18-9-18 10z"/><path fill="#0f2" d="M3338 2231l18-7-17-9-18 7zM3179 2229l18-6-17-9-18 6z"/><path fill="#0f1" d="M3604 2223l18-10-17-10-18 11zM3639 2222l18-11-17-9-18 11z"/><path fill="#0f2" d="M3373 2233l19-8-18-10-18 9z"/><path fill="#0f1" d="M3675 2220l18-11-17-10-19 12z"/><path fill="#0f2" d="M3214 2232l18-7-17-9-18 7z"/><path fill="#0f1" d="M3710 2218l19-12-18-9-18 12z"/><path fill="#0f2" d="M3409 2234l18-9-17-9-18 9z"/><path fill="#0f1" d="M3746 2216l18-12-17-10-18 12z"/><path fill="#0f0" d="M4068 2179l19-15-17-10-19 16zM3781 2213l19-12-17-10-19 13zM4032 2185l19-15-17-10-19 15zM3817 2210l19-13-18-9-18 13zM3996 2190l19-15-17-10-19 15zM3853 2207l18-14-17-9-18 13zM3960 2194l19-14-17-9-19 14zM3889 2203l18-14-17-9-19 13zM3924 2199l19-14-17-10-19 14z"/><path fill="#0f2" d="M3250 2234l18-6-17-9-19 6zM3444 2234l18-9-17-9-18 9zM3479 2235l19-10-18-9-18 9zM3285 2237l18-7-17-9-18 7z"/><path fill="#0f1" d="M3515 2235l18-10-17-9-18 9z"/><path fill="#0f2" d="M3320 2239l18-8-17-9-18 8z"/><path fill="#0f1" d="M3550 2234l18-10-17-9-18 10z"/><path fill="#0f2" d="M3161 2234l18-5-17-9-18 5z"/><path fill="#0f1" d="M3586 2234l18-11-17-9-19 10z"/><path fill="#0f2" d="M3355 2240l18-7-17-9-18 7z"/><path fill="#0f1" d="M3621 2233l18-11-17-9-18 10z"/><path fill="#0f2" d="M3196 2237l18-5-17-9-18 6z"/><path fill="#0f1" d="M3656 2231l19-11-18-9-18 11z"/><path fill="#0f2" d="M3391 2242l18-8-17-9-19 8z"/><path fill="#0f1" d="M3692 2230l18-12-17-9-18 11zM3727 2228l19-12-17-10-19 12z"/><path fill="#0f0" d="M4086 2189l19-15-18-10-19 15z"/><path fill="#0f2" d="M3231 2240l19-6-18-9-18 7z"/><path fill="#0f1" d="M3763 2225l18-12-17-9-18 12z"/><path fill="#0f0" d="M4050 2194l18-15-17-9-19 15z"/><path fill="#0f2" d="M3426 2243l18-9-17-9-18 9z"/><path fill="#0f1" d="M3799 2222l18-12-17-9-19 12z"/><path fill="#0f0" d="M4014 2199l18-14-17-10-19 15zM3834 2219l19-12-17-10-19 13zM3978 2204l18-14-17-10-19 14zM3870 2216l19-13-18-10-18 14zM3942 2208l18-14-17-9-19 14zM3906 2212l18-13-17-10-18 14z"/><path fill="#0f2" d="M3461 2243l18-8-17-10-18 9zM3267 2243l18-6-17-9-18 6zM3497 2244l18-9-17-10-19 10zM3302 2246l18-7-17-9-18 7z"/><path fill="#0f1" d="M3143 2239l18-5-17-9-19 5z"/><path fill="#0f2" d="M3532 2244l18-10-17-9-18 10z"/><path fill="#0f1" d="M3567 2243l19-9-18-10-18 10z"/><path fill="#0f2" d="M3337 2248l18-8-17-9-18 8z"/><path fill="#0f1" d="M3178 2243l18-6-17-8-18 5zM3603 2243l18-10-17-10-18 11zM3638 2242l18-11-17-9-18 11z"/><path fill="#0f2" d="M3372 2249l19-7-18-9-18 7z"/><path fill="#0f1" d="M3674 2241l18-11-17-10-19 11z"/><path fill="#0f2" d="M3213 2246l18-6-17-8-18 5z"/><path fill="#0f1" d="M3709 2239l18-11-17-10-18 12z"/><path fill="#0f0" d="M4103 2199l19-16-17-9-19 15z"/><path fill="#0f2" d="M3408 2251l18-8-17-9-18 8z"/><path fill="#0f1" d="M3745 2237l18-12-17-9-19 12z"/><path fill="#0f0" d="M4067 2204l19-15-18-10-18 15z"/><path fill="#0f1" d="M3780 2235l19-13-18-9-18 12z"/><path fill="#0f0" d="M4031 2209l19-15-18-9-18 14z"/><path fill="#0f1" d="M3816 2232l18-13-17-9-18 12z"/><path fill="#0f0" d="M3995 2214l19-15-18-9-18 14zM3852 2229l18-13-17-9-19 12zM3959 2218l19-14-18-10-18 14zM3887 2226l19-14-17-9-19 13zM3923 2222l19-14-18-9-18 13z"/><path fill="#0f2" d="M3248 2249l19-6-17-9-19 6zM3443 2252l18-9-17-9-18 9zM3478 2253l19-9-18-9-18 8z"/><path fill="#0f1" d="M3124 2244l19-5-18-9-18 5z"/><path fill="#0f2" d="M3284 2252l18-6-17-9-18 6zM3514 2253l18-9-17-9-18 9zM3549 2253l18-10-17-9-18 10zM3319 2255l18-7-17-9-18 7z"/><path fill="#0f1" d="M3160 2248l18-5-17-9-18 5zM3585 2253l18-10-17-9-19 9z"/><path fill="#0f2" d="M3354 2257l18-8-17-9-18 8z"/><path fill="#0f1" d="M3620 2252l18-10-17-9-18 10zM3195 2252l18-6-17-9-18 6zM3655 2251l19-10-18-10-18 11z"/><path fill="#0f2" d="M3390 2258l18-7-17-9-19 7z"/><path fill="#0f1" d="M3691 2250l18-11-17-9-18 11z"/><path fill="#0f0" d="M4120 2208l19-15-17-10-19 16z"/><path fill="#0f1" d="M3726 2248l19-11-18-9-18 11z"/><path fill="#0f0" d="M4084 2214l19-15-17-10-19 15z"/><path fill="#0f1" d="M3762 2246l18-11-17-10-18 12z"/><path fill="#0f0" d="M4048 2219l19-15-17-10-19 15z"/><path fill="#0f2" d="M3230 2255l18-6-17-9-18 6zM3425 2260l18-8-17-9-18 8z"/><path fill="#0f1" d="M3798 2244l18-12-17-10-19 13z"/><path fill="#0f0" d="M4012 2223l19-14-17-10-19 15z"/><path fill="#0f1" d="M3833 2241l19-12-18-10-18 13z"/><path fill="#0f0" d="M3976 2228l19-14-17-10-19 14zM3869 2238l18-12-17-10-18 13zM3940 2231l19-13-17-10-19 14zM3905 2235l18-13-17-10-19 14z"/><path fill="#0f1" d="M3106 2248l18-4-17-9-18 4z"/><path fill="#0f2" d="M3460 2261l18-8-17-10-18 9zM3265 2258l19-6-17-9-19 6zM3496 2262l18-9-17-9-19 9zM3301 2261l18-6-17-9-18 6z"/><path fill="#0f1" d="M3141 2252l19-4-17-9-19 5z"/><path fill="#0f2" d="M3531 2262l18-9-17-9-18 9zM3566 2262l19-9-18-10-18 10zM3336 2264l18-7-17-9-18 7z"/><path fill="#0f1" d="M3177 2257l18-5-17-9-18 5zM3602 2262l18-10-17-9-18 10zM3637 2261l18-10-17-9-18 10z"/><path fill="#0f2" d="M3371 2266l19-8-18-9-18 8z"/><path fill="#0f1" d="M3673 2261l18-11-17-9-19 10z"/><path fill="#0f0" d="M4138 2218l19-15-18-10-19 15z"/><path fill="#0f1" d="M3212 2261l18-6-17-9-18 6zM3708 2259l18-11-17-9-18 11z"/><path fill="#0f0" d="M4102 2223l18-15-17-9-19 15z"/><path fill="#0f2" d="M3407 2268l18-8-17-9-18 7z"/><path fill="#0f1" d="M3744 2258l18-12-17-9-19 11z"/><path fill="#0f0" d="M4066 2228l18-14-17-10-19 15z"/><path fill="#0f1" d="M3779 2256l19-12-18-9-18 11z"/><path fill="#0f0" d="M4030 2233l18-14-17-10-19 14z"/><path fill="#0f1" d="M3088 2252l18-4-17-9-18 4zM3815 2253l18-12-17-9-18 12z"/><path fill="#0f0" d="M3994 2237l18-14-17-9-19 14z"/><path fill="#0f1" d="M3850 2251l19-13-17-9-19 12z"/><path fill="#0f0" d="M3958 2241l18-13-17-10-19 13z"/><path fill="#0f1" d="M3886 2248l19-13-18-9-18 12z"/><path fill="#0f0" d="M3922 2245l18-14-17-9-18 13z"/><path fill="#0f2" d="M3442 2269l18-8-17-9-18 8zM3247 2264l18-6-17-9-18 6zM3477 2270l19-8-18-9-18 8z"/><path fill="#0f1" d="M3123 2257l18-5-17-8-18 4z"/><path fill="#0f2" d="M3283 2267l18-6-17-9-19 6zM3513 2271l18-9-17-9-18 9zM3548 2271l18-9-17-9-18 9zM3318 2270l18-6-17-9-18 6z"/><path fill="#0f1" d="M3158 2261l19-4-17-9-19 4z"/><path fill="#0f2" d="M3583 2271l19-9-17-9-19 9zM3353 2273l18-7-17-9-18 7zM3619 2271l18-10-17-9-18 10z"/><path fill="#0f1" d="M3194 2265l18-4-17-9-18 5zM3654 2271l19-10-18-10-18 10z"/><path fill="#0f0" d="M4155 2228l19-16-17-9-19 15z"/><path fill="#0f2" d="M3388 2275l19-7-17-10-19 8z"/><path fill="#0f1" d="M3690 2270l18-11-17-9-18 11z"/><path fill="#0f0" d="M4119 2233l19-15-18-10-18 15z"/><path fill="#0f1" d="M3069 2255l19-3-17-9-19 4zM3725 2269l19-11-18-10-18 11z"/><path fill="#0f0" d="M4083 2238l19-15-18-9-18 14z"/><path fill="#0f1" d="M3761 2267l18-11-17-10-18 12z"/><path fill="#0f0" d="M4047 2243l19-15-18-9-18 14z"/><path fill="#0f1" d="M3229 2269l18-5-17-9-18 6zM3796 2265l19-12-17-9-19 12z"/><path fill="#0f2" d="M3424 2277l18-8-17-9-18 8z"/><path fill="#0f0" d="M4011 2247l19-14-18-10-18 14z"/><path fill="#0f1" d="M3832 2263l18-12-17-10-18 12z"/><path fill="#0f0" d="M3975 2251l19-14-18-9-18 13z"/><path fill="#0f1" d="M3868 2260l18-12-17-10-19 13z"/><path fill="#0f0" d="M3939 2254l19-13-18-10-18 14z"/><path fill="#0f1" d="M3903 2258l19-13-17-10-19 13zM3105 2261l18-4-17-9-18 4z"/><path fill="#0f2" d="M3459 2278l18-8-17-9-18 8z"/><path fill="#0f1" d="M3264 2273l19-6-18-9-18 6z"/><path fill="#0f2" d="M3494 2279l19-8-17-9-19 8zM3300 2276l18-6-17-9-18 6z"/><path fill="#0f1" d="M3140 2265l18-4-17-9-18 5z"/><path fill="#0f2" d="M3530 2280l18-9-17-9-18 9zM3565 2281l18-10-17-9-18 9zM3335 2279l18-6-17-9-18 6zM3601 2281l18-10-17-9-19 9z"/><path fill="#0f1" d="M3175 2270l19-5-17-8-19 4z"/><path fill="#0f2" d="M3636 2281l18-10-17-10-18 10z"/><path fill="#0f0" d="M4172 2238l19-16-17-10-19 16z"/><path fill="#0f2" d="M3370 2282l18-7-17-9-18 7z"/><path fill="#0f1" d="M3051 2258l18-3-17-8-18 3zM3672 2280l18-10-17-9-19 10z"/><path fill="#0f0" d="M4136 2243l19-15-17-10-19 15z"/><path fill="#0f1" d="M3211 2274l18-5-17-8-18 4zM3707 2279l18-10-17-10-18 11z"/><path fill="#0f0" d="M4100 2248l19-15-17-10-19 15z"/><path fill="#0f2" d="M3406 2284l18-7-17-9-19 7z"/><path fill="#0f1" d="M3743 2278l18-11-17-9-19 11z"/><path fill="#0f0" d="M4064 2252l19-14-17-10-19 15z"/><path fill="#0f1" d="M3778 2277l18-12-17-9-18 11z"/><path fill="#0f0" d="M4028 2256l19-13-17-10-19 14z"/><path fill="#0f1" d="M3814 2275l18-12-17-10-19 12z"/><path fill="#0f0" d="M3992 2260l19-13-17-10-19 14z"/><path fill="#0f1" d="M3086 2264l19-3-17-9-19 3zM3849 2272l19-12-18-9-18 12z"/><path fill="#0f0" d="M3956 2264l19-13-17-10-19 13z"/><path fill="#0f1" d="M3885 2270l18-12-17-10-18 12zM3921 2267l18-13-17-9-19 13z"/><path fill="#0f2" d="M3441 2286l18-8-17-9-18 8z"/><path fill="#0f1" d="M3246 2278l18-5-17-9-18 5z"/><path fill="#0f2" d="M3476 2287l18-8-17-9-18 8z"/><path fill="#0f1" d="M3122 2269l18-4-17-8-18 4zM3281 2282l19-6-17-9-19 6z"/><path fill="#0f2" d="M3512 2288l18-8-17-9-19 8zM3547 2289l18-8-17-10-18 9zM3317 2285l18-6-17-9-18 6z"/><path fill="#0f1" d="M3157 2274l18-4-17-9-18 4z"/><path fill="#0f2" d="M3582 2290l19-9-18-10-18 10z"/><path fill="#0f0" d="M3032 2261l19-3-17-8-19 2z"/><path fill="#0f2" d="M3352 2288l18-6-17-9-18 6zM3618 2290l18-9-17-10-18 10z"/><path fill="#0f0" d="M4190 2247l19-15-18-10-19 16z"/><path fill="#0f1" d="M3192 2279l19-5-17-9-19 5z"/><path fill="#0f2" d="M3653 2290l19-10-18-9-18 10z"/><path fill="#0f0" d="M4153 2253l19-15-17-10-19 15z"/><path fill="#0f2" d="M3689 2289l18-10-17-9-18 10zM3387 2291l19-7-18-9-18 7z"/><path fill="#0f0" d="M4117 2257l19-14-17-10-19 15z"/><path fill="#0f1" d="M3068 2267l18-3-17-9-18 3zM3724 2289l19-11-18-9-18 10z"/><path fill="#0f0" d="M4081 2262l19-14-17-10-19 14z"/><path fill="#0f1" d="M3760 2287l18-10-17-10-18 11z"/><path fill="#0f0" d="M4045 2266l19-14-17-9-19 13z"/><path fill="#0f1" d="M3228 2283l18-5-17-9-18 5zM3795 2286l19-11-18-10-18 12z"/><path fill="#0f0" d="M4010 2270l18-14-17-9-19 13z"/><path fill="#0f2" d="M3423 2293l18-7-17-9-18 7z"/><path fill="#0f1" d="M3831 2284l18-12-17-9-18 12zM3974 2273l18-13-17-9-19 13zM3867 2282l18-12-17-10-19 12zM3938 2277l18-13-17-10-18 13zM3902 2279l19-12-18-9-18 12z"/><path fill="#0f2" d="M3458 2295l18-8-17-9-18 8z"/><path fill="#0f1" d="M3103 2273l19-4-17-8-19 3zM3263 2287l18-5-17-9-18 5z"/><path fill="#0f2" d="M3493 2296l19-8-18-9-18 8z"/><path fill="#0f1" d="M3298 2291l19-6-17-9-19 6zM3139 2278l18-4-17-9-18 4z"/><path fill="#0f2" d="M3529 2298l18-9-17-9-18 8z"/><path fill="#0f0" d="M3014 2263l18-2-17-9-18 3z"/><path fill="#0f2" d="M3564 2299l18-9-17-9-18 8zM3334 2294l18-6-17-9-18 6zM3600 2299l18-9-17-9-19 9z"/><path fill="#0f0" d="M4207 2257l19-15-17-10-19 15z"/><path fill="#0f1" d="M3174 2283l18-4-17-9-18 4z"/><path fill="#0f2" d="M3635 2299l18-9-17-9-18 9z"/><path fill="#0f0" d="M4171 2262l19-15-18-9-19 15z"/><path fill="#0f2" d="M3369 2297l18-6-17-9-18 6z"/><path fill="#0f0" d="M3049 2269l19-2-17-9-19 3z"/><path fill="#0f2" d="M3670 2299l19-10-17-9-19 10z"/><path fill="#0f0" d="M4135 2267l18-14-17-10-19 14z"/><path fill="#0f2" d="M3706 2299l18-10-17-10-18 10z"/><path fill="#0f0" d="M4099 2272l18-15-17-9-19 14z"/><path fill="#0f1" d="M3209 2288l19-5-17-9-19 5z"/><path fill="#0f2" d="M3404 2300l19-7-17-9-19 7z"/><path fill="#0f1" d="M3741 2298l19-11-17-9-19 11z"/><path fill="#0f0" d="M4063 2276l18-14-17-10-19 14z"/><path fill="#0f1" d="M3777 2297l18-11-17-9-18 10z"/><path fill="#0f0" d="M4027 2280l18-14-17-10-18 14z"/><path fill="#0f1" d="M3812 2295l19-11-17-9-19 11zM3991 2283l19-13-18-10-18 13zM3848 2294l19-12-18-10-18 12zM3955 2286l19-13-18-9-18 13z"/><path fill="#0f0" d="M3085 2276l18-3-17-9-18 3z"/><path fill="#0f1" d="M3884 2292l18-13-17-9-18 12zM3919 2289l19-12-17-10-19 12z"/><path fill="#0f2" d="M3440 2302l18-7-17-9-18 7z"/><path fill="#0f1" d="M3245 2292l18-5-17-9-18 5z"/><path fill="#0f2" d="M3475 2304l18-8-17-9-18 8z"/><path fill="#0f1" d="M3120 2281l19-3-17-9-19 4zM3280 2296l18-5-17-9-18 5z"/><path fill="#0f2" d="M3511 2306l18-8-17-10-19 8z"/><path fill="#0f0" d="M2995 2265l19-2-17-8-19 1z"/><path fill="#0f2" d="M3546 2307l18-8-17-10-18 9z"/><path fill="#0f1" d="M3315 2300l19-6-17-9-19 6zM3156 2287l18-4-17-9-18 4z"/><path fill="#0f2" d="M3581 2308l19-9-18-9-18 9z"/><path fill="#0f0" d="M4224 2267l19-15-17-10-19 15zM3031 2272l18-3-17-8-18 2z"/><path fill="#0f2" d="M3351 2303l18-6-17-9-18 6zM3617 2308l18-9-17-9-18 9z"/><path fill="#0f0" d="M4188 2272l19-15-17-10-19 15z"/><path fill="#0f2" d="M3652 2309l18-10-17-9-18 9z"/><path fill="#0f1" d="M3191 2292l18-4-17-9-18 4z"/><path fill="#0f0" d="M4152 2277l19-15-18-9-18 14z"/><path fill="#0f2" d="M3688 2309l18-10-17-10-19 10z"/><path fill="#0f0" d="M4116 2281l19-14-18-10-18 15z"/><path fill="#0f2" d="M3386 2306l18-6-17-9-18 6zM3723 2308l18-10-17-9-18 10z"/><path fill="#0f0" d="M4080 2286l19-14-18-10-18 14zM3066 2278l19-2-17-9-19 2z"/><path fill="#0f2" d="M3759 2307l18-10-17-10-19 11z"/><path fill="#0f1" d="M4044 2289l19-13-18-10-18 14zM3794 2306l18-11-17-9-18 11zM3226 2296l19-4-17-9-19 5zM4008 2293l19-13-17-10-19 13z"/><path fill="#0f2" d="M3422 2309l18-7-17-9-19 7z"/><path fill="#0f1" d="M3830 2305l18-11-17-10-19 11zM3972 2296l19-13-17-10-19 13zM3865 2303l19-11-17-10-19 12zM3937 2299l18-13-17-9-19 12zM3901 2301l18-12-17-10-18 13z"/><path fill="#0f2" d="M3457 2311l18-7-17-9-18 7z"/><path fill="#0f0" d="M3102 2284l18-3-17-8-18 3z"/><path fill="#0f1" d="M3262 2301l18-5-17-9-18 5z"/><path fill="#0f0" d="M2976 2266l19-1-17-9-19 2z"/><path fill="#0f2" d="M3492 2313l19-7-18-10-18 8z"/><path fill="#0f1" d="M3297 2305l18-5-17-9-18 5z"/><path fill="#0f2" d="M3528 2315l18-8-17-9-18 8z"/><path fill="#0f1" d="M3137 2290l19-3-17-9-19 3z"/><path fill="#0f0" d="M3012 2273l19-1-17-9-19 2z"/><path fill="#0f2" d="M3563 2316l18-8-17-9-18 8z"/><path fill="#0f0" d="M4241 2277l19-15-17-10-19 15z"/><path fill="#0f1" d="M3333 2309l18-6-17-9-19 6z"/><path fill="#0f2" d="M3598 2317l19-9-17-9-19 9z"/><path fill="#0f0" d="M4205 2282l19-15-17-10-19 15z"/><path fill="#0f1" d="M3173 2295l18-3-17-9-18 4z"/><path fill="#0f2" d="M3634 2318l18-9-17-10-18 9z"/><path fill="#0f0" d="M4169 2287l19-15-17-10-19 15z"/><path fill="#0f2" d="M3368 2312l18-6-17-9-18 6z"/><path fill="#0f0" d="M3048 2280l18-2-17-9-18 3z"/><path fill="#0f2" d="M3669 2318l19-9-18-10-18 10z"/><path fill="#0f0" d="M4133 2291l19-14-17-10-19 14z"/><path fill="#0f2" d="M3705 2318l18-10-17-9-18 10z"/><path fill="#0f0" d="M4097 2295l19-14-17-9-19 14z"/><path fill="#0f1" d="M3208 2301l18-5-17-8-18 4z"/><path fill="#0f2" d="M3740 2318l19-11-18-9-18 10zM3403 2315l19-6-18-9-18 6z"/><path fill="#0f1" d="M4061 2299l19-13-17-10-19 13z"/><path fill="#0f2" d="M3776 2317l18-11-17-9-18 10z"/><path fill="#0f1" d="M4025 2302l19-13-17-9-19 13zM3811 2316l19-11-18-10-18 11zM3990 2306l18-13-17-10-19 13zM3847 2314l18-11-17-9-18 11zM3954 2308l18-12-17-10-18 13zM3883 2313l18-12-17-9-19 11zM3918 2311l19-12-18-10-18 12z"/><path fill="#0f0" d="M3083 2287l19-3-17-8-19 2z"/><path fill="#0f2" d="M3439 2318l18-7-17-9-18 7z"/><path fill="#0f0" d="M2958 2267l18-1-17-8-18 1z"/><path fill="#0f1" d="M3243 2305l19-4-17-9-19 4z"/><path fill="#0f2" d="M3474 2320l18-7-17-9-18 7z"/><path fill="#0f1" d="M3279 2310l18-5-17-9-18 5z"/><path fill="#0f0" d="M3119 2293l18-3-17-9-18 3z"/><path fill="#0f2" d="M3509 2322l19-7-17-9-19 7z"/><path fill="#0f0" d="M2993 2275l19-2-17-8-19 1z"/><path fill="#0f2" d="M3545 2324l18-8-17-9-18 8z"/><path fill="#0f0" d="M4259 2287l19-16-18-9-19 15z"/><path fill="#0f1" d="M3314 2314l19-5-18-9-18 5zM3154 2299l19-4-17-8-19 3z"/><path fill="#0f2" d="M3580 2325l18-8-17-9-18 8z"/><path fill="#0f0" d="M4223 2292l18-15-17-10-19 15zM3029 2282l19-2-17-8-19 1z"/><path fill="#0f2" d="M3616 2326l18-8-17-10-19 9z"/><path fill="#0f1" d="M3350 2318l18-6-17-9-18 6z"/><path fill="#0f0" d="M4186 2297l19-15-17-10-19 15z"/><path fill="#0f2" d="M3651 2327l18-9-17-9-18 9z"/><path fill="#0f0" d="M4150 2301l19-14-17-10-19 14z"/><path fill="#0f1" d="M3190 2304l18-3-17-9-18 3z"/><path fill="#0f2" d="M3686 2327l19-9-17-9-19 9z"/><path fill="#0f1" d="M4114 2305l19-14-17-10-19 14zM3385 2321l18-6-17-9-18 6z"/><path fill="#0f2" d="M3722 2327l18-9-17-10-18 10z"/><path fill="#0f1" d="M4079 2309l18-14-17-9-19 13z"/><path fill="#0f0" d="M3065 2289l18-2-17-9-18 2zM2939 2268l19-1-17-8-19 0z"/><path fill="#0f2" d="M3757 2327l19-10-17-10-19 11z"/><path fill="#0f1" d="M4043 2312l18-13-17-10-19 13z"/><path fill="#0f2" d="M3793 2326l18-10-17-10-18 11z"/><path fill="#0f1" d="M4007 2315l18-13-17-9-18 13zM3225 2309l18-4-17-9-18 5z"/><path fill="#0f2" d="M3420 2324l19-6-17-9-19 6zM3829 2325l18-11-17-9-19 11z"/><path fill="#0f1" d="M3971 2318l19-12-18-10-18 12zM3864 2324l19-11-18-10-18 11zM3935 2320l19-12-17-9-19 12zM3900 2322l18-11-17-10-18 12z"/><path fill="#0f2" d="M3456 2327l18-7-17-9-18 7z"/><path fill="#0f0" d="M3100 2295l19-2-17-9-19 3z"/><path fill="#0f1" d="M3260 2314l19-4-17-9-19 4z"/><path fill="#0f0" d="M2975 2276l18-1-17-9-18 1z"/><path fill="#0f2" d="M3491 2329l18-7-17-9-18 7z"/><path fill="#0f1" d="M3296 2319l18-5-17-9-18 5z"/><path fill="#0f2" d="M3527 2331l18-7-17-9-19 7z"/><path fill="#0f0" d="M4276 2297l19-16-17-10-19 16zM3136 2302l18-3-17-9-18 3zM3010 2283l19-1-17-9-19 2z"/><path fill="#0f2" d="M3562 2333l18-8-17-9-18 8z"/><path fill="#0f0" d="M4240 2302l19-15-18-10-18 15z"/><path fill="#0f1" d="M3331 2323l19-5-17-9-19 5z"/><path fill="#0f2" d="M3597 2335l19-9-18-9-18 8z"/><path fill="#0f0" d="M4204 2306l19-14-18-10-19 15z"/><path fill="#0f1" d="M3171 2307l19-3-17-9-19 4z"/><path fill="#0f2" d="M3633 2336l18-9-17-9-18 8z"/><path fill="#0f0" d="M4168 2311l18-14-17-10-19 14z"/><path fill="#0f1" d="M3367 2327l18-6-17-9-18 6z"/><path fill="#0f2" d="M3668 2336l18-9-17-9-18 9z"/><path fill="#0f0" d="M3046 2290l19-1-17-9-19 2z"/><path fill="#0f1" d="M4132 2315l18-14-17-10-19 14z"/><path fill="#0f2" d="M3704 2337l18-10-17-9-19 9z"/><path fill="#0f1" d="M4096 2319l18-14-17-10-18 14zM3207 2313l18-4-17-8-18 3z"/><path fill="#0f2" d="M3739 2337l18-10-17-9-18 9z"/><path fill="#0f1" d="M4060 2322l19-13-18-10-18 13zM3402 2330l18-6-17-9-18 6z"/><path fill="#0f2" d="M3775 2336l18-10-17-9-19 10z"/><path fill="#0f1" d="M4024 2325l19-13-18-10-18 13z"/><path fill="#0f2" d="M3810 2336l19-11-18-9-18 10z"/><path fill="#0f1" d="M3988 2328l19-13-17-9-19 12z"/><path fill="#0f2" d="M3846 2335l18-11-17-10-18 11z"/><path fill="#0f1" d="M3953 2330l18-12-17-10-19 12zM3881 2334l19-12-17-9-19 11zM3917 2332l18-12-17-9-18 11z"/><path fill="#0f0" d="M3082 2297l18-2-17-8-18 2z"/><path fill="#0f2" d="M3437 2333l19-6-17-9-19 6z"/><path fill="#0f0" d="M2956 2276l19 0-17-9-19 1z"/><path fill="#0f1" d="M3242 2318l18-4-17-9-18 4z"/><path fill="#0f2" d="M3473 2336l18-7-17-9-18 7z"/><path fill="#0f1" d="M3278 2323l18-4-17-9-19 4z"/><path fill="#0f0" d="M3117 2304l19-2-17-9-19 2z"/><path fill="#0f2" d="M3508 2338l19-7-18-9-18 7z"/><path fill="#0f0" d="M4293 2307l19-16-17-10-19 16zM2992 2284l18-1-17-8-18 1z"/><path fill="#0f2" d="M3544 2341l18-8-17-9-18 7z"/><path fill="#0f0" d="M4257 2312l19-15-17-10-19 15z"/><path fill="#0f1" d="M3313 2328l18-5-17-9-18 5z"/><path fill="#0f0" d="M3153 2310l18-3-17-8-18 3z"/><path fill="#0f2" d="M3579 2342l18-7-17-10-18 8z"/><path fill="#0f0" d="M4221 2316l19-14-17-10-19 14zM3027 2292l19-2-17-8-19 1z"/><path fill="#0f2" d="M3614 2344l19-8-17-10-19 9z"/><path fill="#0f1" d="M3348 2332l19-5-17-9-19 5zM4185 2321l19-15-18-9-18 14z"/><path fill="#0f2" d="M3650 2345l18-9-17-9-18 9z"/><path fill="#0f1" d="M4149 2325l19-14-18-10-18 14z"/><path fill="#0f0" d="M3188 2316l19-3-17-9-19 3z"/><path fill="#0f2" d="M3685 2346l19-9-18-10-18 9z"/><path fill="#0f1" d="M4113 2328l19-13-18-10-18 14zM3384 2336l18-6-17-9-18 6z"/><path fill="#0f2" d="M3721 2346l18-9-17-10-18 10z"/><path fill="#0f1" d="M4077 2332l19-13-17-10-19 13z"/><path fill="#0f0" d="M3063 2299l19-2-17-8-19 1z"/><path fill="#0f2" d="M3756 2346l19-10-18-9-18 10z"/><path fill="#0f1" d="M4041 2335l19-13-17-10-19 13z"/><path fill="#0f2" d="M3792 2346l18-10-17-10-18 10z"/><path fill="#0f1" d="M4006 2337l18-12-17-10-19 13zM3224 2322l18-4-17-9-18 4zM3419 2339l18-6-17-9-18 6z"/><path fill="#0f2" d="M3827 2345l19-10-17-10-19 11z"/><path fill="#0f1" d="M3970 2340l18-12-17-10-18 12z"/><path fill="#0f2" d="M3863 2344l18-10-17-10-18 11z"/><path fill="#0f1" d="M3934 2342l19-12-18-10-18 12z"/><path fill="#0f2" d="M3898 2343l19-11-17-10-19 12zM3455 2342l18-6-17-9-19 6z"/><path fill="#0f0" d="M3099 2306l18-2-17-9-18 2z"/><path fill="#0f1" d="M3259 2327l19-4-18-9-18 4z"/><path fill="#0f0" d="M2973 2284l19 0-17-8-19 0z"/><path fill="#0f2" d="M3490 2345l18-7-17-9-18 7z"/><path fill="#0f0" d="M4310 2317l19-16-17-10-19 16z"/><path fill="#0f1" d="M3295 2332l18-4-17-9-18 4z"/><path fill="#0f2" d="M3525 2348l19-7-17-10-19 7z"/><path fill="#0f0" d="M4274 2322l19-15-17-10-19 15zM3134 2313l19-3-17-8-19 2z"/><path fill="#0f2" d="M3561 2350l18-8-17-9-18 8z"/><path fill="#0f0" d="M4238 2326l19-14-17-10-19 14zM3009 2292l18 0-17-9-18 1z"/><path fill="#0f1" d="M3330 2336l18-4-17-9-18 5z"/><path fill="#0f2" d="M3596 2352l18-8-17-9-18 7z"/><path fill="#0f1" d="M4202 2331l19-15-17-10-19 15z"/><path fill="#0f0" d="M3170 2319l18-3-17-9-18 3z"/><path fill="#0f2" d="M3632 2353l18-8-17-9-19 8z"/><path fill="#0f1" d="M4166 2335l19-14-17-10-19 14zM3365 2341l19-5-17-9-19 5z"/><path fill="#0f2" d="M3667 2354l18-8-17-10-18 9z"/><path fill="#0f1" d="M4130 2338l19-13-17-10-19 13z"/><path fill="#0f0" d="M3044 2300l19-1-17-9-19 2z"/><path fill="#0f2" d="M3702 2355l19-9-17-9-19 9z"/><path fill="#0f1" d="M4094 2341l19-13-17-9-19 13z"/><path fill="#0f0" d="M3205 2325l19-3-17-9-19 3z"/><path fill="#0f2" d="M3738 2356l18-10-17-9-18 9z"/><path fill="#0f1" d="M4059 2344l18-12-17-10-19 13zM3401 2345l18-6-17-9-18 6z"/><path fill="#0f2" d="M3773 2356l19-10-17-10-19 10z"/><path fill="#0f1" d="M4023 2347l18-12-17-10-18 12z"/><path fill="#0f2" d="M3809 2355l18-10-17-9-18 10z"/><path fill="#0f1" d="M3987 2349l19-12-18-9-18 12z"/><path fill="#0f2" d="M3844 2355l19-11-17-9-19 10zM3951 2351l19-11-17-10-19 12zM3880 2354l18-11-17-9-18 10zM3916 2353l18-11-17-10-19 11z"/><path fill="#0f0" d="M3080 2308l19-2-17-9-19 2z"/><path fill="#0f1" d="M3436 2348l19-6-18-9-18 6zM3241 2331l18-4-17-9-18 4z"/><path fill="#0f2" d="M3472 2351l18-6-17-9-18 6z"/><path fill="#0f0" d="M4328 2327l19-16-18-10-19 16z"/><path fill="#0f1" d="M3276 2336l19-4-17-9-19 4z"/><path fill="#0f0" d="M3116 2315l18-2-17-9-18 2z"/><path fill="#0f2" d="M3507 2354l18-6-17-10-18 7z"/><path fill="#0f0" d="M4291 2332l19-15-17-10-19 15zM2990 2293l19-1-17-8-19 0z"/><path fill="#0f2" d="M3542 2357l19-7-17-9-19 7z"/><path fill="#0f1" d="M4255 2336l19-14-17-10-19 14zM3312 2341l18-5-17-8-18 4z"/><path fill="#0f0" d="M3151 2321l19-2-17-9-19 3z"/><path fill="#0f2" d="M3578 2359l18-7-17-10-18 8z"/><path fill="#0f1" d="M4219 2340l19-14-17-10-19 15z"/><path fill="#0f2" d="M3613 2361l19-8-18-9-18 8z"/><path fill="#0f1" d="M4183 2344l19-13-17-10-19 14zM3347 2345l18-4-17-9-18 4z"/><path fill="#0f0" d="M3026 2301l18-1-17-8-18 0z"/><path fill="#0f2" d="M3649 2362l18-8-17-9-18 8z"/><path fill="#0f1" d="M4147 2348l19-13-17-10-19 13z"/><path fill="#0f0" d="M3187 2328l18-3-17-9-18 3z"/><path fill="#0f2" d="M3684 2364l18-9-17-9-18 8z"/><path fill="#0f1" d="M4112 2351l18-13-17-10-19 13zM3382 2350l19-5-17-9-19 5z"/><path fill="#0f2" d="M3720 2364l18-8-17-10-19 9z"/><path fill="#0f1" d="M4076 2354l18-13-17-9-18 12z"/><path fill="#0f2" d="M3755 2365l18-9-17-10-18 10z"/><path fill="#0f1" d="M4040 2357l19-13-18-9-18 12z"/><path fill="#0f0" d="M3061 2309l19-1-17-9-19 1z"/><path fill="#0f2" d="M3791 2365l18-10-17-9-19 10z"/><path fill="#0f1" d="M4004 2359l19-12-17-10-19 12z"/><path fill="#0f2" d="M3826 2365l18-10-17-10-18 10z"/><path fill="#0f1" d="M3418 2354l18-6-17-9-18 6z"/><path fill="#0f2" d="M3969 2361l18-12-17-9-19 11z"/><path fill="#0f0" d="M3222 2334l19-3-17-9-19 3z"/><path fill="#0f2" d="M3862 2364l18-10-17-10-19 11zM3933 2362l18-11-17-9-18 11zM3897 2364l19-11-18-10-18 11z"/><path fill="#0f1" d="M3453 2357l19-6-17-9-19 6z"/><path fill="#0f0" d="M3097 2316l19-1-17-9-19 2z"/><path fill="#0f1" d="M3258 2339l18-3-17-9-18 4z"/><path fill="#0f2" d="M3489 2361l18-7-17-9-18 6z"/><path fill="#0f0" d="M4309 2342l19-15-18-10-19 15z"/><path fill="#0f2" d="M3524 2363l18-6-17-9-18 6z"/><path fill="#0f1" d="M3293 2345l19-4-17-9-19 4zM4273 2346l18-14-17-10-19 14z"/><path fill="#0f0" d="M3133 2323l18-2-17-8-18 2z"/><path fill="#0f2" d="M3560 2366l18-7-17-9-19 7z"/><path fill="#0f1" d="M4237 2350l18-14-17-10-19 14z"/><path fill="#0f0" d="M3007 2301l19 0-17-9-19 1z"/><path fill="#0f1" d="M3329 2350l18-5-17-9-18 5z"/><path fill="#0f2" d="M3595 2368l18-7-17-9-18 7z"/><path fill="#0f1" d="M4201 2354l18-14-17-9-19 13z"/><path fill="#0f0" d="M3168 2330l19-2-17-9-19 2z"/><path fill="#0f2" d="M3630 2370l19-8-17-9-19 8z"/><path fill="#0f1" d="M4165 2358l18-14-17-9-19 13zM3364 2354l18-4-17-9-18 4z"/><path fill="#0f2" d="M3666 2372l18-8-17-10-18 8z"/><path fill="#0f1" d="M4129 2361l18-13-17-10-18 13z"/><path fill="#0f0" d="M3043 2309l18 0-17-9-18 1z"/><path fill="#0f2" d="M3701 2373l19-9-18-9-18 9z"/><path fill="#0f1" d="M4093 2364l19-13-18-10-18 13z"/><path fill="#0f0" d="M3204 2336l18-2-17-9-18 3z"/><path fill="#0f2" d="M3737 2374l18-9-17-9-18 8z"/><path fill="#0f1" d="M4057 2366l19-12-17-10-19 13zM3400 2359l18-5-17-9-19 5z"/><path fill="#0f2" d="M3772 2374l19-9-18-9-18 9zM4021 2369l19-12-17-10-19 12zM3808 2375l18-10-17-10-18 10zM3986 2371l18-12-17-10-18 12zM3843 2374l19-10-18-9-18 10zM3950 2372l19-11-18-10-18 11zM3879 2374l18-10-17-10-18 10zM3914 2373l19-11-17-9-19 11z"/><path fill="#0f1" d="M3435 2363l18-6-17-9-18 6z"/><path fill="#0f0" d="M3078 2317l19-1-17-8-19 1zM3239 2342l19-3-17-8-19 3z"/><path fill="#0f1" d="M3470 2366l19-5-17-10-19 6zM3275 2348l18-3-17-9-18 3z"/><path fill="#0f0" d="M3114 2325l19-2-17-8-19 1z"/><path fill="#0f2" d="M3506 2370l18-7-17-9-18 7z"/><path fill="#0f1" d="M4290 2356l19-14-18-10-18 14z"/><path fill="#0f2" d="M3541 2373l19-7-18-9-18 6z"/><path fill="#0f1" d="M4254 2360l19-14-18-10-18 14zM3310 2354l19-4-17-9-19 4z"/><path fill="#0f2" d="M3577 2375l18-7-17-9-18 7z"/><path fill="#0f0" d="M3150 2332l18-2-17-9-18 2z"/><path fill="#0f1" d="M4218 2364l19-14-18-10-18 14z"/><path fill="#0f2" d="M3612 2378l18-8-17-9-18 7z"/><path fill="#0f1" d="M4182 2368l19-14-18-10-18 14zM3346 2359l18-5-17-9-18 5z"/><path fill="#0f0" d="M3024 2310l19-1-17-8-19 0z"/><path fill="#0f2" d="M3648 2379l18-7-17-10-19 8z"/><path fill="#0f1" d="M4146 2371l19-13-18-10-18 13z"/><path fill="#0f0" d="M3185 2339l19-3-17-8-19 2z"/><path fill="#0f2" d="M3683 2381l18-8-17-9-18 8z"/><path fill="#0f1" d="M4110 2374l19-13-17-10-19 13zM3381 2363l19-4-18-9-18 4z"/><path fill="#0f2" d="M3718 2382l19-8-17-10-19 9zM4074 2376l19-12-17-10-19 12zM3754 2383l18-9-17-9-18 9zM4039 2378l18-12-17-9-19 12z"/><path fill="#0f0" d="M3060 2318l18-1-17-8-18 0z"/><path fill="#0f2" d="M3789 2384l19-9-17-10-19 9zM4003 2380l18-11-17-10-18 12zM3825 2384l18-10-17-9-18 10zM3967 2382l19-11-17-10-19 11z"/><path fill="#0f1" d="M3417 2368l18-5-17-9-18 5z"/><path fill="#0f0" d="M3221 2345l18-3-17-8-18 2z"/><path fill="#0f2" d="M3860 2384l19-10-17-10-19 10zM3932 2383l18-11-17-10-19 11zM3896 2384l18-11-17-9-18 10z"/><path fill="#0f1" d="M3452 2372l18-6-17-9-18 6z"/><path fill="#0f0" d="M3095 2326l19-1-17-9-19 1zM3256 2351l19-3-17-9-19 3z"/><path fill="#0f1" d="M3488 2375l18-5-17-9-19 5z"/><path fill="#0f2" d="M3523 2379l18-6-17-10-18 7z"/><path fill="#0f0" d="M3292 2357l18-3-17-9-18 3z"/><path fill="#0f1" d="M4271 2370l19-14-17-10-19 14z"/><path fill="#0f0" d="M3131 2333l19-1-17-9-19 2z"/><path fill="#0f2" d="M3558 2382l19-7-17-9-19 7z"/><path fill="#0f1" d="M4235 2374l19-14-17-10-19 14zM3327 2362l19-3-17-9-19 4z"/><path fill="#0f2" d="M3594 2384l18-6-17-10-18 7z"/><path fill="#0f1" d="M4199 2378l19-14-17-10-19 14z"/><path fill="#0f0" d="M3167 2340l18-1-17-9-18 2z"/><path fill="#0f2" d="M3629 2387l19-8-18-9-18 8z"/><path fill="#0f1" d="M4163 2381l19-13-17-10-19 13zM3363 2368l18-5-17-9-18 5z"/><path fill="#0f2" d="M3665 2389l18-8-17-9-18 7z"/><path fill="#0f1" d="M4127 2384l19-13-17-10-19 13z"/><path fill="#0f0" d="M3041 2318l19 0-17-9-19 1z"/><path fill="#0f2" d="M3700 2390l18-8-17-9-18 8zM4092 2386l18-12-17-10-19 12zM3736 2392l18-9-17-9-19 8zM4056 2388l18-12-17-10-18 12z"/><path fill="#0f0" d="M3202 2347l19-2-17-9-19 3z"/><path fill="#0f1" d="M3398 2372l19-4-17-9-19 4z"/><path fill="#0f2" d="M3771 2393l18-9-17-10-18 9zM4020 2390l19-12-18-9-18 11zM3807 2393l18-9-17-9-19 9zM3984 2391l19-11-17-9-19 11zM3842 2394l18-10-17-10-18 10zM3949 2392l18-10-17-10-18 11zM3878 2394l18-10-17-10-19 10zM3913 2393l19-10-18-10-18 11z"/><path fill="#0f1" d="M3434 2377l18-5-17-9-18 5z"/><path fill="#0f0" d="M3077 2326l18 0-17-9-18 1zM3238 2354l18-3-17-9-18 3z"/><path fill="#0f1" d="M3469 2381l19-6-18-9-18 6z"/><path fill="#0f0" d="M3273 2360l19-3-17-9-19 3zM3112 2334l19-1-17-8-19 1z"/><path fill="#0f1" d="M3505 2385l18-6-17-9-18 5z"/><path fill="#0f2" d="M3540 2388l18-6-17-9-18 6z"/><path fill="#0f1" d="M4252 2384l19-14-17-10-19 14z"/><path fill="#0f0" d="M3309 2366l18-4-17-8-18 3z"/><path fill="#0f2" d="M3575 2391l19-7-17-9-19 7z"/><path fill="#0f1" d="M4216 2388l19-14-17-10-19 14z"/><path fill="#0f0" d="M3148 2342l19-2-17-8-19 1z"/><path fill="#0f2" d="M3611 2394l18-7-17-9-18 6z"/><path fill="#0f1" d="M4180 2391l19-13-17-10-19 13zM3344 2371l19-3-17-9-19 3z"/><path fill="#0f2" d="M3646 2396l19-7-17-10-19 8zM4144 2393l19-12-17-10-19 13z"/><path fill="#0f0" d="M3184 2349l18-2-17-8-18 1z"/><path fill="#0f2" d="M3682 2398l18-8-17-9-18 8zM4109 2396l18-12-17-10-18 12z"/><path fill="#0f1" d="M3380 2376l18-4-17-9-18 5z"/><path fill="#0f2" d="M3717 2400l19-8-18-10-18 8zM4073 2398l19-12-18-10-18 12zM3753 2401l18-8-17-10-18 9zM4037 2400l19-12-17-10-19 12zM3788 2402l19-9-18-9-18 9zM4002 2401l18-11-17-10-19 11z"/><path fill="#0f0" d="M3058 2327l19-1-17-8-19 0z"/><path fill="#0f2" d="M3824 2403l18-9-17-10-18 9zM3966 2402l18-11-17-9-18 10z"/><path fill="#0f1" d="M3415 2381l19-4-17-9-19 4z"/><path fill="#0f2" d="M3859 2403l19-9-18-10-18 10zM3930 2403l19-11-17-9-19 10zM3895 2403l18-10-17-9-18 10z"/><path fill="#0f0" d="M3219 2356l19-2-17-9-19 2z"/><path fill="#0f1" d="M3451 2386l18-5-17-9-18 5z"/><path fill="#0f0" d="M3255 2363l18-3-17-9-18 3zM3094 2335l18-1-17-8-18 0z"/><path fill="#0f1" d="M3486 2390l19-5-17-10-19 6zM3522 2394l18-6-17-9-18 6z"/><path fill="#0f0" d="M3290 2369l19-3-17-9-19 3zM3129 2343l19-1-17-9-19 1z"/><path fill="#0f2" d="M3557 2397l18-6-17-9-18 6z"/><path fill="#0f1" d="M4233 2397l19-13-17-10-19 14z"/><path fill="#0f0" d="M3326 2375l18-4-17-9-18 4z"/><path fill="#0f2" d="M3593 2400l18-6-17-10-19 7zM4197 2401l19-13-17-10-19 13z"/><path fill="#0f0" d="M3165 2350l19-1-17-9-19 2z"/><path fill="#0f2" d="M3628 2403l18-7-17-9-18 7zM4162 2403l18-12-17-10-19 12z"/><path fill="#0f1" d="M3361 2380l19-4-17-8-19 3z"/><path fill="#0f2" d="M3663 2405l19-7-17-9-19 7zM4126 2406l18-13-17-9-18 12zM3699 2408l18-8-17-10-18 8zM4090 2408l19-12-17-10-19 12zM3734 2409l19-8-17-9-19 8zM4054 2409l19-11-17-10-19 12z"/><path fill="#0f0" d="M3201 2358l18-2-17-9-18 2z"/><path fill="#0f1" d="M3397 2385l18-4-17-9-18 4z"/><path fill="#0f2" d="M3770 2411l18-9-17-9-18 8zM4019 2411l18-11-17-10-18 11zM3805 2412l19-9-17-10-19 9zM3983 2412l19-11-18-10-18 11zM3841 2412l18-9-17-9-18 9zM3947 2412l19-10-17-10-19 11zM3876 2413l19-10-17-9-19 9zM3912 2413l18-10-17-10-18 10z"/><path fill="#0f1" d="M3432 2390l19-4-17-9-19 4z"/><path fill="#0f0" d="M3075 2335l19 0-17-9-19 1zM3236 2365l19-2-17-9-19 2z"/><path fill="#0f1" d="M3468 2395l18-5-17-9-18 5z"/><path fill="#0f0" d="M3272 2371l18-2-17-9-18 3z"/><path fill="#0f1" d="M3503 2399l19-5-17-9-19 5z"/><path fill="#0f0" d="M3111 2343l18 0-17-9-18 1z"/><path fill="#0f1" d="M3539 2403l18-6-17-9-18 6z"/><path fill="#0f0" d="M3307 2378l19-3-17-9-19 3z"/><path fill="#0f2" d="M3574 2406l19-6-18-9-18 6zM4215 2411l18-14-17-9-19 13z"/><path fill="#0f0" d="M3146 2351l19-1-17-8-19 1z"/><path fill="#0f2" d="M3610 2409l18-6-17-9-18 6zM4179 2413l18-12-17-10-18 12z"/><path fill="#0f0" d="M3343 2384l18-4-17-9-18 4z"/><path fill="#0f2" d="M3645 2412l18-7-17-9-18 7zM4143 2416l19-13-18-10-18 13zM3681 2415l18-7-17-10-19 7z"/><path fill="#0f0" d="M3182 2359l19-1-17-9-19 1z"/><path fill="#0f2" d="M4107 2418l19-12-17-10-19 12z"/><path fill="#0f1" d="M3378 2389l19-4-17-9-19 4z"/><path fill="#0f2" d="M3716 2417l18-8-17-9-18 8zM4072 2419l18-11-17-10-19 11zM3751 2419l19-8-17-10-19 8zM4036 2421l18-12-17-9-18 11zM3787 2420l18-8-17-10-18 9zM4000 2422l19-11-17-10-19 11zM3822 2421l19-9-17-9-19 9z"/><path fill="#0f3" d="M3965 2422l18-10-17-10-19 10zM3858 2422l18-9-17-10-18 9z"/><path fill="#0f1" d="M3414 2394l18-4-17-9-18 4z"/><path fill="#0f3" d="M3929 2422l18-10-17-9-18 10zM3893 2422l19-9-17-10-19 10z"/><path fill="#0f0" d="M3218 2366l18-1-17-9-18 2z"/><path fill="#0f1" d="M3449 2399l19-4-17-9-19 4z"/><path fill="#0f0" d="M3253 2373l19-2-17-8-19 2zM3092 2343l19 0-17-8-19 0z"/><path fill="#0f1" d="M3485 2404l18-5-17-9-18 5zM3520 2408l19-5-17-9-19 5z"/><path fill="#0f0" d="M3289 2380l18-2-17-9-18 2zM3128 2352l18-1-17-8-18 0z"/><path fill="#0f1" d="M3556 2412l18-6-17-9-18 6z"/><path fill="#0f0" d="M3324 2386l19-2-17-9-19 3z"/><path fill="#0f2" d="M3591 2416l19-7-17-9-19 6zM4196 2423l19-12-18-10-18 12zM3627 2419l18-7-17-9-18 6z"/><path fill="#0f0" d="M3163 2360l19-1-17-9-19 1z"/><path fill="#0f2" d="M4160 2425l19-12-17-10-19 13z"/><path fill="#0f0" d="M3360 2392l18-3-17-9-18 4z"/><path fill="#0f2" d="M3662 2422l19-7-18-10-18 7zM4124 2427l19-11-17-10-19 12zM3698 2424l18-7-17-9-18 7zM4089 2429l18-11-17-10-18 11zM3733 2426l18-7-17-10-18 8z"/><path fill="#0f3" d="M4053 2430l19-11-18-10-18 12z"/><path fill="#0f0" d="M3199 2368l19-2-17-8-19 1z"/><path fill="#0f1" d="M3396 2398l18-4-17-9-19 4z"/><path fill="#0f2" d="M3769 2428l18-8-17-9-19 8z"/><path fill="#0f3" d="M4017 2431l19-10-17-10-19 11z"/><path fill="#0f2" d="M3804 2430l18-9-17-9-18 8z"/><path fill="#0f3" d="M3982 2432l18-10-17-10-18 10zM3840 2431l18-9-17-10-19 9zM3946 2432l19-10-18-10-18 10zM3875 2432l18-10-17-9-18 9zM3911 2432l18-10-17-9-19 9z"/><path fill="#0f1" d="M3431 2403l18-4-17-9-18 4z"/><path fill="#0f0" d="M3235 2375l18-2-17-8-18 1z"/><path fill="#0f1" d="M3467 2408l18-4-17-9-19 4z"/><path fill="#0f0" d="M3270 2382l19-2-17-9-19 2z"/><path fill="#0f1" d="M3502 2413l18-5-17-9-18 5z"/><path fill="#0f0" d="M3109 2352l19 0-17-9-19 0z"/><path fill="#0f1" d="M3538 2417l18-5-17-9-19 5z"/><path fill="#0f0" d="M3306 2389l18-3-17-8-18 2z"/><path fill="#0f1" d="M3573 2421l18-5-17-10-18 6z"/><path fill="#0f0" d="M3145 2360l18 0-17-9-18 1z"/><path fill="#0f2" d="M3608 2425l19-6-17-10-19 7zM4177 2435l19-12-17-10-19 12z"/><path fill="#0f0" d="M3342 2395l18-3-17-8-19 2z"/><path fill="#0f2" d="M3644 2428l18-6-17-10-18 7zM4142 2437l18-12-17-9-19 11zM3679 2431l19-7-17-9-19 7z"/><path fill="#0f3" d="M4106 2439l18-12-17-9-18 11z"/><path fill="#0f0" d="M3180 2369l19-1-17-9-19 1zM3377 2401l19-3-18-9-18 3z"/><path fill="#0f2" d="M3715 2433l18-7-17-9-18 7z"/><path fill="#0f3" d="M4070 2440l19-11-17-10-19 11z"/><path fill="#0f2" d="M3750 2436l19-8-18-9-18 7z"/><path fill="#0f3" d="M4035 2441l18-11-17-9-19 10z"/><path fill="#0f2" d="M3786 2438l18-8-17-10-18 8z"/><path fill="#0f3" d="M3999 2442l18-11-17-9-18 10zM3821 2439l19-8-18-10-18 9zM3963 2442l19-10-17-10-19 10zM3857 2440l18-8-17-10-18 9zM3928 2442l18-10-17-10-18 10z"/><path fill="#0f1" d="M3413 2407l18-4-17-9-18 4z"/><path fill="#0f3" d="M3892 2441l19-9-18-10-18 10z"/><path fill="#0f0" d="M3216 2376l19-1-17-9-19 2z"/><path fill="#0f1" d="M3448 2412l19-4-18-9-18 4z"/><path fill="#0f0" d="M3252 2384l18-2-17-9-18 2z"/><path fill="#0f1" d="M3484 2417l18-4-17-9-18 4zM3519 2422l19-5-18-9-18 5z"/><path fill="#0f0" d="M3287 2391l19-2-17-9-19 2zM3126 2360l19 0-17-8-19 0z"/><path fill="#0f1" d="M3555 2426l18-5-17-9-18 5z"/><path fill="#0f0" d="M3323 2398l19-3-18-9-18 3z"/><path fill="#0f1" d="M3590 2430l18-5-17-9-18 5z"/><path fill="#0f2" d="M3626 2434l18-6-17-9-19 6z"/><path fill="#0f3" d="M4159 2447l18-12-17-10-18 12z"/><path fill="#0f0" d="M3162 2369l18 0-17-9-18 0z"/><path fill="#0f2" d="M3661 2437l18-6-17-9-18 6z"/><path fill="#0f0" d="M3359 2404l18-3-17-9-18 3z"/><path fill="#0f3" d="M4123 2449l19-12-18-10-18 12z"/><path fill="#0f2" d="M3696 2440l19-7-17-9-19 7z"/><path fill="#0f3" d="M4087 2450l19-11-17-10-19 11z"/><path fill="#0f2" d="M3732 2443l18-7-17-10-18 7z"/><path fill="#0f3" d="M4052 2451l18-11-17-10-18 11z"/><path fill="#0f0" d="M3197 2377l19-1-17-8-19 1zM3394 2410l19-3-17-9-19 3z"/><path fill="#0f2" d="M3767 2445l19-7-17-10-19 8z"/><path fill="#0f3" d="M4016 2451l19-10-18-10-18 11z"/><path fill="#0f2" d="M3803 2447l18-8-17-9-18 8z"/><path fill="#0f3" d="M3980 2451l19-9-17-10-19 10zM3838 2449l19-9-17-9-19 8zM3945 2451l18-9-17-10-18 10zM3874 2450l18-9-17-9-18 8zM3909 2451l19-9-17-10-19 9z"/><path fill="#0f1" d="M3430 2416l18-4-17-9-18 4z"/><path fill="#0f0" d="M3233 2385l19-1-17-9-19 1z"/><path fill="#0f1" d="M3465 2421l19-4-17-9-19 4z"/><path fill="#0f0" d="M3269 2393l18-2-17-9-18 2z"/><path fill="#0f1" d="M3501 2426l18-4-17-9-18 4zM3536 2431l19-5-17-9-19 5z"/><path fill="#0f0" d="M3304 2400l19-2-17-9-19 2z"/><path fill="#0f1" d="M3572 2436l18-6-17-9-18 5z"/><path fill="#0f0" d="M3143 2369l19 0-17-9-19 0z"/><path fill="#0f1" d="M3607 2440l19-6-18-9-18 5z"/><path fill="#0f0" d="M3340 2407l19-3-17-9-19 3z"/><path fill="#0f2" d="M3643 2443l18-6-17-9-18 6z"/><path fill="#0f3" d="M4140 2459l19-12-17-10-19 12z"/><path fill="#0f2" d="M3678 2447l18-7-17-9-18 6z"/><path fill="#0f3" d="M4104 2460l19-11-17-10-19 11z"/><path fill="#0f0" d="M3179 2378l18-1-17-8-18 0zM3376 2413l18-3-17-9-18 3z"/><path fill="#0f2" d="M3714 2450l18-7-17-10-19 7z"/><path fill="#0f3" d="M4069 2461l18-11-17-10-18 11z"/><path fill="#0f2" d="M3749 2452l18-7-17-9-18 7z"/><path fill="#0f3" d="M4033 2461l19-10-17-10-19 10z"/><path fill="#0f2" d="M3784 2455l19-8-17-9-19 7z"/><path fill="#0f3" d="M3998 2461l18-10-17-9-19 9z"/><path fill="#0f2" d="M3820 2456l18-7-17-10-18 8z"/><path fill="#0f3" d="M3962 2461l18-10-17-9-18 9zM3855 2458l19-8-17-10-19 9zM3926 2460l19-9-17-9-19 9zM3891 2459l18-8-17-10-18 9z"/><path fill="#0f0" d="M3411 2419l19-3-17-9-19 3zM3214 2386l19-1-17-9-19 1zM3447 2425l18-4-17-9-18 4zM3250 2394l19-1-17-9-19 1z"/><path fill="#0f1" d="M3482 2430l19-4-17-9-19 4zM3518 2435l18-4-17-9-18 4z"/><path fill="#0f0" d="M3286 2401l18-1-17-9-18 2z"/><path fill="#0f1" d="M3553 2440l19-4-17-10-19 5zM3589 2445l18-5-17-10-18 6z"/><path fill="#0f0" d="M3321 2408l19-1-17-9-19 2z"/><path fill="#0f1" d="M3624 2449l19-6-17-9-19 6z"/><path fill="#0f0" d="M3160 2377l19 1-17-9-19 0z"/><path fill="#0f2" d="M3660 2453l18-6-17-10-18 6z"/><path fill="#0f0" d="M3357 2415l19-2-17-9-19 3z"/><path fill="#0f3" d="M4122 2470l18-11-17-10-19 11z"/><path fill="#0f2" d="M3695 2456l19-6-18-10-18 7z"/><path fill="#0f3" d="M4086 2470l18-10-17-10-18 11z"/><path fill="#0f2" d="M3731 2459l18-7-17-9-18 7z"/><path fill="#0f3" d="M4050 2471l19-10-17-10-19 10z"/><path fill="#0f2" d="M3766 2462l18-7-17-10-18 7z"/><path fill="#0f0" d="M3393 2422l18-3-17-9-18 3z"/><path fill="#0f3" d="M4015 2471l18-10-17-10-18 10z"/><path fill="#0f0" d="M3196 2386l18 0-17-9-18 1z"/><path fill="#0f2" d="M3802 2464l18-8-17-9-19 8z"/><path fill="#0f3" d="M3979 2471l19-10-18-10-18 10zM3837 2466l18-8-17-9-18 7zM3944 2470l18-9-17-10-19 9zM3873 2468l18-9-17-9-19 8zM3908 2469l18-9-17-9-18 8z"/><path fill="#0f0" d="M3428 2428l19-3-17-9-19 3zM3231 2394l19 0-17-9-19 1zM3464 2434l18-4-17-9-18 4zM3267 2402l19-1-17-8-19 1z"/><path fill="#0f1" d="M3499 2439l19-4-17-9-19 4zM3535 2445l18-5-17-9-18 4z"/><path fill="#0f0" d="M3303 2410l18-2-17-8-18 1z"/><path fill="#0f1" d="M3570 2449l19-4-17-9-19 4zM3606 2454l18-5-17-9-18 5z"/><path fill="#0f0" d="M3338 2417l19-2-17-8-19 1z"/><path fill="#0f1" d="M3641 2458l19-5-17-10-19 6z"/><path fill="#0f2" d="M3677 2462l18-6-17-9-18 6z"/><path fill="#0f3" d="M4103 2480l19-10-18-10-18 10z"/><path fill="#0f0" d="M3177 2386l19 0-17-8-19-1zM3374 2424l19-2-17-9-19 2z"/><path fill="#0f2" d="M3712 2465l19-6-17-9-19 6z"/><path fill="#0f3" d="M4067 2481l19-11-17-9-19 10z"/><path fill="#0f2" d="M3748 2468l18-6-17-10-18 7z"/><path fill="#0f3" d="M4032 2481l18-10-17-10-18 10z"/><path fill="#0f2" d="M3783 2471l19-7-18-9-18 7z"/><path fill="#0f3" d="M3996 2480l19-9-17-10-19 10z"/><path fill="#0f2" d="M3819 2473l18-7-17-10-18 8z"/><path fill="#0f3" d="M3961 2480l18-9-17-10-18 9zM3854 2476l19-8-18-10-18 8zM3925 2479l19-9-18-10-18 9zM3890 2477l18-8-17-10-18 9z"/><path fill="#0f0" d="M3410 2431l18-3-17-9-18 3zM3213 2395l18-1-17-8-18 0zM3445 2437l19-3-17-9-19 3zM3248 2403l19-1-17-8-19 0zM3481 2443l18-4-17-9-18 4z"/><path fill="#0f1" d="M3516 2448l19-3-17-10-19 4z"/><path fill="#0f0" d="M3284 2411l19-1-17-9-19 1z"/><path fill="#0f1" d="M3552 2454l18-5-17-9-18 5zM3587 2459l19-5-17-9-19 4z"/><path fill="#0f0" d="M3320 2419l18-2-17-9-18 2z"/><path fill="#0f1" d="M3623 2463l18-5-17-9-18 5zM3658 2467l19-5-17-9-19 5z"/><path fill="#0f0" d="M3356 2426l18-2-17-9-19 2z"/><path fill="#0f2" d="M3694 2471l18-6-17-9-18 6z"/><path fill="#0f3" d="M4085 2490l18-10-17-10-19 11z"/><path fill="#0f2" d="M3729 2475l19-7-17-9-19 6z"/><path fill="#0f3" d="M4049 2490l18-9-17-10-18 10z"/><path fill="#0f2" d="M3765 2478l18-7-17-9-18 6z"/><path fill="#0f3" d="M4013 2490l19-9-17-10-19 9z"/><path fill="#0f0" d="M3391 2433l19-2-17-9-19 2zM3194 2394l19 1-17-9-19 0z"/><path fill="#0f2" d="M3800 2481l19-8-17-9-19 7z"/><path fill="#0f3" d="M3978 2489l18-9-17-9-18 9z"/><path fill="#0f2" d="M3836 2483l18-7-17-10-18 7z"/><path fill="#0f3" d="M3942 2488l19-8-17-10-19 9zM3871 2485l19-8-17-9-19 8zM3907 2487l18-8-17-10-18 8z"/><path fill="#0f0" d="M3427 2440l18-3-17-9-18 3zM3230 2403l18 0-17-9-18 1zM3462 2446l19-3-17-9-19 3zM3498 2452l18-4-17-9-18 4zM3265 2412l19-1-17-9-19 1z"/><path fill="#0f1" d="M3534 2458l18-4-17-9-19 3z"/><path fill="#0f0" d="M3301 2420l19-1-17-9-19 1z"/><path fill="#0f1" d="M3569 2463l18-4-17-10-18 5zM3605 2468l18-5-17-9-19 5z"/><path fill="#0f0" d="M3337 2427l19-1-18-9-18 2z"/><path fill="#0f1" d="M3640 2472l18-5-17-9-18 5zM3676 2477l18-6-17-9-19 5z"/><path fill="#0f2" d="M3711 2480l18-5-17-10-18 6z"/><path fill="#0f0" d="M3373 2435l18-2-17-9-18 2z"/><path fill="#0f4" d="M4066 2500l19-10-18-9-18 9z"/><path fill="#0f2" d="M3746 2484l19-6-17-10-19 7z"/><path fill="#0f3" d="M4031 2500l18-10-17-9-19 9z"/><path fill="#0f2" d="M3782 2487l18-6-17-10-18 7z"/><path fill="#0f3" d="M3995 2499l18-9-17-10-18 9z"/><path fill="#0f2" d="M3817 2490l19-7-17-10-19 8z"/><path fill="#0f3" d="M3959 2498l19-9-17-9-19 8zM3853 2492l18-7-17-9-18 7zM3924 2496l18-8-17-9-18 8zM3888 2495l19-8-17-10-19 8z"/><path fill="#0f0" d="M3408 2442l19-2-17-9-19 2zM3211 2403l19 0-17-8-19-1zM3444 2449l18-3-17-9-18 3zM3247 2412l18 0-17-9-18 0zM3479 2455l19-3-17-9-19 3zM3515 2461l19-3-18-10-18 4zM3282 2420l19 0-17-9-19 1z"/><path fill="#0f1" d="M3551 2467l18-4-17-9-18 4zM3586 2472l19-4-18-9-18 4z"/><path fill="#0f0" d="M3318 2428l19-1-17-8-19 1z"/><path fill="#0f1" d="M3622 2477l18-5-17-9-18 5zM3657 2482l19-5-18-10-18 5z"/><path fill="#0f0" d="M3354 2436l19-1-17-9-19 1z"/><path fill="#0f1" d="M3693 2486l18-6-17-9-18 6z"/><path fill="#0f2" d="M3728 2490l18-6-17-9-18 5z"/><path fill="#0f4" d="M4048 2510l18-10-17-10-18 10z"/><path fill="#0f2" d="M3764 2493l18-6-17-9-19 6z"/><path fill="#0f3" d="M4012 2509l19-9-18-10-18 9z"/><path fill="#0f0" d="M3390 2444l18-2-17-9-18 2z"/><path fill="#0f2" d="M3799 2497l18-7-17-9-18 6z"/><path fill="#0f3" d="M3977 2508l18-9-17-10-19 9z"/><path fill="#0f2" d="M3835 2499l18-7-17-9-19 7z"/><path fill="#0f3" d="M3941 2506l18-8-17-10-18 8zM3870 2502l18-7-17-10-18 7zM3906 2504l18-8-17-9-19 8z"/><path fill="#0f0" d="M3425 2451l19-2-17-9-19 2zM3228 2412l19 0-17-9-19 0zM3461 2458l18-3-17-9-18 3zM3497 2464l18-3-17-9-19 3zM3264 2420l18 0-17-8-18 0zM3532 2470l19-3-17-9-19 3zM3300 2429l18-1-17-8-19 0z"/><path fill="#0f1" d="M3568 2476l18-4-17-9-18 4zM3603 2481l19-4-17-9-19 4z"/><path fill="#0f0" d="M3335 2437l19-1-17-9-19 1z"/><path fill="#0f1" d="M3639 2486l18-4-17-10-18 5zM3674 2491l19-5-17-9-19 5zM3710 2495l18-5-17-10-18 6z"/><path fill="#0f0" d="M3371 2445l19-1-17-9-19 1z"/><path fill="#0f2" d="M3745 2499l19-6-18-9-18 6z"/><path fill="#0f4" d="M4029 2518l19-8-17-10-19 9z"/><path fill="#0f2" d="M3781 2503l18-6-17-10-18 6z"/><path fill="#0f3" d="M3994 2517l18-8-17-10-18 9z"/><path fill="#0f2" d="M3816 2506l19-7-18-9-18 7z"/><path fill="#0f3" d="M3958 2516l19-8-18-10-18 8z"/><path fill="#0f2" d="M3852 2509l18-7-17-10-18 7z"/><path fill="#0f3" d="M3923 2514l18-8-17-10-18 8zM3887 2512l19-8-18-9-18 7z"/><path fill="#0f0" d="M3407 2452l18-1-17-9-18 2zM3442 2460l19-2-17-9-19 2zM3245 2420l19 0-17-8-19 0zM3478 2466l19-2-18-9-18 3zM3514 2473l18-3-17-9-18 3zM3281 2429l19 0-18-9-18 0zM3549 2479l19-3-17-9-19 3z"/><path fill="#0f1" d="M3585 2485l18-4-17-9-18 4z"/><path fill="#0f0" d="M3317 2438l18-1-17-9-18 1z"/><path fill="#0f1" d="M3620 2490l19-4-17-9-19 4zM3656 2495l18-4-17-9-18 4z"/><path fill="#0f0" d="M3352 2446l19-1-17-9-19 1z"/><path fill="#0f1" d="M3691 2500l19-5-17-9-19 5zM3727 2504l18-5-17-9-18 5z"/><path fill="#0f2" d="M3762 2508l19-5-17-10-19 6z"/><path fill="#0f3" d="M4011 2527l18-9-17-9-18 8z"/><path fill="#0f0" d="M3388 2454l19-2-17-8-19 1z"/><path fill="#0f2" d="M3798 2512l18-6-17-9-18 6z"/><path fill="#0f3" d="M3975 2525l19-8-17-9-19 8z"/><path fill="#0f2" d="M3833 2516l19-7-17-10-19 7z"/><path fill="#0f3" d="M3940 2523l18-7-17-10-18 8z"/><path fill="#0f2" d="M3869 2518l18-6-17-10-18 7z"/><path fill="#0f3" d="M3904 2521l19-7-17-10-19 8z"/><path fill="#0f0" d="M3424 2461l18-1-17-9-18 1zM3459 2469l19-3-17-8-19 2zM3495 2475l19-2-17-9-19 2zM3262 2429l19 0-17-9-19 0zM3531 2482l18-3-17-9-18 3zM3298 2438l19 0-17-9-19 0zM3566 2488l19-3-17-9-19 3z"/><path fill="#0f1" d="M3602 2494l18-4-17-9-18 4z"/><path fill="#0f0" d="M3334 2446l18 0-17-9-18 1z"/><path fill="#0f1" d="M3637 2499l19-4-17-9-19 4zM3673 2505l18-5-17-9-18 4zM3708 2509l19-5-17-9-19 5z"/><path fill="#0f0" d="M3369 2455l19-1-17-9-19 1z"/><path fill="#0f1" d="M3744 2514l18-6-17-9-18 5z"/><path fill="#0f2" d="M3779 2518l19-6-17-9-19 5z"/><path fill="#0f3" d="M3992 2535l19-8-17-10-19 8z"/><path fill="#0f2" d="M3815 2522l18-6-17-10-18 6z"/><path fill="#0f3" d="M3957 2533l18-8-17-9-18 7z"/><path fill="#0f2" d="M3850 2525l19-7-17-9-19 7z"/><path fill="#0f3" d="M3921 2531l19-8-17-9-19 7z"/><path fill="#0f2" d="M3886 2528l18-7-17-9-18 6z"/><path fill="#0f0" d="M3405 2463l19-2-17-9-19 2zM3441 2470l18-1-17-9-18 1zM3477 2477l18-2-17-9-19 3zM3512 2484l19-2-17-9-19 2zM3279 2437l19 1-17-9-19 0zM3548 2491l18-3-17-9-18 3zM3583 2497l19-3-17-9-19 3zM3315 2446l19 0-17-8-19 0z"/><path fill="#0f1" d="M3619 2503l18-4-17-9-18 4zM3654 2509l19-4-17-10-19 4z"/><path fill="#0f0" d="M3351 2455l18 0-17-9-18 0z"/><path fill="#0f1" d="M3690 2514l18-5-17-9-18 5zM3726 2519l18-5-17-10-19 5zM3761 2523l18-5-17-10-18 6z"/><path fill="#0f0" d="M3386 2463l19 0-17-9-19 1z"/><path fill="#0f2" d="M3797 2527l18-5-17-10-19 6z"/><path fill="#0f3" d="M3974 2543l18-8-17-10-18 8z"/><path fill="#0f2" d="M3832 2531l18-6-17-9-18 6z"/><path fill="#0f3" d="M3938 2540l19-7-17-10-19 8z"/><path fill="#0f2" d="M3867 2535l19-7-17-10-19 7z"/><path fill="#0f3" d="M3903 2538l18-7-17-10-18 7z"/><path fill="#0f0" d="M3422 2471l19-1-17-9-19 2zM3458 2479l19-2-18-8-18 1zM3494 2486l18-2-17-9-18 2zM3529 2493l19-2-17-9-19 2zM3296 2446l19 0-17-8-19-1zM3565 2500l18-3-17-9-18 3zM3600 2506l19-3-17-9-19 3zM3332 2455l19 0-17-9-19 0z"/><path fill="#0f1" d="M3636 2512l18-3-17-10-18 4zM3672 2518l18-4-17-9-19 4zM3707 2523l19-4-18-10-18 5z"/><path fill="#0f0" d="M3368 2464l18-1-17-8-18 0z"/><path fill="#0f1" d="M3743 2528l18-5-17-9-18 5zM3778 2533l19-6-18-9-18 5z"/><path fill="#0f2" d="M3814 2537l18-6-17-9-18 5z"/><path fill="#0f3" d="M3956 2550l18-7-17-10-19 7z"/><path fill="#0f2" d="M3849 2541l18-6-17-10-18 6z"/><path fill="#0f3" d="M3920 2547l18-7-17-9-18 7z"/><path fill="#0f2" d="M3885 2544l18-6-17-10-19 7z"/><path fill="#0f0" d="M3404 2472l18-1-17-8-19 0zM3439 2480l19-1-17-9-19 1zM3475 2488l19-2-17-9-19 2zM3511 2495l18-2-17-9-18 2zM3546 2502l19-2-17-9-19 2zM3582 2509l18-3-17-9-18 3zM3313 2454l19 1-17-9-19 0zM3618 2515l18-3-17-9-19 3z"/><path fill="#0f1" d="M3653 2521l19-3-18-9-18 3z"/><path fill="#0f0" d="M3349 2464l19 0-17-9-19 0z"/><path fill="#0f1" d="M3689 2527l18-4-17-9-18 4zM3724 2532l19-4-17-9-19 4zM3760 2537l18-4-17-10-18 5z"/><path fill="#0f0" d="M3385 2472l19 0-18-9-18 1z"/><path fill="#0f1" d="M3795 2542l19-5-17-10-19 6z"/><path fill="#0f2" d="M3831 2546l18-5-17-10-18 6z"/><path fill="#0f3" d="M3937 2557l19-7-18-10-18 7z"/><path fill="#0f2" d="M3866 2550l19-6-18-9-18 6zM3902 2554l18-7-17-9-18 6z"/><path fill="#0f0" d="M3421 2481l18-1-17-9-18 1zM3456 2489l19-1-17-9-19 1zM3492 2497l19-2-17-9-19 2zM3528 2504l18-2-17-9-18 2zM3563 2511l19-2-17-9-19 2zM3599 2518l19-3-18-9-18 3zM3330 2463l19 1-17-9-19-1zM3635 2525l18-4-17-9-18 3z"/><path fill="#0f1" d="M3670 2531l19-4-17-9-19 3zM3706 2536l18-4-17-9-18 4z"/><path fill="#0f0" d="M3366 2472l19 0-17-8-19 0z"/><path fill="#0f1" d="M3741 2542l19-5-17-9-19 4zM3777 2547l18-5-17-9-18 4zM3812 2551l19-5-17-9-19 5z"/><path fill="#0f2" d="M3848 2556l18-6-17-9-18 5zM3919 2563l18-6-17-10-18 7zM3883 2560l19-6-17-10-19 6z"/><path fill="#0f0" d="M3402 2481l19 0-17-9-19 0zM3438 2490l18-1-17-9-18 1zM3473 2498l19-1-17-9-19 1zM3509 2506l19-2-17-9-19 2zM3545 2513l18-2-17-9-18 2zM3581 2520l18-2-17-9-19 2zM3616 2527l19-2-17-10-19 3zM3652 2534l18-3-17-10-18 4zM3347 2472l19 0-17-8-19-1z"/><path fill="#0f1" d="M3687 2540l19-4-17-9-19 4zM3723 2546l18-4-17-10-18 4zM3758 2551l19-4-17-10-19 5zM3794 2556l18-5-17-9-18 5z"/><path fill="#0f0" d="M3383 2481l19 0-17-9-19 0z"/><path fill="#0f1" d="M3829 2561l19-5-17-10-19 5z"/><path fill="#0f2" d="M3865 2565l18-5-17-10-18 6zM3900 2569l19-6-17-9-19 6z"/><path fill="#0f0" d="M3419 2490l19 0-17-9-19 0zM3455 2499l18-1-17-9-18 1zM3491 2507l18-1-17-9-19 1zM3526 2515l19-2-17-9-19 2zM3562 2522l19-2-18-9-18 2zM3598 2529l18-2-17-9-18 2zM3633 2536l19-2-17-9-19 2zM3669 2543l18-3-17-9-18 3z"/><path fill="#0f1" d="M3704 2549l19-3-17-10-19 4z"/><path fill="#0f0" d="M3364 2480l19 1-17-9-19 0z"/><path fill="#0f1" d="M3740 2555l18-4-17-9-18 4zM3775 2560l19-4-17-9-19 4zM3811 2565l18-4-17-10-18 5zM3846 2570l19-5-17-9-19 5z"/><path fill="#0f2" d="M3882 2575l18-6-17-9-18 5z"/><path fill="#0f0" d="M3400 2490l19 0-17-9-19 0zM3436 2499l19 0-17-9-19 0zM3472 2507l19 0-18-9-18 1zM3508 2516l18-1-17-9-18 1zM3543 2524l19-2-17-9-19 2zM3579 2531l19-2-17-9-19 2zM3615 2539l18-3-17-9-18 2zM3650 2545l19-2-17-9-19 2zM3686 2552l18-3-17-9-18 3zM3721 2558l19-3-17-9-19 3z"/><path fill="#0f1" d="M3757 2564l18-4-17-9-18 4zM3793 2570l18-5-17-9-19 4z"/><path fill="#0f0" d="M3381 2489l19 1-17-9-19-1z"/><path fill="#0f1" d="M3828 2575l18-5-17-9-18 4zM3864 2580l18-5-17-10-19 5z"/><path fill="#0f0" d="M3417 2498l19 1-17-9-19 0zM3453 2507l19 0-17-8-19 0zM3489 2516l19 0-17-9-19 0zM3525 2525l18-1-17-9-18 1zM3560 2533l19-2-17-9-19 2zM3596 2540l19-1-17-10-19 2zM3632 2548l18-3-17-9-18 3zM3667 2555l19-3-17-9-19 2zM3703 2561l18-3-17-9-18 3zM3739 2567l18-3-17-9-19 3z"/><path fill="#0f1" d="M3774 2573l19-3-18-10-18 4zM3810 2579l18-4-17-10-18 5zM3845 2584l19-4-18-10-18 5z"/><path fill="#0f0" d="M3399 2498l18 0-17-8-19-1zM3434 2507l19 0-17-8-19-1zM3470 2516l19 0-17-9-19 0zM3506 2525l19 0-17-9-19 0zM3542 2533l18 0-17-9-18 1zM3578 2542l18-2-17-9-19 2zM3613 2549l19-1-17-9-19 1zM3649 2557l18-2-17-10-18 3zM3684 2564l19-3-17-9-19 3zM3720 2570l19-3-18-9-18 3zM3756 2577l18-4-17-9-18 3z"/><path fill="#0f1" d="M3791 2583l19-4-17-9-19 3zM3827 2588l18-4-17-9-18 4z"/><path fill="#0f0" d="M3416 2506l18 1-17-9-18 0zM3452 2516l18 0-17-9-19 0zM3487 2525l19 0-17-9-19 0zM3523 2534l19-1-17-8-19 0zM3559 2542l19 0-18-9-18 0zM3595 2551l18-2-17-9-18 2zM3630 2558l19-1-17-9-19 1zM3666 2566l18-2-17-9-18 2zM3702 2573l18-3-17-9-19 3zM3737 2580l19-3-17-10-19 3zM3773 2586l18-3-17-10-18 4z"/><path fill="#0f1" d="M3808 2592l19-4-17-9-19 4z"/><path fill="#0f0" d="M3433 2515l19 1-18-9-18-1zM3469 2525l18 0-17-9-18 0zM3504 2534l19 0-17-9-19 0zM3540 2543l19-1-17-9-19 1zM3576 2551l19 0-17-9-19 0zM3612 2560l18-2-17-9-18 2zM3647 2567l19-1-17-9-19 1zM3683 2575l19-2-18-9-18 2zM3719 2582l18-2-17-10-18 3zM3754 2589l19-3-17-9-19 3zM3790 2595l18-3-17-9-18 3zM3450 2524l19 1-17-9-19-1zM3486 2533l18 1-17-9-18 0zM3522 2543l18 0-17-9-19 0zM3557 2552l19-1-17-9-19 1zM3593 2560l19 0-17-9-19 0zM3629 2569l18-2-17-9-18 2zM3665 2576l18-1-17-9-19 1zM3700 2584l19-2-17-9-19 2zM3736 2591l18-2-17-9-18 2zM3771 2598l19-3-17-9-19 3zM3467 2532l19 1-17-8-19-1zM3503 2542l19 1-18-9-18-1zM3539 2551l18 1-17-9-18 0zM3574 2560l19 0-17-9-19 1zM3610 2569l19 0-17-9-19 0zM3646 2578l19-2-18-9-18 2zM3682 2586l18-2-17-9-18 1zM3717 2593l19-2-17-9-19 2zM3753 2600l18-2-17-9-18 2zM3484 2541l19 1-17-9-19-1zM3520 2551l19 0-17-8-19-1zM3556 2560l18 0-17-8-18-1zM3592 2569l18 0-17-9-19 0zM3627 2578l19 0-17-9-19 0zM3663 2587l19-1-17-10-19 2zM3699 2595l18-2-17-9-18 2zM3734 2602l19-2-17-9-19 2zM3501 2550l19 1-17-9-19-1zM3537 2560l19 0-17-9-19 0zM3573 2569l19 0-18-9-18 0zM3609 2578l18 0-17-9-18 0zM3644 2587l19 0-17-9-19 0zM3680 2596l19-1-17-9-19 1zM3716 2604l18-2-17-9-18 2zM3518 2558l19 2-17-9-19-1zM3554 2568l19 1-17-9-19 0zM3590 2578l19 0-17-9-19 0zM3626 2587l18 0-17-9-18 0zM3662 2596l18 0-17-9-19 0zM3697 2605l19-1-17-9-19 1zM3535 2567l19 1-17-8-19-2zM3571 2577l19 1-17-9-19-1zM3607 2587l19 0-17-9-19 0zM3643 2596l19 0-18-9-18 0zM3679 2605l18 0-17-9-18 0zM3552 2576l19 1-17-9-19-1zM3588 2586l19 1-17-9-19-1zM3624 2596l19 0-17-9-19 0zM3660 2605l19 0-17-9-19 0zM3570 2585l18 1-17-9-19-1zM3606 2595l18 1-17-9-19-1zM3641 2605l19 0-17-9-19 0zM3587 2594l19 1-18-9-18-1zM3623 2604l18 1-17-9-18-1zM3604 2602l19 2-17-9-19-1z"/></g>
<text class="t" x="290.9" y="262.5" text-anchor="end">0.5</text>
<text class="t" x="289.6" y="246.2" text-anchor="end">1.1</text>
<text class="t" x="288.3" y="229.8" text-anchor="end">1.8</text>
<text class="t" x="287" y="213.5" text-anchor="end">2.4</text>
<text class="t" x="285.7" y="197.1" text-anchor="end">3.0</text>
<text class="t" x="292.8" y="291" text-anchor="end">289</text>
<text class="t" x="308.8" y="302.3" text-anchor="end">280</text>
<text class="t" x="324.8" y="313.6" text-anchor="end">272</text>
<text class="t" x="340.8" y="324.9" text-anchor="end">263</text>
<text class="t" x="356.8" y="336.2" text-anchor="end">255</text>
<text class="t" x="364.8" y="336.2">1000</text>
<text class="t" x="382.2" y="325.7">1625</text>
<text class="t" x="399.6" y="315.2">2250</text>
<text class="t" x="417" y="304.8">2875</text>
<text class="t" x="434.4" y="294.3">3500</text>
<text class="ti" x="303.2" y="323.1" font-size="13" text-anchor="middle" transform="rotate(15 303.2 320.1)">σ</text>
<text class="ti" x="426.2" y="323.4" font-size="12" text-anchor="middle" font-style="italic" transform="rotate(-45 426.7 320.4)">f</text>
<text class="ti" x="365.3" y="178.5" font-size="11" text-anchor="middle">(e)</text>
</g>
</svg>
</body></html>
